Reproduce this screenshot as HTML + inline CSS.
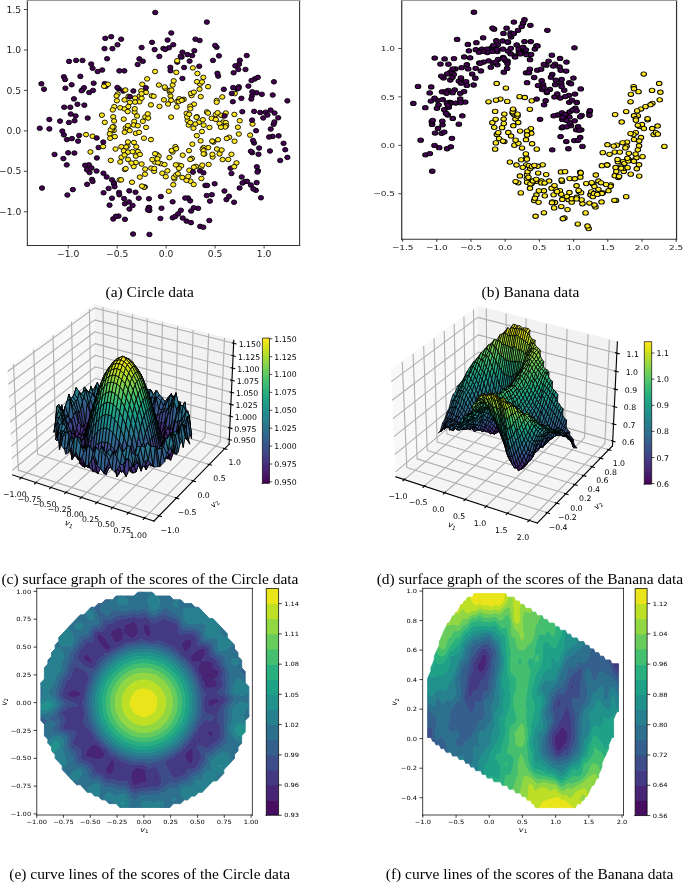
<!DOCTYPE html><html><head><meta charset="utf-8"><style>
html,body{margin:0;padding:0;background:#fff;width:685px;height:882px;overflow:hidden}
.cap{position:absolute;font-family:"Liberation Serif",serif;font-size:15.45px;color:#000;white-space:nowrap;line-height:15.45px}
</style></head><body><div style="position:relative;width:685px;height:882px;filter:blur(0.45px)">
<svg viewBox="0 0 223.85 194.4" preserveAspectRatio="none" style="position:absolute;left:0px;top:0px;width:342px;height:270px;overflow:visible">
<defs>
<style type="text/css">*{stroke-linejoin: round; stroke-linecap: butt}</style>
</defs>
<g id="a_figure_1">
<g id="a_patch_1">
<path d="M0 194.4l223.8 0 0-194.4-223.8 0 0 194.4z" style="fill: none; opacity: 0"/>
</g>
<g id="a_axes_1">
<g id="a_patch_2">
<path d="M17.9 176.7l178.2 0 0-176.3-178.2 0 0 176.3z" style="fill: none"/>
</g>
<g stroke="#000" stroke-width="0.6">
<ellipse cx="78.7" cy="77.6" rx="1.73" ry="1.65" fill="#fde725"/>
<ellipse cx="110.6" cy="34.4" rx="1.73" ry="1.65" fill="#440154"/>
<ellipse cx="82.2" cy="92.2" rx="1.73" ry="1.65" fill="#fde725"/>
<ellipse cx="73.3" cy="129.5" rx="1.73" ry="1.65" fill="#440154"/>
<ellipse cx="60.6" cy="49.1" rx="1.73" ry="1.65" fill="#440154"/>
<ellipse cx="82.5" cy="110.0" rx="1.73" ry="1.65" fill="#fde725"/>
<ellipse cx="81.0" cy="85.8" rx="1.73" ry="1.65" fill="#fde725"/>
<ellipse cx="49.5" cy="83.5" rx="1.73" ry="1.65" fill="#440154"/>
<ellipse cx="93.5" cy="44.1" rx="1.73" ry="1.65" fill="#440154"/>
<ellipse cx="113.4" cy="133.0" rx="1.73" ry="1.65" fill="#fde725"/>
<ellipse cx="172.3" cy="84.9" rx="1.73" ry="1.65" fill="#440154"/>
<ellipse cx="131.0" cy="163.0" rx="1.73" ry="1.65" fill="#440154"/>
<ellipse cx="100.9" cy="123.3" rx="1.73" ry="1.65" fill="#fde725"/>
<ellipse cx="63.9" cy="51.5" rx="1.73" ry="1.65" fill="#440154"/>
<ellipse cx="95.6" cy="91.7" rx="1.73" ry="1.65" fill="#fde725"/>
<ellipse cx="83.5" cy="105.2" rx="1.73" ry="1.65" fill="#fde725"/>
<ellipse cx="139.7" cy="102.3" rx="1.73" ry="1.65" fill="#fde725"/>
<ellipse cx="156.0" cy="50.0" rx="1.73" ry="1.65" fill="#440154"/>
<ellipse cx="122.1" cy="81.6" rx="1.73" ry="1.65" fill="#fde725"/>
<ellipse cx="102.6" cy="111.1" rx="1.73" ry="1.65" fill="#fde725"/>
<ellipse cx="136.3" cy="106.3" rx="1.73" ry="1.65" fill="#fde725"/>
<ellipse cx="150.0" cy="98.8" rx="1.73" ry="1.65" fill="#fde725"/>
<ellipse cx="117.4" cy="71.1" rx="1.73" ry="1.65" fill="#fde725"/>
<ellipse cx="91.3" cy="73.3" rx="1.73" ry="1.65" fill="#fde725"/>
<ellipse cx="81.4" cy="51.0" rx="1.73" ry="1.65" fill="#440154"/>
<ellipse cx="123.5" cy="90.0" rx="1.73" ry="1.65" fill="#fde725"/>
<ellipse cx="125.9" cy="103.8" rx="1.73" ry="1.65" fill="#fde725"/>
<ellipse cx="148.2" cy="143.7" rx="1.73" ry="1.65" fill="#440154"/>
<ellipse cx="54.0" cy="43.5" rx="1.73" ry="1.65" fill="#440154"/>
<ellipse cx="84.1" cy="69.4" rx="1.73" ry="1.65" fill="#fde725"/>
<ellipse cx="136.6" cy="118.4" rx="1.73" ry="1.65" fill="#fde725"/>
<ellipse cx="77.0" cy="67.7" rx="1.73" ry="1.65" fill="#fde725"/>
<ellipse cx="128.2" cy="119.8" rx="1.73" ry="1.65" fill="#fde725"/>
<ellipse cx="86.8" cy="147.9" rx="1.73" ry="1.65" fill="#440154"/>
<ellipse cx="170.3" cy="81.0" rx="1.73" ry="1.65" fill="#440154"/>
<ellipse cx="88.1" cy="80.7" rx="1.73" ry="1.65" fill="#fde725"/>
<ellipse cx="72.5" cy="115.5" rx="1.73" ry="1.65" fill="#fde725"/>
<ellipse cx="106.9" cy="34.9" rx="1.73" ry="1.65" fill="#440154"/>
<ellipse cx="138.7" cy="140.2" rx="1.73" ry="1.65" fill="#440154"/>
<ellipse cx="109.7" cy="28.8" rx="1.73" ry="1.65" fill="#440154"/>
<ellipse cx="90.3" cy="109.1" rx="1.73" ry="1.65" fill="#fde725"/>
<ellipse cx="41.8" cy="55.3" rx="1.73" ry="1.65" fill="#440154"/>
<ellipse cx="128.8" cy="97.7" rx="1.73" ry="1.65" fill="#fde725"/>
<ellipse cx="97.8" cy="168.8" rx="1.73" ry="1.65" fill="#440154"/>
<ellipse cx="146.5" cy="64.3" rx="1.73" ry="1.65" fill="#440154"/>
<ellipse cx="101.2" cy="35.7" rx="1.73" ry="1.65" fill="#440154"/>
<ellipse cx="179.1" cy="89.5" rx="1.73" ry="1.65" fill="#440154"/>
<ellipse cx="178.5" cy="68.4" rx="1.73" ry="1.65" fill="#440154"/>
<ellipse cx="86.4" cy="131.2" rx="1.73" ry="1.65" fill="#fde725"/>
<ellipse cx="155.2" cy="64.0" rx="1.73" ry="1.65" fill="#440154"/>
<ellipse cx="68.9" cy="27.6" rx="1.73" ry="1.65" fill="#440154"/>
<ellipse cx="81.7" cy="146.7" rx="1.73" ry="1.65" fill="#440154"/>
<ellipse cx="43.8" cy="100.5" rx="1.73" ry="1.65" fill="#440154"/>
<ellipse cx="83.8" cy="114.8" rx="1.73" ry="1.65" fill="#fde725"/>
<ellipse cx="113.0" cy="156.8" rx="1.73" ry="1.65" fill="#440154"/>
<ellipse cx="112.1" cy="23.7" rx="1.73" ry="1.65" fill="#440154"/>
<ellipse cx="58.6" cy="124.2" rx="1.73" ry="1.65" fill="#440154"/>
<ellipse cx="158.0" cy="70.8" rx="1.73" ry="1.65" fill="#440154"/>
<ellipse cx="125.1" cy="151.9" rx="1.73" ry="1.65" fill="#440154"/>
<ellipse cx="72.8" cy="26.4" rx="1.73" ry="1.65" fill="#440154"/>
<ellipse cx="133.2" cy="106.3" rx="1.73" ry="1.65" fill="#fde725"/>
<ellipse cx="126.6" cy="92.3" rx="1.73" ry="1.65" fill="#fde725"/>
<ellipse cx="95.6" cy="66.5" rx="1.73" ry="1.65" fill="#fde725"/>
<ellipse cx="131.7" cy="120.3" rx="1.73" ry="1.65" fill="#fde725"/>
<ellipse cx="68.4" cy="35.0" rx="1.73" ry="1.65" fill="#440154"/>
<ellipse cx="143.3" cy="40.2" rx="1.73" ry="1.65" fill="#440154"/>
<ellipse cx="126.9" cy="120.4" rx="1.73" ry="1.65" fill="#fde725"/>
<ellipse cx="122.7" cy="39.3" rx="1.73" ry="1.65" fill="#440154"/>
<ellipse cx="183.4" cy="115.5" rx="1.73" ry="1.65" fill="#440154"/>
<ellipse cx="82.5" cy="105.8" rx="1.73" ry="1.65" fill="#fde725"/>
<ellipse cx="95.1" cy="84.2" rx="1.73" ry="1.65" fill="#fde725"/>
<ellipse cx="98.8" cy="75.5" rx="1.73" ry="1.65" fill="#fde725"/>
<ellipse cx="127.0" cy="75.0" rx="1.73" ry="1.65" fill="#fde725"/>
<ellipse cx="129.2" cy="52.9" rx="1.73" ry="1.65" fill="#fde725"/>
<ellipse cx="108.2" cy="63.6" rx="1.73" ry="1.65" fill="#fde725"/>
<ellipse cx="130.9" cy="60.5" rx="1.73" ry="1.65" fill="#fde725"/>
<ellipse cx="131.4" cy="69.6" rx="1.73" ry="1.65" fill="#fde725"/>
<ellipse cx="91.2" cy="42.4" rx="1.73" ry="1.65" fill="#440154"/>
<ellipse cx="114.2" cy="128.8" rx="1.73" ry="1.65" fill="#fde725"/>
<ellipse cx="132.4" cy="118.9" rx="1.73" ry="1.65" fill="#fde725"/>
<ellipse cx="27.5" cy="135.4" rx="1.73" ry="1.65" fill="#440154"/>
<ellipse cx="73.6" cy="35.0" rx="1.73" ry="1.65" fill="#440154"/>
<ellipse cx="130.2" cy="88.0" rx="1.73" ry="1.65" fill="#fde725"/>
<ellipse cx="97.8" cy="151.5" rx="1.73" ry="1.65" fill="#440154"/>
<ellipse cx="113.0" cy="61.2" rx="1.73" ry="1.65" fill="#fde725"/>
<ellipse cx="70.1" cy="42.3" rx="1.73" ry="1.65" fill="#440154"/>
<ellipse cx="97.3" cy="149.4" rx="1.73" ry="1.65" fill="#440154"/>
<ellipse cx="98.8" cy="100.5" rx="1.73" ry="1.65" fill="#fde725"/>
<ellipse cx="111.6" cy="69.1" rx="1.73" ry="1.65" fill="#fde725"/>
<ellipse cx="113.7" cy="58.2" rx="1.73" ry="1.65" fill="#fde725"/>
<ellipse cx="74.5" cy="93.9" rx="1.73" ry="1.65" fill="#fde725"/>
<ellipse cx="151.5" cy="111.1" rx="1.73" ry="1.65" fill="#fde725"/>
<ellipse cx="76.5" cy="72.5" rx="1.73" ry="1.65" fill="#fde725"/>
<ellipse cx="104.0" cy="61.2" rx="1.73" ry="1.65" fill="#fde725"/>
<ellipse cx="88.9" cy="112.4" rx="1.73" ry="1.65" fill="#fde725"/>
<ellipse cx="87.9" cy="87.4" rx="1.73" ry="1.65" fill="#fde725"/>
<ellipse cx="77.7" cy="63.9" rx="1.73" ry="1.65" fill="#440154"/>
<ellipse cx="111.5" cy="48.5" rx="1.73" ry="1.65" fill="#440154"/>
<ellipse cx="124.7" cy="130.5" rx="1.73" ry="1.65" fill="#fde725"/>
<ellipse cx="173.8" cy="80.8" rx="1.73" ry="1.65" fill="#440154"/>
<ellipse cx="182.4" cy="97.8" rx="1.73" ry="1.65" fill="#440154"/>
<ellipse cx="109.6" cy="123.0" rx="1.73" ry="1.65" fill="#fde725"/>
<ellipse cx="152.6" cy="63.1" rx="1.73" ry="1.65" fill="#440154"/>
<ellipse cx="96.3" cy="56.8" rx="1.73" ry="1.65" fill="#fde725"/>
<ellipse cx="91.4" cy="69.2" rx="1.73" ry="1.65" fill="#fde725"/>
<ellipse cx="135.4" cy="15.9" rx="1.73" ry="1.65" fill="#440154"/>
<ellipse cx="125.4" cy="68.8" rx="1.73" ry="1.65" fill="#fde725"/>
<ellipse cx="160.5" cy="130.7" rx="1.73" ry="1.65" fill="#440154"/>
<ellipse cx="88.4" cy="70.6" rx="1.73" ry="1.65" fill="#fde725"/>
<ellipse cx="64.5" cy="106.2" rx="1.73" ry="1.65" fill="#440154"/>
<ellipse cx="35.7" cy="111.2" rx="1.73" ry="1.65" fill="#440154"/>
<ellipse cx="99.0" cy="121.1" rx="1.73" ry="1.65" fill="#fde725"/>
<ellipse cx="99.3" cy="69.0" rx="1.73" ry="1.65" fill="#fde725"/>
<ellipse cx="168.0" cy="66.8" rx="1.73" ry="1.65" fill="#440154"/>
<ellipse cx="145.7" cy="114.9" rx="1.73" ry="1.65" fill="#fde725"/>
<ellipse cx="135.4" cy="80.6" rx="1.73" ry="1.65" fill="#fde725"/>
<ellipse cx="177.2" cy="92.9" rx="1.73" ry="1.65" fill="#440154"/>
<ellipse cx="158.2" cy="127.4" rx="1.73" ry="1.65" fill="#440154"/>
<ellipse cx="48.8" cy="86.9" rx="1.73" ry="1.65" fill="#440154"/>
<ellipse cx="142.8" cy="54.8" rx="1.73" ry="1.65" fill="#440154"/>
<ellipse cx="140.5" cy="132.3" rx="1.73" ry="1.65" fill="#440154"/>
<ellipse cx="87.1" cy="168.5" rx="1.73" ry="1.65" fill="#440154"/>
<ellipse cx="115.7" cy="77.0" rx="1.73" ry="1.65" fill="#fde725"/>
<ellipse cx="84.6" cy="137.4" rx="1.73" ry="1.65" fill="#440154"/>
<ellipse cx="169.6" cy="106.6" rx="1.73" ry="1.65" fill="#440154"/>
<ellipse cx="176.7" cy="108.7" rx="1.73" ry="1.65" fill="#440154"/>
<ellipse cx="78.3" cy="129.5" rx="1.73" ry="1.65" fill="#fde725"/>
<ellipse cx="135.3" cy="140.8" rx="1.73" ry="1.65" fill="#440154"/>
<ellipse cx="44.6" cy="110.0" rx="1.73" ry="1.65" fill="#440154"/>
<ellipse cx="100.6" cy="69.3" rx="1.73" ry="1.65" fill="#fde725"/>
<ellipse cx="152.4" cy="73.2" rx="1.73" ry="1.65" fill="#440154"/>
<ellipse cx="55.2" cy="75.7" rx="1.73" ry="1.65" fill="#440154"/>
<ellipse cx="149.4" cy="114.8" rx="1.73" ry="1.65" fill="#fde725"/>
<ellipse cx="141.9" cy="72.3" rx="1.73" ry="1.65" fill="#fde725"/>
<ellipse cx="32.3" cy="92.8" rx="1.73" ry="1.65" fill="#440154"/>
<ellipse cx="113.4" cy="32.2" rx="1.73" ry="1.65" fill="#440154"/>
<ellipse cx="122.1" cy="159.2" rx="1.73" ry="1.65" fill="#440154"/>
<ellipse cx="179.3" cy="58.9" rx="1.73" ry="1.65" fill="#440154"/>
<ellipse cx="165.0" cy="68.9" rx="1.73" ry="1.65" fill="#440154"/>
<ellipse cx="145.9" cy="83.4" rx="1.73" ry="1.65" fill="#fde725"/>
<ellipse cx="111.6" cy="50.9" rx="1.73" ry="1.65" fill="#440154"/>
<ellipse cx="133.1" cy="163.6" rx="1.73" ry="1.65" fill="#440154"/>
<ellipse cx="155.7" cy="91.6" rx="1.73" ry="1.65" fill="#fde725"/>
<ellipse cx="69.2" cy="62.1" rx="1.73" ry="1.65" fill="#440154"/>
<ellipse cx="163.7" cy="97.3" rx="1.73" ry="1.65" fill="#fde725"/>
<ellipse cx="136.2" cy="81.4" rx="1.73" ry="1.65" fill="#fde725"/>
<ellipse cx="166.8" cy="56.8" rx="1.73" ry="1.65" fill="#440154"/>
<ellipse cx="164.2" cy="133.2" rx="1.73" ry="1.65" fill="#440154"/>
<ellipse cx="146.0" cy="87.9" rx="1.73" ry="1.65" fill="#fde725"/>
<ellipse cx="105.2" cy="117.8" rx="1.73" ry="1.65" fill="#fde725"/>
<ellipse cx="179.7" cy="81.4" rx="1.73" ry="1.65" fill="#440154"/>
<ellipse cx="42.0" cy="77.2" rx="1.73" ry="1.65" fill="#440154"/>
<ellipse cx="142.3" cy="52.8" rx="1.73" ry="1.65" fill="#440154"/>
<ellipse cx="165.1" cy="66.1" rx="1.73" ry="1.65" fill="#440154"/>
<ellipse cx="143.7" cy="110.8" rx="1.73" ry="1.65" fill="#fde725"/>
<ellipse cx="97.0" cy="85.0" rx="1.73" ry="1.65" fill="#fde725"/>
<ellipse cx="175.1" cy="82.8" rx="1.73" ry="1.65" fill="#440154"/>
<ellipse cx="130.9" cy="123.0" rx="1.73" ry="1.65" fill="#440154"/>
<ellipse cx="67.5" cy="105.5" rx="1.73" ry="1.65" fill="#fde725"/>
<ellipse cx="119.4" cy="56.5" rx="1.73" ry="1.65" fill="#440154"/>
<ellipse cx="27.1" cy="60.3" rx="1.73" ry="1.65" fill="#440154"/>
<ellipse cx="116.0" cy="73.1" rx="1.73" ry="1.65" fill="#fde725"/>
<ellipse cx="92.7" cy="118.1" rx="1.73" ry="1.65" fill="#fde725"/>
<ellipse cx="156.5" cy="46.2" rx="1.73" ry="1.65" fill="#440154"/>
<ellipse cx="113.0" cy="109.5" rx="1.73" ry="1.65" fill="#fde725"/>
<ellipse cx="142.0" cy="107.3" rx="1.73" ry="1.65" fill="#fde725"/>
<ellipse cx="156.3" cy="62.5" rx="1.73" ry="1.65" fill="#440154"/>
<ellipse cx="171.4" cy="67.9" rx="1.73" ry="1.65" fill="#440154"/>
<ellipse cx="117.0" cy="118.9" rx="1.73" ry="1.65" fill="#fde725"/>
<ellipse cx="28.8" cy="64.2" rx="1.73" ry="1.65" fill="#440154"/>
<ellipse cx="168.8" cy="55.7" rx="1.73" ry="1.65" fill="#440154"/>
<ellipse cx="94.8" cy="134.6" rx="1.73" ry="1.65" fill="#440154"/>
<ellipse cx="114.8" cy="105.6" rx="1.73" ry="1.65" fill="#fde725"/>
<ellipse cx="58.4" cy="66.6" rx="1.73" ry="1.65" fill="#440154"/>
<ellipse cx="54.0" cy="64.6" rx="1.73" ry="1.65" fill="#440154"/>
<ellipse cx="77.6" cy="155.6" rx="1.73" ry="1.65" fill="#440154"/>
<ellipse cx="60.6" cy="98.1" rx="1.73" ry="1.65" fill="#fde725"/>
<ellipse cx="105.7" cy="149.9" rx="1.73" ry="1.65" fill="#440154"/>
<ellipse cx="60.2" cy="129.2" rx="1.73" ry="1.65" fill="#440154"/>
<ellipse cx="68.6" cy="88.1" rx="1.73" ry="1.65" fill="#fde725"/>
<ellipse cx="73.2" cy="93.6" rx="1.73" ry="1.65" fill="#fde725"/>
<ellipse cx="114.7" cy="155.8" rx="1.73" ry="1.65" fill="#440154"/>
<ellipse cx="88.9" cy="117.0" rx="1.73" ry="1.65" fill="#fde725"/>
<ellipse cx="122.8" cy="86.7" rx="1.73" ry="1.65" fill="#fde725"/>
<ellipse cx="126.8" cy="132.8" rx="1.73" ry="1.65" fill="#fde725"/>
<ellipse cx="63.2" cy="123.1" rx="1.73" ry="1.65" fill="#440154"/>
<ellipse cx="83.6" cy="92.5" rx="1.73" ry="1.65" fill="#fde725"/>
<ellipse cx="92.7" cy="34.2" rx="1.73" ry="1.65" fill="#440154"/>
<ellipse cx="153.2" cy="145.6" rx="1.73" ry="1.65" fill="#440154"/>
<ellipse cx="77.9" cy="138.6" rx="1.73" ry="1.65" fill="#440154"/>
<ellipse cx="148.4" cy="99.7" rx="1.73" ry="1.65" fill="#fde725"/>
<ellipse cx="72.4" cy="93.5" rx="1.73" ry="1.65" fill="#fde725"/>
<ellipse cx="81.0" cy="108.6" rx="1.73" ry="1.65" fill="#fde725"/>
<ellipse cx="124.5" cy="76.5" rx="1.73" ry="1.65" fill="#fde725"/>
<ellipse cx="42.8" cy="63.5" rx="1.73" ry="1.65" fill="#440154"/>
<ellipse cx="166.3" cy="102.9" rx="1.73" ry="1.65" fill="#440154"/>
<ellipse cx="56.9" cy="122.2" rx="1.73" ry="1.65" fill="#440154"/>
<ellipse cx="87.3" cy="65.5" rx="1.73" ry="1.65" fill="#440154"/>
<ellipse cx="59.9" cy="120.9" rx="1.73" ry="1.65" fill="#440154"/>
<ellipse cx="71.8" cy="96.4" rx="1.73" ry="1.65" fill="#fde725"/>
<ellipse cx="122.0" cy="129.8" rx="1.73" ry="1.65" fill="#fde725"/>
<ellipse cx="90.1" cy="46.4" rx="1.73" ry="1.65" fill="#440154"/>
<ellipse cx="168.1" cy="120.1" rx="1.73" ry="1.65" fill="#440154"/>
<ellipse cx="60.6" cy="130.6" rx="1.73" ry="1.65" fill="#440154"/>
<ellipse cx="74.6" cy="131.6" rx="1.73" ry="1.65" fill="#440154"/>
<ellipse cx="137.0" cy="158.8" rx="1.73" ry="1.65" fill="#440154"/>
<ellipse cx="186.7" cy="107.8" rx="1.73" ry="1.65" fill="#440154"/>
<ellipse cx="85.1" cy="69.6" rx="1.73" ry="1.65" fill="#440154"/>
<ellipse cx="132.6" cy="107.5" rx="1.73" ry="1.65" fill="#fde725"/>
<ellipse cx="74.1" cy="84.1" rx="1.73" ry="1.65" fill="#fde725"/>
<ellipse cx="132.8" cy="86.2" rx="1.73" ry="1.65" fill="#fde725"/>
<ellipse cx="46.0" cy="77.2" rx="1.73" ry="1.65" fill="#440154"/>
<ellipse cx="122.5" cy="84.2" rx="1.73" ry="1.65" fill="#fde725"/>
<ellipse cx="112.0" cy="72.2" rx="1.73" ry="1.65" fill="#fde725"/>
<ellipse cx="165.3" cy="89.3" rx="1.73" ry="1.65" fill="#fde725"/>
<ellipse cx="88.9" cy="96.0" rx="1.73" ry="1.65" fill="#fde725"/>
<ellipse cx="83.7" cy="102.2" rx="1.73" ry="1.65" fill="#fde725"/>
<ellipse cx="168.9" cy="123.0" rx="1.73" ry="1.65" fill="#440154"/>
<ellipse cx="81.6" cy="78.4" rx="1.73" ry="1.65" fill="#fde725"/>
<ellipse cx="151.5" cy="124.9" rx="1.73" ry="1.65" fill="#440154"/>
<ellipse cx="79.4" cy="105.6" rx="1.73" ry="1.65" fill="#fde725"/>
<ellipse cx="141.8" cy="73.6" rx="1.73" ry="1.65" fill="#fde725"/>
<ellipse cx="161.5" cy="40.0" rx="1.73" ry="1.65" fill="#440154"/>
<ellipse cx="124.5" cy="144.6" rx="1.73" ry="1.65" fill="#440154"/>
<ellipse cx="58.2" cy="118.7" rx="1.73" ry="1.65" fill="#440154"/>
<ellipse cx="74.7" cy="87.1" rx="1.73" ry="1.65" fill="#fde725"/>
<ellipse cx="167.6" cy="94.1" rx="1.73" ry="1.65" fill="#440154"/>
<ellipse cx="103.9" cy="112.4" rx="1.73" ry="1.65" fill="#fde725"/>
<ellipse cx="125.0" cy="67.2" rx="1.73" ry="1.65" fill="#fde725"/>
<ellipse cx="116.0" cy="44.7" rx="1.73" ry="1.65" fill="#440154"/>
<ellipse cx="48.4" cy="71.2" rx="1.73" ry="1.65" fill="#440154"/>
<ellipse cx="68.5" cy="60.2" rx="1.73" ry="1.65" fill="#440154"/>
<ellipse cx="123.9" cy="122.6" rx="1.73" ry="1.65" fill="#fde725"/>
<ellipse cx="164.5" cy="71.3" rx="1.73" ry="1.65" fill="#440154"/>
<ellipse cx="84.9" cy="94.0" rx="1.73" ry="1.65" fill="#fde725"/>
<ellipse cx="74.8" cy="76.8" rx="1.73" ry="1.65" fill="#fde725"/>
<ellipse cx="92.4" cy="65.4" rx="1.73" ry="1.65" fill="#fde725"/>
<ellipse cx="74.6" cy="132.5" rx="1.73" ry="1.65" fill="#440154"/>
<ellipse cx="69.8" cy="127.4" rx="1.73" ry="1.65" fill="#440154"/>
<ellipse cx="84.7" cy="150.5" rx="1.73" ry="1.65" fill="#440154"/>
<ellipse cx="79.3" cy="129.5" rx="1.73" ry="1.65" fill="#fde725"/>
<ellipse cx="97.7" cy="149.5" rx="1.73" ry="1.65" fill="#440154"/>
<ellipse cx="113.8" cy="127.8" rx="1.73" ry="1.65" fill="#fde725"/>
<ellipse cx="179.6" cy="87.8" rx="1.73" ry="1.65" fill="#440154"/>
<ellipse cx="83.8" cy="109.5" rx="1.73" ry="1.65" fill="#fde725"/>
<ellipse cx="80.7" cy="65.5" rx="1.73" ry="1.65" fill="#440154"/>
<ellipse cx="76.9" cy="32.2" rx="1.73" ry="1.65" fill="#440154"/>
<ellipse cx="141.8" cy="34.0" rx="1.73" ry="1.65" fill="#440154"/>
<ellipse cx="111.1" cy="66.2" rx="1.73" ry="1.65" fill="#fde725"/>
<ellipse cx="75.0" cy="134.4" rx="1.73" ry="1.65" fill="#440154"/>
<ellipse cx="133.8" cy="110.9" rx="1.73" ry="1.65" fill="#fde725"/>
<ellipse cx="126.9" cy="66.4" rx="1.73" ry="1.65" fill="#fde725"/>
<ellipse cx="139.2" cy="113.0" rx="1.73" ry="1.65" fill="#fde725"/>
<ellipse cx="125.0" cy="160.3" rx="1.73" ry="1.65" fill="#440154"/>
<ellipse cx="123.8" cy="82.3" rx="1.73" ry="1.65" fill="#fde725"/>
<ellipse cx="95.0" cy="121.7" rx="1.73" ry="1.65" fill="#fde725"/>
<ellipse cx="57.0" cy="132.7" rx="1.73" ry="1.65" fill="#440154"/>
<ellipse cx="59.2" cy="109.4" rx="1.73" ry="1.65" fill="#fde725"/>
<ellipse cx="44.1" cy="140.4" rx="1.73" ry="1.65" fill="#440154"/>
<ellipse cx="123.7" cy="108.5" rx="1.73" ry="1.65" fill="#fde725"/>
<ellipse cx="120.3" cy="71.5" rx="1.73" ry="1.65" fill="#fde725"/>
<ellipse cx="41.8" cy="97.1" rx="1.73" ry="1.65" fill="#440154"/>
<ellipse cx="83.6" cy="80.3" rx="1.73" ry="1.65" fill="#fde725"/>
<ellipse cx="52.6" cy="55.0" rx="1.73" ry="1.65" fill="#440154"/>
<ellipse cx="63.4" cy="113.7" rx="1.73" ry="1.65" fill="#440154"/>
<ellipse cx="178.5" cy="98.2" rx="1.73" ry="1.65" fill="#440154"/>
<ellipse cx="125.4" cy="114.2" rx="1.73" ry="1.65" fill="#fde725"/>
<ellipse cx="61.3" cy="59.9" rx="1.73" ry="1.65" fill="#440154"/>
<ellipse cx="87.5" cy="119.9" rx="1.73" ry="1.65" fill="#fde725"/>
<ellipse cx="26.0" cy="92.3" rx="1.73" ry="1.65" fill="#440154"/>
<ellipse cx="105.0" cy="157.3" rx="1.73" ry="1.65" fill="#440154"/>
<ellipse cx="129.7" cy="150.0" rx="1.73" ry="1.65" fill="#440154"/>
<ellipse cx="185.6" cy="103.2" rx="1.73" ry="1.65" fill="#440154"/>
<ellipse cx="127.8" cy="89.3" rx="1.73" ry="1.65" fill="#fde725"/>
<ellipse cx="133.1" cy="55.7" rx="1.73" ry="1.65" fill="#fde725"/>
<ellipse cx="91.0" cy="95.3" rx="1.73" ry="1.65" fill="#fde725"/>
<ellipse cx="87.7" cy="102.6" rx="1.73" ry="1.65" fill="#fde725"/>
<ellipse cx="56.3" cy="96.9" rx="1.73" ry="1.65" fill="#fde725"/>
<ellipse cx="143.7" cy="88.9" rx="1.73" ry="1.65" fill="#fde725"/>
<ellipse cx="46.3" cy="82.1" rx="1.73" ry="1.65" fill="#440154"/>
<ellipse cx="128.9" cy="58.8" rx="1.73" ry="1.65" fill="#fde725"/>
<ellipse cx="133.2" cy="124.4" rx="1.73" ry="1.65" fill="#440154"/>
<ellipse cx="91.6" cy="111.2" rx="1.73" ry="1.65" fill="#fde725"/>
<ellipse cx="156.8" cy="135.3" rx="1.73" ry="1.65" fill="#440154"/>
<ellipse cx="51.1" cy="101.6" rx="1.73" ry="1.65" fill="#440154"/>
<ellipse cx="94.9" cy="125.4" rx="1.73" ry="1.65" fill="#fde725"/>
<ellipse cx="111.2" cy="65.1" rx="1.73" ry="1.65" fill="#fde725"/>
<ellipse cx="106.2" cy="124.7" rx="1.73" ry="1.65" fill="#fde725"/>
<ellipse cx="79.5" cy="113.2" rx="1.73" ry="1.65" fill="#fde725"/>
<ellipse cx="107.3" cy="71.9" rx="1.73" ry="1.65" fill="#fde725"/>
<ellipse cx="85.0" cy="73.7" rx="1.73" ry="1.65" fill="#fde725"/>
<ellipse cx="107.8" cy="62.6" rx="1.73" ry="1.65" fill="#fde725"/>
<ellipse cx="78.7" cy="116.6" rx="1.73" ry="1.65" fill="#fde725"/>
<ellipse cx="82.1" cy="64.8" rx="1.73" ry="1.65" fill="#fde725"/>
<ellipse cx="50.7" cy="75.1" rx="1.73" ry="1.65" fill="#440154"/>
<ellipse cx="97.5" cy="143.1" rx="1.73" ry="1.65" fill="#440154"/>
<ellipse cx="112.2" cy="64.9" rx="1.73" ry="1.65" fill="#fde725"/>
<ellipse cx="115.3" cy="126.0" rx="1.73" ry="1.65" fill="#fde725"/>
<ellipse cx="145.1" cy="108.0" rx="1.73" ry="1.65" fill="#fde725"/>
<ellipse cx="133.2" cy="108.5" rx="1.73" ry="1.65" fill="#fde725"/>
<ellipse cx="101.5" cy="110.7" rx="1.73" ry="1.65" fill="#fde725"/>
<ellipse cx="168.0" cy="131.5" rx="1.73" ry="1.65" fill="#440154"/>
<ellipse cx="116.0" cy="43.7" rx="1.73" ry="1.65" fill="#fde725"/>
<ellipse cx="74.1" cy="157.6" rx="1.73" ry="1.65" fill="#440154"/>
<ellipse cx="48.7" cy="110.2" rx="1.73" ry="1.65" fill="#440154"/>
<ellipse cx="123.1" cy="142.6" rx="1.73" ry="1.65" fill="#440154"/>
<ellipse cx="153.4" cy="82.4" rx="1.73" ry="1.65" fill="#fde725"/>
<ellipse cx="165.1" cy="109.9" rx="1.73" ry="1.65" fill="#440154"/>
<ellipse cx="32.3" cy="86.0" rx="1.73" ry="1.65" fill="#440154"/>
<ellipse cx="39.3" cy="87.2" rx="1.73" ry="1.65" fill="#440154"/>
<ellipse cx="88.2" cy="78.3" rx="1.73" ry="1.65" fill="#fde725"/>
<ellipse cx="150.9" cy="121.1" rx="1.73" ry="1.65" fill="#440154"/>
<ellipse cx="81.5" cy="111.6" rx="1.73" ry="1.65" fill="#fde725"/>
<ellipse cx="86.8" cy="109.2" rx="1.73" ry="1.65" fill="#fde725"/>
<ellipse cx="45.1" cy="88.2" rx="1.73" ry="1.65" fill="#440154"/>
<ellipse cx="130.6" cy="64.2" rx="1.73" ry="1.65" fill="#fde725"/>
<ellipse cx="94.2" cy="99.5" rx="1.73" ry="1.65" fill="#fde725"/>
<ellipse cx="55.0" cy="63.2" rx="1.73" ry="1.65" fill="#440154"/>
<ellipse cx="87.5" cy="90.0" rx="1.73" ry="1.65" fill="#fde725"/>
<ellipse cx="92.7" cy="70.7" rx="1.73" ry="1.65" fill="#fde725"/>
<ellipse cx="41.5" cy="114.2" rx="1.73" ry="1.65" fill="#440154"/>
<ellipse cx="123.2" cy="127.0" rx="1.73" ry="1.65" fill="#fde725"/>
<ellipse cx="139.4" cy="43.5" rx="1.73" ry="1.65" fill="#440154"/>
<ellipse cx="125.5" cy="114.0" rx="1.73" ry="1.65" fill="#fde725"/>
<ellipse cx="99.5" cy="30.5" rx="1.73" ry="1.65" fill="#440154"/>
<ellipse cx="145.5" cy="69.8" rx="1.73" ry="1.65" fill="#fde725"/>
<ellipse cx="66.9" cy="50.4" rx="1.73" ry="1.65" fill="#440154"/>
<ellipse cx="169.2" cy="111.1" rx="1.73" ry="1.65" fill="#440154"/>
<ellipse cx="96.8" cy="151.1" rx="1.73" ry="1.65" fill="#440154"/>
<ellipse cx="75.2" cy="98.4" rx="1.73" ry="1.65" fill="#fde725"/>
<ellipse cx="78.1" cy="140.2" rx="1.73" ry="1.65" fill="#440154"/>
<ellipse cx="158.6" cy="80.4" rx="1.73" ry="1.65" fill="#440154"/>
<ellipse cx="157.0" cy="43.4" rx="1.73" ry="1.65" fill="#440154"/>
<ellipse cx="162.6" cy="62.0" rx="1.73" ry="1.65" fill="#440154"/>
<ellipse cx="88.7" cy="138.4" rx="1.73" ry="1.65" fill="#440154"/>
<ellipse cx="43.7" cy="118.7" rx="1.73" ry="1.65" fill="#440154"/>
<ellipse cx="101.3" cy="116.6" rx="1.73" ry="1.65" fill="#fde725"/>
<ellipse cx="70.7" cy="60.7" rx="1.73" ry="1.65" fill="#fde725"/>
<ellipse cx="167.5" cy="137.0" rx="1.73" ry="1.65" fill="#440154"/>
<ellipse cx="60.9" cy="65.1" rx="1.73" ry="1.65" fill="#440154"/>
<ellipse cx="127.9" cy="28.2" rx="1.73" ry="1.65" fill="#440154"/>
<ellipse cx="165.6" cy="101.1" rx="1.73" ry="1.65" fill="#440154"/>
<ellipse cx="142.7" cy="100.6" rx="1.73" ry="1.65" fill="#fde725"/>
<ellipse cx="72.1" cy="99.5" rx="1.73" ry="1.65" fill="#fde725"/>
<ellipse cx="75.8" cy="155.8" rx="1.73" ry="1.65" fill="#440154"/>
<ellipse cx="152.9" cy="52.4" rx="1.73" ry="1.65" fill="#440154"/>
<ellipse cx="133.3" cy="90.1" rx="1.73" ry="1.65" fill="#fde725"/>
<ellipse cx="99.7" cy="114.9" rx="1.73" ry="1.65" fill="#fde725"/>
<ellipse cx="126.3" cy="123.9" rx="1.73" ry="1.65" fill="#440154"/>
<ellipse cx="119.3" cy="71.9" rx="1.73" ry="1.65" fill="#fde725"/>
<ellipse cx="139.1" cy="101.7" rx="1.73" ry="1.65" fill="#fde725"/>
<ellipse cx="86.0" cy="117.4" rx="1.73" ry="1.65" fill="#fde725"/>
<ellipse cx="166.3" cy="80.2" rx="1.73" ry="1.65" fill="#440154"/>
<ellipse cx="138.9" cy="101.6" rx="1.73" ry="1.65" fill="#fde725"/>
<ellipse cx="103.4" cy="117.1" rx="1.73" ry="1.65" fill="#fde725"/>
<ellipse cx="42.6" cy="57.2" rx="1.73" ry="1.65" fill="#440154"/>
<ellipse cx="165.8" cy="136.0" rx="1.73" ry="1.65" fill="#440154"/>
<ellipse cx="110.5" cy="137.7" rx="1.73" ry="1.65" fill="#fde725"/>
<ellipse cx="149.9" cy="141.3" rx="1.73" ry="1.65" fill="#440154"/>
<ellipse cx="81.8" cy="157.9" rx="1.73" ry="1.65" fill="#440154"/>
<ellipse cx="49.8" cy="43.5" rx="1.73" ry="1.65" fill="#440154"/>
<ellipse cx="136.2" cy="62.4" rx="1.73" ry="1.65" fill="#fde725"/>
<ellipse cx="158.7" cy="131.7" rx="1.73" ry="1.65" fill="#440154"/>
<ellipse cx="108.1" cy="35.6" rx="1.73" ry="1.65" fill="#440154"/>
<ellipse cx="118.9" cy="41.1" rx="1.73" ry="1.65" fill="#440154"/>
<ellipse cx="164.6" cy="58.0" rx="1.73" ry="1.65" fill="#440154"/>
<ellipse cx="147.8" cy="81.4" rx="1.73" ry="1.65" fill="#fde725"/>
<ellipse cx="84.0" cy="76.7" rx="1.73" ry="1.65" fill="#fde725"/>
<ellipse cx="137.4" cy="144.8" rx="1.73" ry="1.65" fill="#440154"/>
<ellipse cx="116.5" cy="125.1" rx="1.73" ry="1.65" fill="#fde725"/>
<ellipse cx="160.7" cy="50.0" rx="1.73" ry="1.65" fill="#440154"/>
<ellipse cx="112.3" cy="108.4" rx="1.73" ry="1.65" fill="#fde725"/>
<ellipse cx="168.5" cy="123.8" rx="1.73" ry="1.65" fill="#440154"/>
<ellipse cx="141.2" cy="82.4" rx="1.73" ry="1.65" fill="#fde725"/>
<ellipse cx="132.2" cy="59.0" rx="1.73" ry="1.65" fill="#fde725"/>
<ellipse cx="90.8" cy="142.7" rx="1.73" ry="1.65" fill="#440154"/>
<ellipse cx="119.6" cy="111.7" rx="1.73" ry="1.65" fill="#fde725"/>
<ellipse cx="47.1" cy="99.8" rx="1.73" ry="1.65" fill="#440154"/>
<ellipse cx="125.8" cy="40.0" rx="1.73" ry="1.65" fill="#440154"/>
<ellipse cx="63.3" cy="99.3" rx="1.73" ry="1.65" fill="#440154"/>
<ellipse cx="67.6" cy="102.3" rx="1.73" ry="1.65" fill="#440154"/>
<ellipse cx="131.8" cy="128.5" rx="1.73" ry="1.65" fill="#fde725"/>
<ellipse cx="177.1" cy="79.3" rx="1.73" ry="1.65" fill="#440154"/>
<ellipse cx="92.7" cy="67.5" rx="1.73" ry="1.65" fill="#fde725"/>
<ellipse cx="115.3" cy="107.1" rx="1.73" ry="1.65" fill="#fde725"/>
<ellipse cx="101.6" cy="9.0" rx="1.73" ry="1.65" fill="#440154"/>
<ellipse cx="117.0" cy="73.2" rx="1.73" ry="1.65" fill="#fde725"/>
<ellipse cx="165.0" cy="86.5" rx="1.73" ry="1.65" fill="#440154"/>
<ellipse cx="67.8" cy="138.8" rx="1.73" ry="1.65" fill="#440154"/>
<ellipse cx="154.0" cy="47.4" rx="1.73" ry="1.65" fill="#440154"/>
<ellipse cx="90.2" cy="90.5" rx="1.73" ry="1.65" fill="#fde725"/>
<ellipse cx="131.3" cy="101.4" rx="1.73" ry="1.65" fill="#fde725"/>
<ellipse cx="93.5" cy="87.3" rx="1.73" ry="1.65" fill="#fde725"/>
<ellipse cx="146.9" cy="137.5" rx="1.73" ry="1.65" fill="#440154"/>
<ellipse cx="147.8" cy="88.3" rx="1.73" ry="1.65" fill="#fde725"/>
<ellipse cx="118.6" cy="119.4" rx="1.73" ry="1.65" fill="#fde725"/>
<ellipse cx="94.2" cy="134.8" rx="1.73" ry="1.65" fill="#fde725"/>
<ellipse cx="83.8" cy="90.4" rx="1.73" ry="1.65" fill="#fde725"/>
<ellipse cx="164.2" cy="108.9" rx="1.73" ry="1.65" fill="#440154"/>
<ellipse cx="134.4" cy="133.5" rx="1.73" ry="1.65" fill="#440154"/>
<ellipse cx="161.7" cy="130.6" rx="1.73" ry="1.65" fill="#440154"/>
<ellipse cx="124.6" cy="88.2" rx="1.73" ry="1.65" fill="#fde725"/>
<ellipse cx="117.1" cy="121.2" rx="1.73" ry="1.65" fill="#fde725"/>
<ellipse cx="132.2" cy="94.7" rx="1.73" ry="1.65" fill="#fde725"/>
<ellipse cx="154.8" cy="117.3" rx="1.73" ry="1.65" fill="#fde725"/>
<ellipse cx="156.3" cy="96.5" rx="1.73" ry="1.65" fill="#fde725"/>
<ellipse cx="118.9" cy="72.2" rx="1.73" ry="1.65" fill="#fde725"/>
<ellipse cx="74.4" cy="91.3" rx="1.73" ry="1.65" fill="#fde725"/>
<ellipse cx="153.7" cy="67.4" rx="1.73" ry="1.65" fill="#fde725"/>
<ellipse cx="116.6" cy="154.0" rx="1.73" ry="1.65" fill="#440154"/>
<ellipse cx="73.3" cy="142.7" rx="1.73" ry="1.65" fill="#440154"/>
<ellipse cx="120.5" cy="48.6" rx="1.73" ry="1.65" fill="#440154"/>
<ellipse cx="170.8" cy="142.4" rx="1.73" ry="1.65" fill="#440154"/>
<ellipse cx="81.7" cy="122.0" rx="1.73" ry="1.65" fill="#fde725"/>
<ellipse cx="118.4" cy="151.4" rx="1.73" ry="1.65" fill="#440154"/>
<ellipse cx="104.4" cy="76.6" rx="1.73" ry="1.65" fill="#fde725"/>
<ellipse cx="153.5" cy="101.7" rx="1.73" ry="1.65" fill="#fde725"/>
<ellipse cx="57.4" cy="85.0" rx="1.73" ry="1.65" fill="#440154"/>
<ellipse cx="130.7" cy="29.1" rx="1.73" ry="1.65" fill="#440154"/>
<ellipse cx="89.2" cy="105.7" rx="1.73" ry="1.65" fill="#fde725"/>
<ellipse cx="188.1" cy="72.6" rx="1.73" ry="1.65" fill="#440154"/>
<ellipse cx="108.5" cy="127.2" rx="1.73" ry="1.65" fill="#fde725"/>
<ellipse cx="139.0" cy="111.1" rx="1.73" ry="1.65" fill="#fde725"/>
<ellipse cx="124.1" cy="44.0" rx="1.73" ry="1.65" fill="#440154"/>
<ellipse cx="110.9" cy="113.5" rx="1.73" ry="1.65" fill="#fde725"/>
<ellipse cx="76.8" cy="63.0" rx="1.73" ry="1.65" fill="#440154"/>
<ellipse cx="121.2" cy="142.6" rx="1.73" ry="1.65" fill="#440154"/>
<ellipse cx="130.4" cy="47.7" rx="1.73" ry="1.65" fill="#440154"/>
<ellipse cx="128.9" cy="84.1" rx="1.73" ry="1.65" fill="#fde725"/>
<ellipse cx="101.0" cy="121.3" rx="1.73" ry="1.65" fill="#fde725"/>
<ellipse cx="73.7" cy="91.4" rx="1.73" ry="1.65" fill="#fde725"/>
<ellipse cx="59.7" cy="46.1" rx="1.73" ry="1.65" fill="#440154"/>
<ellipse cx="96.7" cy="82.0" rx="1.73" ry="1.65" fill="#fde725"/>
<ellipse cx="133.2" cy="110.8" rx="1.73" ry="1.65" fill="#fde725"/>
<ellipse cx="127.2" cy="36.5" rx="1.73" ry="1.65" fill="#440154"/>
<ellipse cx="81.5" cy="71.9" rx="1.73" ry="1.65" fill="#fde725"/>
<ellipse cx="144.8" cy="83.0" rx="1.73" ry="1.65" fill="#fde725"/>
<ellipse cx="176.1" cy="98.6" rx="1.73" ry="1.65" fill="#440154"/>
<ellipse cx="151.7" cy="67.3" rx="1.73" ry="1.65" fill="#440154"/>
<ellipse cx="110.0" cy="74.9" rx="1.73" ry="1.65" fill="#fde725"/>
<ellipse cx="78.1" cy="51.0" rx="1.73" ry="1.65" fill="#440154"/>
<ellipse cx="75.6" cy="107.3" rx="1.73" ry="1.65" fill="#fde725"/>
<ellipse cx="138.5" cy="85.2" rx="1.73" ry="1.65" fill="#fde725"/>
<ellipse cx="84.4" cy="145.4" rx="1.73" ry="1.65" fill="#440154"/>
<ellipse cx="93.1" cy="60.7" rx="1.73" ry="1.65" fill="#fde725"/>
<ellipse cx="137.1" cy="91.8" rx="1.73" ry="1.65" fill="#fde725"/>
<ellipse cx="55.7" cy="119.0" rx="1.73" ry="1.65" fill="#440154"/>
<ellipse cx="124.6" cy="78.3" rx="1.73" ry="1.65" fill="#fde725"/>
<ellipse cx="148.1" cy="90.5" rx="1.73" ry="1.65" fill="#fde725"/>
<ellipse cx="112.0" cy="84.3" rx="1.73" ry="1.65" fill="#fde725"/>
<ellipse cx="182.1" cy="84.8" rx="1.73" ry="1.65" fill="#440154"/>
<ellipse cx="119.4" cy="37.6" rx="1.73" ry="1.65" fill="#440154"/>
<ellipse cx="66.7" cy="82.9" rx="1.73" ry="1.65" fill="#fde725"/>
<ellipse cx="140.8" cy="32.7" rx="1.73" ry="1.65" fill="#440154"/>
<ellipse cx="153.3" cy="120.0" rx="1.73" ry="1.65" fill="#fde725"/>
<ellipse cx="71.7" cy="147.7" rx="1.73" ry="1.65" fill="#440154"/>
<ellipse cx="91.5" cy="127.5" rx="1.73" ry="1.65" fill="#fde725"/>
<ellipse cx="126.8" cy="149.6" rx="1.73" ry="1.65" fill="#440154"/>
<ellipse cx="142.4" cy="81.2" rx="1.73" ry="1.65" fill="#fde725"/>
<ellipse cx="105.3" cy="141.5" rx="1.73" ry="1.65" fill="#440154"/>
<ellipse cx="81.2" cy="143.0" rx="1.73" ry="1.65" fill="#440154"/>
<ellipse cx="104.3" cy="40.6" rx="1.73" ry="1.65" fill="#440154"/>
<ellipse cx="118.2" cy="40.6" rx="1.73" ry="1.65" fill="#440154"/>
<ellipse cx="89.7" cy="83.5" rx="1.73" ry="1.65" fill="#fde725"/>
<ellipse cx="188.1" cy="113.3" rx="1.73" ry="1.65" fill="#440154"/>
<ellipse cx="141.3" cy="86.0" rx="1.73" ry="1.65" fill="#fde725"/>
<ellipse cx="156.2" cy="63.5" rx="1.73" ry="1.65" fill="#440154"/>
<ellipse cx="101.5" cy="51.5" rx="1.73" ry="1.65" fill="#fde725"/>
<ellipse cx="115.1" cy="118.7" rx="1.73" ry="1.65" fill="#fde725"/>
<ellipse cx="71.1" cy="135.7" rx="1.73" ry="1.65" fill="#440154"/>
<ellipse cx="128.6" cy="84.4" rx="1.73" ry="1.65" fill="#fde725"/>
<ellipse cx="107.7" cy="118.5" rx="1.73" ry="1.65" fill="#fde725"/>
<ellipse cx="113.0" cy="145.3" rx="1.73" ry="1.65" fill="#440154"/>
<ellipse cx="82.3" cy="121.4" rx="1.73" ry="1.65" fill="#fde725"/>
<ellipse cx="126.2" cy="48.9" rx="1.73" ry="1.65" fill="#fde725"/>
<ellipse cx="103.0" cy="114.3" rx="1.73" ry="1.65" fill="#fde725"/>
<ellipse cx="76.3" cy="69.1" rx="1.73" ry="1.65" fill="#fde725"/>
<ellipse cx="147.4" cy="91.4" rx="1.73" ry="1.65" fill="#fde725"/>
<ellipse cx="115.4" cy="52.1" rx="1.73" ry="1.65" fill="#fde725"/>
<ellipse cx="47.7" cy="136.5" rx="1.73" ry="1.65" fill="#440154"/>
<ellipse cx="51.8" cy="97.5" rx="1.73" ry="1.65" fill="#440154"/>
<ellipse cx="67.7" cy="124.7" rx="1.73" ry="1.65" fill="#440154"/>
<ellipse cx="73.8" cy="79.1" rx="1.73" ry="1.65" fill="#fde725"/>
<ellipse cx="46.9" cy="61.0" rx="1.73" ry="1.65" fill="#440154"/>
<ellipse cx="81.6" cy="95.2" rx="1.73" ry="1.65" fill="#fde725"/>
<ellipse cx="95.5" cy="63.2" rx="1.73" ry="1.65" fill="#440154"/>
<ellipse cx="119.3" cy="127.8" rx="1.73" ry="1.65" fill="#fde725"/>
<ellipse cx="88.4" cy="73.5" rx="1.73" ry="1.65" fill="#fde725"/>
<ellipse cx="135.6" cy="133.5" rx="1.73" ry="1.65" fill="#440154"/>
<ellipse cx="124.5" cy="114.8" rx="1.73" ry="1.65" fill="#fde725"/>
<ellipse cx="40.8" cy="94.4" rx="1.73" ry="1.65" fill="#440154"/>
<ellipse cx="156.9" cy="86.9" rx="1.73" ry="1.65" fill="#fde725"/>
<ellipse cx="147.0" cy="83.4" rx="1.73" ry="1.65" fill="#440154"/>
<ellipse cx="119.6" cy="157.0" rx="1.73" ry="1.65" fill="#440154"/>
<ellipse cx="79.3" cy="28.2" rx="1.73" ry="1.65" fill="#440154"/>
<ellipse cx="53.4" cy="65.3" rx="1.73" ry="1.65" fill="#440154"/>
<ellipse cx="144.6" cy="91.6" rx="1.73" ry="1.65" fill="#fde725"/>
<ellipse cx="68.1" cy="62.1" rx="1.73" ry="1.65" fill="#fde725"/>
<ellipse cx="92.9" cy="134.0" rx="1.73" ry="1.65" fill="#fde725"/>
<ellipse cx="45.2" cy="44.2" rx="1.73" ry="1.65" fill="#440154"/>
</g>
<g id="a_matplotlib.axis_1">
<g id="a_xtick_1">
<g id="a_line2d_1">
<defs>
<path id="a_mfd354b9443" d="M0 0l0 2.2" style="stroke: #333333; stroke-width: 0.6"/>
</defs>
<g>
<use href="#a_mfd354b9443" x="44.64" y="176.69" style="fill: #333333; stroke: #333333; stroke-width: 0.6"/>
</g>
</g>
<g id="a_text_1">
<text style="font-size: 6px; font-family: 'DejaVu Sans', sans-serif; text-anchor: middle; fill: #222222" x="44.64" y="185.25" transform="rotate(-0 44.64 185.25)">−1.0</text>
</g>
</g>
<g id="a_xtick_2">
<g id="a_line2d_2">
<g>
<use href="#a_mfd354b9443" x="76.7" y="176.69" style="fill: #333333; stroke: #333333; stroke-width: 0.6"/>
</g>
</g>
<g id="a_text_2">
<text style="font-size: 6px; font-family: 'DejaVu Sans', sans-serif; text-anchor: middle; fill: #222222" x="76.7" y="185.25" transform="rotate(-0 76.7 185.25)">−0.5</text>
</g>
</g>
<g id="a_xtick_3">
<g id="a_line2d_3">
<g>
<use href="#a_mfd354b9443" x="108.75" y="176.69" style="fill: #333333; stroke: #333333; stroke-width: 0.6"/>
</g>
</g>
<g id="a_text_3">
<text style="font-size: 6px; font-family: 'DejaVu Sans', sans-serif; text-anchor: middle; fill: #222222" x="108.75" y="185.25" transform="rotate(-0 108.75 185.25)">0.0</text>
</g>
</g>
<g id="a_xtick_4">
<g id="a_line2d_4">
<g>
<use href="#a_mfd354b9443" x="140.81" y="176.69" style="fill: #333333; stroke: #333333; stroke-width: 0.6"/>
</g>
</g>
<g id="a_text_4">
<text style="font-size: 6px; font-family: 'DejaVu Sans', sans-serif; text-anchor: middle; fill: #222222" x="140.81" y="185.25" transform="rotate(-0 140.81 185.25)">0.5</text>
</g>
</g>
<g id="a_xtick_5">
<g id="a_line2d_5">
<g>
<use href="#a_mfd354b9443" x="172.87" y="176.69" style="fill: #333333; stroke: #333333; stroke-width: 0.6"/>
</g>
</g>
<g id="a_text_5">
<text style="font-size: 6px; font-family: 'DejaVu Sans', sans-serif; text-anchor: middle; fill: #222222" x="172.87" y="185.25" transform="rotate(-0 172.87 185.25)">1.0</text>
</g>
</g>
</g>
<g id="a_matplotlib.axis_2">
<g id="a_ytick_1">
<g id="a_line2d_6">
<defs>
<path id="a_m7d58d86fbe" d="M0 0l-2.2 0" style="stroke: #333333; stroke-width: 0.6"/>
</defs>
<g>
<use href="#a_m7d58d86fbe" x="17.87" y="152.5" style="fill: #333333; stroke: #333333; stroke-width: 0.6"/>
</g>
</g>
<g id="a_text_6">
<text style="font-size: 6px; font-family: 'DejaVu Sans', sans-serif; text-anchor: end; fill: #222222" x="13.87" y="154.78" transform="rotate(-0 13.87 154.78)">−1.0</text>
</g>
</g>
<g id="a_ytick_2">
<g id="a_line2d_7">
<g>
<use href="#a_m7d58d86fbe" x="17.87" y="123.36" style="fill: #333333; stroke: #333333; stroke-width: 0.6"/>
</g>
</g>
<g id="a_text_7">
<text style="font-size: 6px; font-family: 'DejaVu Sans', sans-serif; text-anchor: end; fill: #222222" x="13.87" y="125.64" transform="rotate(-0 13.87 125.64)">−0.5</text>
</g>
</g>
<g id="a_ytick_3">
<g id="a_line2d_8">
<g>
<use href="#a_m7d58d86fbe" x="17.87" y="94.23" style="fill: #333333; stroke: #333333; stroke-width: 0.6"/>
</g>
</g>
<g id="a_text_8">
<text style="font-size: 6px; font-family: 'DejaVu Sans', sans-serif; text-anchor: end; fill: #222222" x="13.87" y="96.51" transform="rotate(-0 13.87 96.51)">0.0</text>
</g>
</g>
<g id="a_ytick_4">
<g id="a_line2d_9">
<g>
<use href="#a_m7d58d86fbe" x="17.87" y="65.1" style="fill: #333333; stroke: #333333; stroke-width: 0.6"/>
</g>
</g>
<g id="a_text_9">
<text style="font-size: 6px; font-family: 'DejaVu Sans', sans-serif; text-anchor: end; fill: #222222" x="13.87" y="67.38" transform="rotate(-0 13.87 67.38)">0.5</text>
</g>
</g>
<g id="a_ytick_5">
<g id="a_line2d_10">
<g>
<use href="#a_m7d58d86fbe" x="17.87" y="35.97" style="fill: #333333; stroke: #333333; stroke-width: 0.6"/>
</g>
</g>
<g id="a_text_10">
<text style="font-size: 6px; font-family: 'DejaVu Sans', sans-serif; text-anchor: end; fill: #222222" x="13.87" y="38.25" transform="rotate(-0 13.87 38.25)">1.0</text>
</g>
</g>
<g id="a_ytick_6">
<g id="a_line2d_11">
<g>
<use href="#a_m7d58d86fbe" x="17.87" y="6.84" style="fill: #333333; stroke: #333333; stroke-width: 0.6"/>
</g>
</g>
<g id="a_text_11">
<text style="font-size: 6px; font-family: 'DejaVu Sans', sans-serif; text-anchor: end; fill: #222222" x="13.87" y="9.12" transform="rotate(-0 13.87 9.12)">1.5</text>
</g>
</g>
</g>
<g id="a_patch_3">
<path d="M17.9 176.7l0-176.3" style="fill: none; stroke: #333333; stroke-width: 0.7; stroke-linejoin: miter; stroke-linecap: square"/>
</g>
<g id="a_patch_4">
<path d="M196.1 176.7l0-176.3" style="fill: none; stroke: #333333; stroke-width: 0.7; stroke-linejoin: miter; stroke-linecap: square"/>
</g>
<g id="a_patch_5">
<path d="M17.9 176.7l178.2 0" style="fill: none; stroke: #333333; stroke-width: 0.7; stroke-linejoin: miter; stroke-linecap: square"/>
</g>
<g id="a_patch_6">
<path d="M17.9.4l178.2 0" style="fill: none; stroke: #999999; stroke-width: 0.7; stroke-linejoin: miter; stroke-linecap: square"/>
</g>
</g>
</g>
</svg>
<svg viewBox="0 0 197.57 194.4" preserveAspectRatio="none" style="position:absolute;left:342px;top:0px;width:343px;height:270px;overflow:visible">
<defs>
<style type="text/css">*{stroke-linejoin: round; stroke-linecap: butt}</style>
</defs>
<g id="b_figure_1">
<g id="b_patch_1">
<path d="M0 194.4l197.6 0 0-194.4-197.6 0 0 194.4z" style="fill: none; opacity: 0"/>
</g>
<g id="b_axes_1">
<g id="b_patch_2">
<path d="M34.4 172.2l158.3 0 0-171.8-158.3 0 0 171.8z" style="fill: none"/>
</g>
<g stroke="#000" stroke-width="0.6">
<circle cx="126.7" cy="130.6" r="1.6" fill="#fde725"/>
<circle cx="129.3" cy="44.7" r="1.6" fill="#440154"/>
<circle cx="136.5" cy="137.9" r="1.6" fill="#fde725"/>
<circle cx="86.1" cy="34.4" r="1.6" fill="#440154"/>
<circle cx="108.5" cy="18.2" r="1.6" fill="#440154"/>
<circle cx="144.3" cy="140.2" r="1.6" fill="#fde725"/>
<circle cx="137.3" cy="127.6" r="1.6" fill="#fde725"/>
<circle cx="97.2" cy="23.7" r="1.6" fill="#440154"/>
<circle cx="115.8" cy="60.9" r="1.6" fill="#440154"/>
<circle cx="162.3" cy="123.4" r="1.6" fill="#fde725"/>
<circle cx="133.8" cy="101.2" r="1.6" fill="#440154"/>
<circle cx="71.0" cy="73.5" r="1.6" fill="#440154"/>
<circle cx="157.8" cy="144.3" r="1.6" fill="#fde725"/>
<circle cx="106.0" cy="52.4" r="1.6" fill="#440154"/>
<circle cx="143.2" cy="139.9" r="1.6" fill="#fde725"/>
<circle cx="143.2" cy="140.4" r="1.6" fill="#fde725"/>
<circle cx="172.2" cy="78.5" r="1.6" fill="#fde725"/>
<circle cx="130.9" cy="73.7" r="1.6" fill="#440154"/>
<circle cx="116.8" cy="141.0" r="1.6" fill="#fde725"/>
<circle cx="159.1" cy="127.8" r="1.6" fill="#fde725"/>
<circle cx="170.4" cy="83.4" r="1.6" fill="#fde725"/>
<circle cx="178.8" cy="74.4" r="1.6" fill="#fde725"/>
<circle cx="87.7" cy="91.7" r="1.6" fill="#fde725"/>
<circle cx="131.1" cy="128.6" r="1.6" fill="#fde725"/>
<circle cx="112.9" cy="61.6" r="1.6" fill="#440154"/>
<circle cx="166.4" cy="67.9" r="1.6" fill="#fde725"/>
<circle cx="163.7" cy="80.3" r="1.6" fill="#fde725"/>
<circle cx="61.4" cy="73.7" r="1.6" fill="#440154"/>
<circle cx="104.3" cy="16.7" r="1.6" fill="#440154"/>
<circle cx="109.1" cy="130.7" r="1.6" fill="#fde725"/>
<circle cx="172.2" cy="99.0" r="1.6" fill="#fde725"/>
<circle cx="106.5" cy="128.6" r="1.6" fill="#fde725"/>
<circle cx="173.1" cy="112.8" r="1.6" fill="#fde725"/>
<circle cx="71.9" cy="46.6" r="1.6" fill="#440154"/>
<circle cx="131.9" cy="90.5" r="1.6" fill="#440154"/>
<circle cx="110.7" cy="144.4" r="1.6" fill="#fde725"/>
<circle cx="140.7" cy="132.2" r="1.6" fill="#fde725"/>
<circle cx="125.3" cy="48.2" r="1.6" fill="#440154"/>
<circle cx="57.6" cy="66.1" r="1.6" fill="#440154"/>
<circle cx="122.7" cy="46.2" r="1.6" fill="#440154"/>
<circle cx="146.0" cy="149.0" r="1.6" fill="#fde725"/>
<circle cx="95.4" cy="44.0" r="1.6" fill="#440154"/>
<circle cx="166.2" cy="73.3" r="1.6" fill="#fde725"/>
<circle cx="62.5" cy="73.8" r="1.6" fill="#440154"/>
<circle cx="126.6" cy="92.0" r="1.6" fill="#440154"/>
<circle cx="125.6" cy="42.1" r="1.6" fill="#440154"/>
<circle cx="137.2" cy="99.0" r="1.6" fill="#440154"/>
<circle cx="138.0" cy="83.1" r="1.6" fill="#440154"/>
<circle cx="149.5" cy="145.4" r="1.6" fill="#fde725"/>
<circle cx="126.9" cy="86.0" r="1.6" fill="#440154"/>
<circle cx="103.1" cy="37.6" r="1.6" fill="#440154"/>
<circle cx="56.7" cy="46.1" r="1.6" fill="#440154"/>
<circle cx="89.8" cy="32.1" r="1.6" fill="#440154"/>
<circle cx="147.7" cy="130.3" r="1.6" fill="#fde725"/>
<circle cx="61.2" cy="65.1" r="1.6" fill="#440154"/>
<circle cx="119.0" cy="44.0" r="1.6" fill="#440154"/>
<circle cx="84.7" cy="35.7" r="1.6" fill="#440154"/>
<circle cx="127.2" cy="91.4" r="1.6" fill="#440154"/>
<circle cx="55.0" cy="72.2" r="1.6" fill="#440154"/>
<circle cx="108.7" cy="29.9" r="1.6" fill="#440154"/>
<circle cx="168.2" cy="83.3" r="1.6" fill="#fde725"/>
<circle cx="86.6" cy="88.3" r="1.6" fill="#fde725"/>
<circle cx="106.6" cy="125.8" r="1.6" fill="#fde725"/>
<circle cx="168.2" cy="100.5" r="1.6" fill="#fde725"/>
<circle cx="106.4" cy="38.9" r="1.6" fill="#440154"/>
<circle cx="128.0" cy="64.9" r="1.6" fill="#440154"/>
<circle cx="170.4" cy="107.9" r="1.6" fill="#fde725"/>
<circle cx="119.7" cy="64.4" r="1.6" fill="#440154"/>
<circle cx="63.3" cy="99.6" r="1.6" fill="#440154"/>
<circle cx="143.6" cy="138.1" r="1.6" fill="#fde725"/>
<circle cx="130.5" cy="143.8" r="1.6" fill="#fde725"/>
<circle cx="124.1" cy="137.3" r="1.6" fill="#fde725"/>
<circle cx="92.2" cy="91.9" r="1.6" fill="#fde725"/>
<circle cx="100.9" cy="83.5" r="1.6" fill="#fde725"/>
<circle cx="109.1" cy="119.9" r="1.6" fill="#fde725"/>
<circle cx="112.2" cy="107.4" r="1.6" fill="#fde725"/>
<circle cx="91.2" cy="71.3" r="1.6" fill="#fde725"/>
<circle cx="115.0" cy="58.1" r="1.6" fill="#440154"/>
<circle cx="161.9" cy="116.3" r="1.6" fill="#fde725"/>
<circle cx="171.2" cy="101.5" r="1.6" fill="#fde725"/>
<circle cx="59.1" cy="42.4" r="1.6" fill="#440154"/>
<circle cx="111.1" cy="35.3" r="1.6" fill="#440154"/>
<circle cx="168.0" cy="62.3" r="1.6" fill="#fde725"/>
<circle cx="80.0" cy="51.1" r="1.6" fill="#440154"/>
<circle cx="115.6" cy="118.7" r="1.6" fill="#fde725"/>
<circle cx="112.0" cy="33.0" r="1.6" fill="#440154"/>
<circle cx="68.9" cy="48.7" r="1.6" fill="#440154"/>
<circle cx="157.1" cy="109.5" r="1.6" fill="#fde725"/>
<circle cx="106.9" cy="123.7" r="1.6" fill="#fde725"/>
<circle cx="84.4" cy="73.3" r="1.6" fill="#fde725"/>
<circle cx="135.1" cy="133.7" r="1.6" fill="#fde725"/>
<circle cx="181.8" cy="90.7" r="1.6" fill="#fde725"/>
<circle cx="126.1" cy="123.8" r="1.6" fill="#fde725"/>
<circle cx="112.7" cy="119.7" r="1.6" fill="#fde725"/>
<circle cx="150.2" cy="109.9" r="1.6" fill="#fde725"/>
<circle cx="122.2" cy="149.7" r="1.6" fill="#fde725"/>
<circle cx="115.3" cy="64.5" r="1.6" fill="#440154"/>
<circle cx="130.9" cy="59.5" r="1.6" fill="#440154"/>
<circle cx="171.2" cy="126.8" r="1.6" fill="#fde725"/>
<circle cx="136.0" cy="101.0" r="1.6" fill="#440154"/>
<circle cx="60.5" cy="107.1" r="1.6" fill="#440154"/>
<circle cx="162.7" cy="121.2" r="1.6" fill="#fde725"/>
<circle cx="124.2" cy="82.8" r="1.6" fill="#440154"/>
<circle cx="106.2" cy="113.8" r="1.6" fill="#fde725"/>
<circle cx="111.9" cy="130.5" r="1.6" fill="#fde725"/>
<circle cx="133.9" cy="34.4" r="1.6" fill="#440154"/>
<circle cx="106.5" cy="114.6" r="1.6" fill="#fde725"/>
<circle cx="53.6" cy="95.8" r="1.6" fill="#440154"/>
<circle cx="109.2" cy="132.1" r="1.6" fill="#fde725"/>
<circle cx="101.9" cy="37.2" r="1.6" fill="#440154"/>
<circle cx="80.6" cy="35.3" r="1.6" fill="#440154"/>
<circle cx="157.1" cy="126.5" r="1.6" fill="#fde725"/>
<circle cx="119.3" cy="130.3" r="1.6" fill="#fde725"/>
<circle cx="136.0" cy="91.1" r="1.6" fill="#440154"/>
<circle cx="179.5" cy="96.9" r="1.6" fill="#fde725"/>
<circle cx="99.3" cy="104.5" r="1.6" fill="#fde725"/>
<circle cx="57.4" cy="96.0" r="1.6" fill="#440154"/>
<circle cx="48.1" cy="111.5" r="1.6" fill="#440154"/>
<circle cx="99.5" cy="40.3" r="1.6" fill="#440154"/>
<circle cx="129.5" cy="82.9" r="1.6" fill="#440154"/>
<circle cx="48.0" cy="77.5" r="1.6" fill="#440154"/>
<circle cx="68.1" cy="71.2" r="1.6" fill="#440154"/>
<circle cx="116.3" cy="137.3" r="1.6" fill="#fde725"/>
<circle cx="95.3" cy="45.8" r="1.6" fill="#440154"/>
<circle cx="58.0" cy="71.7" r="1.6" fill="#440154"/>
<circle cx="64.9" cy="64.7" r="1.6" fill="#440154"/>
<circle cx="144.5" cy="141.6" r="1.6" fill="#fde725"/>
<circle cx="62.4" cy="57.6" r="1.6" fill="#440154"/>
<circle cx="93.2" cy="52.0" r="1.6" fill="#440154"/>
<circle cx="114.9" cy="130.3" r="1.6" fill="#fde725"/>
<circle cx="129.2" cy="101.9" r="1.6" fill="#440154"/>
<circle cx="104.4" cy="34.1" r="1.6" fill="#440154"/>
<circle cx="180.8" cy="95.5" r="1.6" fill="#fde725"/>
<circle cx="98.7" cy="79.3" r="1.6" fill="#fde725"/>
<circle cx="76.0" cy="8.8" r="1.6" fill="#440154"/>
<circle cx="121.1" cy="53.5" r="1.6" fill="#440154"/>
<circle cx="68.1" cy="67.2" r="1.6" fill="#440154"/>
<circle cx="142.5" cy="81.0" r="1.6" fill="#440154"/>
<circle cx="131.2" cy="88.3" r="1.6" fill="#440154"/>
<circle cx="99.2" cy="82.7" r="1.6" fill="#fde725"/>
<circle cx="125.7" cy="70.6" r="1.6" fill="#440154"/>
<circle cx="55.3" cy="92.5" r="1.6" fill="#440154"/>
<circle cx="183.4" cy="66.4" r="1.6" fill="#fde725"/>
<circle cx="112.5" cy="50.5" r="1.6" fill="#440154"/>
<circle cx="108.2" cy="78.7" r="1.6" fill="#fde725"/>
<circle cx="93.5" cy="82.1" r="1.6" fill="#fde725"/>
<circle cx="134.4" cy="77.9" r="1.6" fill="#440154"/>
<circle cx="60.9" cy="82.8" r="1.6" fill="#440154"/>
<circle cx="98.3" cy="81.4" r="1.6" fill="#fde725"/>
<circle cx="160.7" cy="120.1" r="1.6" fill="#fde725"/>
<circle cx="137.8" cy="93.5" r="1.6" fill="#440154"/>
<circle cx="95.6" cy="30.4" r="1.6" fill="#440154"/>
<circle cx="131.1" cy="80.6" r="1.6" fill="#440154"/>
<circle cx="131.0" cy="84.3" r="1.6" fill="#440154"/>
<circle cx="178.7" cy="92.5" r="1.6" fill="#fde725"/>
<circle cx="135.2" cy="142.0" r="1.6" fill="#fde725"/>
<circle cx="134.9" cy="93.5" r="1.6" fill="#440154"/>
<circle cx="43.8" cy="62.2" r="1.6" fill="#440154"/>
<circle cx="137.2" cy="124.0" r="1.6" fill="#fde725"/>
<circle cx="126.7" cy="81.2" r="1.6" fill="#440154"/>
<circle cx="87.6" cy="21.0" r="1.6" fill="#440154"/>
<circle cx="114.8" cy="131.7" r="1.6" fill="#fde725"/>
<circle cx="152.8" cy="118.8" r="1.6" fill="#fde725"/>
<circle cx="130.7" cy="68.6" r="1.6" fill="#440154"/>
<circle cx="164.2" cy="102.3" r="1.6" fill="#fde725"/>
<circle cx="176.1" cy="86.3" r="1.6" fill="#fde725"/>
<circle cx="129.2" cy="86.6" r="1.6" fill="#440154"/>
<circle cx="132.9" cy="79.2" r="1.6" fill="#440154"/>
<circle cx="163.9" cy="105.3" r="1.6" fill="#fde725"/>
<circle cx="88.9" cy="29.3" r="1.6" fill="#440154"/>
<circle cx="142.5" cy="83.0" r="1.6" fill="#440154"/>
<circle cx="97.1" cy="38.7" r="1.6" fill="#440154"/>
<circle cx="157.3" cy="82.5" r="1.6" fill="#fde725"/>
<circle cx="105.1" cy="14.2" r="1.6" fill="#440154"/>
<circle cx="103.5" cy="19.1" r="1.6" fill="#440154"/>
<circle cx="63.6" cy="55.7" r="1.6" fill="#440154"/>
<circle cx="122.7" cy="145.8" r="1.6" fill="#fde725"/>
<circle cx="72.7" cy="49.6" r="1.6" fill="#440154"/>
<circle cx="89.5" cy="46.7" r="1.6" fill="#440154"/>
<circle cx="125.5" cy="137.2" r="1.6" fill="#fde725"/>
<circle cx="137.5" cy="124.5" r="1.6" fill="#fde725"/>
<circle cx="59.7" cy="65.9" r="1.6" fill="#440154"/>
<circle cx="150.2" cy="138.8" r="1.6" fill="#fde725"/>
<circle cx="88.6" cy="102.9" r="1.6" fill="#fde725"/>
<circle cx="169.8" cy="121.5" r="1.6" fill="#fde725"/>
<circle cx="94.1" cy="43.6" r="1.6" fill="#440154"/>
<circle cx="132.3" cy="145.6" r="1.6" fill="#fde725"/>
<circle cx="114.7" cy="49.8" r="1.6" fill="#440154"/>
<circle cx="65.5" cy="74.2" r="1.6" fill="#440154"/>
<circle cx="73.1" cy="36.6" r="1.6" fill="#440154"/>
<circle cx="177.7" cy="75.4" r="1.6" fill="#fde725"/>
<circle cx="131.0" cy="138.6" r="1.6" fill="#fde725"/>
<circle cx="144.7" cy="132.6" r="1.6" fill="#fde725"/>
<circle cx="88.5" cy="85.9" r="1.6" fill="#fde725"/>
<circle cx="97.4" cy="26.7" r="1.6" fill="#440154"/>
<circle cx="50.6" cy="110.6" r="1.6" fill="#440154"/>
<circle cx="86.6" cy="37.0" r="1.6" fill="#440154"/>
<circle cx="123.2" cy="57.7" r="1.6" fill="#440154"/>
<circle cx="81.3" cy="27.2" r="1.6" fill="#440154"/>
<circle cx="126.3" cy="148.7" r="1.6" fill="#fde725"/>
<circle cx="164.5" cy="114.0" r="1.6" fill="#fde725"/>
<circle cx="121.7" cy="47.6" r="1.6" fill="#440154"/>
<circle cx="52.0" cy="123.3" r="1.6" fill="#440154"/>
<circle cx="66.3" cy="28.4" r="1.6" fill="#440154"/>
<circle cx="77.4" cy="30.7" r="1.6" fill="#440154"/>
<circle cx="68.3" cy="73.9" r="1.6" fill="#440154"/>
<circle cx="70.3" cy="65.9" r="1.6" fill="#440154"/>
<circle cx="114.1" cy="85.9" r="1.6" fill="#440154"/>
<circle cx="169.3" cy="85.5" r="1.6" fill="#fde725"/>
<circle cx="121.9" cy="140.3" r="1.6" fill="#fde725"/>
<circle cx="89.1" cy="60.1" r="1.6" fill="#fde725"/>
<circle cx="97.1" cy="25.1" r="1.6" fill="#440154"/>
<circle cx="112.0" cy="140.4" r="1.6" fill="#fde725"/>
<circle cx="96.7" cy="116.7" r="1.6" fill="#fde725"/>
<circle cx="109.3" cy="72.6" r="1.6" fill="#fde725"/>
<circle cx="128.1" cy="156.9" r="1.6" fill="#fde725"/>
<circle cx="146.2" cy="126.0" r="1.6" fill="#fde725"/>
<circle cx="61.5" cy="77.3" r="1.6" fill="#440154"/>
<circle cx="122.9" cy="136.3" r="1.6" fill="#fde725"/>
<circle cx="45.3" cy="100.9" r="1.6" fill="#440154"/>
<circle cx="138.5" cy="146.7" r="1.6" fill="#fde725"/>
<circle cx="99.9" cy="85.7" r="1.6" fill="#fde725"/>
<circle cx="137.5" cy="64.0" r="1.6" fill="#440154"/>
<circle cx="64.4" cy="53.5" r="1.6" fill="#440154"/>
<circle cx="92.8" cy="41.3" r="1.6" fill="#440154"/>
<circle cx="126.3" cy="139.9" r="1.6" fill="#fde725"/>
<circle cx="51.9" cy="89.6" r="1.6" fill="#440154"/>
<circle cx="158.3" cy="104.5" r="1.6" fill="#fde725"/>
<circle cx="95.8" cy="95.4" r="1.6" fill="#fde725"/>
<circle cx="124.0" cy="67.6" r="1.6" fill="#440154"/>
<circle cx="100.6" cy="32.4" r="1.6" fill="#440154"/>
<circle cx="110.7" cy="55.8" r="1.6" fill="#440154"/>
<circle cx="171.1" cy="118.6" r="1.6" fill="#fde725"/>
<circle cx="128.6" cy="82.4" r="1.6" fill="#440154"/>
<circle cx="129.9" cy="150.9" r="1.6" fill="#fde725"/>
<circle cx="113.4" cy="137.4" r="1.6" fill="#fde725"/>
<circle cx="117.6" cy="125.7" r="1.6" fill="#fde725"/>
<circle cx="83.5" cy="35.3" r="1.6" fill="#440154"/>
<circle cx="89.5" cy="37.1" r="1.6" fill="#440154"/>
<circle cx="65.3" cy="49.6" r="1.6" fill="#440154"/>
<circle cx="142.1" cy="164.6" r="1.6" fill="#fde725"/>
<circle cx="63.8" cy="50.3" r="1.6" fill="#440154"/>
<circle cx="162.7" cy="117.6" r="1.6" fill="#fde725"/>
<circle cx="138.5" cy="105.4" r="1.6" fill="#440154"/>
<circle cx="140.3" cy="153.3" r="1.6" fill="#fde725"/>
<circle cx="120.9" cy="39.7" r="1.6" fill="#440154"/>
<circle cx="112.6" cy="33.1" r="1.6" fill="#440154"/>
<circle cx="126.5" cy="57.2" r="1.6" fill="#440154"/>
<circle cx="108.4" cy="121.4" r="1.6" fill="#fde725"/>
<circle cx="72.5" cy="32.0" r="1.6" fill="#440154"/>
<circle cx="171.4" cy="91.0" r="1.6" fill="#fde725"/>
<circle cx="103.7" cy="106.6" r="1.6" fill="#fde725"/>
<circle cx="173.9" cy="92.6" r="1.6" fill="#fde725"/>
<circle cx="62.2" cy="74.5" r="1.6" fill="#440154"/>
<circle cx="102.5" cy="126.7" r="1.6" fill="#fde725"/>
<circle cx="154.8" cy="133.1" r="1.6" fill="#fde725"/>
<circle cx="85.7" cy="48.4" r="1.6" fill="#440154"/>
<circle cx="129.5" cy="141.5" r="1.6" fill="#fde725"/>
<circle cx="76.8" cy="56.3" r="1.6" fill="#440154"/>
<circle cx="169.2" cy="95.5" r="1.6" fill="#fde725"/>
<circle cx="93.5" cy="101.9" r="1.6" fill="#fde725"/>
<circle cx="92.9" cy="41.8" r="1.6" fill="#440154"/>
<circle cx="134.1" cy="128.7" r="1.6" fill="#fde725"/>
<circle cx="102.7" cy="38.8" r="1.6" fill="#440154"/>
<circle cx="92.5" cy="29.5" r="1.6" fill="#440154"/>
<circle cx="59.9" cy="81.5" r="1.6" fill="#440154"/>
<circle cx="171.1" cy="104.9" r="1.6" fill="#fde725"/>
<circle cx="108.3" cy="43.0" r="1.6" fill="#440154"/>
<circle cx="149.7" cy="139.3" r="1.6" fill="#fde725"/>
<circle cx="83.7" cy="37.8" r="1.6" fill="#440154"/>
<circle cx="69.6" cy="59.2" r="1.6" fill="#440154"/>
<circle cx="60.2" cy="67.2" r="1.6" fill="#440154"/>
<circle cx="62.7" cy="105.7" r="1.6" fill="#440154"/>
<circle cx="111.1" cy="142.7" r="1.6" fill="#fde725"/>
<circle cx="109.0" cy="95.9" r="1.6" fill="#fde725"/>
<circle cx="127.2" cy="157.5" r="1.6" fill="#fde725"/>
<circle cx="145.1" cy="139.3" r="1.6" fill="#fde725"/>
<circle cx="128.5" cy="123.6" r="1.6" fill="#fde725"/>
<circle cx="106.1" cy="118.7" r="1.6" fill="#fde725"/>
<circle cx="94.8" cy="20.3" r="1.6" fill="#440154"/>
<circle cx="109.5" cy="103.5" r="1.6" fill="#fde725"/>
<circle cx="41.1" cy="74.5" r="1.6" fill="#440154"/>
<circle cx="152.7" cy="118.8" r="1.6" fill="#fde725"/>
<circle cx="58.9" cy="79.0" r="1.6" fill="#440154"/>
<circle cx="95.6" cy="36.8" r="1.6" fill="#440154"/>
<circle cx="154.7" cy="134.1" r="1.6" fill="#fde725"/>
<circle cx="89.2" cy="96.8" r="1.6" fill="#fde725"/>
<circle cx="158.9" cy="116.5" r="1.6" fill="#fde725"/>
<circle cx="135.8" cy="161.3" r="1.6" fill="#fde725"/>
<circle cx="88.2" cy="107.4" r="1.6" fill="#fde725"/>
<circle cx="126.5" cy="129.6" r="1.6" fill="#fde725"/>
<circle cx="90.5" cy="99.8" r="1.6" fill="#fde725"/>
<circle cx="142.5" cy="146.2" r="1.6" fill="#fde725"/>
<circle cx="113.0" cy="124.6" r="1.6" fill="#fde725"/>
<circle cx="101.8" cy="35.2" r="1.6" fill="#440154"/>
<circle cx="70.4" cy="41.0" r="1.6" fill="#440154"/>
<circle cx="103.2" cy="115.1" r="1.6" fill="#fde725"/>
<circle cx="166.3" cy="125.4" r="1.6" fill="#fde725"/>
<circle cx="176.0" cy="85.5" r="1.6" fill="#fde725"/>
<circle cx="169.3" cy="86.5" r="1.6" fill="#fde725"/>
<circle cx="158.7" cy="114.8" r="1.6" fill="#fde725"/>
<circle cx="56.0" cy="106.3" r="1.6" fill="#440154"/>
<circle cx="108.8" cy="92.6" r="1.6" fill="#fde725"/>
<circle cx="75.8" cy="61.2" r="1.6" fill="#440154"/>
<circle cx="89.3" cy="35.6" r="1.6" fill="#440154"/>
<circle cx="62.3" cy="52.2" r="1.6" fill="#440154"/>
<circle cx="102.3" cy="69.6" r="1.6" fill="#fde725"/>
<circle cx="54.7" cy="78.0" r="1.6" fill="#440154"/>
<circle cx="89.9" cy="42.8" r="1.6" fill="#440154"/>
<circle cx="92.7" cy="35.3" r="1.6" fill="#440154"/>
<circle cx="123.9" cy="138.0" r="1.6" fill="#fde725"/>
<circle cx="51.2" cy="72.8" r="1.6" fill="#440154"/>
<circle cx="145.4" cy="134.3" r="1.6" fill="#fde725"/>
<circle cx="147.7" cy="136.3" r="1.6" fill="#fde725"/>
<circle cx="93.0" cy="24.1" r="1.6" fill="#440154"/>
<circle cx="98.7" cy="90.5" r="1.6" fill="#fde725"/>
<circle cx="154.1" cy="111.1" r="1.6" fill="#fde725"/>
<circle cx="105.1" cy="29.9" r="1.6" fill="#440154"/>
<circle cx="137.7" cy="138.7" r="1.6" fill="#fde725"/>
<circle cx="106.6" cy="131.3" r="1.6" fill="#fde725"/>
<circle cx="87.0" cy="45.2" r="1.6" fill="#440154"/>
<circle cx="168.0" cy="115.3" r="1.6" fill="#fde725"/>
<circle cx="128.6" cy="69.5" r="1.6" fill="#440154"/>
<circle cx="167.9" cy="96.9" r="1.6" fill="#fde725"/>
<circle cx="117.7" cy="46.9" r="1.6" fill="#440154"/>
<circle cx="106.6" cy="94.4" r="1.6" fill="#fde725"/>
<circle cx="108.2" cy="49.8" r="1.6" fill="#440154"/>
<circle cx="53.3" cy="104.7" r="1.6" fill="#440154"/>
<circle cx="60.6" cy="53.2" r="1.6" fill="#440154"/>
<circle cx="136.3" cy="137.1" r="1.6" fill="#fde725"/>
<circle cx="84.4" cy="43.8" r="1.6" fill="#440154"/>
<circle cx="125.9" cy="98.3" r="1.6" fill="#440154"/>
<circle cx="134.2" cy="67.7" r="1.6" fill="#440154"/>
<circle cx="134.0" cy="87.0" r="1.6" fill="#440154"/>
<circle cx="77.1" cy="35.8" r="1.6" fill="#440154"/>
<circle cx="81.3" cy="37.0" r="1.6" fill="#440154"/>
<circle cx="156.9" cy="144.2" r="1.6" fill="#fde725"/>
<circle cx="107.6" cy="119.2" r="1.6" fill="#fde725"/>
<circle cx="63.8" cy="85.3" r="1.6" fill="#440154"/>
<circle cx="107.7" cy="52.4" r="1.6" fill="#440154"/>
<circle cx="126.0" cy="50.6" r="1.6" fill="#440154"/>
<circle cx="51.7" cy="87.5" r="1.6" fill="#440154"/>
<circle cx="174.8" cy="76.8" r="1.6" fill="#fde725"/>
<circle cx="132.3" cy="143.1" r="1.6" fill="#fde725"/>
<circle cx="58.5" cy="56.1" r="1.6" fill="#440154"/>
<circle cx="135.1" cy="79.8" r="1.6" fill="#440154"/>
<circle cx="168.2" cy="63.9" r="1.6" fill="#fde725"/>
<circle cx="157.6" cy="120.6" r="1.6" fill="#fde725"/>
<circle cx="53.4" cy="41.8" r="1.6" fill="#440154"/>
<circle cx="90.0" cy="95.5" r="1.6" fill="#fde725"/>
<circle cx="93.1" cy="85.7" r="1.6" fill="#fde725"/>
<circle cx="149.2" cy="131.6" r="1.6" fill="#fde725"/>
<circle cx="129.5" cy="91.3" r="1.6" fill="#440154"/>
<circle cx="93.2" cy="89.0" r="1.6" fill="#fde725"/>
<circle cx="156.5" cy="105.2" r="1.6" fill="#fde725"/>
<circle cx="97.2" cy="34.8" r="1.6" fill="#440154"/>
<circle cx="58.9" cy="95.1" r="1.6" fill="#440154"/>
<circle cx="163.7" cy="141.6" r="1.6" fill="#fde725"/>
<circle cx="60.4" cy="74.4" r="1.6" fill="#440154"/>
<circle cx="71.5" cy="58.8" r="1.6" fill="#440154"/>
<circle cx="101.4" cy="21.8" r="1.6" fill="#440154"/>
<circle cx="106.6" cy="97.2" r="1.6" fill="#fde725"/>
<circle cx="63.7" cy="66.7" r="1.6" fill="#440154"/>
<circle cx="120.4" cy="55.6" r="1.6" fill="#440154"/>
<circle cx="118.0" cy="66.6" r="1.6" fill="#440154"/>
<circle cx="137.2" cy="84.1" r="1.6" fill="#440154"/>
<circle cx="101.0" cy="83.6" r="1.6" fill="#fde725"/>
<circle cx="103.0" cy="138.9" r="1.6" fill="#fde725"/>
<circle cx="67.3" cy="58.4" r="1.6" fill="#440154"/>
<circle cx="164.9" cy="115.9" r="1.6" fill="#fde725"/>
<circle cx="132.4" cy="72.1" r="1.6" fill="#440154"/>
<circle cx="165.2" cy="110.4" r="1.6" fill="#fde725"/>
<circle cx="57.9" cy="89.9" r="1.6" fill="#440154"/>
<circle cx="95.2" cy="73.0" r="1.6" fill="#fde725"/>
<circle cx="101.5" cy="88.2" r="1.6" fill="#fde725"/>
<circle cx="88.6" cy="44.7" r="1.6" fill="#440154"/>
<circle cx="169.6" cy="113.5" r="1.6" fill="#fde725"/>
<circle cx="86.7" cy="20.2" r="1.6" fill="#440154"/>
<circle cx="131.9" cy="60.3" r="1.6" fill="#440154"/>
<circle cx="99.0" cy="24.2" r="1.6" fill="#440154"/>
<circle cx="106.3" cy="39.4" r="1.6" fill="#440154"/>
<circle cx="169.1" cy="110.9" r="1.6" fill="#fde725"/>
<circle cx="136.6" cy="93.7" r="1.6" fill="#440154"/>
<circle cx="107.4" cy="127.7" r="1.6" fill="#fde725"/>
<circle cx="161.1" cy="87.8" r="1.6" fill="#fde725"/>
<circle cx="118.3" cy="21.8" r="1.6" fill="#440154"/>
<circle cx="100.5" cy="118.8" r="1.6" fill="#fde725"/>
<circle cx="130.4" cy="107.1" r="1.6" fill="#440154"/>
<circle cx="81.6" cy="44.7" r="1.6" fill="#440154"/>
<circle cx="135.2" cy="73.8" r="1.6" fill="#440154"/>
<circle cx="143.8" cy="131.5" r="1.6" fill="#fde725"/>
<circle cx="170.0" cy="79.8" r="1.6" fill="#fde725"/>
<circle cx="152.9" cy="104.2" r="1.6" fill="#fde725"/>
<circle cx="55.6" cy="75.6" r="1.6" fill="#440154"/>
<circle cx="105.9" cy="110.8" r="1.6" fill="#fde725"/>
<circle cx="168.1" cy="116.1" r="1.6" fill="#fde725"/>
<circle cx="153.5" cy="137.3" r="1.6" fill="#fde725"/>
<circle cx="111.5" cy="155.7" r="1.6" fill="#fde725"/>
<circle cx="52.2" cy="86.7" r="1.6" fill="#440154"/>
<circle cx="57.2" cy="54.8" r="1.6" fill="#440154"/>
<circle cx="68.6" cy="59.9" r="1.6" fill="#440154"/>
<circle cx="101.5" cy="131.6" r="1.6" fill="#fde725"/>
<circle cx="163.2" cy="106.5" r="1.6" fill="#fde725"/>
<circle cx="88.7" cy="72.1" r="1.6" fill="#fde725"/>
<circle cx="181.9" cy="96.6" r="1.6" fill="#fde725"/>
<circle cx="183.0" cy="71.9" r="1.6" fill="#fde725"/>
<circle cx="104.1" cy="120.5" r="1.6" fill="#fde725"/>
<circle cx="116.3" cy="153.2" r="1.6" fill="#fde725"/>
<circle cx="105.3" cy="70.2" r="1.6" fill="#fde725"/>
<circle cx="53.3" cy="70.7" r="1.6" fill="#440154"/>
<circle cx="79.1" cy="45.3" r="1.6" fill="#440154"/>
<circle cx="116.4" cy="75.5" r="1.6" fill="#440154"/>
<circle cx="69.3" cy="83.4" r="1.6" fill="#440154"/>
<circle cx="145.4" cy="147.6" r="1.6" fill="#fde725"/>
<circle cx="68.5" cy="56.1" r="1.6" fill="#440154"/>
<circle cx="100.0" cy="130.7" r="1.6" fill="#fde725"/>
<circle cx="102.6" cy="94.4" r="1.6" fill="#fde725"/>
<circle cx="106.6" cy="59.5" r="1.6" fill="#440154"/>
<circle cx="129.1" cy="51.2" r="1.6" fill="#440154"/>
<circle cx="147.0" cy="140.0" r="1.6" fill="#fde725"/>
<circle cx="142.8" cy="79.6" r="1.6" fill="#440154"/>
<circle cx="160.8" cy="121.1" r="1.6" fill="#fde725"/>
<circle cx="172.8" cy="89.6" r="1.6" fill="#fde725"/>
<circle cx="122.4" cy="69.8" r="1.6" fill="#440154"/>
<circle cx="164.5" cy="120.7" r="1.6" fill="#fde725"/>
<circle cx="112.1" cy="71.3" r="1.6" fill="#440154"/>
<circle cx="51.4" cy="62.6" r="1.6" fill="#440154"/>
<circle cx="117.3" cy="72.5" r="1.6" fill="#440154"/>
<circle cx="88.2" cy="80.2" r="1.6" fill="#fde725"/>
<circle cx="158.0" cy="123.5" r="1.6" fill="#fde725"/>
<circle cx="126.9" cy="143.6" r="1.6" fill="#fde725"/>
<circle cx="105.9" cy="35.9" r="1.6" fill="#440154"/>
<circle cx="121.1" cy="145.4" r="1.6" fill="#fde725"/>
<circle cx="170.4" cy="90.2" r="1.6" fill="#fde725"/>
<circle cx="126.3" cy="60.3" r="1.6" fill="#440154"/>
<circle cx="116.7" cy="131.8" r="1.6" fill="#fde725"/>
<circle cx="98.3" cy="80.5" r="1.6" fill="#fde725"/>
<circle cx="57.8" cy="87.2" r="1.6" fill="#440154"/>
<circle cx="121.9" cy="83.4" r="1.6" fill="#440154"/>
<circle cx="108.5" cy="132.4" r="1.6" fill="#fde725"/>
<circle cx="116.3" cy="46.3" r="1.6" fill="#440154"/>
<circle cx="138.0" cy="143.9" r="1.6" fill="#fde725"/>
<circle cx="97.4" cy="97.9" r="1.6" fill="#fde725"/>
<circle cx="79.6" cy="45.6" r="1.6" fill="#440154"/>
<circle cx="109.4" cy="120.0" r="1.6" fill="#fde725"/>
<circle cx="170.8" cy="66.0" r="1.6" fill="#fde725"/>
<circle cx="95.1" cy="49.3" r="1.6" fill="#440154"/>
<circle cx="110.0" cy="130.3" r="1.6" fill="#fde725"/>
<circle cx="178.6" cy="65.1" r="1.6" fill="#fde725"/>
<circle cx="113.2" cy="145.7" r="1.6" fill="#fde725"/>
<circle cx="61.0" cy="75.8" r="1.6" fill="#440154"/>
<circle cx="122.8" cy="61.0" r="1.6" fill="#440154"/>
<circle cx="120.7" cy="135.5" r="1.6" fill="#fde725"/>
<circle cx="133.3" cy="56.2" r="1.6" fill="#440154"/>
<circle cx="185.7" cy="105.4" r="1.6" fill="#fde725"/>
<circle cx="61.3" cy="46.2" r="1.6" fill="#440154"/>
<circle cx="149.7" cy="119.3" r="1.6" fill="#fde725"/>
<circle cx="75.0" cy="53.3" r="1.6" fill="#440154"/>
<circle cx="173.8" cy="53.3" r="1.6" fill="#fde725"/>
<circle cx="64.5" cy="42.2" r="1.6" fill="#440154"/>
<circle cx="73.8" cy="41.6" r="1.6" fill="#440154"/>
<circle cx="116.1" cy="63.0" r="1.6" fill="#440154"/>
<circle cx="118.1" cy="65.9" r="1.6" fill="#440154"/>
<circle cx="120.9" cy="146.0" r="1.6" fill="#fde725"/>
<circle cx="67.3" cy="89.4" r="1.6" fill="#440154"/>
<circle cx="94.4" cy="63.4" r="1.6" fill="#fde725"/>
<circle cx="127.1" cy="84.6" r="1.6" fill="#440154"/>
<circle cx="101.6" cy="103.2" r="1.6" fill="#fde725"/>
<circle cx="161.6" cy="102.8" r="1.6" fill="#fde725"/>
<circle cx="78.9" cy="37.6" r="1.6" fill="#440154"/>
<circle cx="92.7" cy="101.6" r="1.6" fill="#fde725"/>
<circle cx="160.0" cy="109.5" r="1.6" fill="#fde725"/>
<circle cx="63.8" cy="49.7" r="1.6" fill="#440154"/>
<circle cx="141.4" cy="162.7" r="1.6" fill="#fde725"/>
<circle cx="101.1" cy="82.2" r="1.6" fill="#fde725"/>
<circle cx="159.6" cy="127.0" r="1.6" fill="#fde725"/>
<circle cx="111.9" cy="129.1" r="1.6" fill="#fde725"/>
<circle cx="98.5" cy="78.5" r="1.6" fill="#fde725"/>
<circle cx="106.0" cy="100.6" r="1.6" fill="#fde725"/>
<circle cx="77.0" cy="49.2" r="1.6" fill="#440154"/>
<circle cx="95.4" cy="30.2" r="1.6" fill="#440154"/>
<circle cx="87.2" cy="32.7" r="1.6" fill="#440154"/>
<circle cx="122.4" cy="133.6" r="1.6" fill="#fde725"/>
<circle cx="99.7" cy="41.0" r="1.6" fill="#440154"/>
<circle cx="135.1" cy="143.2" r="1.6" fill="#fde725"/>
<circle cx="126.5" cy="62.3" r="1.6" fill="#440154"/>
<circle cx="164.4" cy="114.0" r="1.6" fill="#fde725"/>
<circle cx="108.3" cy="135.5" r="1.6" fill="#fde725"/>
<circle cx="50.5" cy="66.9" r="1.6" fill="#440154"/>
<circle cx="166.2" cy="96.2" r="1.6" fill="#fde725"/>
<circle cx="93.2" cy="42.1" r="1.6" fill="#440154"/>
<circle cx="182.7" cy="60.1" r="1.6" fill="#fde725"/>
<circle cx="121.1" cy="107.9" r="1.6" fill="#440154"/>
<circle cx="71.9" cy="61.5" r="1.6" fill="#440154"/>
<circle cx="108.9" cy="39.2" r="1.6" fill="#440154"/>
<circle cx="104.1" cy="34.1" r="1.6" fill="#440154"/>
<circle cx="100.0" cy="100.9" r="1.6" fill="#fde725"/>
<circle cx="110.8" cy="119.1" r="1.6" fill="#fde725"/>
<circle cx="152.1" cy="132.9" r="1.6" fill="#fde725"/>
<circle cx="99.0" cy="15.9" r="1.6" fill="#440154"/>
</g>
<g id="b_matplotlib.axis_1">
<g id="b_xtick_1">
<g id="b_line2d_1">
<defs>
<path id="b_m7bc424e9ea" d="M0 0l0 2" style="stroke: #333333; stroke-width: 0.6"/>
</defs>
<g>
<use href="#b_m7bc424e9ea" x="34.91" y="172.15" style="fill: #333333; stroke: #333333; stroke-width: 0.6"/>
</g>
</g>
<g id="b_text_1">
<text style="font-size: 5.2px; font-family: 'DejaVu Sans', sans-serif; text-anchor: middle; fill: #222222" x="34.91" y="179.9" transform="rotate(-0 34.91 179.9)">−1.5</text>
</g>
</g>
<g id="b_xtick_2">
<g id="b_line2d_2">
<g>
<use href="#b_m7bc424e9ea" x="54.6" y="172.15" style="fill: #333333; stroke: #333333; stroke-width: 0.6"/>
</g>
</g>
<g id="b_text_2">
<text style="font-size: 5.2px; font-family: 'DejaVu Sans', sans-serif; text-anchor: middle; fill: #222222" x="54.6" y="179.9" transform="rotate(-0 54.6 179.9)">−1.0</text>
</g>
</g>
<g id="b_xtick_3">
<g id="b_line2d_3">
<g>
<use href="#b_m7bc424e9ea" x="74.3" y="172.15" style="fill: #333333; stroke: #333333; stroke-width: 0.6"/>
</g>
</g>
<g id="b_text_3">
<text style="font-size: 5.2px; font-family: 'DejaVu Sans', sans-serif; text-anchor: middle; fill: #222222" x="74.3" y="179.9" transform="rotate(-0 74.3 179.9)">−0.5</text>
</g>
</g>
<g id="b_xtick_4">
<g id="b_line2d_4">
<g>
<use href="#b_m7bc424e9ea" x="94" y="172.15" style="fill: #333333; stroke: #333333; stroke-width: 0.6"/>
</g>
</g>
<g id="b_text_4">
<text style="font-size: 5.2px; font-family: 'DejaVu Sans', sans-serif; text-anchor: middle; fill: #222222" x="94" y="179.9" transform="rotate(-0 94 179.9)">0.0</text>
</g>
</g>
<g id="b_xtick_5">
<g id="b_line2d_5">
<g>
<use href="#b_m7bc424e9ea" x="113.7" y="172.15" style="fill: #333333; stroke: #333333; stroke-width: 0.6"/>
</g>
</g>
<g id="b_text_5">
<text style="font-size: 5.2px; font-family: 'DejaVu Sans', sans-serif; text-anchor: middle; fill: #222222" x="113.7" y="179.9" transform="rotate(-0 113.7 179.9)">0.5</text>
</g>
</g>
<g id="b_xtick_6">
<g id="b_line2d_6">
<g>
<use href="#b_m7bc424e9ea" x="133.4" y="172.15" style="fill: #333333; stroke: #333333; stroke-width: 0.6"/>
</g>
</g>
<g id="b_text_6">
<text style="font-size: 5.2px; font-family: 'DejaVu Sans', sans-serif; text-anchor: middle; fill: #222222" x="133.4" y="179.9" transform="rotate(-0 133.4 179.9)">1.0</text>
</g>
</g>
<g id="b_xtick_7">
<g id="b_line2d_7">
<g>
<use href="#b_m7bc424e9ea" x="153.1" y="172.15" style="fill: #333333; stroke: #333333; stroke-width: 0.6"/>
</g>
</g>
<g id="b_text_7">
<text style="font-size: 5.2px; font-family: 'DejaVu Sans', sans-serif; text-anchor: middle; fill: #222222" x="153.1" y="179.9" transform="rotate(-0 153.1 179.9)">1.5</text>
</g>
</g>
<g id="b_xtick_8">
<g id="b_line2d_8">
<g>
<use href="#b_m7bc424e9ea" x="172.8" y="172.15" style="fill: #333333; stroke: #333333; stroke-width: 0.6"/>
</g>
</g>
<g id="b_text_8">
<text style="font-size: 5.2px; font-family: 'DejaVu Sans', sans-serif; text-anchor: middle; fill: #222222" x="172.8" y="179.9" transform="rotate(-0 172.8 179.9)">2.0</text>
</g>
</g>
<g id="b_xtick_9">
<g id="b_line2d_9">
<g>
<use href="#b_m7bc424e9ea" x="192.5" y="172.15" style="fill: #333333; stroke: #333333; stroke-width: 0.6"/>
</g>
</g>
<g id="b_text_9">
<text style="font-size: 5.2px; font-family: 'DejaVu Sans', sans-serif; text-anchor: middle; fill: #222222" x="192.5" y="179.9" transform="rotate(-0 192.5 179.9)">2.5</text>
</g>
</g>
</g>
<g id="b_matplotlib.axis_2">
<g id="b_ytick_1">
<g id="b_line2d_10">
<defs>
<path id="b_m095a73ec3e" d="M0 0l-2 0" style="stroke: #333333; stroke-width: 0.6"/>
</defs>
<g>
<use href="#b_m095a73ec3e" x="34.39" y="139.5" style="fill: #333333; stroke: #333333; stroke-width: 0.6"/>
</g>
</g>
<g id="b_text_10">
<text style="font-size: 5.2px; font-family: 'DejaVu Sans', sans-serif; text-anchor: end; fill: #222222" x="30.59" y="141.48" transform="rotate(-0 30.59 141.48)">−0.5</text>
</g>
</g>
<g id="b_ytick_2">
<g id="b_line2d_11">
<g>
<use href="#b_m095a73ec3e" x="34.39" y="104.62" style="fill: #333333; stroke: #333333; stroke-width: 0.6"/>
</g>
</g>
<g id="b_text_11">
<text style="font-size: 5.2px; font-family: 'DejaVu Sans', sans-serif; text-anchor: end; fill: #222222" x="30.59" y="106.59" transform="rotate(-0 30.59 106.59)">0.0</text>
</g>
</g>
<g id="b_ytick_3">
<g id="b_line2d_12">
<g>
<use href="#b_m095a73ec3e" x="34.39" y="69.73" style="fill: #333333; stroke: #333333; stroke-width: 0.6"/>
</g>
</g>
<g id="b_text_12">
<text style="font-size: 5.2px; font-family: 'DejaVu Sans', sans-serif; text-anchor: end; fill: #222222" x="30.59" y="71.71" transform="rotate(-0 30.59 71.71)">0.5</text>
</g>
</g>
<g id="b_ytick_4">
<g id="b_line2d_13">
<g>
<use href="#b_m095a73ec3e" x="34.39" y="34.85" style="fill: #333333; stroke: #333333; stroke-width: 0.6"/>
</g>
</g>
<g id="b_text_13">
<text style="font-size: 5.2px; font-family: 'DejaVu Sans', sans-serif; text-anchor: end; fill: #222222" x="30.59" y="36.82" transform="rotate(-0 30.59 36.82)">1.0</text>
</g>
</g>
</g>
<g id="b_patch_3">
<path d="M34.4 172.2l0-171.8" style="fill: none; stroke: #333333; stroke-width: 0.7; stroke-linejoin: miter; stroke-linecap: square"/>
</g>
<g id="b_patch_4">
<path d="M192.7 172.2l0-171.8" style="fill: none; stroke: #333333; stroke-width: 0.7; stroke-linejoin: miter; stroke-linecap: square"/>
</g>
<g id="b_patch_5">
<path d="M34.4 172.2l158.3 0" style="fill: none; stroke: #333333; stroke-width: 0.7; stroke-linejoin: miter; stroke-linecap: square"/>
</g>
<g id="b_patch_6">
<path d="M34.4.4l158.3 0" style="fill: none; stroke: #999999; stroke-width: 0.7; stroke-linejoin: miter; stroke-linecap: square"/>
</g>
</g>
</g>
</svg>
<svg viewBox="0 0 246.2 187.2" preserveAspectRatio="none" style="position:absolute;left:0px;top:300px;width:342px;height:260px;overflow:visible">
<defs>
<style type="text/css">*{stroke-linejoin: round; stroke-linecap: butt}</style>
</defs>
<g id="c_figure_1">
<g id="c_patch_1">
<path d="M0 187.2l246.2 0 0-187.2-246.2 0 0 187.2z" style="fill: none; opacity: 0"/>
</g>
<g id="c_patch_2">
<path d="M-1 170.6l177.5 0 0-171.6" style="fill: none"/>
</g>
<g id="c_pane3d_1">
<g id="c_patch_3">
<path d="M9.1 126l59.8-50.1-.8-72.3-62.7 45.7" style="fill: #f2f2f2; opacity: 0.5; stroke: #f2f2f2; stroke-linejoin: miter"/>
</g>
</g>
<g id="c_pane3d_2">
<g id="c_patch_4">
<path d="M68.9 75.9l96 27.9 3.4-74.8-100.2-25.4" style="fill: #e6e6e6; opacity: 0.5; stroke: #e6e6e6; stroke-linejoin: miter"/>
</g>
</g>
<g id="c_pane3d_3">
<g id="c_patch_5">
<path d="M9.1 126l101.7 33.2 54.1-55.4-96-27.9" style="fill: #ececec; opacity: 0.5; stroke: #ececec; stroke-linejoin: miter"/>
</g>
</g>
<g id="c_grid3d_1">
<g id="c_Line3DCollection_1">
<path d="M15.3 128l59.4-50.4-.5-72.5" style="fill: none; stroke: #b0b0b0; stroke-width: 0.8"/>
<path d="M25.9 131.5l58.9-51-.1-72.7" style="fill: none; stroke: #b0b0b0; stroke-width: 0.8"/>
<path d="M36.7 135l58.3-51.5 .3-73" style="fill: none; stroke: #b0b0b0; stroke-width: 0.8"/>
<path d="M47.6 138.6l57.7-52.1 .7-73.3" style="fill: none; stroke: #b0b0b0; stroke-width: 0.8"/>
<path d="M58.6 142.2l57.1-52.7 1.2-73.5" style="fill: none; stroke: #b0b0b0; stroke-width: 0.8"/>
<path d="M69.8 145.8l56.4-53.3 1.7-73.8" style="fill: none; stroke: #b0b0b0; stroke-width: 0.8"/>
<path d="M81.1 149.5l55.8-53.9 2.1-74" style="fill: none; stroke: #b0b0b0; stroke-width: 0.8"/>
<path d="M92.5 153.2l55.1-54.5 2.6-74.3" style="fill: none; stroke: #b0b0b0; stroke-width: 0.8"/>
<path d="M104 157l54.5-55.1 3.1-74.6" style="fill: none; stroke: #b0b0b0; stroke-width: 0.8"/>
</g>
</g>
<g id="c_grid3d_2">
<g id="c_Line3DCollection_2">
<path d="M9.7 46.1l3.5 76.4 101.4 32.9" style="fill: none; stroke: #b0b0b0; stroke-width: 0.8"/>
<path d="M24.2 35.6l2.8 75.4 100 31.6" style="fill: none; stroke: #b0b0b0; stroke-width: 0.8"/>
<path d="M38.1 25.4l2.2 74.5 98.7 30.3" style="fill: none; stroke: #b0b0b0; stroke-width: 0.8"/>
<path d="M51.5 15.7l1.6 73.4 97.5 29.3" style="fill: none; stroke: #b0b0b0; stroke-width: 0.8"/>
<path d="M64.4 6.3l1 72.5 96.3 28.2" style="fill: none; stroke: #b0b0b0; stroke-width: 0.8"/>
</g>
</g>
<g id="c_grid3d_3">
<g id="c_Line3DCollection_3">
<path d="M165 100.4l-96.1-27.7-60 49.9" style="fill: none; stroke: #b0b0b0; stroke-width: 0.8"/>
<path d="M165.4 92.1l-96.6-27.5-60.3 49.4" style="fill: none; stroke: #b0b0b0; stroke-width: 0.8"/>
<path d="M165.8 83.6l-97.1-27.2-60.6 49" style="fill: none; stroke: #b0b0b0; stroke-width: 0.8"/>
<path d="M166.2 75.1l-97.6-27-60.9 48.5" style="fill: none; stroke: #b0b0b0; stroke-width: 0.8"/>
<path d="M166.6 66.5l-98.1-26.7-61.2 48" style="fill: none; stroke: #b0b0b0; stroke-width: 0.8"/>
<path d="M167 57.8l-98.6-26.4-61.6 47.5" style="fill: none; stroke: #b0b0b0; stroke-width: 0.8"/>
<path d="M167.4 49l-99.1-26.1-61.9 47" style="fill: none; stroke: #b0b0b0; stroke-width: 0.8"/>
<path d="M167.8 40.1l-99.6-25.8-62.2 46.4" style="fill: none; stroke: #b0b0b0; stroke-width: 0.8"/>
<path d="M168.2 31.1l-100.1-25.4-62.6 45.8" style="fill: none; stroke: #b0b0b0; stroke-width: 0.8"/>
</g>
</g>
<g id="c_axis3d_1">
<g id="c_line2d_1">
<path d="M9.1 126l101.7 33.2" style="fill: none; stroke: #000000; stroke-width: 0.8; stroke-linecap: square"/>
</g>
<g id="c_xtick_1">
<g id="c_line2d_2">
<path d="M15.8 127.6l-1.6 1.3" style="fill: none; stroke: #000000; stroke-width: 0.8; stroke-linecap: square"/>
</g>
<g id="c_text_1">
<text style="font-size: 5.6px; font-family: 'DejaVu Sans', sans-serif; text-anchor: middle" x="10.7" y="141.8" transform="rotate(-0 10.7 141.8)">−1.00</text>
</g>
</g>
<g id="c_xtick_2">
<g id="c_line2d_3">
<path d="M26.4 131l-1.5 1.4" style="fill: none; stroke: #000000; stroke-width: 0.8; stroke-linecap: square"/>
</g>
<g id="c_text_2">
<text style="font-size: 5.6px; font-family: 'DejaVu Sans', sans-serif; text-anchor: middle" x="21.3" y="145.4" transform="rotate(-0 21.3 145.4)">−0.75</text>
</g>
</g>
<g id="c_xtick_3">
<g id="c_line2d_4">
<path d="M37.2 134.6l-1.5 1.3" style="fill: none; stroke: #000000; stroke-width: 0.8; stroke-linecap: square"/>
</g>
<g id="c_text_3">
<text style="font-size: 5.6px; font-family: 'DejaVu Sans', sans-serif; text-anchor: middle" x="32.1" y="149" transform="rotate(-0 32.1 149)">−0.50</text>
</g>
</g>
<g id="c_xtick_4">
<g id="c_line2d_5">
<path d="M48.1 138.1l-1.5 1.4" style="fill: none; stroke: #000000; stroke-width: 0.8; stroke-linecap: square"/>
</g>
<g id="c_text_4">
<text style="font-size: 5.6px; font-family: 'DejaVu Sans', sans-serif; text-anchor: middle" x="43" y="152.6" transform="rotate(-0 43 152.6)">−0.25</text>
</g>
</g>
<g id="c_xtick_5">
<g id="c_line2d_6">
<path d="M59.1 141.7l-1.5 1.4" style="fill: none; stroke: #000000; stroke-width: 0.8; stroke-linecap: square"/>
</g>
<g id="c_text_5">
<text style="font-size: 5.6px; font-family: 'DejaVu Sans', sans-serif; text-anchor: middle" x="54.1" y="156.2" transform="rotate(-0 54.1 156.2)">0.00</text>
</g>
</g>
<g id="c_xtick_6">
<g id="c_line2d_7">
<path d="M70.3 145.3l-1.5 1.4" style="fill: none; stroke: #000000; stroke-width: 0.8; stroke-linecap: square"/>
</g>
<g id="c_text_6">
<text style="font-size: 5.6px; font-family: 'DejaVu Sans', sans-serif; text-anchor: middle" x="65.2" y="160" transform="rotate(-0 65.2 160)">0.25</text>
</g>
</g>
<g id="c_xtick_7">
<g id="c_line2d_8">
<path d="M81.5 149l-1.4 1.4" style="fill: none; stroke: #000000; stroke-width: 0.8; stroke-linecap: square"/>
</g>
<g id="c_text_7">
<text style="font-size: 5.6px; font-family: 'DejaVu Sans', sans-serif; text-anchor: middle" x="76.5" y="163.7" transform="rotate(-0 76.5 163.7)">0.50</text>
</g>
</g>
<g id="c_xtick_8">
<g id="c_line2d_9">
<path d="M93 152.7l-1.5 1.5" style="fill: none; stroke: #000000; stroke-width: 0.8; stroke-linecap: square"/>
</g>
<g id="c_text_8">
<text style="font-size: 5.6px; font-family: 'DejaVu Sans', sans-serif; text-anchor: middle" x="88" y="167.5" transform="rotate(-0 88 167.5)">0.75</text>
</g>
</g>
<g id="c_xtick_9">
<g id="c_line2d_10">
<path d="M104.5 156.5l-1.4 1.5" style="fill: none; stroke: #000000; stroke-width: 0.8; stroke-linecap: square"/>
</g>
<g id="c_text_9">
<text style="font-size: 5.6px; font-family: 'DejaVu Sans', sans-serif; text-anchor: middle" x="99.5" y="171.4" transform="rotate(-0 99.5 171.4)">1.00</text>
</g>
</g>
<g id="c_text_10">
<!-- $v_1$ -->
<g transform="translate(46.1 162.4) rotate(-341.9)">
<text>
<tspan x="0" y="-0.7" style="font-style: oblique; font-size: 5.8px; font-family: 'DejaVu Sans', sans-serif">v</tspan>
<tspan x="3.4" y="0.3" style="font-size: 4.1px; font-family: 'DejaVu Sans', sans-serif">1</tspan>
</text>
</g>
</g>
</g>
<g id="c_axis3d_2">
<g id="c_line2d_11">
<path d="M164.9 103.8l-54.1 55.4" style="fill: none; stroke: #000000; stroke-width: 0.8; stroke-linecap: square"/>
</g>
<g id="c_xtick_10">
<g id="c_line2d_12">
<path d="M113.7 155.1l2.6.8" style="fill: none; stroke: #000000; stroke-width: 0.8; stroke-linecap: square"/>
</g>
<g id="c_text_11">
<text style="font-size: 5.6px; font-family: 'DejaVu Sans', sans-serif; text-anchor: middle" x="122.4" y="167.8" transform="rotate(-0 122.4 167.8)">−1.0</text>
</g>
</g>
<g id="c_xtick_11">
<g id="c_line2d_13">
<path d="M126.2 142.3l2.5.8" style="fill: none; stroke: #000000; stroke-width: 0.8; stroke-linecap: square"/>
</g>
<g id="c_text_12">
<text style="font-size: 5.6px; font-family: 'DejaVu Sans', sans-serif; text-anchor: middle" x="134.7" y="154.8" transform="rotate(-0 134.7 154.8)">−0.5</text>
</g>
</g>
<g id="c_xtick_12">
<g id="c_line2d_14">
<path d="M138.2 130l2.5.8" style="fill: none; stroke: #000000; stroke-width: 0.8; stroke-linecap: square"/>
</g>
<g id="c_text_13">
<text style="font-size: 5.6px; font-family: 'DejaVu Sans', sans-serif; text-anchor: middle" x="146.6" y="142.3" transform="rotate(-0 146.6 142.3)">0.0</text>
</g>
</g>
<g id="c_xtick_13">
<g id="c_line2d_15">
<path d="M149.8 118.2l2.4.7" style="fill: none; stroke: #000000; stroke-width: 0.8; stroke-linecap: square"/>
</g>
<g id="c_text_14">
<text style="font-size: 5.6px; font-family: 'DejaVu Sans', sans-serif; text-anchor: middle" x="158" y="130.3" transform="rotate(-0 158 130.3)">0.5</text>
</g>
</g>
<g id="c_xtick_14">
<g id="c_line2d_16">
<path d="M160.9 106.8l2.4.7" style="fill: none; stroke: #000000; stroke-width: 0.8; stroke-linecap: square"/>
</g>
<g id="c_text_15">
<text style="font-size: 5.6px; font-family: 'DejaVu Sans', sans-serif; text-anchor: middle" x="169" y="118.8" transform="rotate(-0 169 118.8)">1.0</text>
</g>
</g>
<g id="c_text_16">
<!-- $v_2$ -->
<g transform="translate(154.2 150.4) rotate(-45.7)">
<text>
<tspan x="0" y="-0.7" style="font-style: oblique; font-size: 5.8px; font-family: 'DejaVu Sans', sans-serif">v</tspan>
<tspan x="3.4" y="0.3" style="font-size: 4.1px; font-family: 'DejaVu Sans', sans-serif">2</tspan>
</text>
</g>
</g>
</g>
<g id="c_axis3d_3">
<g id="c_line2d_17">
<path d="M164.9 103.8l3.4-74.8" style="fill: none; stroke: #000000; stroke-width: 0.8; stroke-linecap: square"/>
</g>
<g id="c_xtick_15">
<g id="c_line2d_18">
<path d="M164.2 100.2l2.4.7" style="fill: none; stroke: #000000; stroke-width: 0.8; stroke-linecap: square"/>
</g>
<g id="c_text_17">
<text style="font-size: 5.6px; font-family: 'DejaVu Sans', sans-serif; text-anchor: middle" x="176.1" y="103.1" transform="rotate(-0 176.1 103.1)">0.950</text>
</g>
</g>
<g id="c_xtick_16">
<g id="c_line2d_19">
<path d="M164.6 91.8l2.4.7" style="fill: none; stroke: #000000; stroke-width: 0.8; stroke-linecap: square"/>
</g>
<g id="c_text_18">
<text style="font-size: 5.6px; font-family: 'DejaVu Sans', sans-serif; text-anchor: middle" x="176.6" y="94.8" transform="rotate(-0 176.6 94.8)">0.975</text>
</g>
</g>
<g id="c_xtick_17">
<g id="c_line2d_20">
<path d="M165 83.4l2.4.7" style="fill: none; stroke: #000000; stroke-width: 0.8; stroke-linecap: square"/>
</g>
<g id="c_text_19">
<text style="font-size: 5.6px; font-family: 'DejaVu Sans', sans-serif; text-anchor: middle" x="177" y="86.3" transform="rotate(-0 177 86.3)">1.000</text>
</g>
</g>
<g id="c_xtick_18">
<g id="c_line2d_21">
<path d="M165.3 74.9l2.5.7" style="fill: none; stroke: #000000; stroke-width: 0.8; stroke-linecap: square"/>
</g>
<g id="c_text_20">
<text style="font-size: 5.6px; font-family: 'DejaVu Sans', sans-serif; text-anchor: middle" x="177.5" y="77.8" transform="rotate(-0 177.5 77.8)">1.025</text>
</g>
</g>
<g id="c_xtick_19">
<g id="c_line2d_22">
<path d="M165.7 66.3l2.5.6" style="fill: none; stroke: #000000; stroke-width: 0.8; stroke-linecap: square"/>
</g>
<g id="c_text_21">
<text style="font-size: 5.6px; font-family: 'DejaVu Sans', sans-serif; text-anchor: middle" x="177.9" y="69.2" transform="rotate(-0 177.9 69.2)">1.050</text>
</g>
</g>
<g id="c_xtick_20">
<g id="c_line2d_23">
<path d="M166.1 57.6l2.5.6" style="fill: none; stroke: #000000; stroke-width: 0.8; stroke-linecap: square"/>
</g>
<g id="c_text_22">
<text style="font-size: 5.6px; font-family: 'DejaVu Sans', sans-serif; text-anchor: middle" x="178.4" y="60.5" transform="rotate(-0 178.4 60.5)">1.075</text>
</g>
</g>
<g id="c_xtick_21">
<g id="c_line2d_24">
<path d="M166.5 48.8l2.5.6" style="fill: none; stroke: #000000; stroke-width: 0.8; stroke-linecap: square"/>
</g>
<g id="c_text_23">
<text style="font-size: 5.6px; font-family: 'DejaVu Sans', sans-serif; text-anchor: middle" x="178.8" y="51.8" transform="rotate(-0 178.8 51.8)">1.100</text>
</g>
</g>
<g id="c_xtick_22">
<g id="c_line2d_25">
<path d="M166.9 39.9l2.5.7" style="fill: none; stroke: #000000; stroke-width: 0.8; stroke-linecap: square"/>
</g>
<g id="c_text_24">
<text style="font-size: 5.6px; font-family: 'DejaVu Sans', sans-serif; text-anchor: middle" x="179.3" y="42.9" transform="rotate(-0 179.3 42.9)">1.125</text>
</g>
</g>
<g id="c_xtick_23">
<g id="c_line2d_26">
<path d="M167.3 30.9l2.6.7" style="fill: none; stroke: #000000; stroke-width: 0.8; stroke-linecap: square"/>
</g>
<g id="c_text_25">
<text style="font-size: 5.6px; font-family: 'DejaVu Sans', sans-serif; text-anchor: middle" x="179.8" y="34" transform="rotate(-0 179.8 34)">1.150</text>
</g>
</g>
</g>
<g id="c_axes_1">
<g clip-path="url(#c_p4a8f5f124e)" stroke="#000000" stroke-width="0.6" stroke-linejoin="round"><path d="M90.1 74.1l2.1-7 1.2 9.3z" fill="#3e4a89"/>
<path d="M92.2 67.1l2.1-.5 1.2 3.7-2.1 6.1z" fill="#39568c"/>
<path d="M81.4 70.2l2.1-3.6 1.2 4.3z" fill="#375a8c"/>
<path d="M84.7 70.9l2.1-10.9 1.2 7.7z" fill="#32648e"/>
<path d="M97.6 72.9l2.2-10.2 1.1 9.9z" fill="#375b8d"/>
<path d="M86.8 60l2.1 4.5 1.2 9.6-2.1-6.4z" fill="#33638d"/>
<path d="M88.9 64.5l2.1 4.6 1.2-2-2.1 7z" fill="#355e8d"/>
<path d="M94.3 66.6l2.1-.2 1.2 6.5-2.1-2.6z" fill="#365d8d"/>
<path d="M78.1 68l2.1-1.6 1.2 3.8z" fill="#355f8d"/>
<path d="M74.8 73.2l2-9.3 1.3 4.1-2.1 1.2z" fill="#355e8d"/>
<path d="M85 90.6l2.1 3.6 1.2-4.7-2.1-.7z" fill="#481467"/>
<path d="M84.1 88.5l2.1.3 1.2-11.3-2.1 4.4z" fill="#472d7b"/>
<path d="M82.8 84.2l2.2 6.4 1.2-1.8-2.1-.3z" fill="#481f70"/>
<path d="M99.8 62.7l2.1-2.2 1.1 15.2-2.1-3.1z" fill="#33628d"/>
<path d="M86.2 88.8l2.1.7 1.2-3.2-2.1-8.8z" fill="#482979"/>
<path d="M81.9 75l2.2 13.5 1.2-6.6-2.1-5.6z" fill="#443b84"/>
<path d="M83.5 66.6l2.1-3.7 1.2-2.9-2.1 10.9z" fill="#306a8e"/>
<path d="M91.6 85.7l2.1 1.8 1.2.9-2.1-7.8z" fill="#472a7a"/>
<path d="M89.5 86.3l2.1-.6 1.2-5.1-2.1-1.9z" fill="#463480"/>
<path d="M88.3 89.5l2.1-3.7 1.2-.1-2.1.6z" fill="#482677"/>
<path d="M80.2 66.4l2.1-4.4 1.2 4.6-2.1 3.6z" fill="#31688e"/>
<path d="M101.9 60.5l2.1 5.1 1.1 6.2-2.1 3.9z" fill="#33628d"/>
<path d="M92.8 80.6l2.1 7.8 1.2-10.3-2.1-3.9z" fill="#433e85"/>
<path d="M87.1 94.2l2.1-2.6 1.2-5.8-2.1 3.7z" fill="#481b6d"/>
<path d="M71.4 65.1l2.1-.7 1.3 8.8z" fill="#32658e"/>
<path d="M96.4 66.4l2.2.7 1.2-4.4-2.2 10.2z" fill="#31668e"/>
<path d="M93.7 87.5l2.1 2.1 1.2-9.2-2.1 8z" fill="#482878"/>
<path d="M91 69.1l2.1-5.6 1.2 3.1-2.1.5z" fill="#31688e"/>
<path d="M94.9 88.4l2.1-8 1.2 1.1-2.1-3.4z" fill="#453882"/>
<path d="M92.5 90.8l2.1 3 1.2-4.2-2.1-2.1z" fill="#481b6d"/>
<path d="M99.1 87.9l2.1.2 1.2-1.4-2.1-1.9z" fill="#482878"/>
<path d="M83.7 87.1l2.1 6.8 1.3.3-2.1-3.6z" fill="#481769"/>
<path d="M90.7 78.7l2.1 1.9 1.2-6.4-2.1-.3z" fill="#3e4989"/>
<path d="M90.4 85.8l2.1 5 1.2-3.3-2.1-1.8z" fill="#482677"/>
<path d="M83.2 76.3l2.1 5.6 1.2-16.1-2.1 4.2z" fill="#3a548c"/>
<path d="M80.7 79.9l2.1 4.3 1.3 4.3-2.2-13.5z" fill="#443983"/>
<path d="M64.9 74.2l1.9-8.9 1.3 5.4z" fill="#355f8d"/>
<path d="M94.6 93.8l2.1-1.5 1.2.2-2.1-2.9z" fill="#481668"/>
<path d="M87.4 77.5l2.1 8.8 1.2-7.6-2.1-8.8z" fill="#404688"/>
<path d="M97 80.4l2.1 7.5 1.2-3.1-2.1-3.3z" fill="#463480"/>
<path d="M95.8 89.6l2.1 2.9 1.2-4.6-2.1-7.5z" fill="#482677"/>
<path d="M97.9 92.5l2.1-1.2 1.2-3.2-2.1-.2z" fill="#481d6f"/>
<path d="M94 74.2l2.1 3.9 1.2-4.6-2.1-2.7z" fill="#3a538b"/>
<path d="M96.1 78.1l2.1 3.4 1.3-8.4-2.2.4z" fill="#3e4c8a"/>
<path d="M76.8 63.9l2.1-.4 1.3 2.9-2.1 1.6z" fill="#2f6c8e"/>
<path d="M89.8 70.1l2.1 3.8 1.2-10.4-2.1 5.6z" fill="#33628d"/>
<path d="M85.8 93.9l2.1-3.5 1.3 1.2-2.1 2.6z" fill="#481467"/>
<path d="M88.6 69.9l2.1 8.8 1.2-4.8-2.1-3.8z" fill="#39568c"/>
<path d="M95.2 70.8l2.1 2.7 1.3-6.4-2.2-.7z" fill="#33628d"/>
<path d="M101.2 88.1l2.1 2.8 1.3-6.9-2.2 2.7z" fill="#482878"/>
<path d="M87.7 61.1l2.1 9 1.2-1-2.1-4.6z" fill="#2f6b8e"/>
<path d="M73.5 64.4l2.1.8 1.2-1.3-2 9.3z" fill="#30698e"/>
<path d="M89.2 91.6l2.1 1.4 1.2-2.2-2.1-5z" fill="#481d6f"/>
<path d="M93.1 63.5l2.1 7.3 1.2-4.4-2.1.2z" fill="#30698e"/>
<path d="M104 65.6l2.2-.9 1.1 5.5-2.2 1.6z" fill="#31668e"/>
<path d="M81.6 86.5l2.1.6 1.3 3.5-2.2-6.4z" fill="#482979"/>
<path d="M82.3 62l2.1 8 1.2-7.1-2.1 3.7z" fill="#2e6d8e"/>
<path d="M98.2 81.5l2.1 3.3 1.3-11.8-2.1.1z" fill="#3f4889"/>
<path d="M72.9 90l2.1 3.8 1.2-10-2.1.8z" fill="#482576"/>
<path d="M100.3 84.8l2.1 1.9 1.3-9.5-2.1-4.2z" fill="#424086"/>
<path d="M91.9 73.9l2.1.3 1.2-3.4-2.1-7.3z" fill="#355f8d"/>
<path d="M91.3 93l2.1-1.9 1.2 2.7-2.1-3z" fill="#481769"/>
<path d="M85.3 81.9l2.1-4.4 1.2-7.6-2.1-4.1z" fill="#39558c"/>
<path d="M70.8 86.2l2.1 3.8 1.2-5.4-2.1-5.1z" fill="#46307e"/>
<path d="M100 91.3l2.1 1 1.2-1.4-2.1-2.8z" fill="#481d6f"/>
<path d="M79.5 84.7l2.1 1.8 1.2-2.3-2.1-4.3z" fill="#453581"/>
<path d="M81 65.8l2.2 10.5 1.2-6.3-2.1-8z" fill="#32658e"/>
<path d="M103.3 90.9l2.2-.2 1.2-2.8-2.1-3.9z" fill="#482677"/>
<path d="M75 93.8l2.1-1.5 1.2-4.9-2.1-3.6z" fill="#482374"/>
<path d="M78.3 87.4l2.1 4.1 1.2-5-2.1-1.8z" fill="#482979"/>
<path d="M102.4 86.7l2.2-2.7 1.2-5-2.1-1.8z" fill="#433d84"/>
<path d="M77.4 81.6l2.1 3.1 1.2-4.8-2.1-2.7z" fill="#424086"/>
<path d="M85.6 62.9l2.1-1.8 1.2 3.4-2.1-4.5z" fill="#2a778e"/>
<path d="M79.8 71.6l2.1 3.4 1.3 1.3-2.2-10.5z" fill="#365c8d"/>
<path d="M97.3 73.5l2.2-.4 1.2-7.4-2.1 1.4z" fill="#33628d"/>
<path d="M68.1 70.7l2-11.3 1.3 5.7z" fill="#2d708e"/>
<path d="M96.7 92.3l2.1-3.3 1.2 2.3-2.1 1.2z" fill="#481c6e"/>
<path d="M76.2 83.8l2.1 3.6 1.2-2.7-2.1-3.1z" fill="#453581"/>
<path d="M78.6 77.2l2.1 2.7 1.2-4.9-2.1-3.4z" fill="#3b518b"/>
<path d="M77.1 92.3l2.1 0 1.2-.8-2.1-4.1z" fill="#481d6f"/>
<path d="M76.5 73.1l2.1 4.1 1.2-5.6-2.1-.5z" fill="#38598c"/>
<path d="M71.6 88.5l2.1-.9 1.3 6.2-2.1-3.8z" fill="#482173"/>
<path d="M102.1 92.3l2.2-.9 1.2-.7-2.2.2z" fill="#481d6f"/>
<path d="M74.1 84.6l2.1-.8 1.2-2.2-2.1-5.9z" fill="#423f85"/>
<path d="M78.9 63.5l2.1 2.3 1.3-3.8-2.1 4.4z" fill="#2c728e"/>
<path d="M84.4 70l2.1-4.2 1.2-4.7-2.1 1.8z" fill="#2d718e"/>
<path d="M75.3 75.7l2.1 5.9 1.2-4.4-2.1-4.1z" fill="#3c4f8a"/>
<path d="M80.4 91.5l2.1-3 1.2-1.4-2.1-.6z" fill="#482878"/>
<path d="M72 79.5l2.1 5.1 1.2-8.9-2.1-1.1z" fill="#3e4989"/>
<path d="M75.6 65.2l2.1 5.9 1.2-7.6-2.1.4z" fill="#2e6f8e"/>
<path d="M69.5 83l2.1 5.5 1.3 1.5-2.1-3.8z" fill="#472d7b"/>
<path d="M99.5 73.1l2.1-.1 1.2-1.7-2.1-5.6z" fill="#34618d"/>
<path d="M63.6 72.6l1.9-10.3 1.3 3-1.9 8.9z" fill="#31678e"/>
<path d="M98.6 67.1l2.1-1.4 1.2-5.2-2.1 2.2z" fill="#2c738e"/>
<path d="M104.6 84l2.1 3.9 1.2-10.1-2.1 1.2z" fill="#433e85"/>
<path d="M77.7 71.1l2.1.5 1.2-5.8-2.1-2.3z" fill="#30698e"/>
<path d="M86.5 65.8l2.1 4.1 1.2.2-2.1-9z" fill="#2e6d8e"/>
<path d="M105.5 90.7l2.1 2.3 1.3-11.2-2.2 6.1z" fill="#482979"/>
<path d="M73.7 87.6l2.1 2.5 1.3 2.2-2.1 1.5z" fill="#482071"/>
<path d="M100.7 65.7l2.1 5.6 1.2-5.7-2.1-5.1z" fill="#2d708e"/>
<path d="M60.2 73.7l2-7.9 1.4 6.8z" fill="#33628d"/>
<path d="M106.2 64.7l2.1-.3 1.1 1.6-2.1 4.2z" fill="#2e6e8e"/>
<path d="M93.4 91.1l2.1-4.4 1.2 5.6-2.1 1.5z" fill="#482071"/>
<path d="M82.5 88.5l2.1.6 1.2 4.8-2.1-6.8z" fill="#482576"/>
<path d="M87.9 90.4l2.2-4.6 1.2 7.2-2.1-1.4z" fill="#482374"/>
<path d="M101.6 73l2.1 4.2 1.3-10.6-2.2 4.7z" fill="#355f8d"/>
<path d="M104.3 91.4l2.1.7 1.2.9-2.1-2.3z" fill="#481d6f"/>
<path d="M70.1 59.4l2.2 6.3 1.2-1.3-2.1.7z" fill="#2b758e"/>
<path d="M74.3 64l2.2 9.1 1.2-2-2.1-5.9z" fill="#30698e"/>
<path d="M102.8 71.3l2.2-4.7 1.2-1.9-2.2.9z" fill="#2e6d8e"/>
<path d="M110.4 68.3l2.2-3.5 1 10.6-2.1-4.6z" fill="#31668e"/>
<path d="M108.3 64.4l2.1 3.9 1.1 2.5-2.1-4.8z" fill="#2e6d8e"/>
<path d="M73.2 74.6l2.1 1.1 1.2-2.6-2.2-9.1z" fill="#34608d"/>
<path d="M103.7 77.2l2.1 1.8 1.3-8.8-2.1-3.6z" fill="#365c8d"/>
<path d="M98.8 89l2.2-1.4 1.1 4.7-2.1-1z" fill="#482576"/>
<path d="M79.2 92.3l2-5.4 1.3 1.6-2.1 3z" fill="#482677"/>
<path d="M66.8 65.3l2.1-3.7 1.2-2.2-2 11.3z" fill="#2b758e"/>
<path d="M72.3 65.7l2-1.7 1.3 1.2-2.1-.8z" fill="#2c738e"/>
<path d="M69.8 71.6l2.2 7.9 1.2-4.9-2.2-8.3z" fill="#355e8d"/>
<path d="M75.8 90.1l2.1-.4 1.3 2.6-2.1 0z" fill="#482374"/>
<path d="M68.5 70.8l2.3 15.4 1.2-6.7-2.2-7.9z" fill="#3b518b"/>
<path d="M84.6 89.1l2.1-3.4 1.2 4.7-2.1 3.5z" fill="#482878"/>
<path d="M105.8 79l2.1-1.2 1.3-7.7-2.1.1z" fill="#375b8d"/>
<path d="M106.4 92.1l2.1.3 1.3-3.2-2.2 3.8z" fill="#482173"/>
<path d="M106.7 87.9l2.2-6.1 1.2-6.4-2.2 2.4z" fill="#3f4788"/>
<path d="M71 66.3l2.2 8.3 1.1-10.6-2 1.7z" fill="#2e6e8e"/>
<path d="M112.6 64.8l2.1 3.5 1.1 4.3-2.2 2.8z" fill="#31668e"/>
<path d="M95.5 86.7l2.1 5.4 1.2-3.1-2.1 3.3z" fill="#482878"/>
<path d="M90.1 85.8l2.1-.4 1.2 5.7-2.1 1.9z" fill="#472d7b"/>
<path d="M67.3 78.2l2.2 4.8 1.3 3.2-2.3-15.4z" fill="#3e4c8a"/>
<path d="M105 66.6l2.1 3.6 1.2-5.8-2.1.3z" fill="#2c718e"/>
<path d="M68.2 87.3l2.1-1.5 1.3 2.7-2.1-5.5z" fill="#453581"/>
<path d="M114.7 68.3l2.1 2.2 1.1 5.9-2.1-3.8z" fill="#33628d"/>
<path d="M116.8 70.5l2.1 2.6 1.1 4.2-2.1-.9z" fill="#365c8d"/>
<path d="M101 87.6l2.1.7 1.2 3.1-2.2.9z" fill="#482979"/>
<path d="M107.6 93l2.2-3.8 1.2-8-2.1.6z" fill="#453581"/>
<path d="M59 75.4l1.8-12.8 1.4 3.2-2 7.9z" fill="#306a8e"/>
<path d="M66.1 84.1l2.1 3.2 1.3-4.3-2.2-4.8z" fill="#424086"/>
<path d="M107.1 70.2l2.1-.1 1.2-1.8-2.1-3.9z" fill="#2e6d8e"/>
<path d="M103.1 88.3l2.1 7.2 1.2-3.4-2.1-.7z" fill="#482374"/>
<path d="M68.9 61.6l2.1 4.7 1.3-.6-2.2-6.3z" fill="#297b8e"/>
<path d="M62.2 65.8l2.1.6 1.2-4.1-1.9 10.3z" fill="#2c718e"/>
<path d="M118.9 73.1l2.3-3.1 .9 12.1-2.1-4.8z" fill="#38598c"/>
<path d="M67.7 69.4l2.1 2.2 1.2-5.3-2.1-4.7z" fill="#2d718e"/>
<path d="M70.3 85.8l2.1.8 1.3 1-2.1.9z" fill="#463480"/>
<path d="M65.5 62.3l2.2 7.1 1.2-7.8-2.1 3.7z" fill="#2a778e"/>
<path d="M72.4 86.6l2.2 6.3 1.2-2.8-2.1-2.5z" fill="#472d7b"/>
<path d="M67 89.3l2.1 2.6 1.2-6.1-2.1 1.5z" fill="#472f7d"/>
<path d="M105.2 95.5l2.2-3 1.1-.1-2.1-.3z" fill="#482071"/>
<path d="M107.9 77.8l2.2-2.4 1.2-4.7-2.1-.6z" fill="#34608d"/>
<path d="M108.5 92.4l2.2-.4 1.2-1.9-2.1-.9z" fill="#482878"/>
<path d="M64.8 81l2.2 8.3 1.2-2-2.1-3.2z" fill="#443b84"/>
<path d="M97.6 92.1l2.2-3.9 1.2-.6-2.2 1.4z" fill="#472e7c"/>
<path d="M109.2 70.1l2.1.6 1.3-5.9-2.2 3.5z" fill="#2e6f8e"/>
<path d="M66.4 67.5l2.1 3.3 1.3.8-2.1-2.2z" fill="#2f6b8e"/>
<path d="M109.8 89.2l2.1.9 1.3-6.8-2.2-2.1z" fill="#443a83"/>
<path d="M81.2 86.9l2.1-4.4 1.3 6.6-2.1-.6z" fill="#453882"/>
<path d="M65.8 92.2l2-2.4 1.3 2.1-2.1-2.6z" fill="#472a7a"/>
<path d="M60.3 91.1l2.1 1 1.2-2.7-2.1-1.5z" fill="#472d7b"/>
<path d="M64.3 66.4l2.1 1.1 1.3 1.9-2.2-7.1z" fill="#2b758e"/>
<path d="M77.9 89.7l2.1-7.7 1.2 4.9-2 5.4z" fill="#453581"/>
<path d="M63.9 75.4l2.2 8.7 1.2-5.9-2.2-7z" fill="#39568c"/>
<path d="M74.6 92.9l2-8.1 1.3 4.9-2.1.4z" fill="#472f7d"/>
<path d="M63.6 89.4l2.2 2.8 1.2-2.9-2.2-8.3z" fill="#463480"/>
<path d="M110.7 92l2.1 1.4 1.2-3.4-2.1.1z" fill="#482979"/>
<path d="M92.2 85.4l2.1-3.1 1.2 4.4-2.1 4.4z" fill="#443a83"/>
<path d="M86.7 85.7l2.1-5.2 1.3 5.3-2.2 4.6z" fill="#433e85"/>
<path d="M65.1 71.2l2.2 7 1.2-7.4-2.1-3.3z" fill="#31678e"/>
<path d="M111.9 90.1l2.1-.1 1.3-8.2-2.1 1.5z" fill="#443b84"/>
<path d="M57.6 70.3l2-3.6 1.2-4.1-1.8 12.8z" fill="#2d708e"/>
<path d="M59 90.9l2.2 7.1 1.2-5.9-2.1-1z" fill="#482475"/>
<path d="M108.9 81.8l2.1-.6 1.3-11.5-2.2 5.7z" fill="#38598c"/>
<path d="M111.3 70.7l2.2-.3 1.2-2.1-2.1-3.5z" fill="#2d718e"/>
<path d="M69.1 91.9l2-5.9 1.3.6-2.1-.8z" fill="#453781"/>
<path d="M101.9 89.4l2.1 2.8 1.2 3.3-2.1-7.2z" fill="#472a7a"/>
<path d="M54.3 76.9l1.9-10.1 1.4 3.5z" fill="#30698e"/>
<path d="M115.6 72.4l2.1 3.9 1.2-3.2-2.1-2.6z" fill="#32648e"/>
<path d="M62.4 92.1l2-3 1.4 3.1-2.2-2.8z" fill="#472d7b"/>
<path d="M113.5 70.4l2.1 2 1.2-1.9-2.1-2.2z" fill="#2f6c8e"/>
<path d="M112.8 93.4l2.1 4.2 1.3-10-2.2 2.4z" fill="#482878"/>
<path d="M99.8 88.2l2.1 1.2 1.2-1.1-2.1-.7z" fill="#453581"/>
<path d="M107.4 92.5l2.2-4.5 1.1 4-2.2.4z" fill="#472c7a"/>
<path d="M114.4 78.4l2.1.8 1.2-2.9-2.1-3.9z" fill="#375b8d"/>
<path d="M110.1 75.4l2.2-5.7 1.2.7-2.2.3z" fill="#30698e"/>
<path d="M113.2 83.3l2.1-1.5 1.2-2.6-2.1-.8z" fill="#3c4f8a"/>
<path d="M121.2 70l2.2-2.7-1.3 14.8z" fill="#32658e"/>
<path d="M111 81.2l2.2 2.1 1.2-4.9-2.1-8.7z" fill="#39568c"/>
<path d="M61.5 87.9l2.1 1.5 1.2-8.4-2.2-6.7z" fill="#3f4788"/>
<path d="M62.6 74.3l2.2 6.7 1.3 3.1-2.2-8.7z" fill="#39558c"/>
<path d="M59.9 98.4l2.1 2.9 1.2-6.4-2 3.1z" fill="#471365"/>
<path d="M111.6 95.2l2.2.6 1.1 1.8-2.1-4.2z" fill="#481d6f"/>
<path d="M63 65.4l2.1 5.8 1.3-3.7-2.1-1.1z" fill="#2b748e"/>
<path d="M60.8 62.6l2.2 2.8 1.3 1-2.1-.6z" fill="#297b8e"/>
<path d="M57.7 94.3l2.2 4.1 1.3-.4-2.2-7.1z" fill="#481d6f"/>
<path d="M71.1 86l2.2 1.1 1.3 5.8-2.2-6.3z" fill="#453882"/>
<path d="M61.2 98l2-3.1 1.2-5.8-2 3z" fill="#482576"/>
<path d="M104 92.2l2.2-4.2 1.2 4.5-2.2 3z" fill="#472a7a"/>
<path d="M64.4 89.1l2.2 6 1.2-5.3-2 2.4z" fill="#472c7a"/>
<path d="M67.8 89.8l2.1.1 1.2-3.9-2 5.9z" fill="#463480"/>
<path d="M112.3 69.7l2.1 8.7 1.2-6-2.1-2z" fill="#31678e"/>
<path d="M109.6 88l2 7.2 1.2-1.8-2.1-1.4z" fill="#472a7a"/>
<path d="M117.7 76.3l2.3-2.5 1.2-3.8-2.3 3.1z" fill="#31668e"/>
<path d="M94.3 82.3l2.2-1.5 1.1 11.3-2.1-5.4z" fill="#424186"/>
<path d="M83.3 82.5l2.2-4.1 1.2 7.3-2.1 3.4z" fill="#3f4788"/>
<path d="M114.9 97.6l2.3-3.6 1.2-4.8-2.2-1.6z" fill="#472c7a"/>
<path d="M116.5 79.2l2.2-1.1 1.3-4.3-2.3 2.5z" fill="#365c8d"/>
<path d="M58 79.1l2.3 12 1.2-3.2-2.3-15z" fill="#3e4a89"/>
<path d="M113.8 95.8l2.2.8 1.2-2.6-2.3 3.6z" fill="#481d6f"/>
<path d="M114 90l2.2-2.4 1.3-7.3-2.2 1.5z" fill="#414487"/>
<path d="M66.6 95.1l2.1-1.7 1.2-3.5-2.1-.1z" fill="#472d7b"/>
<path d="M61.7 64.5l2.2 10.9 1.2-4.2-2.1-5.8z" fill="#2c728e"/>
<path d="M115.3 81.8l2.2-1.5 1.2-2.2-2.2 1.1z" fill="#3a548c"/>
<path d="M56.7 81.1l2.3 9.8 1.3.2-2.3-12z" fill="#414487"/>
<path d="M63.2 94.9l2.1-2.6 1.3 2.8-2.2-6z" fill="#472c7a"/>
<path d="M56.2 66.8l2.1.6 1.3-.7-2 3.6z" fill="#2a778e"/>
<path d="M52.9 70.4l1.9-7.3 1.4 3.7-1.9 10.1z" fill="#2c728e"/>
<path d="M88.8 80.5l2.2-3.5 1.2 8.4-2.1.4z" fill="#3c4f8a"/>
<path d="M59.2 72.9l2.3 15 1.1-13.6-2.2-4.6z" fill="#34618d"/>
<path d="M73.3 87.1l2-6.1 1.3 3.8-2 8.1z" fill="#424186"/>
<path d="M96.5 80.8l2.1-2.8 1.2 10.2-2.2 3.9z" fill="#3f4788"/>
<path d="M62 101.3l2-6.1 1.3-2.9-2.1 2.6z" fill="#482173"/>
<path d="M59.6 66.7l2.1-2.2 1.3.9-2.2-2.8z" fill="#27808e"/>
<path d="M69.9 89.9l2.1-1.6 1.3-1.2-2.2-1.1z" fill="#433e85"/>
<path d="M76.6 84.8l2.1-4.4 1.3 1.6-2.1 7.7z" fill="#3e4989"/>
<path d="M106.2 88l2.2 2.9 1.2-2.9-2.2 4.5z" fill="#453781"/>
<path d="M60.4 69.7l2.2 4.6 1.3 1.1-2.2-10.9z" fill="#2d708e"/>
<path d="M80 82l2.1-4.9 1.2 5.4-2.1 4.4z" fill="#3c508b"/>
<path d="M116.2 87.6l2.2 1.6 1.3-9.4-2.2.5z" fill="#3e4989"/>
<path d="M126.6 71.4l1.9 11.7-1-1.9z" fill="#365c8d"/>
<path d="M118.7 78.1l2.2.9 1.3-9.4-2.2 4.2z" fill="#32658e"/>
<path d="M65.3 92.3l2.1-1.4 1.3 2.5-2.1 1.7z" fill="#472e7c"/>
<path d="M117.5 80.3l2.2-.5 1.2-.8-2.2-.9z" fill="#375a8c"/>
<path d="M116 96.6l2.1.1 1.3-6.5-2.2 3.8z" fill="#482979"/>
<path d="M108.4 90.9l2.1-1.1 1.1 5.4-2-7.2z" fill="#463480"/>
<path d="M110.5 89.8l2.2 2.7 1.1 3.3-2.2-.6z" fill="#472d7b"/>
<path d="M55.4 80.5l2.3 13.8 1.3-3.4-2.3-9.8z" fill="#414287"/>
<path d="M120 73.8l2.2-4.2 1.2-2.3-2.2 2.7z" fill="#2c738e"/>
<path d="M58.3 67.4l2.1 2.3 1.3-5.2-2.1 2.2z" fill="#297b8e"/>
<path d="M58.4 89.9l2.2 3.3 1.4 8.1-2.1-2.9z" fill="#482576"/>
<path d="M114.8 96.7l2.1 5.2 1.2-5.2-2.1-.1z" fill="#481c6e"/>
<path d="M124.4 68.9l2.2 2.5 .9 9.8-2.1-3.3z" fill="#31678e"/>
<path d="M112.7 92.5l2.1 4.2 1.2-.1-2.2-.8z" fill="#482677"/>
<path d="M117.2 94l2.2-3.8 1.3-7.1-2.3 6.1z" fill="#443b84"/>
<path d="M56.3 87.9l2.1 2 1.5 8.5-2.2-4.1z" fill="#46307e"/>
<path d="M68.7 93.4l2-9.3 1.3 4.2-2.1 1.6z" fill="#433e85"/>
<path d="M98.6 78l2.2 1.1 1.1 10.3-2.1-1.2z" fill="#3d4e8a"/>
<path d="M60.6 93.2l2.2 3.9 1.2-1.9-2 6.1z" fill="#482374"/>
<path d="M122.2 69.6l2.2-.7 1 9-2-10.6z" fill="#2c728e"/>
<path d="M85.5 78.4l2.1-4.2 1.2 6.3-2.1 5.2z" fill="#375b8d"/>
<path d="M51.7 74.5l1.9-7 1.2-4.4-1.9 7.3z" fill="#2a788e"/>
<path d="M100.8 79.1l2.1 2.1 1.1 11-2.1-2.8z" fill="#3e4989"/>
<path d="M50.4 79.1l1.9-9.4 1.3-2.2-1.9 7z" fill="#2e6f8e"/>
<path d="M91 77l2.1-2.4 1.2 7.7-2.1 3.1z" fill="#375b8d"/>
<path d="M57 66.1l2.2 6.8 1.2-3.2-2.1-2.3z" fill="#2a788e"/>
<path d="M54.8 63.1l2.2 3 1.3 1.3-2.1-.6z" fill="#26828e"/>
<path d="M118.4 89.2l2.3-6.1 1.3-6-2.3 2.7z" fill="#3a548c"/>
<path d="M118.1 96.7l2.3-4.1 1.1.2-2.1-2.6z" fill="#46327e"/>
<path d="M55.8 71.2l2.2 7.9 1.2-6.2-2.2-6.8z" fill="#2d718e"/>
<path d="M49.2 82.8l1.8-11.6 1.3-1.5-1.9 9.4z" fill="#31678e"/>
<path d="M119.7 79.8l2.3-2.7 1.2-3.1-2.3 5z" fill="#33638d"/>
<path d="M54.5 73.1l2.2 8 1.3-2-2.2-7.9z" fill="#31678e"/>
<path d="M64 95.2l2.1-2.9 1.3-1.4-2.1 1.4z" fill="#463480"/>
<path d="M120.9 79l2.3-5 1.2-5.1-2.2.7z" fill="#2d708e"/>
<path d="M102.9 81.2l2.2 1.6 1.1 5.2-2.2 4.2z" fill="#3e4989"/>
<path d="M116.9 101.9l2.3-7.6 1.2-1.7-2.3 4.1z" fill="#482878"/>
<path d="M53.9 97.1l2.2 6.1 1.2-4.9-2.2-6.3z" fill="#482374"/>
<path d="M113.7 93.6l2.1 5.5 1.1 2.8-2.1-5.2z" fill="#482374"/>
<path d="M72 88.3l2-9 1.3 1.7-2 6.1z" fill="#3b518b"/>
<path d="M54.1 80.3l2.2 7.6 1.4 6.4-2.3-13.8z" fill="#3e4c8a"/>
<path d="M56.1 103.2l2-3.6 1.2-4-2 2.7z" fill="#481f70"/>
<path d="M111.5 95.7l2.2-2.1 1.1 3.1-2.1-4.2z" fill="#472f7d"/>
<path d="M82.1 77.1l2.1-4.2 1.3 5.5-2.2 4.1z" fill="#32648e"/>
<path d="M115.8 99.1l2.1 3 1.3-7.8-2.3 7.6z" fill="#481f70"/>
<path d="M55.1 92l2.2 6.3 1.1-8.4-2.1-2z" fill="#453882"/>
<path d="M119.4 90.2l2.1 2.6 1.5-13.5-2.3 3.8z" fill="#3e4a89"/>
<path d="M57.3 98.3l2-2.7 1.3-2.4-2.2-3.3z" fill="#46307e"/>
<path d="M127.6 73.1l2.2.4 .9 9.9-2.2-.3z" fill="#33638d"/>
<path d="M129.8 73.5l1.9 12.6-1-2.7z" fill="#375b8d"/>
<path d="M105.1 82.8l2.1 1.8 1.2 6.3-2.2-2.9z" fill="#3e4a89"/>
<path d="M62.8 97.1l2-2.7 1.3-2.1-2.1 2.9z" fill="#472f7d"/>
<path d="M53.6 67.5l2.2 3.7 1.2-5.1-2.2-3z" fill="#26818e"/>
<path d="M109.4 87.4l2.1 8.3 1.2-3.2-2.2-2.7z" fill="#443b84"/>
<path d="M59.3 95.6l2.2 3.8 1.3-2.3-2.2-3.9z" fill="#472a7a"/>
<path d="M75.3 81l2.1-5.3 1.3 4.7-2.1 4.4z" fill="#365d8d"/>
<path d="M67.4 90.9l2-6.7 1.3-.1-2 9.3z" fill="#404688"/>
<path d="M78.7 80.4l2.1-7.1 1.3 3.8-2.1 4.9z" fill="#32648e"/>
<path d="M93.1 74.6l2.2-1.5 1.2 7.7-2.2 1.5z" fill="#32658e"/>
<path d="M53.2 74.5l2.2 6 1.3.6-2.2-8z" fill="#31668e"/>
<path d="M107.2 84.6l2.2 2.8 1.1 2.4-2.1 1.1z" fill="#404688"/>
<path d="M52.3 69.7l2.2 3.4 1.3-1.9-2.2-3.7z" fill="#29798e"/>
<path d="M120.4 92.6l2.1 1.2 1.3-5.6-2.3 4.6z" fill="#443a83"/>
<path d="M125.4 69.8l2.2 3.3 .9 10-1.9-11.7z" fill="#2e6f8e"/>
<path d="M47.9 82.4l1.7-14.6 1.4 3.4-1.8 11.6z" fill="#306a8e"/>
<path d="M119.2 94.3l2.1 5.8 1.2-6.3-2.1-1.2z" fill="#46307e"/>
<path d="M52.4 90.8l2.3 10.6 1.4 1.8-2.2-6.1z" fill="#482677"/>
<path d="M123.2 74l2.2-4.2 1.2 1.6-2.2-2.5z" fill="#2a788e"/>
<path d="M117.9 102.1l2.2-1.8 1.2-.2-2.1-5.8z" fill="#482374"/>
<path d="M87.6 74.2l2.1-3.7 1.3 6.5-2.2 3.5z" fill="#2f6c8e"/>
<path d="M54.7 101.4l2-4.9 1.4 3.1-2 3.6z" fill="#481f70"/>
<path d="M114.6 97.3l2.1 6.9 1.2-2.1-2.1-3z" fill="#481d6f"/>
<path d="M61.5 99.4l2-4.4 1.3-.6-2 2.7z" fill="#472d7b"/>
<path d="M58.1 99.6l2.1-1.9 1.3 1.7-2.2-3.8z" fill="#482677"/>
<path d="M52.8 83.4l2.3 8.6 1.2-4.1-2.2-7.6z" fill="#3c508b"/>
<path d="M116.7 104.2l2.2-1.9 1.2-2-2.2 1.8z" fill="#481a6c"/>
<path d="M51 71.2l2.2 3.3 1.3-1.4-2.2-3.4z" fill="#2a768e"/>
<path d="M120.7 83.1l2.3-3.8 1.2-5.9-2.2 3.7z" fill="#31668e"/>
<path d="M51.5 86.1l2.4 11 1.2-5.1-2.3-8.6z" fill="#404588"/>
<path d="M122 77.1l2.2-3.7 1.2-3.6-2.2 4.2z" fill="#2c728e"/>
<path d="M121.3 100.1l2.2-2.5 1.3-6.6-2.3 2.8z" fill="#46307e"/>
<path d="M51.9 76.7l2.2 3.6 1.3.2-2.2-6z" fill="#31688e"/>
<path d="M70.7 84.1l2-6.8 1.3 2-2 9z" fill="#365c8d"/>
<path d="M95.3 73.1l2.2-.9 1.1 5.8-2.1 2.8z" fill="#2e6d8e"/>
<path d="M112.5 93.1l2.1 4.2 1.2 1.8-2.1-5.5z" fill="#46327e"/>
<path d="M66.1 92.3l2-8.1 1.3 0-2 6.7z" fill="#3e4c8a"/>
<path d="M121.5 92.8l2.3-4.6 1.5-14.8-2.3 5.9z" fill="#38598c"/>
<path d="M120.1 100.3l2.3-4.2 1.1 1.5-2.2 2.5z" fill="#482979"/>
<path d="M130.8 76.3l2 8.2-1.1 1.6z" fill="#365d8d"/>
<path d="M122.5 93.8l2.3-2.8 1.3-5-2.3 2.2z" fill="#404688"/>
<path d="M84.2 72.9l2.1-4.9 1.3 6.2-2.1 4.2z" fill="#2b758e"/>
<path d="M46.4 78.7l2-6 1.2-4.9-1.7 14.6z" fill="#2d708e"/>
<path d="M110.4 85.2l2.1 7.9 1.2.5-2.2 2.1z" fill="#424086"/>
<path d="M60.2 97.7l2-4.5 1.3 1.8-2 4.4z" fill="#46327e"/>
<path d="M128.6 75.1l2.2 1.2 .9 9.8-1.9-12.6z" fill="#2f6b8e"/>
<path d="M49.6 67.8l2.3 8.9 1.3-2.2-2.2-3.3z" fill="#2a788e"/>
<path d="M56.7 96.5l2.1 1 1.4.2-2.1 1.9z" fill="#472e7c"/>
<path d="M118.9 102.3l2.2 2.1 1.3-8.3-2.3 4.2z" fill="#482374"/>
<path d="M115.7 94.8l1.9 13.2 1.3-5.7-2.2 1.9z" fill="#481d6f"/>
<path d="M50.2 85.9l2.2 4.9 1.5 6.3-2.4-11z" fill="#3f4889"/>
<path d="M89.7 70.5l2.2-2.8 1.2 6.9-2.1 2.4z" fill="#29798e"/>
<path d="M51.2 97.8l2.1-1.4 1.4 5-2.3-10.6z" fill="#46327e"/>
<path d="M74 79.3l2.1-7 1.3 3.4-2.1 5.3z" fill="#2e6d8e"/>
<path d="M97.5 72.2l2.1.2 1.2 6.7-2.2-1.1z" fill="#2c718e"/>
<path d="M44 87.8l1.9-5.3 1.2-6.4-1.9 5.7z" fill="#34608d"/>
<path d="M64.8 94.4l2-9.5 1.3-.7-2 8.1z" fill="#3e4c8a"/>
<path d="M53.3 96.4l2.2 3.8 1.2-3.7-2 4.9z" fill="#472c7a"/>
<path d="M108.3 81.2l2.1 4 1.1 10.5-2.1-8.3z" fill="#3c508b"/>
<path d="M77.4 75.7l2.1-6.8 1.3 4.4-2.1 7.1z" fill="#2b748e"/>
<path d="M117.6 108l2.4-7.2 1.1 3.6-2.2-2.1z" fill="#481a6c"/>
<path d="M45.2 81.8l1.9-5.7 1.3-3.4-2 6z" fill="#2e6d8e"/>
<path d="M80.8 73.3l2.1-5.8 1.3 5.4-2.1 4.2z" fill="#29798e"/>
<path d="M50.4 71.4l2.4 12 1.3-3.1-2.2-3.6z" fill="#2f6c8e"/>
<path d="M124.2 73.4l2.4-6.6 1 6.3-2.2-3.3z" fill="#277f8e"/>
<path d="M123.8 88.2l2.3-2.2 1.3-6.8-2.1-5.8z" fill="#33628d"/>
<path d="M99.6 72.4l2.2 1.1 1.1 7.7-2.1-2.1z" fill="#2d708e"/>
<path d="M49.4 84.7l2.1 1.4 1.3-2.7-2.4-12z" fill="#33638d"/>
<path d="M113.5 94.5l2.2.3 1 9.4-2.1-6.9z" fill="#46307e"/>
<path d="M101.8 73.5l2.2 2 1.1 7.3-2.2-1.6z" fill="#2f6c8e"/>
<path d="M126.6 66.8l2 8.3 1.2-1.6-2.2-.4z" fill="#287c8e"/>
<path d="M48 83.2l2.2 2.7 1.3.2-2.1-1.4z" fill="#375a8c"/>
<path d="M106.1 78.3l2.2 2.9 1.1 6.2-2.2-2.8z" fill="#34608d"/>
<path d="M42.7 90.7l1.7-15.2 1.5 7-1.9 5.3z" fill="#365c8d"/>
<path d="M131.8 80.7l2 5.9-1-2.1z" fill="#365d8d"/>
<path d="M104 75.5l2.1 2.8 1.1 6.3-2.1-1.8z" fill="#31678e"/>
<path d="M69.4 84.2l2-8.2 1.3 1.3-2 6.8z" fill="#31678e"/>
<path d="M48.9 90.4l2.3 7.4 1.2-7-2.2-4.9z" fill="#3f4788"/>
<path d="M55.5 100.2l2.1.2 1.2-2.9-2.1-1z" fill="#472f7d"/>
<path d="M121.1 104.4l2.2-.8 1.3-8.6-2.2 1.1z" fill="#472c7a"/>
<path d="M123 79.3l2.3-5.9 1.3-6.6-2.4 6.6z" fill="#297a8e"/>
<path d="M58.8 97.5l2.2.3 1.2-4.6-2 4.5z" fill="#453781"/>
<path d="M45.9 82.5l2.1.7 1.4 1.5-2.3-8.6z" fill="#32648e"/>
<path d="M63.5 95l2-9.5 1.3-.6-2 9.5z" fill="#3e4c8a"/>
<path d="M48.4 72.7l2-1.3 1.5 5.3-2.3-8.9z" fill="#277e8e"/>
<path d="M123.5 97.6l2.4-9.4 1.3-4.9-2.4 7.7z" fill="#3e4c8a"/>
<path d="M124.8 91l2.4-7.7 1.2-.7-2.3 3.4z" fill="#38598c"/>
<path d="M120 100.8l2.1 2 1.2.8-2.2.8z" fill="#482173"/>
<path d="M122.4 96.1l2.2-1.1 1.3-6.8-2.4 9.4z" fill="#423f85"/>
<path d="M47.1 76.1l2.3 8.6 1-13.3-2 1.3z" fill="#2c738e"/>
<path d="M91.9 67.7l2.2-1.9 1.2 7.3-2.2 1.5z" fill="#26828e"/>
<path d="M129.7 75.3l2.1 5.4 1 3.8-2-8.2z" fill="#2f6c8e"/>
<path d="M57.6 100.4l2.1 1.5 1.3-4.1-2.2-.3z" fill="#472e7c"/>
<path d="M111.4 85.1l2.1 9.4 1.1 2.8-2.1-4.2z" fill="#404588"/>
<path d="M127.4 79.2l2.3-3.9 1.1 1-2.2-1.2z" fill="#2c728e"/>
<path d="M126.1 86l2.3-3.4 1.3-7.3-2.3 3.9z" fill="#31688e"/>
<path d="M46.8 87.9l2.1 2.5 1.3-4.5-2.2-2.7z" fill="#39568c"/>
<path d="M49.8 94.2l2.1 1.8 1.4.4-2.1 1.4z" fill="#443983"/>
<path d="M86.3 68l2.2-3.9 1.2 6.4-2.1 3.7z" fill="#25858e"/>
<path d="M125.3 73.4l2.1 5.8 1.2-4.1-2-8.3z" fill="#297b8e"/>
<path d="M54.1 97.9l2.2 5.6 1.3-3.1-2.1-.2z" fill="#472c7a"/>
<path d="M51.9 96l2.2 1.9 1.4 2.3-2.2-3.8z" fill="#453581"/>
<path d="M47.5 88l2.3 6.2 1.4 3.6-2.3-7.4z" fill="#404688"/>
<path d="M41.4 91.7l1.8-9.1 1.2-7.1-1.7 15.2z" fill="#365d8d"/>
<path d="M72.7 77.3l2.1-7.4 1.3 2.4-2.1 7z" fill="#29798e"/>
<path d="M56.3 103.5l2.1-3 1.3 1.4-2.1-1.5z" fill="#482979"/>
<path d="M116.6 98.9l2.2 1.7 1.2.2-2.4 7.2z" fill="#482878"/>
<path d="M44.4 75.5l2.4 12.4 1.2-4.7-2.1-.7z" fill="#31668e"/>
<path d="M123.3 103.6l2.3-5.9 1.2-1.2-2.2-1.5z" fill="#453581"/>
<path d="M62.2 93.2l2.1-4.4 1.2-3.3-2 9.5z" fill="#3d4e8a"/>
<path d="M68.1 84.2l2-8.3 1.3.1-2 8.2z" fill="#2f6c8e"/>
<path d="M42 87.9l1.2-5.3-1.8 9.1z" fill="#38588c"/>
<path d="M114.5 93.5l2.1 5.4 1 9.1-1.9-13.2z" fill="#463480"/>
<path d="M128.4 82.6l2.2-.9 1.2-1-2.1-5.4z" fill="#2e6d8e"/>
<path d="M122.1 102.8l2.3-.6 1.2-4.5-2.3 5.9z" fill="#472a7a"/>
<path d="M82.9 67.5l2.2-5 1.2 5.5-2.1 4.9z" fill="#228d8d"/>
<path d="M94.1 65.8l2.2-.9 1.2 7.3-2.2.9z" fill="#23898e"/>
<path d="M45.3 83.5l2.2 4.5 1.4 2.4-2.1-2.5z" fill="#38598c"/>
<path d="M118.8 100.6l2.1 6.4 1.2-4.2-2.1-2z" fill="#482878"/>
<path d="M109.3 80.6l2.1 4.5 1.1 8-2.1-7.9z" fill="#365d8d"/>
<path d="M120.9 107l2.2 1.7 1.3-6.5-2.3.6z" fill="#481f70"/>
<path d="M76.1 72.3l2.1-6.8 1.3 3.4-2.1 6.8z" fill="#25858e"/>
<path d="M124.6 95l2.2 1.5 1.4-9.2-2.3.9z" fill="#3d4d8a"/>
<path d="M79.5 68.9l2.1-5.9 1.3 4.5-2.1 5.8z" fill="#228d8d"/>
<path d="M133 73.4l1.9 12.4 1.1 1.6-2.2-.8z" fill="#32658e"/>
<path d="M130.6 81.7l2.4-8.3 .8 13.2-2-5.9z" fill="#2e6d8e"/>
<path d="M61 97.8l1.9-8.4 1.4-.6-2.1 4.4z" fill="#3e4c8a"/>
<path d="M117.6 105.8l2.1 4 1.2-2.8-2.1-6.4z" fill="#481f70"/>
<path d="M52.8 100.3l2.1-1.5 1.4 4.7-2.2-5.6z" fill="#46327e"/>
<path d="M88.5 64.1l2.2-2.9 1.2 6.5-2.2 2.8z" fill="#20938c"/>
<path d="M50.5 94.1l2.3 6.2 1.3-2.4-2.2-1.9z" fill="#433d84"/>
<path d="M59.7 101.9l2-7.4 1.2-5.1-1.9 8.4z" fill="#424186"/>
<path d="M119.7 109.8l2.3-5.4 1.1 4.3-2.2-1.7z" fill="#481a6c"/>
<path d="M96.3 64.9l2.2.1 1.1 7.4-2.1-.2z" fill="#228d8d"/>
<path d="M43.2 82.6l2.1.9 1.5 4.4-2.4-12.4z" fill="#30698e"/>
<path d="M127.2 83.3l2.4-7 1 5.4-2.2.9z" fill="#2e6d8e"/>
<path d="M54.9 98.8l2.2 3.9 1.3-2.2-2.1 3z" fill="#472f7d"/>
<path d="M66.8 84.9l2-8.4 1.3-.6-2 8.3z" fill="#2e6f8e"/>
<path d="M112.4 87.4l2.1 6.1 1.2 1.3-2.2-.3z" fill="#3e4c8a"/>
<path d="M107.1 75.5l2.2 5.1 1.1 4.6-2.1-4z" fill="#2e6e8e"/>
<path d="M58.4 100.5l2.1-.8 1.2-5.2-2 7.4z" fill="#453882"/>
<path d="M48.3 88.6l2.2 5.5 1.4 1.9-2.1-1.8z" fill="#3e4a89"/>
<path d="M71.4 76l2.1-7.5 1.3 1.4-2.1 7.4z" fill="#26828e"/>
<path d="M51.5 103.2l2.2 1.9 1.2-6.3-2.1 1.5z" fill="#472f7d"/>
<path d="M125.9 88.2l2.3-.9 1.4-11-2.4 7z" fill="#31678e"/>
<path d="M98.5 65l2.1 1.1 1.2 7.4-2.2-1.1z" fill="#228d8d"/>
<path d="M116.4 105.4l2.1 2.6 1.2 1.8-2.1-4z" fill="#481d6f"/>
<path d="M105 71.4l2.1 4.1 1.2 5.7-2.2-2.9z" fill="#297a8e"/>
<path d="M123.1 108.7l2.3-6.3 1.3-2.7-2.3 2.5z" fill="#472c7a"/>
<path d="M115.5 94.7l2.1 11.1 1.2-5.2-2.2-1.7z" fill="#453781"/>
<path d="M102.8 68.3l2.2 3.1 1.1 6.9-2.1-2.8z" fill="#26828e"/>
<path d="M100.6 66.1l2.2 2.2 1.2 7.2-2.2-2z" fill="#23898e"/>
<path d="M125.6 97.7l2.3-4 1.3-5.5-2.4 8.3z" fill="#3e4a89"/>
<path d="M124.4 102.2l2.3-2.5 1.2-6-2.3 4z" fill="#433d84"/>
<path d="M118.5 108l2.2 4.7 1.3-8.3-2.3 5.4z" fill="#48186a"/>
<path d="M49.2 95.1l2.3 8.1 1.3-2.9-2.3-6.2z" fill="#433d84"/>
<path d="M126.8 96.5l2.4-8.3 1.2-1.9-2.2 1z" fill="#38588c"/>
<path d="M134 80.3l1.9 11.5-1-6z" fill="#33628d"/>
<path d="M57.1 102.7l2.1-1.6 1.3-1.4-2.1.8z" fill="#463480"/>
<path d="M42 87.9l1.8-8.9 1.5 4.5-2.1-.9z" fill="#306a8e"/>
<path d="M46 82l2.3 6.6 1.5 5.6-2.3-6.2z" fill="#365c8d"/>
<path d="M110.3 80.1l2.1 7.3 1.1 7.1-2.1-9.4z" fill="#34608d"/>
<path d="M65.5 85.5l2.1-7.4 1.2-1.6-2 8.4z" fill="#2d708e"/>
<path d="M85.1 62.5l2.1-3.8 1.3 5.4-2.2 3.9z" fill="#1f9e89"/>
<path d="M53.7 105.1l2-3 1.4.6-2.2-3.9z" fill="#46307e"/>
<path d="M90.7 61.2l2.2-1.8 1.2 6.4-2.2 1.9z" fill="#1f9e89"/>
<path d="M122 104.4l2.2-.4 1.2-1.6-2.3 6.3z" fill="#482979"/>
<path d="M55.7 102.1l2.3 6.6 1.2-7.6-2.1 1.6z" fill="#472d7b"/>
<path d="M74.8 69.9l2.1-6.9 1.3 2.5-2.1 6.8z" fill="#20938c"/>
<path d="M120.7 112.7l2.1 2.6 1.4-11.3-2.2.4z" fill="#481a6c"/>
<path d="M113.4 88.1l2.1 6.6 1.1 4.2-2.1-5.4z" fill="#3d4e8a"/>
<path d="M54.5 109.8l2.1-2.6 1.4 1.5-2.3-6.6z" fill="#482374"/>
<path d="M50.1 99.8l2.1-.3 1.5 5.6-2.2-1.9z" fill="#463480"/>
<path d="M43.8 79l2.2 3 1.5 6-2.2-4.5z" fill="#2e6d8e"/>
<path d="M64.3 88.8l2-8 1.3-2.7-2.1 7.4z" fill="#2f6c8e"/>
<path d="M119.6 107.1l2.1 7.2 1.1 1-2.1-2.6z" fill="#471063"/>
<path d="M81.6 63l2.2-4.8 1.3 4.3-2.2 5z" fill="#1fa188"/>
<path d="M52.2 99.5l2.3 10.3 1.2-7.7-2 3z" fill="#472d7b"/>
<path d="M56.6 107.2l2.2 4.7 1.3-3.3-2.1.1z" fill="#481c6e"/>
<path d="M47.9 97.3l2.2 2.5 1.4 3.4-2.3-8.1z" fill="#423f85"/>
<path d="M78.2 65.5l2.2-5.9 1.2 3.4-2.1 5.9z" fill="#1f9e89"/>
<path d="M128.2 87.3l2.2-1 1.4-10.4-2.2.4z" fill="#2c718e"/>
<path d="M70.1 75.9l2.1-7.8 1.3.4-2.1 7.5z" fill="#23898e"/>
<path d="M58 108.7l2.1-.1 1.2-9.9-2.1 2.4z" fill="#472d7b"/>
<path d="M114.4 93l2 12.4 1.2.4-2.1-11.1z" fill="#433d84"/>
<path d="M129.6 76.3l2.2-.4 1.2-2.5-2.4 8.3z" fill="#277e8e"/>
<path d="M40.8 94.1l1.6-18.8 1.4 3.7-1.8 8.9z" fill="#2f6b8e"/>
<path d="M117.4 107.6l2.2-.5 1.1 5.6-2.2-4.7z" fill="#481d6f"/>
<path d="M46.9 86.9l2.3 8.2 1.3-1-2.2-5.5z" fill="#38588c"/>
<path d="M131.8 75.9l2.2 4.4 .9 5.5-1.9-12.4z" fill="#29798e"/>
<path d="M108.2 74.2l2.1 5.9 1.1 5-2.1-4.5z" fill="#2a768e"/>
<path d="M115.3 101.1l2.1 6.5 1.1.4-2.1-2.6z" fill="#472a7a"/>
<path d="M53.2 108l2.2 4.3 1.2-5.1-2.1 2.6z" fill="#481d6f"/>
<path d="M62.9 89.4l2.1-5.6 1.3-3-2 8z" fill="#31678e"/>
<path d="M92.9 59.4l2.2-.9 1.2 6.4-2.2.9z" fill="#20a486"/>
<path d="M55.4 112.3l2.1 2.2 1.3-2.6-2.2-4.7z" fill="#481668"/>
<path d="M60.5 99.7l2-5.6 1.2-6.1-2 6.5z" fill="#3c508b"/>
<path d="M59.2 101.1l2.1-2.4 1.2-4.6-2 5.6z" fill="#414287"/>
<path d="M135.1 79.8l1.9 11-1.1 1z" fill="#33638d"/>
<path d="M122.8 115.3l2.4-6.3 1.3-6.7-2.3 1.7z" fill="#482475"/>
<path d="M130.4 86.3l2.3-3 1.3-3-2.2-4.4z" fill="#2c738e"/>
<path d="M61.7 94.5l2-6.5 1.3-4.2-2.1 5.6z" fill="#34608d"/>
<path d="M132.7 83.3l2.4-3.5 .8 12-1.9-11.5z" fill="#2e6e8e"/>
<path d="M129.2 88.2l2.4-3.5 1.1-1.4-2.3 3z" fill="#30698e"/>
<path d="M111.3 81.7l2.1 6.4 1.1 5.4-2.1-6.1z" fill="#33638d"/>
<path d="M87.2 58.7l2.2-2.7 1.3 5.2-2.2 2.9z" fill="#25ab82"/>
<path d="M125.4 102.4l2.3-2.2 1.4-9.2-2.4 8.7z" fill="#404588"/>
<path d="M126.7 99.7l2.4-8.7 1.1.3-2.3 2.4z" fill="#3b528b"/>
<path d="M57.5 114.5l2.2.4 1.2-5.9-2.1 2.9z" fill="#481467"/>
<path d="M127.9 93.7l2.3-2.4 1.4-6.6-2.4 3.5z" fill="#355f8d"/>
<path d="M51.9 114.8l2.1-3.1 1.4.6-2.2-4.3z" fill="#481769"/>
<path d="M50.9 101.9l2.3 6.1 1.3 1.8-2.3-10.3z" fill="#472f7d"/>
<path d="M124.2 104l2.3-1.7 1.2-2.1-2.3 2.2z" fill="#453882"/>
<path d="M121.7 114.3l2.4-9.8 1.1 4.5-2.4 6.3z" fill="#481b6d"/>
<path d="M106 69.1l2.2 5.1 1.1 6.4-2.2-5.1z" fill="#25858e"/>
<path d="M58.8 111.9l2.1-2.9 1.2-9.2-2 8.8z" fill="#482878"/>
<path d="M39.4 93l1.6-16.6 1.4-1.1-1.6 18.8z" fill="#2f6c8e"/>
<path d="M54 111.7l2.2 3.1 1.3-.3-2.1-2.2z" fill="#471365"/>
<path d="M68.8 76.5l2.1-7.9 1.3-.5-2.1 7.8z" fill="#228d8d"/>
<path d="M95.1 58.5l2.2.1 1.2 6.4-2.2-.1z" fill="#22a884"/>
<path d="M118.4 111.4l2.1 2.9 1.2 0-2.1-7.2z" fill="#48186a"/>
<path d="M73.5 68.5l2.1-6.9 1.3 1.4-2.1 6.9z" fill="#1f9e89"/>
<path d="M45.5 86.3l2.4 11 1.3-2.2-2.3-8.2z" fill="#375b8d"/>
<path d="M46.5 97.7l2.2.1 1.4 2-2.2-2.5z" fill="#3f4788"/>
<path d="M136.1 82.7l1.8 17-.9-8.9z" fill="#365c8d"/>
<path d="M44.6 79.3l2.3 7.6 1.4 1.7-2.3-6.6z" fill="#2e6f8e"/>
<path d="M116.2 107.2l2.2 4.2 1.2-4.3-2.2.5z" fill="#482677"/>
<path d="M48.7 97.8l2.2 4.1 1.3-2.4-2.1.3z" fill="#414287"/>
<path d="M103.8 64.9l2.2 4.2 1.1 6.4-2.1-4.1z" fill="#20938c"/>
<path d="M49.5 101.4l2.4 13.4 1.3-6.8-2.3-6.1z" fill="#472d7b"/>
<path d="M56.2 114.8l2.1-3.5 1.4 3.6-2.2-.4z" fill="#471365"/>
<path d="M97.3 58.6l2.1 1.1 1.2 6.4-2.1-1.1z" fill="#22a884"/>
<path d="M83.8 58.2l2.2-3.8 1.2 4.3-2.1 3.8z" fill="#2cb17e"/>
<path d="M40 90l1-13.6-1.6 16.6z" fill="#306a8e"/>
<path d="M113.2 91.6l2.1 9.5 1.1 4.3-2-12.4z" fill="#3e4989"/>
<path d="M101.6 61.8l2.2 3.1 1.2 6.5-2.2-3.1z" fill="#1f9e89"/>
<path d="M109.1 74.9l2.2 6.8 1.1 5.7-2.1-7.3z" fill="#2a788e"/>
<path d="M60.1 108.6l2-8.8 1.2-7.1-2 6z" fill="#414487"/>
<path d="M76.9 63l2.2-5.7 1.3 2.3-2.2 5.9z" fill="#25ab82"/>
<path d="M99.4 59.7l2.2 2.1 1.2 6.5-2.2-2.2z" fill="#20a486"/>
<path d="M112.3 85.2l2.1 7.8 1.1 1.7-2.1-6.6z" fill="#34618d"/>
<path d="M114.1 99.6l2.1 7.6 1.2.4-2.1-6.5z" fill="#453781"/>
<path d="M67.6 78.1l2-7.9 1.3-1.6-2.1 7.9z" fill="#228d8d"/>
<path d="M80.4 59.6l2.1-4.7 1.3 3.3-2.2 4.8z" fill="#2cb17e"/>
<path d="M89.4 56l2.2-1.9 1.3 5.3-2.2 1.8z" fill="#31b57b"/>
<path d="M42.4 75.3l2.2 4 1.4 2.7-2.2-3z" fill="#277f8e"/>
<path d="M120.5 114.3l2.3-4 1.3-5.8-2.4 9.8z" fill="#482071"/>
<path d="M125.2 109l2.4-7 1.1 2.8-2.2-2.5z" fill="#453581"/>
<path d="M134.8 88.5l2 8 1.1 3.2-1.8-17z" fill="#365d8d"/>
<path d="M126.5 102.3l2.2 2.5 1.5-13.6-2.5 9z" fill="#404688"/>
<path d="M131.6 84.7l2.3-4.6 1.2-.3-2.4 3.5z" fill="#2a778e"/>
<path d="M130.2 91.3l2.4-4.7 1.3-6.5-2.3 4.6z" fill="#2e6f8e"/>
<path d="M66.3 80.8l2-8 1.3-2.6-2 7.9z" fill="#23898e"/>
<path d="M61.3 98.7l2-6 1.2-6.6-2 8z" fill="#365c8d"/>
<path d="M72.2 68.1l2.1-6.9 1.3.4-2.1 6.9z" fill="#20a486"/>
<path d="M59.7 114.9l2-6.5 1.2-6.7-2 7.3z" fill="#472a7a"/>
<path d="M44 81.6l2.5 16.1 1.4-.4-2.4-11z" fill="#33628d"/>
<path d="M133.9 80.1l2.2 2.6 .9 8.1-1.9-11z" fill="#2b758e"/>
<path d="M129.1 91l2.3-2.2 1.2-2.2-2.4 4.7z" fill="#32658e"/>
<path d="M115 107.1l2.3-2.8 1.1 7.1-2.2-4.2z" fill="#472f7d"/>
<path d="M47.3 95.9l2.2 5.5 1.4.5-2.2-4.1z" fill="#3e4989"/>
<path d="M50.3 102.3l2.2 3.4 1.5 6-2.1 3.1z" fill="#472c7a"/>
<path d="M58.3 111.3l2.1 1.1 1.3-4-2 6.5z" fill="#482173"/>
<path d="M62.5 94.1l2-8 1.3-5.1-2.1 7z" fill="#2f6c8e"/>
<path d="M107 68.7l2.1 6.2 1.2 5.2-2.1-5.9z" fill="#228d8d"/>
<path d="M65 83.8l2.1-7.4 1.2-3.6-2 8z" fill="#26828e"/>
<path d="M127.7 100.2l2.5-9 1.2-2.4-2.3 2.2z" fill="#365d8d"/>
<path d="M43.2 77.6l2.3 8.7 1.4.6-2.3-7.6z" fill="#2a788e"/>
<path d="M91.6 54.1l2.2-1 1.3 5.4-2.2.9z" fill="#3bbb75"/>
<path d="M63.7 88l2.1-7 1.3-4.6-2.1 7.4z" fill="#29798e"/>
<path d="M117.3 104.3l2.2 1.6 1 8.4-2.1-2.9z" fill="#472c7a"/>
<path d="M110.1 77.7l2.2 7.5 1.1 2.9-2.1-6.4z" fill="#2a778e"/>
<path d="M52.5 105.7l2.2 2.1 1.5 7-2.2-3.1z" fill="#482878"/>
<path d="M86 54.4l2.2-3.1 1.2 4.7-2.2 2.7z" fill="#40bd72"/>
<path d="M38.8 95.3l1.8-10.3 1.3-4.3-1.9 9.3z" fill="#2f6c8e"/>
<path d="M45 90.1l2.3 5.8 1.4 1.9-2.2-.1z" fill="#39568c"/>
<path d="M131.4 88.8l2.1 5.3 1.3-5.6-2.2-1.9z" fill="#31688e"/>
<path d="M124.1 104.5l2.4-3.1 1.1.6-2.4 7z" fill="#433d84"/>
<path d="M54.7 107.8l2.3 5 1.3-1.5-2.1 3.5z" fill="#482475"/>
<path d="M112.9 96.8l2.1 10.3 1.2.1-2.1-7.6z" fill="#424186"/>
<path d="M119.5 105.9l2.2 4.7 1.1-.3-2.3 4z" fill="#482979"/>
<path d="M60.9 109l2-7.3 1.2-8.4-2 6.5z" fill="#3f4788"/>
<path d="M132.6 86.6l2.2 1.9 1.3-5.8-2.2-2.6z" fill="#2b758e"/>
<path d="M39.4 92.1l1.2-7.1-1.8 10.3z" fill="#32648e"/>
<path d="M75.6 61.6l2.2-5.7 1.3 1.4-2.2 5.7z" fill="#31b57b"/>
<path d="M48 96.2l2.3 6.1 1.6 12.5-2.4-13.4z" fill="#423f85"/>
<path d="M112 88.8l2.1 10.8 1.2 1.5-2.1-9.5z" fill="#38598c"/>
<path d="M133.5 94.1l2.5-9.4 .8 11.8-2-8z" fill="#32658e"/>
<path d="M111.1 82.4l2.1 9.2 1.2 1.4-2.1-7.8z" fill="#2e6d8e"/>
<path d="M70.9 68.6l2.1-6.8 1.3-.6-2.1 6.9z" fill="#22a884"/>
<path d="M41 76.4l2.2 1.2 1.4 1.7-2.2-4z" fill="#23888e"/>
<path d="M104.8 63.6l2.2 5.1 1.2 5.5-2.2-5.1z" fill="#1f9e89"/>
<path d="M40 90l1.9-9.3 1.3-3.1-2.2-1.2z" fill="#277f8e"/>
<path d="M82.5 54.9l2.2-4.3 1.3 3.8-2.2 3.8z" fill="#48c16e"/>
<path d="M93.8 53.1l2.2.1 1.3 5.4-2.2-.1z" fill="#42be71"/>
<path d="M136 84.7l2 12.1-1.2-.3z" fill="#34618d"/>
<path d="M57 112.8l2.1 0 1.3-.4-2.1-1.1z" fill="#482475"/>
<path d="M79.1 57.3l2.1-5.1 1.3 2.7-2.1 4.7z" fill="#40bd72"/>
<path d="M130.2 91.2l2.2.4 1.1 2.5-2.1-5.3z" fill="#32658e"/>
<path d="M59.1 112.8l2.3 6 1.2-4.8-2.2-1.6z" fill="#481c6e"/>
<path d="M113.8 107.6l2.2 1.8 1.3-5.1-2.3 2.8z" fill="#453781"/>
<path d="M128.7 104.8l2.5-11.7 1.2-1.5-2.2-.4z" fill="#375b8d"/>
<path d="M60.4 112.4l2.2 1.6 1.2-11.6-2.1 6z" fill="#472f7d"/>
<path d="M102.6 59.6l2.2 4 1.2 5.5-2.2-4.2z" fill="#25ab82"/>
<path d="M61.4 118.8l2.1 1.9 1.2-10.1-2.1 3.4z" fill="#48186a"/>
<path d="M108 70.4l2.1 7.3 1.2 4-2.2-6.8z" fill="#228d8d"/>
<path d="M96 53.2l2.2 1.1 1.2 5.4-2.1-1.1z" fill="#42be71"/>
<path d="M122.8 110.3l2.4-6.7 1.3-2.2-2.4 3.1z" fill="#433e85"/>
<path d="M41.9 80.7l2.1.9 1.5 4.7-2.3-8.7z" fill="#27808e"/>
<path d="M57.8 118l2.2 2.2 1.4-1.4-2.3-6z" fill="#481467"/>
<path d="M42.7 84.3l2.3 5.8 1.5 7.6-2.5-16.1z" fill="#2e6e8e"/>
<path d="M62.1 99.8l2-6.5 1.3-7.3-2.1 6.7z" fill="#33628d"/>
<path d="M45.9 97.6l2.1-1.4 1.5 5.2-2.2-5.5z" fill="#3a548c"/>
<path d="M127.6 102l2.5-8.2 1.1-.7-2.5 11.7z" fill="#3b528b"/>
<path d="M88.2 51.3l2.2-2.2 1.2 5-2.2 1.9z" fill="#56c667"/>
<path d="M118.2 112.2l2.2 1.9 1.3-3.5-2.2-4.7z" fill="#472c7a"/>
<path d="M100.4 56.5l2.2 3.1 1.2 5.3-2.2-3.1z" fill="#31b57b"/>
<path d="M116 109.4l2.2 2.8 1.3-6.3-2.2-1.6z" fill="#453581"/>
<path d="M98.2 54.3l2.2 2.2 1.2 5.3-2.2-2.1z" fill="#3bbb75"/>
<path d="M69.6 70.2l2.1-6.9 1.3-1.5-2.1 6.8z" fill="#22a884"/>
<path d="M114.8 110.7l2.1 5.8 1.3-4.3-2.2-2.8z" fill="#482878"/>
<path d="M60 120.2l2.1-3.5 1.4 4-2.1-1.9z" fill="#470e61"/>
<path d="M40.4 100.3l1-13-2 4.8z" fill="#33628d"/>
<path d="M121.7 110.6l2.3-3 1.2-4-2.4 6.7z" fill="#453581"/>
<path d="M116.9 116.5l2.3-2.3 1.2-.1-2.2-1.9z" fill="#482071"/>
<path d="M43.7 92.7l2.2 4.9 1.4-1.7-2.3-5.8z" fill="#34608d"/>
<path d="M111.7 97.1l2.1 10.5 1.2-.5-2.1-10.3z" fill="#3f4889"/>
<path d="M112.6 107.3l2.2 3.4 1.2-1.3-2.2-1.8z" fill="#463480"/>
<path d="M74.3 61.2l2.2-5.8 1.3.5-2.2 5.7z" fill="#3bbb75"/>
<path d="M61.7 108.4l2.1-6 1.2-5.5-2.1 4.8z" fill="#3f4889"/>
<path d="M55.5 108.3l2.3 9.7 1.3-5.2-2.1 0z" fill="#482677"/>
<path d="M63.3 92.7l2.1-6.7 1.2-6.2-2.1 6.3z" fill="#2a768e"/>
<path d="M53.4 110.2l2.1-1.9 1.5 4.5-2.3-5z" fill="#46327e"/>
<path d="M109 74.2l2.1 8.2 1.2 2.8-2.2-7.5z" fill="#24868e"/>
<path d="M68.3 72.8l2.1-6.9 1.3-2.6-2.1 6.9z" fill="#20a486"/>
<path d="M40.6 85l2.1-.7 1.3-2.7-2.1-.9z" fill="#277f8e"/>
<path d="M51.1 103.7l2.3 6.5 1.3-2.4-2.2-2.1z" fill="#443b84"/>
<path d="M113.5 114.8l2.3.4 1.1 1.3-2.1-5.8z" fill="#482374"/>
<path d="M39.4 92.1l2-4.8 1.3-3-2.1.7z" fill="#2c738e"/>
<path d="M110.8 87.6l2.1 9.2 1.2 2.8-2.1-10.8z" fill="#32648e"/>
<path d="M105.8 64.3l2.2 6.1 1.1 4.5-2.1-6.2z" fill="#1fa188"/>
<path d="M84.7 50.6l2.2-2.7 1.3 3.4-2.2 3.1z" fill="#65cb5e"/>
<path d="M120.4 114.1l2.4-6.6 1.2.1-2.3 3z" fill="#46327e"/>
<path d="M132.4 91.6l2.5-7.7 1.1.8-2.5 9.4z" fill="#2d718e"/>
<path d="M41.1 101.3l1.1-10.4-1.8 9.4z" fill="#38598c"/>
<path d="M126.5 101.4l2.3-2 1.3-5.6-2.5 8.2z" fill="#3a548c"/>
<path d="M64.5 86.1l2.1-6.3 1.3-5.7-2.1 6.9z" fill="#24868e"/>
<path d="M109.9 80l2.1 8.8 1.2 2.8-2.1-9.2z" fill="#2a788e"/>
<path d="M63.5 120.7l2.1-3.5 1.3-8.8-2.2 2.2z" fill="#482475"/>
<path d="M133.3 99.5l2.2 1.9 1.3-5-1.9-12.5z" fill="#355f8d"/>
<path d="M62.1 116.7l2.2 2.7 1.3-2.2-2.1 3.5z" fill="#481668"/>
<path d="M48.9 100.9l2.2 2.8 1.4 2-2.2-3.4z" fill="#3f4889"/>
<path d="M41.4 87.3l2.3 5.4 1.3-2.6-2.3-5.8z" fill="#2c718e"/>
<path d="M67.1 76.4l2-6.9 1.3-3.6-2.1 6.9z" fill="#1f9e89"/>
<path d="M90.4 49.1l2.2-.6 1.2 4.6-2.2 1z" fill="#67cc5c"/>
<path d="M111.4 109.5l2.1 5.3 1.3-4.1-2.2-3.4z" fill="#46307e"/>
<path d="M62.6 114l2.1-3.4 1.2-10.1-2.1 1.9z" fill="#433d84"/>
<path d="M40.4 100.3l1.8-9.4 1.5 1.8-2.3-5.4z" fill="#31668e"/>
<path d="M134.9 83.9l1.9 12.5 1.2.4-2-12.1z" fill="#2e6d8e"/>
<path d="M65.8 81l2.1-6.9 1.2-4.6-2 6.9z" fill="#20938c"/>
<path d="M77.8 55.9l2.1-5.5 1.3 1.8-2.1 5.1z" fill="#56c667"/>
<path d="M131.2 93.1l2.1 6.4 1.6-15.6-2.5 7.7z" fill="#30698e"/>
<path d="M56.4 113.9l2.2 2.3 1.4 4-2.2-2.2z" fill="#481b6d"/>
<path d="M62.9 101.7l2.1-4.8 1.2-8.9-2.1 5.3z" fill="#34618d"/>
<path d="M81.2 52.2l2.2-3.8 1.3 2.2-2.2 4.3z" fill="#65cb5e"/>
<path d="M115.8 115.2l2.3-2.9 1.1 1.9-2.3 2.3z" fill="#482576"/>
<path d="M42.2 90.9l2.3 5.1 1.4 1.6-2.2-4.9z" fill="#33638d"/>
<path d="M110.5 97.7l2.1 9.6 1.2.3-2.1-10.5z" fill="#3e4c8a"/>
<path d="M134.5 96.8l2.1 7-1.1-2.4z" fill="#3b528b"/>
<path d="M58.6 116.2l2.3 4.3 1.2-3.8-2.1 3.5z" fill="#48186a"/>
<path d="M73 61.8l2.2-5.9 1.3-.5-2.2 5.8z" fill="#42be71"/>
<path d="M119.2 114.2l2.3-2.5 1.3-4.2-2.4 6.6z" fill="#472f7d"/>
<path d="M132.4 91.3l2.1 5.5 1 4.6-2.2-1.9z" fill="#365c8d"/>
<path d="M54.2 111.3l2.2 2.6 1.4 4.1-2.3-9.7z" fill="#472c7a"/>
<path d="M103.6 59.3l2.2 5 1.2 4.4-2.2-5.1z" fill="#2cb17e"/>
<path d="M130.1 93.8l2.3-2.5 .9 8.2-2.1-6.4z" fill="#32648e"/>
<path d="M92.6 48.5l2.2.2 1.2 4.5-2.2-.1z" fill="#6ece58"/>
<path d="M125.2 103.6l2.5-7.3 1.1 3.1-2.3 2z" fill="#3a548c"/>
<path d="M44.5 96l2-5.6 1.5 5.8-2.1 1.4z" fill="#33638d"/>
<path d="M110.1 111.3l2.3.8 1.1 2.7-2.1-5.3z" fill="#46307e"/>
<path d="M46.5 90.4l2.4 10.5 1.4 1.4-2.3-6.1z" fill="#365d8d"/>
<path d="M112.4 112.1l2.2 2.3 1.2.8-2.3-.4z" fill="#482979"/>
<path d="M106.8 67l2.2 7.2 1.1 3.5-2.1-7.3z" fill="#1f9e89"/>
<path d="M86.9 47.9l2.2-1.6 1.3 2.8-2.2 2.2z" fill="#7fd34e"/>
<path d="M64.1 93.3l2.1-5.3 1.3-7.5-2.1 5.5z" fill="#29798e"/>
<path d="M101.4 55l2.2 4.3 1.2 4.3-2.2-4z" fill="#40bd72"/>
<path d="M51.9 103.1l2.3 8.2 1.3-3-2.1 1.9z" fill="#433e85"/>
<path d="M109.6 87.4l2.1 9.7 1.2-.3-2.1-9.2z" fill="#2f6c8e"/>
<path d="M60.9 120.5l2.1-3.8 1.3 2.7-2.2-2.7z" fill="#481c6e"/>
<path d="M64.3 119.4l2.2-2.9 1.3-3.9-2.2 4.6z" fill="#482374"/>
<path d="M94.8 48.7l2.2 1 1.2 4.6-2.2-1.1z" fill="#6ece58"/>
<path d="M109.3 98.7l2.1 10.8 1.2-2.2-2.1-9.6z" fill="#3d4d8a"/>
<path d="M63.8 102.4l2.1-1.9 1.2-9-2.1 5.4z" fill="#365d8d"/>
<path d="M71.7 63.3l2.2-5.8 1.3-1.6-2.2 5.9z" fill="#42be71"/>
<path d="M64.7 110.6l2.2-2.2 1.2-10.8-2.2 2.9z" fill="#3e4a89"/>
<path d="M41.1 101.3l1.8-11.7 1.6 6.4-2.3-5.1z" fill="#31678e"/>
<path d="M76.5 55.4l2.1-5.1 1.3.1-2.1 5.5z" fill="#67cc5c"/>
<path d="M99.2 51.5l2.2 3.5 1.2 4.6-2.2-3.1z" fill="#56c667"/>
<path d="M49.7 101.1l2.2 2 1.5 7.1-2.3-6.5z" fill="#3e4a89"/>
<path d="M124 107.6l2.4-7.3 1.3-4-2.5 7.3z" fill="#3b528b"/>
<path d="M97 49.7l2.2 1.8 1.2 5-2.2-2.2z" fill="#67cc5c"/>
<path d="M107.8 71.8l2.1 8.2 1.2 2.4-2.1-8.2z" fill="#20938c"/>
<path d="M65.6 117.2l2.2-4.6 1.2-8.5-2.1 4.3z" fill="#453882"/>
<path d="M108.7 78.6l2.1 9 1.2 1.2-2.1-8.8z" fill="#26828e"/>
<path d="M128.8 99.4l2.3-3.2 1.3-4.9-2.3 2.5z" fill="#31668e"/>
<path d="M122.8 107.5l2.3.2 1.3-7.4-2.4 7.3z" fill="#3f4788"/>
<path d="M114.6 114.4l2.2-.8 1.3-1.3-2.3 2.9z" fill="#472d7b"/>
<path d="M83.4 48.4l2.2-2.6 1.3 2.1-2.2 2.7z" fill="#86d549"/>
<path d="M118.1 112.3l2.3-3.7 1.1 3.1-2.3 2.5z" fill="#463480"/>
<path d="M65.4 86l2.1-5.5 1.2-6.7-2.1 6z" fill="#228d8d"/>
<path d="M108.9 111.5l2.2 4.2 1.3-3.6-2.3-.8z" fill="#46327e"/>
<path d="M79.9 50.4l2.2-3.2 1.3 1.2-2.2 3.8z" fill="#7fd34e"/>
<path d="M39.7 100.2l2.1-2.6 1.1-8-1.8 11.7z" fill="#34618d"/>
<path d="M108 101.8l2.1 9.5 1.3-1.8-2.1-10.8z" fill="#3e4989"/>
<path d="M121.5 111.7l2.3-1.9 1.3-2.1-2.3-.2z" fill="#433e85"/>
<path d="M111.1 115.7l2.2 1.3 1.3-2.6-2.2-2.3z" fill="#472c7a"/>
<path d="M70.4 65.9l2.2-5.8 1.3-2.6-2.2 5.8z" fill="#3bbb75"/>
<path d="M104.6 61l2.2 6 1.2 3.4-2.2-6.1z" fill="#2cb17e"/>
<path d="M89.1 46.3l2.2-.8 1.3 3-2.2.6z" fill="#90d743"/>
<path d="M133.5 90.4l2 11.5 1.1 1.9-2.1-7z" fill="#355f8d"/>
<path d="M65 96.9l2.1-5.4 1.3-8.2-2.2 4.7z" fill="#2b758e"/>
<path d="M47.3 90.9l2.4 10.2 1.4 2.6-2.2-2.8z" fill="#365d8d"/>
<path d="M66.6 79.8l2.1-6 1.3-5.6-2.1 5.9z" fill="#1f9e89"/>
<path d="M108.4 88l2.1 9.7 1.2-.6-2.1-9.7z" fill="#2e6f8e"/>
<path d="M113.3 117l2.3 1.8 1.2-5.2-2.2.8z" fill="#482979"/>
<path d="M69.1 69.5l2.2-5.8 1.3-3.6-2.2 5.8z" fill="#31b57b"/>
<path d="M63 116.7l2.1-2.4 1.4 2.2-2.2 2.9z" fill="#482677"/>
<path d="M66.5 116.5l2.2.7 1.2-4.3-2.1-.3z" fill="#472d7b"/>
<path d="M67.9 74.1l2.1-5.9 1.3-4.5-2.2 5.8z" fill="#25ab82"/>
<path d="M75.2 55.9l2.1-5 1.3-.6-2.1 5.1z" fill="#6ece58"/>
<path d="M59.4 112.5l2.3 7.5 1.3-3.3-2.1 3.8z" fill="#482576"/>
<path d="M52.7 104.2l2.3 5.3 1.4 4.4-2.2-2.6z" fill="#423f85"/>
<path d="M55 109.5l2.1-.1 1.5 6.8-2.2-2.3z" fill="#453781"/>
<path d="M127.7 96.3l2.4-5.6 1 5.5-2.3 3.2z" fill="#31688e"/>
<path d="M106.8 102.8l2.1 8.7 1.2-.2-2.1-9.5z" fill="#3f4889"/>
<path d="M57.1 109.4l2.3 3.1 1.5 8-2.3-4.3z" fill="#472f7d"/>
<path d="M109.9 113.7l2.2 5.4 1.2-2.1-2.2-1.3z" fill="#482979"/>
<path d="M131.1 96.2l2.4-5.8 1 6.4-2.1-5.5z" fill="#2e6d8e"/>
<path d="M107.7 113.4l2.2.3 1.2 2-2.2-4.2z" fill="#46337f"/>
<path d="M102.4 55.5l2.2 5.5 1.2 3.3-2.2-5z" fill="#48c16e"/>
<path d="M67.4 121.3l2.2 1.5 1.3-4.3-2.2-1.3z" fill="#481d6f"/>
<path d="M65.1 114.3l2.3 7 1.3-4.1-2.2-.7z" fill="#482677"/>
<path d="M105.6 64.7l2.2 7.1 1.2 2.4-2.2-7.2z" fill="#25ab82"/>
<path d="M91.3 45.5l2.2.2 1.3 3-2.2-.2z" fill="#98d83e"/>
<path d="M65.9 100.5l2.2-2.9 1.2-9.5-2.2 3.4z" fill="#2f6c8e"/>
<path d="M68.7 117.2l2.2 1.3 1.2-6.1-2.2.5z" fill="#472e7c"/>
<path d="M112.1 119.1l2.3-1.7 1.2 1.4-2.3-1.8z" fill="#482576"/>
<path d="M67.8 112.6l2.1.3 1.3-9.8-2.2 1z" fill="#404588"/>
<path d="M42.8 108l1-13.7-2 3.3z" fill="#365d8d"/>
<path d="M66.9 108.4l2.1-4.3 1.2-9.6-2.1 3.1z" fill="#375a8c"/>
<path d="M85.6 45.8l2.2-1.7 1.3 2.2-2.2 1.6z" fill="#a0da39"/>
<path d="M42.9 89.6l2.2-.6 1.4 1.4-2 5.6z" fill="#2b748e"/>
<path d="M107.5 78.2l2.1 9.2 1.2.2-2.1-9z" fill="#23898e"/>
<path d="M116.8 113.6l2.4-4.1 1.2-.9-2.3 3.7z" fill="#433d84"/>
<path d="M50.5 102.5l2.2 1.7 1.5 7.1-2.3-8.2z" fill="#3c4f8a"/>
<path d="M66.2 88l2.2-4.7 1.2-7.8-2.1 5z" fill="#228d8d"/>
<path d="M106.5 70.4l2.2 8.2 1.2 1.4-2.1-8.2z" fill="#1f9e89"/>
<path d="M107.1 89.6l2.2 9.1 1.2-1-2.1-9.7z" fill="#2d708e"/>
<path d="M120.4 108.6l2.3-3.9 1.1 5.1-2.3 1.9z" fill="#404588"/>
<path d="M78.6 50.3l2.2-3.5 1.3.4-2.2 3.2z" fill="#90d743"/>
<path d="M105.5 109.1l2.2 4.3 1.2-1.9-2.1-8.7z" fill="#414487"/>
<path d="M45.1 89l2.2 1.9 1.6 10-2.4-10.5z" fill="#2c718e"/>
<path d="M106.4 117.5l2.2 2 1.3-5.8-2.2-.3z" fill="#472e7c"/>
<path d="M82.1 47.2l2.2-2.7 1.3 1.3-2.2 2.6z" fill="#a0da39"/>
<path d="M104.2 112.8l2.2 4.7 1.3-4.1-2.2-4.3z" fill="#453781"/>
<path d="M93.5 45.7l2.3 1 1.2 3-2.2-1z" fill="#98d83e"/>
<path d="M100.2 51.6l2.2 3.9 1.2 3.8-2.2-4.3z" fill="#65cb5e"/>
<path d="M102.9 117.1l2.2 5.3 1.3-4.9-2.2-4.7z" fill="#482979"/>
<path d="M48.3 100l2.2 2.5 1.4.6-2.2-2z" fill="#375b8d"/>
<path d="M73.9 57.5l2.1-5.1 1.3-1.5-2.1 5z" fill="#6ece58"/>
<path d="M61.7 120l2.1-4 1.3-1.7-2.1 2.4z" fill="#472c7a"/>
<path d="M108.6 119.5l2.3-.9 1.2.5-2.2-5.4z" fill="#482979"/>
<path d="M66 118.9l2.3 4.4 1.3-.5-2.2-1.5z" fill="#481c6e"/>
<path d="M105.1 122.4l2.3-4.6 1.2 1.7-2.2-2z" fill="#482475"/>
<path d="M70.9 118.5l2.1-2.2 1.3-2.9-2.2-1z" fill="#46327e"/>
<path d="M125.1 107.7l2.3-5.3 1.4-9-2.4 6.9z" fill="#365d8d"/>
<path d="M95.8 46.7l2.2 2.1 1.2 2.7-2.2-1.8z" fill="#90d743"/>
<path d="M98 48.8l2.2 2.8 1.2 3.4-2.2-3.5z" fill="#7fd34e"/>
<path d="M69.6 122.8l2.1-3.7 1.3-2.8-2.1 2.2z" fill="#482576"/>
<path d="M69.9 112.9l2.2-.5 1.2-10.2-2.1.9z" fill="#3e4a89"/>
<path d="M99.4 116.9l2.2 6.3 1.3-6.1-2.2-2.2z" fill="#482979"/>
<path d="M41.8 97.6l2-3.3 1.3-5.3-2.2.6z" fill="#2c738e"/>
<path d="M105.9 92.1l2.1 9.7 1.3-3.1-2.2-9.1z" fill="#2f6c8e"/>
<path d="M115.6 118.8l2.4-9.8 1.2.5-2.4 4.1z" fill="#443a83"/>
<path d="M123.8 109.8l2.6-11.8 1 4.4-2.3 5.3z" fill="#3a548c"/>
<path d="M67.5 80.5l2.1-5 1.3-6.6-2.2 4.9z" fill="#1fa188"/>
<path d="M103.4 58.4l2.2 6.3 1.2 2.3-2.2-6z" fill="#40bd72"/>
<path d="M132.4 91.4l2 9.1 1.1 1.4-2-11.5z" fill="#2f6b8e"/>
<path d="M87.8 44.1l2.2-1 1.3 2.4-2.2.8z" fill="#b2dd2d"/>
<path d="M63.8 116l2.2 2.9 1.4 2.4-2.3-7z" fill="#472c7a"/>
<path d="M126.4 100.3l2.4-6.9 1.3-2.7-2.4 5.6z" fill="#2e6e8e"/>
<path d="M68.3 123.3l2.2 1.7 1.2-5.9-2.1 3.7z" fill="#481b6d"/>
<path d="M100.7 114.9l2.2 2.2 1.3-4.3-2.2-7.3z" fill="#443b84"/>
<path d="M67.1 91.5l2.2-3.4 1.2-8.7-2.1 3.9z" fill="#24868e"/>
<path d="M110.9 118.6l2.2-.3 1.3-.9-2.3 1.7z" fill="#482979"/>
<path d="M101.6 123.2l2.3-8 1.2 7.2-2.2-5.3z" fill="#482576"/>
<path d="M72.6 60.1l2.1-5.5 1.3-2.2-2.1 5.1z" fill="#67cc5c"/>
<path d="M106.2 78.8l2.2 9.2 1.2-.6-2.1-9.2z" fill="#228d8d"/>
<path d="M46 94.2l2.3 5.8 1.4 1.1-2.4-10.2z" fill="#2f6b8e"/>
<path d="M42.8 108l1.8-12.3 1.4-1.5-2.2.1z" fill="#31678e"/>
<path d="M102 105.5l2.2 7.3 1.3-3.7-2.2-7.2z" fill="#3d4d8a"/>
<path d="M43.4 102.3l1.2-6.6-1.8 12.3z" fill="#365d8d"/>
<path d="M69 104.1l2.2-1 1.2-10.2-2.2 1.6z" fill="#31668e"/>
<path d="M130.1 90.7l2.3.7 1.1-1-2.4 5.8z" fill="#2a768e"/>
<path d="M68.7 73.8l2.2-4.9 1.2-5.5-2.1 4.8z" fill="#2cb17e"/>
<path d="M104.6 95.7l2.2 7.1 1.2-1-2.1-9.7z" fill="#31678e"/>
<path d="M77.3 50.9l2.2-3.5 1.3-.6-2.2 3.5z" fill="#98d83e"/>
<path d="M68.1 97.6l2.1-3.1 1.2-9.3-2.1 2.9z" fill="#2a788e"/>
<path d="M103.3 101.9l2.2 7.2 1.3-6.3-2.2-7.1z" fill="#365c8d"/>
<path d="M73 116.3l2.2 1.8 1.3-6.8-2.2 2.1z" fill="#453781"/>
<path d="M72.1 112.4l2.2 1 1.3-10.7-2.3-.5z" fill="#3d4d8a"/>
<path d="M71.3 63.7l2.1-5.1 1.3-4-2.1 5.5z" fill="#56c667"/>
<path d="M71.7 119.1l2.3 2.9 1.2-3.9-2.2-1.8z" fill="#482979"/>
<path d="M70 68.2l2.1-4.8 1.3-4.8-2.1 5.1z" fill="#40bd72"/>
<path d="M104.4 63.3l2.1 7.1 1.3 1.4-2.2-7.1z" fill="#31b57b"/>
<path d="M107.4 117.8l2.3-.3 1.2 1.1-2.3.9z" fill="#472c7a"/>
<path d="M84.3 44.5l2.2-2.1 1.3 1.7-2.2 1.7z" fill="#bade28"/>
<path d="M105.3 69.9l2.2 8.3 1.2.4-2.2-8.2z" fill="#20a486"/>
<path d="M43.8 94.3l2.2-.1 1.3-3.3-2.2-1.9z" fill="#2a778e"/>
<path d="M114.4 117.4l2.3-5.6 1.3-2.8-2.4 9.8z" fill="#443983"/>
<path d="M98.2 116.7l2.2 2.9 1.2 3.6-2.2-6.3z" fill="#482979"/>
<path d="M80.8 46.8l2.2-2.8 1.3.5-2.2 2.7z" fill="#b2dd2d"/>
<path d="M95.9 120.5l2.3-3.8 1.2.2-2.2-5.4z" fill="#46337f"/>
<path d="M97.2 111.5l2.2 5.4 1.3-2-2.2-10.5z" fill="#424186"/>
<path d="M90 43.1l2.3 0 1.2 2.6-2.2-.2z" fill="#bade28"/>
<path d="M92.4 117.3l2.2 6.8 1.3-3.6-2.2-9.6z" fill="#472d7b"/>
<path d="M101.2 53.2l2.2 5.2 1.2 2.6-2.2-5.5z" fill="#65cb5e"/>
<path d="M64.7 121l2.2 2.3 1.4 0-2.3-4.4z" fill="#482173"/>
<path d="M119.2 109.5l2.3-3.2 1.2-1.6-2.3 3.9z" fill="#3c4f8a"/>
<path d="M94.6 124.1l2.3-4 1.3-3.4-2.3 3.8z" fill="#482677"/>
<path d="M70.5 125l2.1-4.1 1.4 1.1-2.3-2.9z" fill="#482173"/>
<path d="M103.9 115.2l2.2 4.9 1.3-2.3-2.3 4.6z" fill="#472c7a"/>
<path d="M74 122l2.2 3.9 1.2-12.7-2.2 4.9z" fill="#482878"/>
<path d="M105 80.4l2.1 9.2 1.3-1.6-2.2-9.2z" fill="#228d8d"/>
<path d="M68.4 83.3l2.1-3.9 1.3-7.7-2.2 3.8z" fill="#1f9e89"/>
<path d="M83.2 118.1l2.2 7.4 1.3-7.4-2.2-6.4z" fill="#472e7c"/>
<path d="M66.9 123.3l2.2-2.4 1.4 4.1-2.2-1.7z" fill="#481d6f"/>
<path d="M62.4 115.1l2.3 5.9 1.3-2.1-2.2-2.9z" fill="#46307e"/>
<path d="M91.1 120.5l2.3 1.9 1.2 1.7-2.2-6.8z" fill="#482576"/>
<path d="M72.6 120.9l2.3 3.9 1.3 1.1-2.2-3.9z" fill="#481d6f"/>
<path d="M51.2 99.6l2.3 5.9 1.5 4-2.3-5.3z" fill="#38598c"/>
<path d="M74.3 113.4l2.2-2.1 1.3-8.9-2.2.3z" fill="#3c508b"/>
<path d="M53.5 105.5l2.2-1.2 1.4 5.1-2.1.1z" fill="#3b518b"/>
<path d="M76 52.4l2.2-3.5 1.3-1.5-2.2 3.5z" fill="#98d83e"/>
<path d="M92.3 43.1l2.2 1.2 1.3 2.4-2.3-1z" fill="#bade28"/>
<path d="M44.6 95.7l2.2 1.7 1.5 2.6-2.3-5.8z" fill="#2e6e8e"/>
<path d="M109.7 117.5l2.2 1.6 1.2-.8-2.2.3z" fill="#472e7c"/>
<path d="M100.4 119.6l2.2.6 1.3-5-2.3 8z" fill="#472a7a"/>
<path d="M71.2 103.1l2.1-.9 1.3-10.1-2.2.8z" fill="#2f6c8e"/>
<path d="M81.9 117l2.2 10.1 1.3-1.6-2.2-7.4z" fill="#482374"/>
<path d="M85.4 125.5l2.2-6.9 1.3-.7-2.2.2z" fill="#482979"/>
<path d="M57.9 109l2.2-2 1.6 13-2.3-7.5z" fill="#414287"/>
<path d="M98.5 104.4l2.2 10.5 1.3-9.4-2.2-8.4z" fill="#39568c"/>
<path d="M99 49.5l2.2 3.7 1.2 2.3-2.2-3.9z" fill="#86d549"/>
<path d="M46.8 97.4l2.2-.5 1.5 5.6-2.2-2.5z" fill="#31688e"/>
<path d="M60.1 107l2.3 8.1 1.4.9-2.1 4z" fill="#443b84"/>
<path d="M75.2 118.1l2.2-4.9 1.3 0-2.2-1.9z" fill="#433d84"/>
<path d="M93.4 122.4l2.2 2.2 1.3-4.5-2.3 4z" fill="#482071"/>
<path d="M88.9 117.9l2.2 2.6 1.3-3.2-2.2-2.6z" fill="#46327e"/>
<path d="M93.7 110.9l2.2 9.6 1.3-9-2.2-9.8z" fill="#404688"/>
<path d="M131.2 89.1l2.1 9.5 1.1 1.9-2-9.1z" fill="#2c738e"/>
<path d="M55.7 104.3l2.2 4.7 1.5 3.5-2.3-3.1z" fill="#3d4e8a"/>
<path d="M94.5 44.3l2.2 2.2 1.3 2.3-2.2-2.1z" fill="#b2dd2d"/>
<path d="M96.7 46.5l2.3 3 1.2 2.1-2.2-2.8z" fill="#a0da39"/>
<path d="M84.1 127.1l2.2-4.2 1.3-4.3-2.2 6.9z" fill="#481f70"/>
<path d="M49 96.9l2.2 2.7 1.5 4.6-2.2-1.7z" fill="#32648e"/>
<path d="M69.3 88.1l2.1-2.9 1.3-8.8-2.2 3z" fill="#20938c"/>
<path d="M86.5 42.4l2.3-.9 1.2 1.6-2.2 1z" fill="#cde11d"/>
<path d="M103.7 83.1l2.2 9 1.2-2.5-2.1-9.2z" fill="#23898e"/>
<path d="M102.2 56.5l2.2 6.8 1.2 1.4-2.2-6.3z" fill="#56c667"/>
<path d="M86.7 118.1l2.2-.2 1.3-3.2-2.2-9z" fill="#433e85"/>
<path d="M113.1 118.3l2.4-6.1 1.2-.4-2.3 5.6z" fill="#443b84"/>
<path d="M70.2 94.5l2.2-1.6 1.2-9.6-2.2 1.9z" fill="#26828e"/>
<path d="M81 116.4l2.2 1.7 1.3-6.4-2.3-4.6z" fill="#424086"/>
<path d="M69.6 75.5l2.2-3.8 1.2-6.6-2.1 3.8z" fill="#2cb17e"/>
<path d="M76.5 111.3l2.2 1.9 1.3-8.1-2.2-2.7z" fill="#3b518b"/>
<path d="M90.2 114.7l2.2 2.6 1.3-6.4-2.2-6.2z" fill="#404588"/>
<path d="M104.1 70.5l2.1 8.3 1.3-.6-2.2-8.3z" fill="#22a884"/>
<path d="M122.7 104.7l2.5-9.4 1.2 2.7-2.6 11.8z" fill="#33628d"/>
<path d="M128.8 93.4l2.4-4.3 1.2 2.3-2.3-.7z" fill="#277e8e"/>
<path d="M78.7 113.2l2.3 3.2 1.2-9.3-2.2-2z" fill="#3e4989"/>
<path d="M106.1 120.1l2.3-2.8 1.3.2-2.3.3z" fill="#46327e"/>
<path d="M99.8 97.1l2.2 8.4 1.3-3.6-2.2-10.5z" fill="#306a8e"/>
<path d="M79.5 47.4l2.2-2.9 1.3-.5-2.2 2.8z" fill="#bade28"/>
<path d="M74.7 54.6l2.2-3.1 1.3-2.6-2.2 3.5z" fill="#90d743"/>
<path d="M118 109l2.3-3.1 1.2.4-2.3 3.2z" fill="#3b528b"/>
<path d="M96.9 120.1l2.2-.9 1.3.4-2.2-2.9z" fill="#472f7d"/>
<path d="M103.1 62.8l2.2 7.1 1.2.5-2.1-7.1z" fill="#3bbb75"/>
<path d="M101.1 91.4l2.2 10.5 1.3-6.2-2.2-9z" fill="#2a778e"/>
<path d="M102.4 86.7l2.2 9 1.3-3.6-2.2-9z" fill="#26828e"/>
<path d="M83 44l2.2-2.1 1.3.5-2.2 2.1z" fill="#cde11d"/>
<path d="M73.3 102.2l2.3.5 1.2-10.4-2.2-.2z" fill="#2e6f8e"/>
<path d="M87.6 118.6l2.3 3.6 1.2-1.7-2.2-2.6z" fill="#472d7b"/>
<path d="M74.9 124.8l2.1-4.9 1.4 1.1-2.2 4.9z" fill="#482374"/>
<path d="M43.4 102.3l2-4.6 1.4-.3-2.2-1.7z" fill="#2e6d8e"/>
<path d="M77.4 113.2l2.2-1.4 1.4 4.6-2.3-3.2z" fill="#424186"/>
<path d="M76.2 125.9l2.2-4.9 1.2-9.2-2.2 1.4z" fill="#46337f"/>
<path d="M127.4 102.4l2.6-11 1.2-2.3-2.4 4.3z" fill="#2a778e"/>
<path d="M70.9 68.9l2.1-3.8 1.3-5.9-2.2 4.2z" fill="#48c16e"/>
<path d="M89.9 122.2l2.2-.4 1.3.6-2.3-1.9z" fill="#482878"/>
<path d="M102.6 120.2l2.3-1.4 1.2 1.3-2.2-4.9z" fill="#46327e"/>
<path d="M79.6 111.8l2.3 5.2 1.3 1.1-2.2-1.7z" fill="#443b84"/>
<path d="M44.2 104.9l1.2-7.2-2 4.6z" fill="#32648e"/>
<path d="M130 91.4l1.9 14.8 1.4-7.6-2.1-9.5z" fill="#2c728e"/>
<path d="M84.5 111.7l2.2 6.4 1.3-12.4-2.3-4z" fill="#3c4f8a"/>
<path d="M69.1 120.9l2.2-2.5 1.3 2.5-2.1 4.1z" fill="#482979"/>
<path d="M73.4 58.6l2.2-3.9 1.3-3.2-2.2 3.1z" fill="#7fd34e"/>
<path d="M95.6 124.6l2.3-.8 1.2-4.6-2.2.9z" fill="#482878"/>
<path d="M95 101.7l2.2 9.8 1.3-7.1-2.2-8.8z" fill="#34608d"/>
<path d="M72.1 63.4l2.2-4.2 1.3-4.5-2.2 3.9z" fill="#65cb5e"/>
<path d="M88.8 41.5l2.2.2 1.3 1.4-2.3 0z" fill="#d8e219"/>
<path d="M99.9 52.1l2.3 4.4 1.2 1.9-2.2-5.2z" fill="#7fd34e"/>
<path d="M126.4 98l2.3-.3 1.3-6.3-2.6 11z" fill="#2d718e"/>
<path d="M99.1 119.2l2.3-1 1.2 2-2.2-.6z" fill="#46307e"/>
<path d="M70.5 79.4l2.2-3 1.2-7.5-2.1 2.8z" fill="#25ab82"/>
<path d="M75.6 102.7l2.2-.3 1.2-8.9-2.2-1.2z" fill="#2d708e"/>
<path d="M128.7 97.7l2.2 4.4 1 4.1-1.9-14.8z" fill="#2f6c8e"/>
<path d="M102.8 72.1l2.2 8.3 1.2-1.6-2.1-8.3z" fill="#22a884"/>
<path d="M88 105.7l2.2 9 1.3-10-2.2-6z" fill="#375a8c"/>
<path d="M86.3 122.9l2.3.5 1.3-1.2-2.3-3.6z" fill="#482979"/>
<path d="M72.4 92.9l2.2-.8 1.2-9.7-2.2.9z" fill="#23898e"/>
<path d="M92.1 121.8l2.2-1.1 1.3 3.9-2.2-2.2z" fill="#482878"/>
<path d="M78.2 48.9l2.2-2.8 1.3-1.6-2.2 2.9z" fill="#bade28"/>
<path d="M82.2 107.1l2.3 4.6 1.2-10-2.2-2.8z" fill="#355e8d"/>
<path d="M108.4 117.3l2.3-2.4 1.2 4.2-2.2-1.6z" fill="#443983"/>
<path d="M71.3 118.4l2.2 4.7 1.4 1.7-2.3-3.9z" fill="#472a7a"/>
<path d="M80.6 120.5l2.2-3 1.3 9.6-2.2-10.1z" fill="#472e7c"/>
<path d="M91.5 104.7l2.2 6.2 1.3-9.2-2.2-5.9z" fill="#33628d"/>
<path d="M97.7 48.2l2.2 3.9 1.3 1.1-2.2-3.7z" fill="#a0da39"/>
<path d="M88.6 123.4l2.2 3.6 1.3-5.2-2.2.4z" fill="#482475"/>
<path d="M91 41.7l2.2 1 1.3 1.6-2.2-1.2z" fill="#d8e219"/>
<path d="M71.4 85.2l2.2-1.9 1.3-8.7-2.2 1.8z" fill="#1f9e89"/>
<path d="M77.8 102.4l2.2 2.7 1.3-9.6-2.3-2z" fill="#2e6e8e"/>
<path d="M80 105.1l2.2 2 1.3-8.2-2.2-3.4z" fill="#31678e"/>
<path d="M78.4 121l2.2-.5 1.3-3.5-2.3-5.2z" fill="#443983"/>
<path d="M96.3 95.6l2.2 8.8 1.3-7.3-2.2-8.2z" fill="#2b748e"/>
<path d="M111.9 119.1l2.4-11 1.2 4.1-2.4 6.1z" fill="#414287"/>
<path d="M82.8 117.5l2.2 4.7 1.3.7-2.2 4.2z" fill="#482979"/>
<path d="M85.2 41.9l2.3-.7 1.3.3-2.3.9z" fill="#e2e418"/>
<path d="M100.9 56.4l2.2 6.4 1.3.5-2.2-6.8z" fill="#67cc5c"/>
<path d="M63.2 114.1l2.2-2.2 1.5 11.4-2.2-2.3z" fill="#443983"/>
<path d="M47.3 111l1.3-5.5-2.2 2.2z" fill="#39558c"/>
<path d="M101.9 63.3l2.2 7.2 1.2-.6-2.2-7.1z" fill="#42be71"/>
<path d="M44.2 104.9l2.2 2.8 1.1-12.8-2.1 2.8z" fill="#31688e"/>
<path d="M95.5 44.8l2.2 3.4 1.3 1.3-2.3-3z" fill="#bade28"/>
<path d="M45.4 97.7l2.1-2.8 1.5 2-2.2.5z" fill="#2b748e"/>
<path d="M81.7 44.5l2.2-1.9 1.3-.7-2.2 2.1z" fill="#d8e219"/>
<path d="M93.2 42.7l2.3 2.1 1.2 1.7-2.2-2.2z" fill="#cde11d"/>
<path d="M104.9 118.8l2.3-5.2 1.2 3.7-2.3 2.8z" fill="#443a83"/>
<path d="M60.9 107.8l2.3 6.3 1.5 6.9-2.3-5.9z" fill="#414487"/>
<path d="M101.5 74.8l2.2 8.3 1.3-2.7-2.2-8.3z" fill="#20a486"/>
<path d="M71.8 71.7l2.1-2.8 1.3-6.9-2.2 3.1z" fill="#40bd72"/>
<path d="M116.7 111.8l2.5-10.7 1.1 4.8-2.3 3.1z" fill="#375a8c"/>
<path d="M121.5 106.3l2.5-10.3 1.2-.7-2.5 9.4z" fill="#2f6b8e"/>
<path d="M76.9 51.5l2.2-2.7 1.3-2.7-2.2 2.8z" fill="#b2dd2d"/>
<path d="M52 99.2l2.3 4.9 1.4.2-2.2 1.2z" fill="#32648e"/>
<path d="M73.5 123.1l2.2-2.8 1.3-.4-2.1 4.9z" fill="#472d7b"/>
<path d="M74.6 92.1l2.2.2 1.3-9.7-2.3-.2z" fill="#228d8d"/>
<path d="M97.6 88.9l2.2 8.2 1.3-5.7-2.2-8.3z" fill="#25858e"/>
<path d="M94.3 120.7l2.3-2 1.3 5.1-2.3.8z" fill="#472d7b"/>
<path d="M49.8 97.3l2.2 1.9 1.5 6.3-2.3-5.9z" fill="#2f6c8e"/>
<path d="M77 119.9l2.3-1.7 1.3 2.3-2.2.5z" fill="#463480"/>
<path d="M85 122.2l2.3 1.7 1.3-.5-2.3-.5z" fill="#482979"/>
<path d="M85.7 101.7l2.3 4 1.3-7-2.3-5.4z" fill="#2e6e8e"/>
<path d="M100.2 78.4l2.2 8.3 1.3-3.6-2.2-8.3z" fill="#1f9e89"/>
<path d="M97.9 123.8l2.3-6.6 1.2 1-2.3 1z" fill="#453581"/>
<path d="M98.9 83.1l2.2 8.3 1.3-4.7-2.2-8.3z" fill="#20938c"/>
<path d="M101.4 118.2l2.3-5 1.2 5.6-2.3 1.4z" fill="#443b84"/>
<path d="M47.5 94.9l2.3 2.4 1.4 2.3-2.2-2.7z" fill="#2b748e"/>
<path d="M54.3 104.1l2.1-1.9 1.5 6.8-2.2-4.7z" fill="#34618d"/>
<path d="M75.6 54.7l2.2-2.5 1.3-3.4-2.2 2.7z" fill="#a0da39"/>
<path d="M73 65.1l2.2-3.1 1.3-5.6-2.2 2.8z" fill="#65cb5e"/>
<path d="M65.4 111.9l2.3 2.4 1.4 6.6-2.2 2.4z" fill="#443b84"/>
<path d="M89.3 98.7l2.2 6 1.3-8.9-2.2-6z" fill="#2b748e"/>
<path d="M46.4 107.7l2.2-2.2 1.2-8.2-2.3-2.4z" fill="#2f6b8e"/>
<path d="M92.8 95.8l2.2 5.9 1.3-6.1-2.2-7.3z" fill="#297a8e"/>
<path d="M127.6 94.5l2 9.1 1.3-1.5-2.2-4.4z" fill="#2d708e"/>
<path d="M87.5 41.2l2.2-.1 1.3.6-2.2-.2z" fill="#eae51a"/>
<path d="M98.7 51.7l2.2 4.7 1.3.1-2.3-4.4z" fill="#90d743"/>
<path d="M90.8 127l2.3-5.9 1.2-.4-2.2 1.1z" fill="#472c7a"/>
<path d="M72.7 76.4l2.2-1.8 1.3-7.6-2.3 1.9z" fill="#31b57b"/>
<path d="M74.3 59.2l2.2-2.8 1.3-4.2-2.2 2.5z" fill="#86d549"/>
<path d="M125.2 95.3l2.4-.8 1.1 3.2-2.3.3z" fill="#2a778e"/>
<path d="M73.6 83.3l2.2-.9 1.3-8.7-2.2.9z" fill="#20a486"/>
<path d="M87.3 123.9l2.2-1.8 1.3 4.9-2.2-3.6z" fill="#482878"/>
<path d="M100.6 65l2.2 7.1 1.3-1.6-2.2-7.2z" fill="#42be71"/>
<path d="M83.5 98.9l2.2 2.8 1.3-8.4-2.2-4.2z" fill="#29798e"/>
<path d="M76.8 92.3l2.2 1.2 1.3-9.8-2.2-1.1z" fill="#228d8d"/>
<path d="M80.4 46.1l2.2-2.1 1.3-1.4-2.2 1.9z" fill="#d8e219"/>
<path d="M58.7 105.6l2.2 2.2 1.5 7.3-2.3-8.1z" fill="#39568c"/>
<path d="M56.4 102.2l2.3 3.4 1.4 1.4-2.2 2z" fill="#34608d"/>
<path d="M99.6 57.1l2.3 6.2 1.2-.5-2.2-6.4z" fill="#6ece58"/>
<path d="M83.9 42.6l2.3-1.1 1.3-.3-2.3.7z" fill="#eae51a"/>
<path d="M81.3 95.5l2.2 3.4 1.3-9.8-2.3-3.2z" fill="#26828e"/>
<path d="M79 93.5l2.3 2 1.2-9.6-2.2-2.2z" fill="#23898e"/>
<path d="M96.4 47.7l2.3 4 1.2.4-2.2-3.9z" fill="#b2dd2d"/>
<path d="M67.7 114.3l2.2 4.7 1.4-.6-2.2 2.5z" fill="#433d84"/>
<path d="M89.7 41.1l2.3 1.3 1.2.3-2.2-1z" fill="#eae51a"/>
<path d="M120.3 105.9l2.5-9.3 1.2-.6-2.5 10.3z" fill="#2e6d8e"/>
<path d="M47.3 111l2.1-1 1.2-11.2-2 6.7z" fill="#355f8d"/>
<path d="M94.1 88.3l2.2 7.3 1.3-6.7-2.2-7.4z" fill="#228d8d"/>
<path d="M126.3 97.5l2 12 1.3-5.9-2-9.1z" fill="#2e6d8e"/>
<path d="M94.2 44.4l2.2 3.3 1.3.5-2.2-3.4z" fill="#cde11d"/>
<path d="M92 42.4l2.2 2 1.3.4-2.3-2.1z" fill="#e2e418"/>
<path d="M99.3 67.7l2.2 7.1 1.3-2.7-2.2-7.1z" fill="#3bbb75"/>
<path d="M87 93.3l2.3 5.4 1.3-8.9-2.3-5.2z" fill="#25858e"/>
<path d="M69.9 119l2.2-.6 1.4 4.7-2.2-4.7z" fill="#443983"/>
<path d="M73.9 68.9l2.3-1.9 1.2-7.3-2.2 2.3z" fill="#56c667"/>
<path d="M79.1 48.8l2.2-2.2 1.3-2.6-2.2 2.1z" fill="#cde11d"/>
<path d="M115.5 112.2l2.5-11.6 1.2.5-2.5 10.7z" fill="#34608d"/>
<path d="M110.7 114.9l2.4-5.9 1.2-.9-2.4 11z" fill="#3d4e8a"/>
<path d="M75.8 82.4l2.3.2 1.2-8.8-2.2-.1z" fill="#22a884"/>
<path d="M90.6 89.8l2.2 6 1.3-7.5-2.2-6.3z" fill="#228d8d"/>
<path d="M48.6 105.5l2-6.7 1.4.4-2.2-1.9z" fill="#2d718e"/>
<path d="M79.3 118.2l2.2-3.5 1.3 2.8-2.2 3z" fill="#424086"/>
<path d="M95.4 81.5l2.2 7.4 1.3-5.8-2.2-7.2z" fill="#1f9e89"/>
<path d="M107.2 113.6l2.4-4.7 1.1 6-2.3 2.4z" fill="#3d4d8a"/>
<path d="M74.9 74.6l2.2-.9 1.3-7.7-2.2 1z" fill="#3bbb75"/>
<path d="M98 71.3l2.2 7.1 1.3-3.6-2.2-7.1z" fill="#31b57b"/>
<path d="M97.4 52.3l2.2 4.8 1.3-.7-2.2-4.7z" fill="#98d83e"/>
<path d="M96.6 118.7l2.3-1.3 1.3-.2-2.3 6.6z" fill="#443b84"/>
<path d="M77.8 52.2l2.2-1.8 1.3-3.8-2.2 2.2z" fill="#bade28"/>
<path d="M96.7 75.9l2.2 7.2 1.3-4.7-2.2-7.1z" fill="#25ab82"/>
<path d="M86.2 41.5l2.2-1.1 1.3.7-2.2.1z" fill="#f6e620"/>
<path d="M125.1 96.6l2 14.6 1.2-1.7-2-12z" fill="#30698e"/>
<path d="M75.2 62l2.2-2.3 1.3-4.9-2.2 1.6z" fill="#7fd34e"/>
<path d="M98.4 58.6l2.2 6.4 1.3-1.7-2.3-6.2z" fill="#6ece58"/>
<path d="M82.6 44l2.3-.7 1.3-1.8-2.3 1.1z" fill="#eae51a"/>
<path d="M52.9 104l2.2 2.4 1.3-4.2-2.1 1.9z" fill="#31688e"/>
<path d="M103.7 113.2l2.3.7 1.2-.3-2.3 5.2z" fill="#3e4989"/>
<path d="M50.6 98.8l2.3 5.2 1.4.1-2.3-4.9z" fill="#2e6f8e"/>
<path d="M76.5 56.4l2.2-1.6 1.3-4.4-2.2 1.8z" fill="#a0da39"/>
<path d="M84.8 89.1l2.2 4.2 1.3-8.7-2.2-4.3z" fill="#20938c"/>
<path d="M75.7 120.3l2.2-5.7 1.4 3.6-2.3 1.7z" fill="#424086"/>
<path d="M78.1 82.6l2.2 1.1 1.3-8.7-2.3-1.2z" fill="#22a884"/>
<path d="M93.1 121.1l2.2-1.6 1.3-.8-2.3 2z" fill="#443a83"/>
<path d="M124 96l2.3 1.5 1.3-3-2.4.8z" fill="#287d8e"/>
<path d="M83.7 119.1l2.3-.2 1.3 5-2.3-1.7z" fill="#453882"/>
<path d="M81.5 114.7l2.2 4.4 1.3 3.1-2.2-4.7z" fill="#424086"/>
<path d="M95.2 48.1l2.2 4.2 1.3-.6-2.3-4z" fill="#bade28"/>
<path d="M82.5 85.9l2.3 3.2 1.3-8.8-2.3-3.1z" fill="#1f9e89"/>
<path d="M80.3 83.7l2.2 2.2 1.3-8.7-2.2-2.2z" fill="#20a486"/>
<path d="M91.9 82l2.2 6.3 1.3-6.8-2.2-6.2z" fill="#1fa188"/>
<path d="M49.4 110l2.1-4.5 1.4-1.5-2.3-5.2z" fill="#31688e"/>
<path d="M119.2 101.1l2.3.2 1.3-4.7-2.5 9.3z" fill="#2d718e"/>
<path d="M88.4 40.4l2.3 2.3 1.3-.3-2.3-1.3z" fill="#f6e620"/>
<path d="M88.3 84.6l2.3 5.2 1.3-7.8-2.3-5.2z" fill="#1f9e89"/>
<path d="M72.1 118.4l2.2-5.8 1.4 7.7-2.2 2.8z" fill="#424086"/>
<path d="M76.2 67l2.2-1 1.3-6.8-2.3.5z" fill="#67cc5c"/>
<path d="M92.9 45l2.3 3.1 1.2-.4-2.2-3.3z" fill="#d8e219"/>
<path d="M81.3 46.6l2.3-.9 1.3-2.4-2.3.7z" fill="#e2e418"/>
<path d="M97.1 60.9l2.2 6.8 1.3-2.7-2.2-6.4z" fill="#67cc5c"/>
<path d="M77.1 73.7l2.2.1 1.3-7.7-2.2-.1z" fill="#42be71"/>
<path d="M90.7 42.7l2.2 2.3 1.3-.6-2.2-2z" fill="#eae51a"/>
<path d="M114.3 108.1l2.4-2.7 1.3-4.8-2.5 11.6z" fill="#32648e"/>
<path d="M96.1 53.9l2.3 4.7 1.2-1.5-2.2-4.8z" fill="#98d83e"/>
<path d="M89.5 122.1l2.3-13.7 1.3 12.7-2.3 5.9z" fill="#433e85"/>
<path d="M59.5 106.2l2.3 1.8 1.4 6.1-2.3-6.3z" fill="#355e8d"/>
<path d="M100.2 117.2l2.3-10.2 1.2 6.2-2.3 5z" fill="#3c508b"/>
<path d="M84.9 43.3l2.2-.1 1.3-2.8-2.2 1.1z" fill="#f6e620"/>
<path d="M93.2 75.3l2.2 6.2 1.3-5.6-2.2-6.1z" fill="#2cb17e"/>
<path d="M55.1 106.4l2.1-7.3 1.5 6.5-2.3-3.4z" fill="#2e6d8e"/>
<path d="M80 50.4l2.3-.9 1.3-3.8-2.3.9z" fill="#cde11d"/>
<path d="M61.8 108l2.2 2.2 1.4 1.7-2.2 2.2z" fill="#38598c"/>
<path d="M95.8 64.9l2.2 6.4 1.3-3.6-2.2-6.8z" fill="#56c667"/>
<path d="M77.4 59.7l2.3-.5 1.3-5.2-2.3.8z" fill="#90d743"/>
<path d="M94.5 69.8l2.2 6.1 1.3-4.6-2.2-6.4z" fill="#40bd72"/>
<path d="M78.7 54.8l2.3-.8 1.3-4.5-2.3.9z" fill="#b2dd2d"/>
<path d="M86.1 80.3l2.2 4.3 1.3-7.8-2.2-4.1z" fill="#25ab82"/>
<path d="M123.9 97.2l2 13.7 1.2.3-2-14.6z" fill="#2f6c8e"/>
<path d="M79.3 73.8l2.3 1.2 1.3-7.7-2.3-1.2z" fill="#42be71"/>
<path d="M122.8 96.6l2.3 0 1.2.9-2.3-1.5z" fill="#277f8e"/>
<path d="M93.9 49.8l2.2 4.1 1.3-1.6-2.2-4.2z" fill="#bade28"/>
<path d="M89.6 76.8l2.3 5.2 1.3-6.7-2.3-5.1z" fill="#2cb17e"/>
<path d="M57.2 99.1l2.3 7.1 1.4 1.6-2.2-2.2z" fill="#2f6b8e"/>
<path d="M86 118.9l2.2-4.7 1.3 7.9-2.2 1.8z" fill="#424086"/>
<path d="M78.4 66l2.2.1 1.3-6.7-2.2-.2z" fill="#6ece58"/>
<path d="M51.5 105.5l2.1-6.6 1.5 7.5-2.2-2.4z" fill="#2e6e8e"/>
<path d="M83.8 77.2l2.3 3.1 1.3-7.6-2.3-3.2z" fill="#31b57b"/>
<path d="M87.1 43.2l2.3 1.3 1.3-1.8-2.3-2.3z" fill="#f6e620"/>
<path d="M109.6 108.9l2.3.7 1.2-.6-2.4 5.9z" fill="#375b8d"/>
<path d="M81.6 75l2.2 2.2 1.3-7.7-2.2-2.2z" fill="#3bbb75"/>
<path d="M83.6 45.7l2.2.2 1.3-2.7-2.2.1z" fill="#eae51a"/>
<path d="M94.8 56.4l2.3 4.5 1.3-2.3-2.3-4.7z" fill="#90d743"/>
<path d="M64 110.2l2.2.2 1.5 3.9-2.3-2.4z" fill="#38598c"/>
<path d="M91.6 46.5l2.3 3.3 1.3-1.7-2.3-3.1z" fill="#d8e219"/>
<path d="M77.9 114.6l2.2.4 1.4-.3-2.2 3.5z" fill="#3d4e8a"/>
<path d="M89.4 44.5l2.2 2 1.3-1.5-2.2-2.3z" fill="#eae51a"/>
<path d="M95.3 119.5l2.3-4.9 1.3 2.8-2.3 1.3z" fill="#3f4889"/>
<path d="M66.2 110.4l2.3.9 1.4 7.7-2.2-4.7z" fill="#3a538b"/>
<path d="M106 113.9l2.3-4.5 1.3-.5-2.4 4.7z" fill="#375a8c"/>
<path d="M90.9 70.2l2.3 5.1 1.3-5.5-2.3-5.6z" fill="#48c16e"/>
<path d="M79.7 59.2l2.2.2 1.3-5.2-2.2-.2z" fill="#98d83e"/>
<path d="M82.3 49.5l2.2 0 1.3-3.6-2.2-.2z" fill="#d8e219"/>
<path d="M118 100.6l2.3-.6 1.2 1.3-2.3-.2z" fill="#2a768e"/>
<path d="M93.5 59.7l2.3 5.2 1.3-4-2.3-4.5z" fill="#7fd34e"/>
<path d="M87.4 72.7l2.2 4.1 1.3-6.6-2.2-4.4z" fill="#40bd72"/>
<path d="M113.1 109l2.3-3.3 1.3-.3-2.4 2.7z" fill="#31668e"/>
<path d="M81 54l2.2.2 1.3-4.7-2.2 0z" fill="#bade28"/>
<path d="M92.6 52.5l2.2 3.9 1.3-2.5-2.2-4.1z" fill="#b2dd2d"/>
<path d="M80.6 66.1l2.3 1.2 1.3-6.9-2.3-1z" fill="#6ece58"/>
<path d="M92.2 64.2l2.3 5.6 1.3-4.9-2.3-5.2z" fill="#65cb5e"/>
<path d="M85.8 45.9l2.3 1 1.3-2.4-2.3-1.3z" fill="#eae51a"/>
<path d="M52.5 113l1.1-14.1-2.1 6.6z" fill="#306a8e"/>
<path d="M121.5 101.3l2.4-4.1 1.2-.6-2.3 0z" fill="#277e8e"/>
<path d="M80.1 115l2.3.8 1.3 3.3-2.2-4.4z" fill="#3d4e8a"/>
<path d="M68.5 111.3l2.2-1 1.4 8.1-2.2.6z" fill="#3b528b"/>
<path d="M85.1 69.5l2.3 3.2 1.3-6.9-2.3-3.5z" fill="#56c667"/>
<path d="M90.3 49l2.3 3.5 1.3-2.7-2.3-3.3z" fill="#cde11d"/>
<path d="M82.9 67.3l2.2 2.2 1.3-7.2-2.2-1.9z" fill="#67cc5c"/>
<path d="M88.1 46.9l2.2 2.1 1.3-2.5-2.2-2z" fill="#e2e418"/>
<path d="M74.3 112.6l2.3.2 1.3 1.8-2.2 5.7z" fill="#3b528b"/>
<path d="M91.3 55.9l2.2 3.8 1.3-3.3-2.2-3.9z" fill="#a0da39"/>
<path d="M81.9 59.4l2.3 1 1.3-5.1-2.3-1.1z" fill="#98d83e"/>
<path d="M88.7 65.8l2.2 4.4 1.3-6-2.2-4z" fill="#65cb5e"/>
<path d="M84.5 49.5l2.3 1.2 1.3-3.8-2.3-1z" fill="#d8e219"/>
<path d="M102.5 107l2.3 2.8 1.2 4.1-2.3-.7z" fill="#355e8d"/>
<path d="M98.9 117.4l2.3-7.8 1.3-2.6-2.3 10.2z" fill="#38598c"/>
<path d="M83.2 54.2l2.3 1.1 1.3-4.6-2.3-1.2z" fill="#bade28"/>
<path d="M90 60.2l2.2 4 1.3-4.5-2.2-3.8z" fill="#86d549"/>
<path d="M91.8 108.4l2.3 6.8 1.2 4.3-2.2 1.6z" fill="#3c508b"/>
<path d="M89 52.9l2.3 3 1.3-3.4-2.3-3.5z" fill="#bade28"/>
<path d="M86.8 50.7l2.2 2.2 1.3-3.9-2.2-2.1z" fill="#cde11d"/>
<path d="M84.2 60.4l2.2 1.9 1.3-5-2.2-2z" fill="#90d743"/>
<path d="M58.1 104.4l2.3 5.3 1.4-1.7-2.3-1.8z" fill="#30698e"/>
<path d="M86.4 62.3l2.3 3.5 1.3-5.6-2.3-2.9z" fill="#7fd34e"/>
<path d="M85.5 55.3l2.2 2 1.3-4.4-2.2-2.2z" fill="#b2dd2d"/>
<path d="M87.7 57.3l2.3 2.9 1.3-4.3-2.3-3z" fill="#a0da39"/>
<path d="M53.6 98.9l2.2.3 1.4-.1-2.1 7.3z" fill="#29798e"/>
<path d="M111.9 109.6l2.3-2.4 1.2-1.5-2.3 3.3z" fill="#31688e"/>
<path d="M60.4 109.7l2.2-3 1.4 3.5-2.2-2.2z" fill="#31668e"/>
<path d="M116.7 105.4l2.4-5.9 1.2.5-2.3.6z" fill="#2a788e"/>
<path d="M122.7 96.3l2.2 7.4 1 7.2-2-13.7z" fill="#2a768e"/>
<path d="M56.9 114.3l2.2-1 1.3-3.6-2.3-5.3z" fill="#34618d"/>
<path d="M52.5 113l2.1-3.8 1.2-10-2.2-.3z" fill="#2e6f8e"/>
<path d="M82.4 115.8l2.2-7 1.4 10.1-2.3.2z" fill="#3a538b"/>
<path d="M120.3 100l2.4-3.7 1.2.9-2.4 4.1z" fill="#27808e"/>
<path d="M108.3 109.4l2.3-1.7 1.3 1.9-2.3-.7z" fill="#31668e"/>
<path d="M59.1 113.3l2.3 6 1.2-12.6-2.2 3z" fill="#365d8d"/>
<path d="M54.6 109.2l2.3 5.1 1.2-9.9-2.3-5.2z" fill="#2f6c8e"/>
<path d="M55.8 99.2l2.3 5.2 1.4 1.8-2.3-7.1z" fill="#2a778e"/>
<path d="M70.7 110.3l2.2-.4 1.4 2.7-2.2 5.8z" fill="#365d8d"/>
<path d="M115.4 105.7l2.4 0 1.3-6.2-2.4 5.9z" fill="#2c728e"/>
<path d="M115.1 119.9l3.5-3.5-2.1-9.5z" fill="#38588c"/>
<path d="M94.1 115.2l2.3-4 1.2 3.4-2.3 4.9z" fill="#39568c"/>
<path d="M104.8 109.8l2.3-5.7 1.2 5.3-2.3 4.5z" fill="#31668e"/>
<path d="M117.8 105.7l2.2 5.1 1.2-2.4-2.1-8.9z" fill="#2e6f8e"/>
<path d="M121.2 108.4l3.7-4.7-2.2-7.4z" fill="#2a778e"/>
<path d="M76.6 112.8l2.2-5.3 1.3 7.5-2.2-.4z" fill="#355e8d"/>
<path d="M119.1 99.5l2.1 8.9 1.5-12.1-2.4 3.7z" fill="#297b8e"/>
<path d="M116.5 106.9l2.1 9.5 1.4-5.6-2.2-5.1z" fill="#32658e"/>
<path d="M88.2 114.2l2.3-4.8 1.3-1-2.3 13.7z" fill="#365c8d"/>
<path d="M62.6 106.7l2.2-2 1.4 5.7-2.2-.2z" fill="#2f6b8e"/>
<path d="M97.6 114.6l2.4-7.4 1.2 2.4-2.3 7.8z" fill="#34608d"/>
<path d="M61.4 119.3l2.2-.2 1.2-14.4-2.2 2z" fill="#355f8d"/>
<path d="M114.2 107.2l2.3-.3 1.3-1.2-2.4 0z" fill="#2d708e"/>
<path d="M110.6 107.7l2.3-.1 1.3-.4-2.3 2.4z" fill="#2f6c8e"/>
<path d="M112.9 107.6l2.2 12.3 1.4-13-2.3.3z" fill="#32658e"/>
<path d="M64.8 104.7l2.3 5.3 1.4 1.3-2.3-.9z" fill="#30698e"/>
<path d="M101.2 109.6l2.3-1.4 1.3 1.6-2.3-2.8z" fill="#306a8e"/>
<path d="M72.9 109.9l2.3 1.8 1.4 1.1-2.3-.2z" fill="#33638d"/>
<path d="M84.6 108.8l2.3-.1 1.3 5.5-2.2 4.7z" fill="#34618d"/>
<path d="M78.8 107.5l2.2 1.8 1.4 6.5-2.3-.8z" fill="#33638d"/>
<path d="M63.6 119.1l2.2-3.8 1.3-5.3-2.3-5.3z" fill="#33628d"/>
<path d="M111.7 105.4l2.1 14.6 1.3-.1-2.2-12.3z" fill="#34608d"/>
<path d="M67.1 110l2.2-3.9 1.4 4.2-2.2 1z" fill="#306a8e"/>
<path d="M107.1 104.1l2.3 1.5 1.2 2.1-2.3 1.7z" fill="#2c718e"/>
<path d="M110.3 120.2l3.5-.2-2.1-14.6z" fill="#365c8d"/>
<path d="M90.5 109.4l2.3.5 1.3 5.3-2.3-6.8z" fill="#31688e"/>
<path d="M75.2 111.7l2.2-1.7 1.4-2.5-2.2 5.3z" fill="#306a8e"/>
<path d="M81 109.3l2.3 1.5 1.3-2-2.2 7z" fill="#31688e"/>
<path d="M103.5 108.2l2.4-5.2 1.2 1.1-2.3 5.7z" fill="#2b748e"/>
<path d="M65.8 115.3l2.2-3.7 1.3-5.5-2.2 3.9z" fill="#306a8e"/>
<path d="M109.4 105.6l2.3-.2 1.2 2.2-2.3.1z" fill="#2b748e"/>
<path d="M69.3 106.1l2.3 2.7 1.3 1.1-2.2.4z" fill="#2e6f8e"/>
<path d="M92.8 109.9l2.3.1 1.3 1.2-2.3 4z" fill="#31688e"/>
<path d="M96.4 111.2l2.3-5.9 1.3 1.9-2.4 7.4z" fill="#2e6d8e"/>
<path d="M100 107.2l2.3-2 1.2 3-2.3 1.4z" fill="#2c728e"/>
<path d="M86.9 108.7l2.3.3 1.3.4-2.3 4.8z" fill="#2f6c8e"/>
<path d="M106.8 115.3l3.5 4.9-2.1-14.8z" fill="#33638d"/>
<path d="M68 111.6l2.3 7.6 1.3-10.4-2.3-2.7z" fill="#306a8e"/>
<path d="M108.2 105.4l2.1 14.8 1.4-14.8-2.3.2z" fill="#2d708e"/>
<path d="M77.4 110l2.3 3.2 1.3-3.9-2.2-1.8z" fill="#2e6e8e"/>
<path d="M70.3 119.2l2.3 2.6 1.2-16.4-2.2 3.4z" fill="#32648e"/>
<path d="M71.6 108.8l2.2-3.4 1.4 6.3-2.3-1.8z" fill="#2d718e"/>
<path d="M72.6 121.8l2.3 2.9 1.2-14.6-2.3-4.7z" fill="#34608d"/>
<path d="M74.9 124.7l3.5-9.1-2.3-5.5z" fill="#365d8d"/>
<path d="M103.2 116.3l3.6-1-2.2-9z" fill="#30698e"/>
<path d="M105.9 103l2.3 2.4 1.2.2-2.3-1.5z" fill="#287d8e"/>
<path d="M79.7 113.2l2.3-3.8 1.3 1.4-2.3-1.5z" fill="#2e6e8e"/>
<path d="M78.4 115.6l2.3 6.6 1.3-12.8-2.3 3.8z" fill="#33638d"/>
<path d="M76.1 110.1l2.3 5.5 1.3-2.4-2.3-3.2z" fill="#306a8e"/>
<path d="M95.1 110l2.3 2 1.3-6.7-2.3 5.9z" fill="#2d718e"/>
<path d="M80.7 122.2l2.3 1.9 1.3-10.8-2.3-3.9z" fill="#365d8d"/>
<path d="M83.3 110.8l2.3-6.7 1.3 4.6-2.3.1z" fill="#2b748e"/>
<path d="M102.3 105.2l2.3 1.1 1.3-3.3-2.4 5.2z" fill="#297b8e"/>
<path d="M73.8 105.4l2.3 4.7 1.3-.1-2.2 1.7z" fill="#2c718e"/>
<path d="M83 124.1l3.6-5.9-2.3-4.9z" fill="#375a8c"/>
<path d="M89.2 109l2.3-4 1.3 4.9-2.3-.5z" fill="#2b748e"/>
<path d="M104.6 106.3l2.2 9 1.4-9.9-2.3-2.4z" fill="#2a778e"/>
<path d="M99.7 111.1l2.2 10.5 1.3-5.3-2.2-10.6z" fill="#31688e"/>
<path d="M96 119.9l3.7-8.8-2.3.9z" fill="#31668e"/>
<path d="M98.7 105.3l2.3.4 1.3-.5-2.3 2z" fill="#287c8e"/>
<path d="M101 105.7l2.2 10.6 1.4-10-2.3-1.1z" fill="#2b758e"/>
<path d="M93.8 105.5l2.2 14.4 1.4-7.9-2.3-2z" fill="#2e6e8e"/>
<path d="M86.6 118.2l2.2.4 1.4-3.4-2.3-5.6z" fill="#32658e"/>
<path d="M85.6 104.1l2.3 5.5 1.3-.6-2.3-.3z" fill="#2a788e"/>
<path d="M82 109.4l2.3 3.9 1.3-9.2-2.3 6.7z" fill="#2b748e"/>
<path d="M88.8 118.6l3.6-4.8-2.2 1.4z" fill="#32648e"/>
<path d="M97.4 112l2.3-.9 1.3-5.4-2.3-.4z" fill="#2a778e"/>
<path d="M87.9 109.6l2.3 5.6 1.3-10.2-2.3 4z" fill="#2b748e"/>
<path d="M91.5 105l2.3.5 1.3 4.5-2.3-.1z" fill="#29798e"/>
<path d="M84.3 113.3l2.3 4.9 1.3-8.6-2.3-5.5z" fill="#2d718e"/>
<path d="M92.4 113.8l3.6 6.1-2.2-14.4z" fill="#2f6c8e"/>
<path d="M90.2 115.2l2.2-1.4 1.4-8.3-2.3-.5z" fill="#2b758e"/></g>
</g>
<g id="c_axes_2">
<g id="c_patch_6">
<path d="M188.9 132l5.1 0 0-104.6-5.1 0 0 104.6z" style="fill: none"/>
</g>
<g id="c_QuadMesh_1"><defs><linearGradient id="c_cbgrad" x1="0" y1="1" x2="0" y2="0"><stop offset="0.002" stop-color="#440154"/><stop offset="0.018" stop-color="#46075a"/><stop offset="0.033" stop-color="#470d60"/><stop offset="0.049" stop-color="#471365"/><stop offset="0.064" stop-color="#48186a"/><stop offset="0.080" stop-color="#481d6f"/><stop offset="0.096" stop-color="#482374"/><stop offset="0.111" stop-color="#482878"/><stop offset="0.127" stop-color="#472d7b"/><stop offset="0.143" stop-color="#46327e"/><stop offset="0.158" stop-color="#453781"/><stop offset="0.174" stop-color="#443b84"/><stop offset="0.189" stop-color="#424086"/><stop offset="0.205" stop-color="#404588"/><stop offset="0.221" stop-color="#3e4989"/><stop offset="0.236" stop-color="#3d4e8a"/><stop offset="0.252" stop-color="#3b528b"/><stop offset="0.268" stop-color="#39568c"/><stop offset="0.283" stop-color="#375b8d"/><stop offset="0.299" stop-color="#355f8d"/><stop offset="0.314" stop-color="#33638d"/><stop offset="0.330" stop-color="#31678e"/><stop offset="0.346" stop-color="#2f6b8e"/><stop offset="0.361" stop-color="#2e6f8e"/><stop offset="0.377" stop-color="#2c728e"/><stop offset="0.393" stop-color="#2a768e"/><stop offset="0.408" stop-color="#297a8e"/><stop offset="0.424" stop-color="#277e8e"/><stop offset="0.439" stop-color="#26828e"/><stop offset="0.455" stop-color="#25858e"/><stop offset="0.471" stop-color="#23898e"/><stop offset="0.486" stop-color="#228d8d"/><stop offset="0.502" stop-color="#21918c"/><stop offset="0.518" stop-color="#1f948c"/><stop offset="0.533" stop-color="#1f988b"/><stop offset="0.549" stop-color="#1e9c89"/><stop offset="0.564" stop-color="#1fa088"/><stop offset="0.580" stop-color="#20a386"/><stop offset="0.596" stop-color="#22a785"/><stop offset="0.611" stop-color="#25ab82"/><stop offset="0.627" stop-color="#28ae80"/><stop offset="0.643" stop-color="#2db27d"/><stop offset="0.658" stop-color="#32b67a"/><stop offset="0.674" stop-color="#38b977"/><stop offset="0.689" stop-color="#3fbc73"/><stop offset="0.705" stop-color="#46c06f"/><stop offset="0.721" stop-color="#4ec36b"/><stop offset="0.736" stop-color="#56c667"/><stop offset="0.752" stop-color="#5ec962"/><stop offset="0.768" stop-color="#67cc5c"/><stop offset="0.783" stop-color="#70cf57"/><stop offset="0.799" stop-color="#7ad151"/><stop offset="0.814" stop-color="#84d44b"/><stop offset="0.830" stop-color="#8ed645"/><stop offset="0.846" stop-color="#98d83e"/><stop offset="0.861" stop-color="#a2da37"/><stop offset="0.877" stop-color="#addc30"/><stop offset="0.893" stop-color="#b8de29"/><stop offset="0.908" stop-color="#c2df23"/><stop offset="0.924" stop-color="#cde11d"/><stop offset="0.939" stop-color="#d8e219"/><stop offset="0.955" stop-color="#e2e418"/><stop offset="0.971" stop-color="#ece51b"/><stop offset="0.986" stop-color="#f6e620"/><stop offset="0.998" stop-color="#fde725"/></linearGradient></defs><rect x="188.90" y="27.40" width="5.10" height="104.60" fill="url(#c_cbgrad)"/></g>
<g id="c_matplotlib.axis_1"/>
<g id="c_matplotlib.axis_2">
<g id="c_ytick_1">
<g id="c_line2d_27">
<defs>
<path id="c_mb0d4df9f9d" d="M0 0l2 0" style="stroke: #000000; stroke-width: 0.5"/>
</defs>
<g>
<use href="#c_mb0d4df9f9d" x="194" y="130.9" style="stroke: #000000; stroke-width: 0.5"/>
</g>
</g>
<g id="c_text_26">
<text style="font-size: 5.6px; font-family: 'DejaVu Sans', sans-serif; text-anchor: start" x="197.5" y="133.1" transform="rotate(-0 197.5 133.1)">0.950</text>
</g>
</g>
<g id="c_ytick_2">
<g id="c_line2d_28">
<g>
<use href="#c_mb0d4df9f9d" x="194" y="118.1" style="stroke: #000000; stroke-width: 0.5"/>
</g>
</g>
<g id="c_text_27">
<text style="font-size: 5.6px; font-family: 'DejaVu Sans', sans-serif; text-anchor: start" x="197.5" y="120.2" transform="rotate(-0 197.5 120.2)">0.975</text>
</g>
</g>
<g id="c_ytick_3">
<g id="c_line2d_29">
<g>
<use href="#c_mb0d4df9f9d" x="194" y="105.2" style="stroke: #000000; stroke-width: 0.5"/>
</g>
</g>
<g id="c_text_28">
<text style="font-size: 5.6px; font-family: 'DejaVu Sans', sans-serif; text-anchor: start" x="197.5" y="107.3" transform="rotate(-0 197.5 107.3)">1.000</text>
</g>
</g>
<g id="c_ytick_4">
<g id="c_line2d_30">
<g>
<use href="#c_mb0d4df9f9d" x="194" y="92.3" style="stroke: #000000; stroke-width: 0.5"/>
</g>
</g>
<g id="c_text_29">
<text style="font-size: 5.6px; font-family: 'DejaVu Sans', sans-serif; text-anchor: start" x="197.5" y="94.4" transform="rotate(-0 197.5 94.4)">1.025</text>
</g>
</g>
<g id="c_ytick_5">
<g id="c_line2d_31">
<g>
<use href="#c_mb0d4df9f9d" x="194" y="79.4" style="stroke: #000000; stroke-width: 0.5"/>
</g>
</g>
<g id="c_text_30">
<text style="font-size: 5.6px; font-family: 'DejaVu Sans', sans-serif; text-anchor: start" x="197.5" y="81.5" transform="rotate(-0 197.5 81.5)">1.050</text>
</g>
</g>
<g id="c_ytick_6">
<g id="c_line2d_32">
<g>
<use href="#c_mb0d4df9f9d" x="194" y="66.5" style="stroke: #000000; stroke-width: 0.5"/>
</g>
</g>
<g id="c_text_31">
<text style="font-size: 5.6px; font-family: 'DejaVu Sans', sans-serif; text-anchor: start" x="197.5" y="68.7" transform="rotate(-0 197.5 68.7)">1.075</text>
</g>
</g>
<g id="c_ytick_7">
<g id="c_line2d_33">
<g>
<use href="#c_mb0d4df9f9d" x="194" y="53.6" style="stroke: #000000; stroke-width: 0.5"/>
</g>
</g>
<g id="c_text_32">
<text style="font-size: 5.6px; font-family: 'DejaVu Sans', sans-serif; text-anchor: start" x="197.5" y="55.8" transform="rotate(-0 197.5 55.8)">1.100</text>
</g>
</g>
<g id="c_ytick_8">
<g id="c_line2d_34">
<g>
<use href="#c_mb0d4df9f9d" x="194" y="40.8" style="stroke: #000000; stroke-width: 0.5"/>
</g>
</g>
<g id="c_text_33">
<text style="font-size: 5.6px; font-family: 'DejaVu Sans', sans-serif; text-anchor: start" x="197.5" y="42.9" transform="rotate(-0 197.5 42.9)">1.125</text>
</g>
</g>
<g id="c_ytick_9">
<g id="c_line2d_35">
<g>
<use href="#c_mb0d4df9f9d" x="194" y="27.9" style="stroke: #000000; stroke-width: 0.5"/>
</g>
</g>
<g id="c_text_34">
<text style="font-size: 5.6px; font-family: 'DejaVu Sans', sans-serif; text-anchor: start" x="197.5" y="30" transform="rotate(-0 197.5 30)">1.150</text>
</g>
</g>
</g>
<g id="c_LineCollection_1"/>
<g id="c_patch_7">
<path d="M188.9 132l2.5 0 2.6 0 0-104.6-2.6 0-2.5 0 0 104.6z" style="fill: none; stroke: #000000; stroke-width: 0.5; stroke-linejoin: miter; stroke-linecap: square"/>
</g>
</g>
</g>
<defs>
<clipPath id="c_p4a8f5f124e">
<rect x="-4.6" y="-10.4" width="181.1" height="181.1"/>
</clipPath>
<clipPath id="c_p637bb292f4">
<rect x="188.9" y="27.4" width="5" height="104.6"/>
</clipPath>
</defs>
</svg>
<svg viewBox="0 0 247 187.2" preserveAspectRatio="none" style="position:absolute;left:342px;top:300px;width:343px;height:260px;overflow:visible">
<defs>
<style type="text/css">*{stroke-linejoin: round; stroke-linecap: butt}</style>
</defs>
<g id="d_figure_1">
<g id="d_patch_1">
<path d="M0 187.2l247 0 0-187.2-247 0 0 187.2z" style="fill: none; opacity: 0"/>
</g>
<g id="d_patch_2">
<path d="M25.1 172l181.4 0 0-173M25.1-1l0 173" style="fill: none"/>
</g>
<g id="d_pane3d_1">
<g id="d_patch_3">
<path d="M38.8 127.3l59.9-50.3-.9-72.4-62.7 45.8" style="fill: #f2f2f2; opacity: 0.5; stroke: #f2f2f2; stroke-linejoin: miter"/>
</g>
</g>
<g id="d_pane3d_2">
<g id="d_patch_4">
<path d="M98.7 77l96.1 28 3.5-74.9-100.5-25.5" style="fill: #e6e6e6; opacity: 0.5; stroke: #e6e6e6; stroke-linejoin: miter"/>
</g>
</g>
<g id="d_pane3d_3">
<g id="d_patch_5">
<path d="M38.8 127.3l101.9 33.3 54.1-55.6-96.1-28" style="fill: #ececec; opacity: 0.5; stroke: #ececec; stroke-linejoin: miter"/>
</g>
</g>
<g id="d_grid3d_1">
<g id="d_Line3DCollection_1">
<path d="M44.9 129.3l59.6-50.6-.6-72.5" style="fill: none; stroke: #b0b0b0; stroke-width: 0.8"/>
<path d="M59.3 134l58.9-51.3 0-72.9" style="fill: none; stroke: #b0b0b0; stroke-width: 0.8"/>
<path d="M74 138.8l58-52.1 .6-73.3" style="fill: none; stroke: #b0b0b0; stroke-width: 0.8"/>
<path d="M88.8 143.6l57.2-52.8 1.2-73.7" style="fill: none; stroke: #b0b0b0; stroke-width: 0.8"/>
<path d="M103.9 148.5l56.3-53.6 1.9-74" style="fill: none; stroke: #b0b0b0; stroke-width: 0.8"/>
<path d="M119.2 153.6l55.5-54.5 2.5-74.4" style="fill: none; stroke: #b0b0b0; stroke-width: 0.8"/>
<path d="M134.8 158.6l54.5-55.2 3.2-74.8" style="fill: none; stroke: #b0b0b0; stroke-width: 0.8"/>
</g>
</g>
<g id="d_grid3d_2">
<g id="d_Line3DCollection_2">
<path d="M43.4 44.4l3.3 76.2 101.1 32.6" style="fill: none; stroke: #b0b0b0; stroke-width: 0.8"/>
<path d="M51.2 38.7l2.9 75.7 100.5 31.9" style="fill: none; stroke: #b0b0b0; stroke-width: 0.8"/>
<path d="M58.8 33.1l2.6 75.2 99.8 31.2" style="fill: none; stroke: #b0b0b0; stroke-width: 0.8"/>
<path d="M66.3 27.6l2.2 74.7 99.1 30.6" style="fill: none; stroke: #b0b0b0; stroke-width: 0.8"/>
<path d="M73.6 22.3l1.9 74.2 98.4 29.9" style="fill: none; stroke: #b0b0b0; stroke-width: 0.8"/>
<path d="M80.8 17.1l1.5 73.6 97.8 29.4" style="fill: none; stroke: #b0b0b0; stroke-width: 0.8"/>
<path d="M87.8 11.9l1.3 73.2 97.1 28.8" style="fill: none; stroke: #b0b0b0; stroke-width: 0.8"/>
<path d="M94.7 6.9l.9 72.7 96.5 28.2" style="fill: none; stroke: #b0b0b0; stroke-width: 0.8"/>
</g>
</g>
<g id="d_grid3d_3">
<g id="d_Line3DCollection_3">
<path d="M195 101.6l-96.4-27.9-60 50.1" style="fill: none; stroke: #b0b0b0; stroke-width: 0.8"/>
<path d="M195.5 89.3l-97-27.5-60.5 49.4" style="fill: none; stroke: #b0b0b0; stroke-width: 0.8"/>
<path d="M196.1 76.8l-97.7-27-61 48.6" style="fill: none; stroke: #b0b0b0; stroke-width: 0.8"/>
<path d="M196.7 64.2l-98.5-26.7-61.5 47.9" style="fill: none; stroke: #b0b0b0; stroke-width: 0.8"/>
<path d="M197.3 51.3l-99.2-26.2-62 47.1" style="fill: none; stroke: #b0b0b0; stroke-width: 0.8"/>
<path d="M197.9 38.3l-100-25.8-62.4 46.3" style="fill: none; stroke: #b0b0b0; stroke-width: 0.8"/>
</g>
</g>
<g id="d_axis3d_1">
<g id="d_line2d_1">
<path d="M38.8 127.3l101.9 33.3" style="fill: none; stroke: #000000; stroke-width: 0.8; stroke-linecap: square"/>
</g>
<g id="d_xtick_1">
<g id="d_line2d_2">
<path d="M45.4 128.8l-1.5 1.4" style="fill: none; stroke: #000000; stroke-width: 0.8; stroke-linecap: square"/>
</g>
<g id="d_text_1">
<text style="font-size: 5.6px; font-family: 'DejaVu Sans', sans-serif; text-anchor: middle" x="40.3" y="143.1" transform="rotate(-0 40.3 143.1)">−1.0</text>
</g>
</g>
<g id="d_xtick_2">
<g id="d_line2d_3">
<path d="M59.8 133.5l-1.5 1.4" style="fill: none; stroke: #000000; stroke-width: 0.8; stroke-linecap: square"/>
</g>
<g id="d_text_2">
<text style="font-size: 5.6px; font-family: 'DejaVu Sans', sans-serif; text-anchor: middle" x="54.8" y="147.9" transform="rotate(-0 54.8 147.9)">−0.5</text>
</g>
</g>
<g id="d_xtick_3">
<g id="d_line2d_4">
<path d="M74.5 138.3l-1.5 1.4" style="fill: none; stroke: #000000; stroke-width: 0.8; stroke-linecap: square"/>
</g>
<g id="d_text_3">
<text style="font-size: 5.6px; font-family: 'DejaVu Sans', sans-serif; text-anchor: middle" x="69.4" y="152.8" transform="rotate(-0 69.4 152.8)">0.0</text>
</g>
</g>
<g id="d_xtick_4">
<g id="d_line2d_5">
<path d="M89.3 143.2l-1.5 1.3" style="fill: none; stroke: #000000; stroke-width: 0.8; stroke-linecap: square"/>
</g>
<g id="d_text_4">
<text style="font-size: 5.6px; font-family: 'DejaVu Sans', sans-serif; text-anchor: middle" x="84.3" y="157.7" transform="rotate(-0 84.3 157.7)">0.5</text>
</g>
</g>
<g id="d_xtick_5">
<g id="d_line2d_6">
<path d="M104.4 148.1l-1.5 1.4" style="fill: none; stroke: #000000; stroke-width: 0.8; stroke-linecap: square"/>
</g>
<g id="d_text_5">
<text style="font-size: 5.6px; font-family: 'DejaVu Sans', sans-serif; text-anchor: middle" x="99.4" y="162.7" transform="rotate(-0 99.4 162.7)">1.0</text>
</g>
</g>
<g id="d_xtick_6">
<g id="d_line2d_7">
<path d="M119.7 153.1l-1.4 1.4" style="fill: none; stroke: #000000; stroke-width: 0.8; stroke-linecap: square"/>
</g>
<g id="d_text_6">
<text style="font-size: 5.6px; font-family: 'DejaVu Sans', sans-serif; text-anchor: middle" x="114.7" y="167.8" transform="rotate(-0 114.7 167.8)">1.5</text>
</g>
</g>
<g id="d_xtick_7">
<g id="d_line2d_8">
<path d="M135.3 158.2l-1.5 1.4" style="fill: none; stroke: #000000; stroke-width: 0.8; stroke-linecap: square"/>
</g>
<g id="d_text_7">
<text style="font-size: 5.6px; font-family: 'DejaVu Sans', sans-serif; text-anchor: middle" x="130.3" y="173" transform="rotate(-0 130.3 173)">2.0</text>
</g>
</g>
<g id="d_text_8">
<!-- $v_1$ -->
<g transform="translate(75.8 163.8) rotate(-341.9)">
<text>
<tspan x="0" y="-0.7" style="font-style: oblique; font-size: 5.8px; font-family: 'DejaVu Sans', sans-serif">v</tspan>
<tspan x="3.4" y="0.3" style="font-size: 4.1px; font-family: 'DejaVu Sans', sans-serif">1</tspan>
</text>
</g>
</g>
</g>
<g id="d_axis3d_2">
<g id="d_line2d_9">
<path d="M194.8 105l-54.1 55.6" style="fill: none; stroke: #000000; stroke-width: 0.8; stroke-linecap: square"/>
</g>
<g id="d_xtick_8">
<g id="d_line2d_10">
<path d="M147 152.9l2.5.9" style="fill: none; stroke: #000000; stroke-width: 0.8; stroke-linecap: square"/>
</g>
<g id="d_text_9">
<text style="font-size: 5.6px; font-family: 'DejaVu Sans', sans-serif; text-anchor: middle" x="155.6" y="165.6" transform="rotate(-0 155.6 165.6)">−0.4</text>
</g>
</g>
<g id="d_xtick_9">
<g id="d_line2d_11">
<path d="M153.7 146l2.6.8" style="fill: none; stroke: #000000; stroke-width: 0.8; stroke-linecap: square"/>
</g>
<g id="d_text_10">
<text style="font-size: 5.6px; font-family: 'DejaVu Sans', sans-serif; text-anchor: middle" x="162.3" y="158.6" transform="rotate(-0 162.3 158.6)">−0.2</text>
</g>
</g>
<g id="d_xtick_10">
<g id="d_line2d_12">
<path d="M160.3 139.3l2.5.8" style="fill: none; stroke: #000000; stroke-width: 0.8; stroke-linecap: square"/>
</g>
<g id="d_text_11">
<text style="font-size: 5.6px; font-family: 'DejaVu Sans', sans-serif; text-anchor: middle" x="168.8" y="151.7" transform="rotate(-0 168.8 151.7)">0.0</text>
</g>
</g>
<g id="d_xtick_11">
<g id="d_line2d_13">
<path d="M166.8 132.7l2.5.7" style="fill: none; stroke: #000000; stroke-width: 0.8; stroke-linecap: square"/>
</g>
<g id="d_text_12">
<text style="font-size: 5.6px; font-family: 'DejaVu Sans', sans-serif; text-anchor: middle" x="175.2" y="145" transform="rotate(-0 175.2 145)">0.2</text>
</g>
</g>
<g id="d_xtick_12">
<g id="d_line2d_14">
<path d="M173.1 126.2l2.5.7" style="fill: none; stroke: #000000; stroke-width: 0.8; stroke-linecap: square"/>
</g>
<g id="d_text_13">
<text style="font-size: 5.6px; font-family: 'DejaVu Sans', sans-serif; text-anchor: middle" x="181.4" y="138.5" transform="rotate(-0 181.4 138.5)">0.4</text>
</g>
</g>
<g id="d_xtick_13">
<g id="d_line2d_15">
<path d="M179.3 119.8l2.4.8" style="fill: none; stroke: #000000; stroke-width: 0.8; stroke-linecap: square"/>
</g>
<g id="d_text_14">
<text style="font-size: 5.6px; font-family: 'DejaVu Sans', sans-serif; text-anchor: middle" x="187.5" y="132" transform="rotate(-0 187.5 132)">0.6</text>
</g>
</g>
<g id="d_xtick_14">
<g id="d_line2d_16">
<path d="M185.3 113.6l2.5.8" style="fill: none; stroke: #000000; stroke-width: 0.8; stroke-linecap: square"/>
</g>
<g id="d_text_15">
<text style="font-size: 5.6px; font-family: 'DejaVu Sans', sans-serif; text-anchor: middle" x="193.5" y="125.7" transform="rotate(-0 193.5 125.7)">0.8</text>
</g>
</g>
<g id="d_xtick_15">
<g id="d_line2d_17">
<path d="M191.3 107.6l2.4.7" style="fill: none; stroke: #000000; stroke-width: 0.8; stroke-linecap: square"/>
</g>
<g id="d_text_16">
<text style="font-size: 5.6px; font-family: 'DejaVu Sans', sans-serif; text-anchor: middle" x="199.4" y="119.6" transform="rotate(-0 199.4 119.6)">1.0</text>
</g>
</g>
<g id="d_text_17">
<!-- $v_2$ -->
<g transform="translate(184.1 151.7) rotate(-45.7)">
<text>
<tspan x="0" y="-0.7" style="font-style: oblique; font-size: 5.8px; font-family: 'DejaVu Sans', sans-serif">v</tspan>
<tspan x="3.4" y="0.3" style="font-size: 4.1px; font-family: 'DejaVu Sans', sans-serif">2</tspan>
</text>
</g>
</g>
</g>
<g id="d_axis3d_3">
<g id="d_line2d_18">
<path d="M194.8 105l3.5-74.9" style="fill: none; stroke: #000000; stroke-width: 0.8; stroke-linecap: square"/>
</g>
<g id="d_xtick_16">
<g id="d_line2d_19">
<path d="M194.2 101.3l2.4.8" style="fill: none; stroke: #000000; stroke-width: 0.8; stroke-linecap: square"/>
</g>
<g id="d_text_18">
<text style="font-size: 5.6px; font-family: 'DejaVu Sans', sans-serif; text-anchor: middle" x="206.1" y="104.3" transform="rotate(-0 206.1 104.3)">0.6</text>
</g>
</g>
<g id="d_xtick_17">
<g id="d_line2d_20">
<path d="M194.7 89.1l2.5.6" style="fill: none; stroke: #000000; stroke-width: 0.8; stroke-linecap: square"/>
</g>
<g id="d_text_19">
<text style="font-size: 5.6px; font-family: 'DejaVu Sans', sans-serif; text-anchor: middle" x="206.8" y="92" transform="rotate(-0 206.8 92)">0.7</text>
</g>
</g>
<g id="d_xtick_18">
<g id="d_line2d_21">
<path d="M195.3 76.6l2.5.7" style="fill: none; stroke: #000000; stroke-width: 0.8; stroke-linecap: square"/>
</g>
<g id="d_text_20">
<text style="font-size: 5.6px; font-family: 'DejaVu Sans', sans-serif; text-anchor: middle" x="207.4" y="79.5" transform="rotate(-0 207.4 79.5)">0.8</text>
</g>
</g>
<g id="d_xtick_19">
<g id="d_line2d_22">
<path d="M195.9 63.9l2.4.7" style="fill: none; stroke: #000000; stroke-width: 0.8; stroke-linecap: square"/>
</g>
<g id="d_text_21">
<text style="font-size: 5.6px; font-family: 'DejaVu Sans', sans-serif; text-anchor: middle" x="208.1" y="66.9" transform="rotate(-0 208.1 66.9)">0.9</text>
</g>
</g>
<g id="d_xtick_20">
<g id="d_line2d_23">
<path d="M196.4 51.1l2.5.6" style="fill: none; stroke: #000000; stroke-width: 0.8; stroke-linecap: square"/>
</g>
<g id="d_text_22">
<text style="font-size: 5.6px; font-family: 'DejaVu Sans', sans-serif; text-anchor: middle" x="208.7" y="54.1" transform="rotate(-0 208.7 54.1)">1.0</text>
</g>
</g>
<g id="d_xtick_21">
<g id="d_line2d_24">
<path d="M197 38l2.6.7" style="fill: none; stroke: #000000; stroke-width: 0.8; stroke-linecap: square"/>
</g>
<g id="d_text_23">
<text style="font-size: 5.6px; font-family: 'DejaVu Sans', sans-serif; text-anchor: middle" x="209.4" y="41" transform="rotate(-0 209.4 41)">1.1</text>
</g>
</g>
</g>
<g id="d_axes_1">
<g clip-path="url(#d_pf5ceca7170)" stroke="#000000" stroke-width="0.6" stroke-linejoin="round"><path d="M109.9 95l1.3.7 1.5-4.8-1.3-1.7z" fill="#481d6f"/>
<path d="M108.6 90.4l1.3 4.6 1.5-5.8-1.3-2.7z" fill="#482878"/>
<path d="M111.2 95.7l1.3-.6 1.4-3.9-1.2-.3z" fill="#481c6e"/>
<path d="M111.4 89.2l1.3 1.7 1.4-8.3-1.2-.3z" fill="#453581"/>
<path d="M112.7 90.9l1.2.3 1.5-6.8-1.3-1.8z" fill="#46337f"/>
<path d="M110.1 86.5l1.3 2.7 1.5-6.9-1.3-3.5z" fill="#433e85"/>
<path d="M108.4 95.8l1.3.8 1.5-.9-1.3-.7z" fill="#481467"/>
<path d="M107.1 93.4l1.3 2.4 1.5-.8-1.3-4.6z" fill="#481d6f"/>
<path d="M107.3 88.2l1.3 2.2 1.5-3.9-1.3-4.2z" fill="#453581"/>
<path d="M113.9 91.2l1.3-1.5 1.5-6.4-1.3 1.1z" fill="#453581"/>
<path d="M112.5 95.1l1.2-2.9 1.5-2.5-1.3 1.5z" fill="#482475"/>
<path d="M108.8 82.3l1.3 4.2 1.5-7.7-1.3-2.8z" fill="#3e4a89"/>
<path d="M109.7 96.6l1.2-2.3 1.6.8-1.3.6z" fill="#48186a"/>
<path d="M105.8 90.3l1.3 3.1 1.5-3-1.3-2.2z" fill="#472a7a"/>
<path d="M112.9 82.3l1.2.3 1.5-9.1-1.3-.9z" fill="#39558c"/>
<path d="M114.1 82.6l1.3 1.8 1.5-8.3-1.3-2.6z" fill="#3b518b"/>
<path d="M111.6 78.8l1.3 3.5 1.4-9.7-1.3-2.7z" fill="#375b8d"/>
<path d="M106 83.4l1.3 4.8 1.5-5.9-1.3-3.4z" fill="#404588"/>
<path d="M115.4 84.4l1.3-1.1 1.5-8-1.3.8z" fill="#3c508b"/>
<path d="M104.5 88.1l1.3 2.2 1.5-2.1-1.3-4.8z" fill="#453781"/>
<path d="M107.5 78.9l1.3 3.4 1.5-6.3-1.3-4.9z" fill="#38598c"/>
<path d="M110.3 76l1.3 2.8 1.4-8.9-1.3-2.2z" fill="#32658e"/>
<path d="M105.6 93.5l1.3 2.8 1.5-.5-1.3-2.4z" fill="#481f70"/>
<path d="M106.9 96.3l1.3-.5 1.5.8-1.3-.8z" fill="#481a6c"/>
<path d="M115.2 89.7l1.3-4 1.5-4-1.3 1.6z" fill="#424086"/>
<path d="M110.9 94.3l1.3-1.2 1.5-.9-1.2 2.9z" fill="#482374"/>
<path d="M104.3 92.8l1.3.7 1.5-.1-1.3-3.1z" fill="#482878"/>
<path d="M104.7 78.8l1.3 4.6 1.5-4.5-1.3-4.7z" fill="#39558c"/>
<path d="M109 71.1l1.3 4.9 1.4-8.3-1.2-2.8z" fill="#2e6f8e"/>
<path d="M103.2 84l1.3 4.1 1.5-4.7-1.3-4.6z" fill="#3f4788"/>
<path d="M113.7 92.2l1.3-4.8 1.5-1.7-1.3 4z" fill="#453581"/>
<path d="M116.7 83.3l1.3-1.6 1.5-8.3-1.3 1.9z" fill="#39568c"/>
<path d="M113 69.9l1.3 2.7 1.5-8.7-1.3-1.1z" fill="#2a768e"/>
<path d="M106.2 74.2l1.3 4.7 1.5-7.8-1.3-3.4z" fill="#31678e"/>
<path d="M103 88.6l1.3 4.2 1.5-2.5-1.3-2.2z" fill="#46327e"/>
<path d="M114.3 72.6l1.3.9 1.5-9.1-1.3-.5z" fill="#2c738e"/>
<path d="M115.6 73.5l1.3 2.6 1.5-10.6-1.3-1.1z" fill="#2d708e"/>
<path d="M111.7 67.7l1.3 2.2 1.5-7.1-1.3-2.2z" fill="#287c8e"/>
<path d="M108.2 95.8l1.2-1 1.5-.5-1.2 2.3z" fill="#481f70"/>
<path d="M116.9 76.1l1.3-.8 1.5-8.9-1.3-.9z" fill="#2e6e8e"/>
<path d="M107.7 67.7l1.3 3.4 1.5-6.2-1.3-3.2z" fill="#297a8e"/>
<path d="M101.7 85.8l1.3 2.8 1.5-.5-1.3-4.1z" fill="#423f85"/>
<path d="M110.5 64.9l1.2 2.8 1.5-7.1-1.3-4.7z" fill="#25858e"/>
<path d="M103.4 74l1.3 4.8 1.5-4.6-1.3-6.3z" fill="#31688e"/>
<path d="M118.2 75.3l1.3-1.9 1.5-8.2-1.3 1.2z" fill="#2c718e"/>
<path d="M116.5 85.7l1.3-3.7 1.5-4.1-1.3 3.8z" fill="#3c508b"/>
<path d="M102.8 93.4l1.3.9 1.5-.8-1.3-.7z" fill="#482979"/>
<path d="M104.9 67.9l1.3 6.3 1.5-6.5-1.3-4.5z" fill="#2a778e"/>
<path d="M104.1 94.3l1.2.8 1.6 1.2-1.3-2.8z" fill="#482576"/>
<path d="M101.9 76.9l1.3 7.1 1.5-5.2-1.3-4.8z" fill="#375b8d"/>
<path d="M109.2 61.7l1.3 3.2 1.4-9-1.3-2z" fill="#21908d"/>
<path d="M112.2 93.1l1.3-5.4 1.5-.3-1.3 4.8z" fill="#453581"/>
<path d="M114.5 62.8l1.3 1.1 1.5-10.6-1.3-.4z" fill="#20928c"/>
<path d="M113.2 60.6l1.3 2.2 1.5-9.9-1.3-2.6z" fill="#1f968b"/>
<path d="M109.4 94.8l1.3-2.5 1.5.8-1.3 1.2z" fill="#482979"/>
<path d="M101.5 90.1l1.3 3.3 1.5-.6-1.3-4.2z" fill="#46327e"/>
<path d="M106.4 63.2l1.3 4.5 1.5-6-1.4-5.2z" fill="#24878e"/>
<path d="M118 81.7l1.3-3.8 1.5-8.1-1.3 3.6z" fill="#33638d"/>
<path d="M105.3 95.1l1.3-.8 1.6 1.5-1.3.5z" fill="#482475"/>
<path d="M115.8 63.9l1.3.5 1.5-9.8-1.3-1.3z" fill="#21918c"/>
<path d="M100.4 81.8l1.3 4 1.5-1.8-1.3-7.1z" fill="#3b518b"/>
<path d="M111.9 55.9l1.3 4.7 1.5-10.3-1.3-2.1z" fill="#1f9f88"/>
<path d="M117.1 64.4l1.3 1.1 1.5-11.1-1.3.2z" fill="#218f8d"/>
<path d="M100.2 88.9l1.3 1.2 1.5-1.5-1.3-2.8z" fill="#433e85"/>
<path d="M107.8 56.5l1.4 5.2 1.4-7.8-1.3-3.1z" fill="#1f9a8a"/>
<path d="M115 87.4l1.3-4.9 1.5-.5-1.3 3.7z" fill="#3e4a89"/>
<path d="M118.4 65.5l1.3.9 1.5-11.2-1.3-.8z" fill="#218e8d"/>
<path d="M110.6 53.9l1.3 2 1.5-7.7-1.3-.8z" fill="#21a685"/>
<path d="M102.1 69.3l1.3 4.7 1.5-6.1-1.4-3.6z" fill="#2a788e"/>
<path d="M100.6 75.4l1.3 1.5 1.5-2.9-1.3-4.7z" fill="#306a8e"/>
<path d="M103.5 64.3l1.4 3.6 1.5-4.7-1.4-4.5z" fill="#24868e"/>
<path d="M106.6 94.3l1.3-1.9 1.5 2.4-1.2 1z" fill="#472a7a"/>
<path d="M119.5 73.4l1.3-3.6 1.5-7.4-1.3 2.8z" fill="#297b8e"/>
<path d="M105 58.7l1.4 4.5 1.4-6.7-1.3-3.8z" fill="#1f968b"/>
<path d="M98.8 83.9l1.4 5 1.5-3.1-1.3-4z" fill="#3e4989"/>
<path d="M109.3 50.8l1.3 3.1 1.5-6.5-1.3-4.5z" fill="#27ad81"/>
<path d="M99.1 78.7l1.3 3.1 1.5-4.9-1.3-1.5z" fill="#355f8d"/>
<path d="M119.7 66.4l1.3-1.2 1.5-10.2-1.3.2z" fill="#218f8d"/>
<path d="M106.5 52.7l1.3 3.8 1.5-5.7-1.3-2.3z" fill="#21a585"/>
<path d="M101.2 93.8l1.3.4 1.6.1-1.3-.9z" fill="#472d7b"/>
<path d="M99.9 91.9l1.3 1.9 1.6-.4-1.3-3.3z" fill="#46337f"/>
<path d="M99.2 70.7l1.4 4.7 1.5-6.1-1.4-2.7z" fill="#2b758e"/>
<path d="M112.1 47.4l1.3.8 1.5-8-1.3-.5z" fill="#3bbb75"/>
<path d="M114.7 50.3l1.3 2.6 1.5-9.9-1.3-2z" fill="#2fb47c"/>
<path d="M108 48.5l1.3 2.3 1.5-7.9-1.3-1.1z" fill="#32b67a"/>
<path d="M110.7 92.3l1.3-3.3 1.5-1.3-1.3 5.4z" fill="#443983"/>
<path d="M116 52.9l1.3.4 1.5-10-1.3-.3z" fill="#2ab07f"/>
<path d="M98.6 89.8l1.3 2.1 1.6-1.8-1.3-1.2z" fill="#443b84"/>
<path d="M100.7 66.6l1.4 2.7 1.4-5-1.3-4.8z" fill="#25848e"/>
<path d="M113.4 48.2l1.3 2.1 1.5-9.3-1.3-.8z" fill="#37b878"/>
<path d="M102.5 94.2l1.3.5 1.5.4-1.2-.8z" fill="#472c7a"/>
<path d="M102.2 59.5l1.3 4.8 1.5-5.6-1.3-2.7z" fill="#20928c"/>
<path d="M110.8 42.9l1.3 4.5 1.5-7.7-1.3-2.3z" fill="#46c06f"/>
<path d="M103.7 56l1.3 2.7 1.5-6-1.3-2.9z" fill="#1fa188"/>
<path d="M103 35.1l1.3-.6 1.5-2.5z" fill="#77d153"/>
<path d="M106.7 44.6l1.3 3.9 1.5-6.7-1.3-1.7z" fill="#3dbc74"/>
<path d="M105.2 49.8l1.3 2.9 1.5-4.2-1.3-3.9z" fill="#29af7f"/>
<path d="M97.7 74.4l1.4 4.3 1.5-3.3-1.4-4.7z" fill="#2f6b8e"/>
<path d="M100.2 37.9l1.3 1.1 1.5-3.9z" fill="#60ca60"/>
<path d="M97.5 81.4l1.3 2.5 1.6-2.1-1.3-3.1z" fill="#38588c"/>
<path d="M117.8 82l1.3-5.2 1.5-4.9-1.3 6z" fill="#32648e"/>
<path d="M119.3 77.9l1.3-6 1.5-3.8-1.3 1.7z" fill="#2c728e"/>
<path d="M117.3 53.3l1.3 1.3 1.5-10.4-1.3-.9z" fill="#29af7f"/>
<path d="M104.3 34.5l1.3 2.5 1.5-5.3-1.3.3z" fill="#7ad151"/>
<path d="M101.5 39l1.3 1.8 1.5-6.3-1.3.6z" fill="#63cb5f"/>
<path d="M97.5 41.7l1.2-.3 1.5-3.5z" fill="#50c46a"/>
<path d="M97.3 87l1.3 2.8 1.6-.9-1.4-5z" fill="#404688"/>
<path d="M113.5 87.7l1.3-4.7 1.5-.5-1.3 4.9z" fill="#3d4d8a"/>
<path d="M107.1 31.7l1.3-.1 1.5-3.5z" fill="#90d743"/>
<path d="M107.9 92.4l1.3-1.9 1.5 1.8-1.3 2.5z" fill="#453581"/>
<path d="M94.7 44.7l1.2 0 1.6-3z" fill="#3fbc73"/>
<path d="M98.7 41.4l1.3 1.9 1.5-4.3-1.3-1.1z" fill="#52c569"/>
<path d="M121 65.2l1.3-2.8 1.5-8.5-1.3 1.1z" fill="#1f958b"/>
<path d="M109.5 41.8l1.3 1.1 1.5-5.5-1.3-3.6z" fill="#5ac864"/>
<path d="M108.2 40.1l1.3 1.7 1.5-8-1.3.3z" fill="#63cb5f"/>
<path d="M108.4 31.6l1.3 2.5 1.5-5.1-1.3-.9z" fill="#90d743"/>
<path d="M102.4 51.6l1.3 4.4 1.5-6.2-1.3-1.4z" fill="#23a983"/>
<path d="M118.6 54.6l1.3-.2 1.5-10.3-1.3.1z" fill="#28ae80"/>
<path d="M97.9 67.6l1.3 3.1 1.5-4.1-1.3-3.7z" fill="#26818e"/>
<path d="M105.6 37l1.3 0 1.5-5.4-1.3.1z" fill="#77d153"/>
<path d="M102.8 40.8l1.3-1 1.5-2.8-1.3-2.5z" fill="#5ec962"/>
<path d="M91.9 48.6l1.2-.5 1.6-3.4z" fill="#31b57b"/>
<path d="M103.9 48.4l1.3 1.4 1.5-5.2-1.3-3z" fill="#35b779"/>
<path d="M106.9 37l1.3 3.1 1.5-6-1.3-2.5z" fill="#6ece58"/>
<path d="M103.8 94.7l1.3-1.4 1.5 1-1.3.8z" fill="#472f7d"/>
<path d="M99.4 62.9l1.3 3.7 1.5-7.1-1.3-2.2z" fill="#218f8d"/>
<path d="M105.4 41.6l1.3 3 1.5-4.5-1.3-3.1z" fill="#50c46a"/>
<path d="M100 43.3l1.3-.7 1.5-1.8-1.3-1.8z" fill="#4cc26c"/>
<path d="M111.2 29l1.3.4 1.5-4.7z" fill="#a8db34"/>
<path d="M100.9 57.3l1.3 2.2 1.5-3.5-1.3-4.4z" fill="#1f9e89"/>
<path d="M109.7 34.1l1.3-.3 1.5-4.4-1.3-.4z" fill="#8bd646"/>
<path d="M112.3 37.4l1.3 2.3 1.5-7.8-1.3-2.8z" fill="#77d153"/>
<path d="M95.9 44.7l1.3.6 1.5-3.9-1.2.3z" fill="#42be71"/>
<path d="M120.8 69.8l1.3-1.7 1.5-8.2-1.3 2.5z" fill="#24868e"/>
<path d="M104.1 39.8l1.3 1.8 1.5-4.6-1.3 0z" fill="#5cc863"/>
<path d="M113.6 39.7l1.3.5 1.5-8.3-1.3 0z" fill="#6ece58"/>
<path d="M101.1 51.3l1.3.3 1.5-3.2-1.3-3.1z" fill="#2ab07f"/>
<path d="M96.2 77.6l1.3 3.8 1.6-2.7-1.4-4.3z" fill="#33638d"/>
<path d="M102.6 45.3l1.3 3.1 1.5-6.8-1.3-1.8z" fill="#40bd72"/>
<path d="M96.4 72l1.3 2.4 1.5-3.7-1.3-3.1z" fill="#2a768e"/>
<path d="M101.3 42.6l1.3 2.7 1.5-5.5-1.3 1z" fill="#4ac16d"/>
<path d="M90.3 51.2l1.3 1.6 1.5-4.7-1.2.5z" fill="#27ad81"/>
<path d="M111 33.8l1.3 3.6 1.5-8.3-1.3.3z" fill="#86d549"/>
<path d="M98.1 60.9l1.3 2 1.5-5.6-1.3-2.3z" fill="#1f968b"/>
<path d="M93.1 48.1l1.3-.3 1.5-3.1-1.2 0z" fill="#35b779"/>
<path d="M99.8 49.2l1.3 2.1 1.5-6-1.3-2.7z" fill="#32b67a"/>
<path d="M99.6 55l1.3 2.3 1.5-5.7-1.3-.3z" fill="#20a486"/>
<path d="M96.6 65l1.3 2.6 1.5-4.7-1.3-2z" fill="#23898e"/>
<path d="M119.9 54.4l1.3.8 1.5-11.2-1.3.1z" fill="#29af7f"/>
<path d="M116.3 82.5l1.3-4.6 1.5-1.1-1.3 5.2z" fill="#355f8d"/>
<path d="M97.2 45.3l1.3.5 1.5-2.5-1.3-1.9z" fill="#40bd72"/>
<path d="M112.5 29.4l1.3-.3 1.5-4.5-1.3.1z" fill="#b0dd2f"/>
<path d="M96 83.4l1.3 3.6 1.5-3.1-1.3-2.5z" fill="#3b528b"/>
<path d="M98.3 52.3l1.3 2.7 1.5-3.7-1.3-2.1z" fill="#24aa83"/>
<path d="M98.5 45.8l1.3 3.4 1.5-6.6-1.3.7z" fill="#3bbb75"/>
<path d="M114.9 40.2l1.3.8 1.5-8.6-1.3-.5z" fill="#6ece58"/>
<path d="M87.6 56.6l1.2-1.9 1.5-3.5z" fill="#20a486"/>
<path d="M96.8 57.9l1.3 3 1.5-5.9-1.3-2.7z" fill="#1f9e89"/>
<path d="M97.1 91.7l1.3.8 1.5-.6-1.3-2.1z" fill="#443b84"/>
<path d="M116.2 41l1.3 2 1.5-10.2-1.3-.4z" fill="#67cc5c"/>
<path d="M98.4 92.5l1.3.9 1.5.4-1.3-1.9z" fill="#453781"/>
<path d="M115.3 24.6l1.3-.5 1.5-2.5z" fill="#cde11d"/>
<path d="M94.4 47.8l1.3 1.1 1.5-3.6-1.3-.6z" fill="#35b779"/>
<path d="M95.1 68.3l1.3 3.7 1.5-4.4-1.3-2.6z" fill="#277f8e"/>
<path d="M97 51.1l1.3 1.2 1.5-3.1-1.3-3.4z" fill="#2ab07f"/>
<path d="M113.8 29.1l1.3 2.8 1.5-7.8-1.3.5z" fill="#addc30"/>
<path d="M94.9 75.3l1.3 2.3 1.5-3.2-1.3-2.4z" fill="#2e6e8e"/>
<path d="M121.2 55.2l1.3-.2 1.5-10.3-1.3-.7z" fill="#2ab07f"/>
<path d="M99.7 93.4l1.3 1.5 1.5-.7-1.3-.4z" fill="#46337f"/>
<path d="M91.6 52.8l1.3-1.2 1.5-3.8-1.3.3z" fill="#29af7f"/>
<path d="M95.8 89.7l1.3 2 1.5-1.9-1.3-2.8z" fill="#414287"/>
<path d="M95.3 60.8l1.3 4.2 1.5-4.1-1.3-3z" fill="#20928c"/>
<path d="M95.7 48.9l1.3 2.2 1.5-5.3-1.3-.5z" fill="#31b57b"/>
<path d="M117.5 43l1.3.3 1.5-9.8-1.3-.7z" fill="#65cb5e"/>
<path d="M122.3 62.4l1.3-2.5 1.5-6.5-1.3.5z" fill="#1e9c89"/>
<path d="M88.8 54.7l1.3.1 1.5-2-1.3-1.6z" fill="#22a785"/>
<path d="M86 59l1.3-1.2 1.5-3.1-1.2 1.9z" fill="#1f9e89"/>
<path d="M105.1 93.3l1.3-2.1 1.5 1.2-1.3 1.9z" fill="#453882"/>
<path d="M95.5 54.6l1.3 3.3 1.5-5.6-1.3-1.2z" fill="#21a585"/>
<path d="M94.7 80.6l1.3 2.8 1.5-2-1.3-3.8z" fill="#355e8d"/>
<path d="M115.1 31.9l1.3 0 1.5-8-1.3.2z" fill="#addc30"/>
<path d="M118.8 43.3l1.3.9 1.5-9.6-1.3-1.1z" fill="#60ca60"/>
<path d="M109.2 90.5l1.3-2.2 1.5.7-1.3 3.3z" fill="#424186"/>
<path d="M116.6 24.1l1.3-.2 1.5-4.1-1.3 1.8z" fill="#d8e219"/>
<path d="M94.2 52.9l1.3 1.7 1.5-3.5-1.3-2.2z" fill="#25ac82"/>
<path d="M93.6 72.1l1.3 3.2 1.5-3.3-1.3-3.7z" fill="#2a768e"/>
<path d="M92.9 51.6l1.3 1.3 1.5-4-1.3-1.1z" fill="#29af7f"/>
<path d="M101 94.9l1.2-1.5 1.6 1.3-1.3-.5z" fill="#463480"/>
<path d="M83.2 62l1.3-.2 1.5-2.8z" fill="#20938c"/>
<path d="M112 89l1.3-4.8 1.5-1.2-1.3 4.7z" fill="#3c4f8a"/>
<path d="M120.6 71.9l1.3-3.6 1.5-3.9-1.3 3.7z" fill="#26818e"/>
<path d="M93.8 65.6l1.3 2.7 1.5-3.3-1.3-4.2z" fill="#23898e"/>
<path d="M94 59.3l1.3 1.5 1.5-2.9-1.3-3.3z" fill="#1e9b8a"/>
<path d="M122.5 55l1.3-1.1 1.5-9.9-1.3.7z" fill="#2db27d"/>
<path d="M116.4 31.9l1.3.5 1.5-7.3-1.3-1.2z" fill="#addc30"/>
<path d="M122.1 68.1l1.3-3.7 1.5-6.3-1.3 1.8z" fill="#21908d"/>
<path d="M90.1 54.8l1.2-.5 1.6-2.7-1.3 1.2z" fill="#22a884"/>
<path d="M81.7 66.2l1.3 1.2 1.5-5.6-1.3.2z" fill="#228b8d"/>
<path d="M94.4 84l1.4 5.7 1.5-2.7-1.3-3.6z" fill="#3c4f8a"/>
<path d="M120.1 44.2l1.3-.1 1.5-9.9-1.3.4z" fill="#60ca60"/>
<path d="M93.3 76.7l1.4 3.9 1.5-3-1.3-2.3z" fill="#30698e"/>
<path d="M84.5 61.8l1.3.7 1.5-4.7-1.3 1.2z" fill="#1f968b"/>
<path d="M92.7 56.6l1.3 2.7 1.5-4.7-1.3-1.7z" fill="#1fa287"/>
<path d="M117.9 23.9l1.3 1.2 1.5-4-1.3-1.3z" fill="#dae319"/>
<path d="M117.7 32.4l1.3.4 1.5-7-1.3-.7z" fill="#a8db34"/>
<path d="M92.5 63.2l1.3 2.4 1.5-4.8-1.3-1.5z" fill="#20928c"/>
<path d="M119.1 76.8l1.3-5.3 1.5-3.2-1.3 3.6z" fill="#2a778e"/>
<path d="M87.3 57.8l1.2-.8 1.6-2.2-1.3-.1z" fill="#1fa187"/>
<path d="M91.3 54.3l1.4 2.3 1.5-3.7-1.3-1.3z" fill="#22a884"/>
<path d="M92.2 69l1.4 3.1 1.5-3.8-1.3-2.7z" fill="#26818e"/>
<path d="M120.7 21.1l1.3-1.5 1.5-2.2z" fill="#f1e51d"/>
<path d="M114.8 83l1.3-4.5 1.5-.6-1.3 4.6z" fill="#34618d"/>
<path d="M91.1 61l1.4 2.2 1.5-3.9-1.3-2.7z" fill="#1f988b"/>
<path d="M119.2 25.1l1.3.7 1.5-6.2-1.3 1.5z" fill="#d8e219"/>
<path d="M123.6 59.9l1.3-1.8 1.5-6.6-1.3 1.9z" fill="#20a386"/>
<path d="M123.8 53.9l1.3-.5 1.5-8.7-1.3-.7z" fill="#31b57b"/>
<path d="M83 67.4l1.2-2.3 1.6-2.6-1.3-.7z" fill="#228d8d"/>
<path d="M80.1 67.8l1.3 2.2 1.6-2.6-1.3-1.2z" fill="#25838e"/>
<path d="M119 32.8l1.3.7 1.5-8.5-1.3.8z" fill="#aadc32"/>
<path d="M93.1 82.7l1.3 1.3 1.6-.6-1.3-2.8z" fill="#365c8d"/>
<path d="M122 19.6l1.3.8 1.5-2.6-1.3-.4z" fill="#f6e620"/>
<path d="M102.2 93.4l1.3-2.1 1.6 2-1.3 1.4z" fill="#443a83"/>
<path d="M92 73.5l1.3 3.2 1.6-1.4-1.3-3.2z" fill="#2c728e"/>
<path d="M95.5 91.5l1.3 2.1 1.6-1.1-1.3-.8z" fill="#433e85"/>
<path d="M121.4 44.1l1.3-.1 1.5-11-1.3 1.2z" fill="#67cc5c"/>
<path d="M106.4 91.2l1.2-2.4 1.6 1.7-1.3 1.9z" fill="#414287"/>
<path d="M90.9 66l1.3 3 1.6-3.4-1.3-2.4z" fill="#23898e"/>
<path d="M88.5 57l1.3 1.6 1.5-4.3-1.2.5z" fill="#1fa287"/>
<path d="M85.8 62.5l1.2-.5 1.5-5-1.2.8z" fill="#1f998a"/>
<path d="M89.8 58.6l1.3 2.4 1.6-4.4-1.4-2.3z" fill="#1f9f88"/>
<path d="M94.2 88.8l1.3 2.7 1.6.2-1.3-2z" fill="#414487"/>
<path d="M96.8 93.6l1.3-.1 1.6-.1-1.3-.9z" fill="#443a83"/>
<path d="M123.3 20.4l1.3.4 1.5-2.3-1.3-.7z" fill="#f4e61e"/>
<path d="M89.6 65l1.3 1 1.6-2.8-1.4-2.2z" fill="#21908d"/>
<path d="M120.3 33.5l1.3 1.1 1.5-8.9-1.3-.7z" fill="#a8db34"/>
<path d="M81.4 70l1.3-.9 1.5-4-1.2 2.3z" fill="#25848e"/>
<path d="M120.5 25.8l1.3-.8 1.5-4.6-1.3-.8z" fill="#dde318"/>
<path d="M122.7 44l1.3.7 1.5-10-1.3-1.7z" fill="#67cc5c"/>
<path d="M88.3 63.1l1.3 1.9 1.5-4-1.3-2.4z" fill="#1f948c"/>
<path d="M117.6 77.9l1.3-4.6 1.5-1.8-1.3 5.3z" fill="#2c728e"/>
<path d="M90.7 71.2l1.3 2.3 1.6-1.4-1.4-3.1z" fill="#287c8e"/>
<path d="M91.8 78.7l1.3 4 1.6-2.1-1.4-3.9z" fill="#32658e"/>
<path d="M87 62l1.3 1.1 1.5-4.5-1.3-1.6z" fill="#1f998a"/>
<path d="M125.1 53.4l1.3-1.9 1.5-7.3-1.3.5z" fill="#35b779"/>
<path d="M84.2 65.1l1.3.2 1.5-3.3-1.2.5z" fill="#21908d"/>
<path d="M98.1 93.5l1.3-.6 1.6 2-1.3-1.5z" fill="#443a83"/>
<path d="M92.9 87.4l1.3 1.4 1.6.9-1.4-5.7z" fill="#3c4f8a"/>
<path d="M124 44.7l1.3-.7 1.5-7.7-1.3-1.6z" fill="#63cb5f"/>
<path d="M121.6 34.6l1.3-.4 1.5-8.3-1.3-.2z" fill="#a8db34"/>
<path d="M124.6 20.8l1.3-.5 1.5-1.9-1.3.1z" fill="#f6e620"/>
<path d="M78.6 72l1.2.5 1.6-2.5-1.3-2.2z" fill="#277f8e"/>
<path d="M110.5 88.3l1.2-4.5 1.6.4-1.3 4.8z" fill="#3a538b"/>
<path d="M121.8 25l1.3.7 1.5-4.9-1.3-.4z" fill="#dfe318"/>
<path d="M123.4 64.4l1.3-4.4 1.5-4.9-1.3 3z" fill="#1e9c89"/>
<path d="M89.4 68.1l1.3 3.1 1.5-2.2-1.3-3z" fill="#25848e"/>
<path d="M124.9 58.1l1.3-3 1.5-4.1-1.3.5z" fill="#25ab82"/>
<path d="M85.5 65.3l1.3.4 1.5-2.6-1.3-1.1z" fill="#21918c"/>
<path d="M91.6 85.4l1.3 2 1.5-3.4-1.3-1.3z" fill="#38588c"/>
<path d="M77.1 78l1.2-.4 1.5-5.1-1.2-.5z" fill="#2c738e"/>
<path d="M121.9 68.3l1.3-4.3 1.5-4-1.3 4.4z" fill="#21908d"/>
<path d="M125.3 44l1.3.7 1.5-8.7-1.3.3z" fill="#65cb5e"/>
<path d="M90.5 77.1l1.3 1.6 1.5-2-1.3-3.2z" fill="#2d708e"/>
<path d="M103.5 91.3l1.3-1.1 1.6 1-1.3 2.1z" fill="#414487"/>
<path d="M82.7 69.1l1.3.6 1.5-4.4-1.3-.2z" fill="#23888e"/>
<path d="M86.8 65.7l1.2.7 1.6-1.4-1.3-1.9z" fill="#218e8d"/>
<path d="M99.4 92.9l1.3-.1 1.5.6-1.2 1.5z" fill="#433e85"/>
<path d="M79.8 72.5l1.3-.7 1.6-2.7-1.3.9z" fill="#277f8e"/>
<path d="M125.9 20.3l1.3.7 1.5-2-1.3-.6z" fill="#f8e621"/>
<path d="M88 66.4l1.4 1.7 1.5-2.1-1.3-1z" fill="#228b8d"/>
<path d="M126.4 51.5l1.3-.5 1.5-6.4-1.3-.4z" fill="#3bbb75"/>
<path d="M123.1 25.7l1.3.2 1.5-5.6-1.3.5z" fill="#dfe318"/>
<path d="M90.3 82.8l1.3 2.6 1.5-2.7-1.3-4z" fill="#34608d"/>
<path d="M113.3 84.2l1.3-5.4 1.5-.3-1.3 4.5z" fill="#32648e"/>
<path d="M75.5 81l1.3-.8 1.5-2.6-1.2.4z" fill="#30698e"/>
<path d="M122.9 34.2l1.3-1.2 1.5-8.1-1.3 1z" fill="#b2dd2d"/>
<path d="M89.1 74.1l1.4 3 1.5-3.6-1.3-2.3z" fill="#2a778e"/>
<path d="M107.6 88.8l1.3-3.3 1.6 2.8-1.3 2.2z" fill="#3c4f8a"/>
<path d="M127.2 21l1.3 0 1.5-.7-1.3-1.3z" fill="#f6e620"/>
<path d="M126.6 44.7l1.3-.5 1.6-8.1-1.4-.1z" fill="#67cc5c"/>
<path d="M84 69.7l1.2-.2 1.6-3.8-1.3-.4z" fill="#23888e"/>
<path d="M78.3 77.6l1.3-.3 1.5-5.5-1.3.7z" fill="#2b758e"/>
<path d="M120.4 71.5l1.3-4.5 1.5-3-1.3 4.3z" fill="#23888e"/>
<path d="M93.9 91.5l1.4 3.2 1.5-1.1-1.3-2.1z" fill="#424186"/>
<path d="M81.1 71.8l1.3 1.6 1.6-3.7-1.3-.6z" fill="#27808e"/>
<path d="M88.9 81.1l1.4 1.7 1.5-4.1-1.3-1.6z" fill="#31688e"/>
<path d="M87.8 72.9l1.3 1.2 1.6-2.9-1.3-3.1z" fill="#277e8e"/>
<path d="M95.3 94.7l1.2-.7 1.6-.5-1.3.1z" fill="#433e85"/>
<path d="M124.4 25.9l1.3-1 1.5-3.9-1.3-.7z" fill="#e5e419"/>
<path d="M127.7 51l1.3-1.8 1.5-3.6-1.3-1z" fill="#3fbc73"/>
<path d="M116.1 78.5l1.3-4.5 1.5-.7-1.3 4.6z" fill="#2c738e"/>
<path d="M128.5 21l1.4.4 1.4-1.4-1.3.3z" fill="#f6e620"/>
<path d="M124.2 33l1.3 1.7 1.5-9-1.3-.8z" fill="#b5de2b"/>
<path d="M76.8 80.2l1.3 1.8 1.5-4.7-1.3.3z" fill="#306a8e"/>
<path d="M74 85.8l1.2-1 1.6-4.6-1.3.8z" fill="#34608d"/>
<path d="M87.6 78.9l1.3 2.2 1.6-4-1.4-3z" fill="#2e6e8e"/>
<path d="M127.9 44.2l1.3.4 1.6-6.5-1.3-2z" fill="#65cb5e"/>
<path d="M125.5 34.7l1.3 1.6 1.5-9-1.3-1.6z" fill="#aadc32"/>
<path d="M85.2 69.5l1.3 1 1.5-4.1-1.2-.7z" fill="#23888e"/>
<path d="M92.6 90.3l1.3 1.2 1.6 0-1.3-2.7z" fill="#3e4989"/>
<path d="M86.5 70.5l1.3 2.4 1.6-4.8-1.4-1.7z" fill="#25848e"/>
<path d="M82.4 73.4l1.3.6 1.5-4.5-1.2.2z" fill="#277f8e"/>
<path d="M91.3 89.1l1.3 1.2 1.6-1.5-1.3-1.4z" fill="#3c4f8a"/>
<path d="M126.2 55.1l1.3-1.2 1.5-4.7-1.3 1.8z" fill="#2cb17e"/>
<path d="M86.3 77.7l1.3 1.2 1.5-4.8-1.3-1.2z" fill="#2c738e"/>
<path d="M90 86.6l1.3 2.5 1.6-1.7-1.3-2z" fill="#3a548c"/>
<path d="M79.6 77.3l1.3.2 1.5-4.1-1.3-1.6z" fill="#2a768e"/>
<path d="M129.2 44.6l1.3 1 1.6-7-1.3-.5z" fill="#60ca60"/>
<path d="M126.8 36.3l1.3-.3 1.6-7.9-1.4-.8z" fill="#a2da37"/>
<path d="M100.7 92.8l1.3-1.4 1.5-.1-1.3 2.1z" fill="#404588"/>
<path d="M85 75.3l1.3 2.4 1.5-4.8-1.3-2.4z" fill="#29798e"/>
<path d="M72.4 88.7l1.3.9 1.5-4.8-1.2 1z" fill="#3a548c"/>
<path d="M83.7 74l1.3 1.3 1.5-4.8-1.3-1z" fill="#277e8e"/>
<path d="M78.1 82l1.2-.2 1.6-4.3-1.3-.2z" fill="#306a8e"/>
<path d="M125.7 24.9l1.3.8 1.5-4.7-1.3 0z" fill="#e7e419"/>
<path d="M88.7 85l1.3 1.6 1.6-1.2-1.3-2.6z" fill="#365c8d"/>
<path d="M129.9 21.4l1.3.5 1.5-1.6-1.4-.3z" fill="#f6e620"/>
<path d="M87.4 84.3l1.3.7 1.6-2.2-1.4-1.7z" fill="#34608d"/>
<path d="M104.8 90.2l1.3-3 1.5 1.6-1.2 2.4z" fill="#3d4e8a"/>
<path d="M86.1 82.1l1.3 2.2 1.5-3.2-1.3-2.2z" fill="#32658e"/>
<path d="M75.2 84.8l1.3.1 1.6-2.9-1.3-1.8z" fill="#34618d"/>
<path d="M80.9 77.5l1.2-.5 1.6-3-1.3-.6z" fill="#2b758e"/>
<path d="M124.7 60l1.3-3.6 1.5-2.5-1.3 1.2z" fill="#22a884"/>
<path d="M128.1 36l1.4.1 1.5-7-1.3-1z" fill="#a2da37"/>
<path d="M118.9 73.3l1.3-3.5 1.5-2.8-1.3 4.5z" fill="#25838e"/>
<path d="M96.5 94l1.3-.8 1.6-.3-1.3.6z" fill="#414287"/>
<path d="M84.8 80.3l1.3 1.8 1.5-3.2-1.3-1.2z" fill="#2f6b8e"/>
<path d="M127 25.7l1.3 1.6 1.6-5.9-1.4-.4z" fill="#e2e418"/>
<path d="M83.5 79.1l1.3 1.2 1.5-2.6-1.3-2.4z" fill="#2e6f8e"/>
<path d="M70.9 94l1.3-.7 1.5-3.7-1.3-.9z" fill="#3f4889"/>
<path d="M82.1 77l1.4 2.1 1.5-3.8-1.3-1.3z" fill="#2b748e"/>
<path d="M129.5 36.1l1.3 2 1.5-8.1-1.3-.9z" fill="#9dd93b"/>
<path d="M131.2 21.9l1.3.8 1.5-2.2-1.3-.2z" fill="#f6e620"/>
<path d="M129 49.2l1.4-1.5 1.5-3.5-1.4 1.4z" fill="#48c16e"/>
<path d="M130.5 45.6l1.4-1.4 1.5-6.8-1.3 1.2z" fill="#65cb5e"/>
<path d="M76.5 84.9l1.3.6 1.5-3.7-1.2.2z" fill="#34618d"/>
<path d="M130.8 38.1l1.3.5 1.5-7.4-1.3-1.2z" fill="#95d840"/>
<path d="M128.3 27.3l1.4.8 1.5-6.2-1.3-.5z" fill="#dfe318"/>
<path d="M79.3 81.8l1.3.3 1.5-5.1-1.2.5z" fill="#2f6c8e"/>
<path d="M132.5 22.7l1.3 1.7 1.5-2.7-1.3-1.2z" fill="#efe51c"/>
<path d="M73.7 89.6l1.3-1.3 1.5-3.4-1.3-.1z" fill="#38588c"/>
<path d="M108.9 85.5l1.3-.8 1.5-.9-1.2 4.5z" fill="#375b8d"/>
<path d="M111.7 83.8l1.3-3.9 1.6-1.1-1.3 5.4z" fill="#31678e"/>
<path d="M80.6 82.1l1.4 2.2 1.5-5.2-1.4-2.1z" fill="#306a8e"/>
<path d="M129.7 28.1l1.3 1 1.5-6.4-1.3-.8z" fill="#dae319"/>
<path d="M133.8 24.4l1.3.9 .2-3.6z" fill="#e7e419"/>
<path d="M123.2 64l1.3-5.2 1.5-2.4-1.3 3.6z" fill="#1fa188"/>
<path d="M82 84.3l1.2-.3 1.6-3.7-1.3-1.2z" fill="#31668e"/>
<path d="M132.1 38.6l1.3-1.2 1.5-4.6-1.3-1.6z" fill="#93d741"/>
<path d="M97.8 93.2l1.3.4 1.6-.8-1.3.1z" fill="#404588"/>
<path d="M127.5 53.9l1.4-2.6 1.5-3.6-1.4 1.5z" fill="#37b878"/>
<path d="M131 29.1l1.3.9 1.5-5.6-1.3-1.7z" fill="#d2e21b"/>
<path d="M102 91.4l1.2-1.4 1.6.2-1.3 1.1z" fill="#3d4d8a"/>
<path d="M77.8 85.5l1.3.2 1.5-3.6-1.3-.3z" fill="#34618d"/>
<path d="M88.5 89.6l1.2.4 1.6-.9-1.3-2.5z" fill="#3b528b"/>
<path d="M84.5 84l1.3 2.7 1.6-2.4-1.3-2.2z" fill="#34608d"/>
<path d="M85.8 86.7l1.3.4 1.6-2.1-1.3-.7z" fill="#365c8d"/>
<path d="M132.3 30l1.3 1.2 1.5-5.9-1.3-.9z" fill="#cae11f"/>
<path d="M133.6 31.2l1.3 1.6 1.5-5.2-1.3-2.3z" fill="#c0df25"/>
<path d="M83.2 84l1.3 0 1.6-1.9-1.3-1.8z" fill="#32658e"/>
<path d="M69.3 95.9l1.3-1.3 1.6-1.3-1.3.7z" fill="#424186"/>
<path d="M87.1 87.1l1.4 2.5 1.5-3-1.3-1.6z" fill="#38598c"/>
<path d="M89.7 90l1.3.9 1.6-.6-1.3-1.2z" fill="#3c4f8a"/>
<path d="M72.2 93.3l1.2-2.5 1.6-2.5-1.3 1.3z" fill="#3d4e8a"/>
<path d="M79.1 85.7l1.3.4 1.6-1.8-1.4-2.2z" fill="#34608d"/>
<path d="M114.6 78.8l1.3-4 1.5-.8-1.3 4.5z" fill="#2b758e"/>
<path d="M91 90.9l1.4 1.1 1.5-.5-1.3-1.2z" fill="#3e4c8a"/>
<path d="M92.4 92l1.2.5 1.7 2.2-1.4-3.2z" fill="#3f4788"/>
<path d="M134.9 32.8l1.3-1.6 1.5-2.7-1.3-.9z" fill="#bade28"/>
<path d="M75 88.3l1.2-1.3 1.6-1.5-1.3-.6z" fill="#375b8d"/>
<path d="M106.1 87.2l1.3-.9 1.5-.8-1.3 3.3z" fill="#375a8c"/>
<path d="M80.4 86.1l1.3.4 1.5-2.5-1.2.3z" fill="#355f8d"/>
<path d="M93.6 92.5l1.3.4 1.6 1.1-1.2.7z" fill="#404688"/>
<path d="M121.7 67l1.3-4.8 1.5-3.4-1.3 5.2z" fill="#1f9a8a"/>
<path d="M131.9 44.2l1.3-3.4 1.5-4.3-1.3.9z" fill="#77d153"/>
<path d="M133.4 37.4l1.3-.9 1.5-5.3-1.3 1.6z" fill="#9dd93b"/>
<path d="M126 56.4l1.4-2.9 1.5-2.2-1.4 2.6z" fill="#2db27d"/>
<path d="M117.4 74l1.3-5.5 1.5 1.3-1.3 3.5z" fill="#25848e"/>
<path d="M99.1 93.6l1.3-3.3 1.6 1.1-1.3 1.4z" fill="#3e4a89"/>
<path d="M136.2 31.2l1.4-.2 1.5-2-1.4-.5z" fill="#c0df25"/>
<path d="M130.4 47.7l1.3-3.9 1.5-3-1.3 3.4z" fill="#5cc863"/>
<path d="M81.7 86.5l1.3.9 1.5-3.4-1.3 0z" fill="#355f8d"/>
<path d="M76.2 87l1.3-1 1.6-.3-1.3-.2z" fill="#355e8d"/>
<path d="M83 87.4l1.3 1.7 1.5-2.4-1.3-2.7z" fill="#365c8d"/>
<path d="M70.6 94.6l1.2-.7 1.6-3.1-1.2 2.5z" fill="#3f4889"/>
<path d="M84.3 89.1l1.2-.1 1.6-1.9-1.3-.4z" fill="#38598c"/>
<path d="M85.5 89l1.4 2.5 1.6-1.9-1.4-2.5z" fill="#3a548c"/>
<path d="M94.9 92.9l1.3-.9 1.6 1.2-1.3.8z" fill="#3e4989"/>
<path d="M103.2 90l1.3-3.4 1.6.6-1.3 3z" fill="#38588c"/>
<path d="M86.9 91.5l1.3-.4 1.5-1.1-1.2-.4z" fill="#3b518b"/>
<path d="M73.4 90.8l1.2-1.5 1.6-2.3-1.2 1.3z" fill="#39568c"/>
<path d="M137.6 31l1.3.9 .2-2.9z" fill="#bddf26"/>
<path d="M110.2 84.7l1.3-4.3 1.5-.5-1.3 3.9z" fill="#30698e"/>
<path d="M128.9 51.3l1.3-3.2 1.5-4.3-1.3 3.9z" fill="#4cc26c"/>
<path d="M134.7 36.5l1.4-1.3 1.5-4.2-1.4.2z" fill="#a8db34"/>
<path d="M120.2 69.8l1.3-6.9 1.5-.7-1.3 4.8z" fill="#1f958b"/>
<path d="M77.5 86l1.2.7 1.7-.6-1.3-.4z" fill="#355f8d"/>
<path d="M124.5 58.8l1.4-2.9 1.5-2.4-1.4 2.9z" fill="#28ae80"/>
<path d="M88.2 91.1l1.3 1 1.5-1.2-1.3-.9z" fill="#3b518b"/>
<path d="M133.2 40.8l1.4-1.2 1.5-4.4-1.4 1.3z" fill="#89d548"/>
<path d="M113 79.9l1.3-3.7 1.6-1.4-1.3 4z" fill="#2a778e"/>
<path d="M96.2 92l1.3.9 1.6.7-1.3-.4z" fill="#3e4c8a"/>
<path d="M107.4 86.3l1.3-4.3 1.5 2.7-1.3.8z" fill="#32648e"/>
<path d="M78.7 86.7l1.3.5 1.7-.7-1.3-.4z" fill="#355e8d"/>
<path d="M89.5 92.1l1.3.6 1.6-.7-1.4-1.1z" fill="#3c4f8a"/>
<path d="M136.1 35.2l1.3-.3 1.5-3-1.3-.9z" fill="#addc30"/>
<path d="M100.4 90.3l1.3-2.8 1.5 2.5-1.2 1.4z" fill="#39558c"/>
<path d="M127.4 53.5l1.3-2.9 1.5-2.5-1.3 3.2z" fill="#3fbc73"/>
<path d="M90.8 92.7l1.3.4 1.5-.6-1.2-.5z" fill="#3d4e8a"/>
<path d="M80 87.2l1.3.6 1.7-.4-1.3-.9z" fill="#355e8d"/>
<path d="M71.8 93.9l1.2-1.6 1.6-3-1.2 1.5z" fill="#3b518b"/>
<path d="M137.4 34.9l1.3 0 1.5-1-1.3-2z" fill="#aadc32"/>
<path d="M74.6 89.3l1.2-1.5 1.7-1.8-1.3 1z" fill="#365d8d"/>
<path d="M81.3 87.8l1.3.2 1.7 1.1-1.3-1.7z" fill="#365c8d"/>
<path d="M131.7 43.8l1.4-3.8 1.5-.4-1.4 1.2z" fill="#7ad151"/>
<path d="M115.9 74.8l1.3-5.2 1.5-1.1-1.3 5.5z" fill="#23888e"/>
<path d="M138.7 34.9l1.4 1.4 1.4-1.6-1.3-.8z" fill="#a5db36"/>
<path d="M140.1 36.3l1.3 1 1.4-1-1.3-1.6z" fill="#9dd93b"/>
<path d="M123 62.2l1.4-4.8 1.5-1.5-1.4 2.9z" fill="#25ab82"/>
<path d="M82.6 88l1.3 1.9 1.6-.9-1.2.1z" fill="#375a8c"/>
<path d="M134.6 39.6l1.3-2.6 1.5-2.1-1.3.3z" fill="#98d83e"/>
<path d="M104.5 86.6l1.3-2.2 1.6 1.9-1.3.9z" fill="#33628d"/>
<path d="M92.1 93.1l1.2-.7 1.6.5-1.3-.4z" fill="#3c4f8a"/>
<path d="M83.9 89.9l1.3.6 1.7 1-1.4-2.5z" fill="#39568c"/>
<path d="M141.4 37.3l1.3 2.7 .1-3.7z" fill="#90d743"/>
<path d="M97.5 92.9l1.3-2.6 1.6 0-1.3 3.3z" fill="#3b518b"/>
<path d="M85.2 90.5l1.4 1.5 1.6-.9-1.3.4z" fill="#3a538b"/>
<path d="M118.7 68.5l1.3-3.3 1.5-2.3-1.3 6.9z" fill="#1f968b"/>
<path d="M75.8 87.8l1.3.3 1.6-1.4-1.2-.7z" fill="#34608d"/>
<path d="M142.5 44.7l1.3 2 1.5-2.6-1.3-1.1z" fill="#65cb5e"/>
<path d="M71.4 94.7l1.6-2.4-1.2 1.6z" fill="#3d4d8a"/>
<path d="M86.6 92l1.3 1.2 1.6-1.1-1.3-1z" fill="#3b528b"/>
<path d="M141.2 42.9l1.3 1.8 1.5-1.7-1.3-3z" fill="#73d056"/>
<path d="M125.9 55.9l1.3-3.7 1.5-1.6-1.3 2.9z" fill="#38b977"/>
<path d="M143.8 46.7l1.3 1.3 .2-3.9z" fill="#5cc863"/>
<path d="M130.2 48.1l1.4-4.1 1.5-4-1.4 3.8z" fill="#6ccd5a"/>
<path d="M73 92.3l1.3-1.6 1.5-2.9-1.2 1.5z" fill="#38598c"/>
<path d="M135.9 37l1.3.5 1.5-2.6-1.3 0z" fill="#a2da37"/>
<path d="M93.3 92.4l1.3-.7 1.6.3-1.3.9z" fill="#3b528b"/>
<path d="M111.5 80.4l1.3-5 1.5.8-1.3 3.7z" fill="#297a8e"/>
<path d="M101.7 87.5l1.2-1 1.6.1-1.3 3.4z" fill="#34608d"/>
<path d="M87.9 93.2l1.3-.1 1.6-.4-1.3-.6z" fill="#3b518b"/>
<path d="M77.1 88.1l1.3-.7 1.6-.2-1.3-.5z" fill="#34618d"/>
<path d="M108.7 82l1.2-3.4 1.6 1.8-1.3 4.3z" fill="#2d718e"/>
<path d="M139.9 39.7l1.3 3.2 1.5-2.9-1.3-2.7z" fill="#89d548"/>
<path d="M133.1 40l1.3-.4 1.5-2.6-1.3 2.6z" fill="#8ed645"/>
<path d="M137.2 37.5l1.4.4 1.5-1.6-1.4-1.4z" fill="#a0da39"/>
<path d="M121.5 62.9l1.4-3.2 1.5-2.3-1.4 4.8z" fill="#22a884"/>
<path d="M78.4 87.4l1.3 2.2 1.6-1.8-1.3-.6z" fill="#34608d"/>
<path d="M128.7 50.6l1.4-2.7 1.5-3.9-1.4 4.1z" fill="#58c765"/>
<path d="M138.6 37.9l1.3 1.8 1.5-2.4-1.3-1z" fill="#98d83e"/>
<path d="M114.3 76.2l1.3-5.2 1.6-1.4-1.3 5.2z" fill="#23888e"/>
<path d="M105.8 84.4l1.3-.9 1.6-1.5-1.3 4.3z" fill="#2f6b8e"/>
<path d="M89.2 93.1l1.2-1.1 1.7 1.1-1.3-.4z" fill="#3b528b"/>
<path d="M79.7 89.6l1.3-.1 1.6-1.5-1.3-.2z" fill="#355e8d"/>
<path d="M94.6 91.7l1.3-1 1.6 2.2-1.3-.9z" fill="#39558c"/>
<path d="M141 46.8l1.3 1.7 1.5-1.8-1.3-2z" fill="#5ec962"/>
<path d="M74.3 90.7l1.2-.8 1.6-1.8-1.3-.3z" fill="#355e8d"/>
<path d="M142.3 48.5l1.4.9 1.4-1.4-1.3-1.3z" fill="#56c667"/>
<path d="M143.7 49.4l1.3 1.8 1.4-1.4-1.3-1.8z" fill="#4ec36b"/>
<path d="M71.4 94.7l1.3-1.6 1.6-2.4-1.3 1.6z" fill="#3a538b"/>
<path d="M81 89.5l1.3 1.9 1.6-1.5-1.3-1.9z" fill="#365c8d"/>
<path d="M145 51.2l1.3 1.4 1.5-2.3-1.4-.5z" fill="#48c16e"/>
<path d="M98.8 90.3l1.3-2.5 1.6-.3-1.3 2.8z" fill="#355e8d"/>
<path d="M139.7 43.9l1.3 2.9 1.5-2.1-1.3-1.8z" fill="#6ece58"/>
<path d="M134.4 39.6l1.4.1 1.4-2.2-1.3-.5z" fill="#98d83e"/>
<path d="M124.4 57.4l1.3-3 1.5-2.2-1.3 3.7z" fill="#35b779"/>
<path d="M82.3 91.4l1.3.1 1.6-1-1.3-.6z" fill="#38598c"/>
<path d="M131.6 44l1.3.1 1.5-4.5-1.3.4z" fill="#7fd34e"/>
<path d="M146.3 52.6l1.4-.4 1.4.1-1.3-2z" fill="#44bf70"/>
<path d="M117.2 69.6l1.3-4.1 1.5-.3-1.3 3.3z" fill="#1f988b"/>
<path d="M90.4 92l1.3.6 1.6-.2-1.2.7z" fill="#3a548c"/>
<path d="M138.4 42.7l1.3 1.2 1.5-1-1.3-3.2z" fill="#7fd34e"/>
<path d="M127.2 52.2l1.4-1 1.5-3.3-1.4 2.7z" fill="#4cc26c"/>
<path d="M75.5 89.9l1.3 1.6 1.6-4.1-1.3.7z" fill="#355f8d"/>
<path d="M102.9 86.5l1.3-1.6 1.6-.5-1.3 2.2z" fill="#30698e"/>
<path d="M135.8 39.7l1.3 1.3 1.5-3.1-1.4-.4z" fill="#95d840"/>
<path d="M147.7 52.2l1.2 3.4 .2-3.3z" fill="#3dbc74"/>
<path d="M83.6 91.5l1.3-.2 1.7.7-1.4-1.5z" fill="#38598c"/>
<path d="M137.1 41l1.3 1.7 1.5-3-1.3-1.8z" fill="#8ed645"/>
<path d="M95.9 90.7l1.3-.9 1.6.5-1.3 2.6z" fill="#375b8d"/>
<path d="M84.9 91.3l1.3 1.4 1.7.5-1.3-1.2z" fill="#39568c"/>
<path d="M120 65.2l1.3-4.3 1.6-1.2-1.4 3.2z" fill="#22a785"/>
<path d="M130.1 47.9l1.3-1.7 1.5-2.1-1.3-.1z" fill="#6ccd5a"/>
<path d="M76.8 91.5l1.3-1.4 1.6-.5-1.3-2.2z" fill="#355f8d"/>
<path d="M132.9 44.1l1.4-1.2 1.5-3.2-1.4-.1z" fill="#86d549"/>
<path d="M86.2 92.7l1.3.1 1.7.3-1.3.1z" fill="#39558c"/>
<path d="M72.7 93.1l1.2-1.7 1.6-1.5-1.2.8z" fill="#375b8d"/>
<path d="M148.8 60.2l1.3 1.1 1.5-2.7-1.3-.9z" fill="#28ae80"/>
<path d="M147.5 58.1l1.3 2.1 1.5-2.5-1.4-2.1z" fill="#2db27d"/>
<path d="M143.5 54.2l1.3.8 1.5-2.4-1.3-1.4z" fill="#40bd72"/>
<path d="M91.7 92.6l1.3-1.4 1.6.5-1.3.7z" fill="#38598c"/>
<path d="M140.9 50.8l1.3.6 1.5-2-1.4-.9z" fill="#52c569"/>
<path d="M142.2 51.4l1.3 2.8 1.5-3-1.3-1.8z" fill="#4ac16d"/>
<path d="M139.6 47.8l1.3 3 1.4-2.3-1.3-1.7z" fill="#5ac864"/>
<path d="M109.9 78.6l1.4-2.6 1.5-.6-1.3 5z" fill="#27808e"/>
<path d="M150.1 61.3l1.3 2.2 .2-4.9z" fill="#25ab82"/>
<path d="M112.8 75.4l1.3-3.2 1.5-1.2-1.3 5.2z" fill="#238a8d"/>
<path d="M122.9 59.7l1.3-2.8 1.5-2.5-1.3 3z" fill="#31b57b"/>
<path d="M78.1 90.1l1.3 0 1.6-.6-1.3.1z" fill="#355f8d"/>
<path d="M144.8 55l1.4 1.2 1.5-4-1.4.4z" fill="#3fbc73"/>
<path d="M146.2 56.2l1.3 1.9 1.4-2.5-1.2-3.4z" fill="#37b878"/>
<path d="M100.1 87.8l1.3-2.1 1.5.8-1.2 1z" fill="#31688e"/>
<path d="M138.2 46.5l1.4 1.3 1.4-1-1.3-2.9z" fill="#69cd5b"/>
<path d="M107.1 83.5l1.3-4.9 1.5 0-1.2 3.4z" fill="#2a788e"/>
<path d="M134.3 42.9l1.3-.2 1.5-1.7-1.3-1.3z" fill="#89d548"/>
<path d="M125.7 54.4l1.3-1.2 1.6-2-1.4 1z" fill="#44bf70"/>
<path d="M131.4 46.2l1.3 1.1 1.6-4.4-1.4 1.2z" fill="#73d056"/>
<path d="M136.9 44.3l1.3 2.2 1.5-2.6-1.3-1.2z" fill="#77d153"/>
<path d="M128.6 51.2l1.3-1.6 1.5-3.4-1.3 1.7z" fill="#5cc863"/>
<path d="M135.6 42.7l1.3 1.6 1.5-1.6-1.3-1.7z" fill="#84d44b"/>
<path d="M79.4 90.1l1.3.3 1.6 1-1.3-1.9z" fill="#355f8d"/>
<path d="M153.9 71.8l1.3 2.1 .2-5.9z" fill="#20928c"/>
<path d="M104.2 84.9l1.3-3.1 1.6 1.7-1.3.9z" fill="#2d718e"/>
<path d="M73.9 91.4l1.3-.5 1.6.6-1.3-1.6z" fill="#365d8d"/>
<path d="M149.9 66.6l1.4 1.4 1.4-3.1-1.3-1.4z" fill="#1fa088"/>
<path d="M87.5 92.8l1.3-1.2 1.6.4-1.2 1.1z" fill="#375a8c"/>
<path d="M142 57.6l1.3 1.5 1.5-4.1-1.3-.8z" fill="#35b779"/>
<path d="M80.7 90.4l1.3 2.2 1.6-1.1-1.3-.1z" fill="#365c8d"/>
<path d="M115.6 71l1.4-4 1.5-1.5-1.3 4.1z" fill="#1f998a"/>
<path d="M140.7 56.2l1.3 1.4 1.5-3.4-1.3-2.8z" fill="#3bbb75"/>
<path d="M143.3 59.1l1.3 2.2 1.6-5.1-1.4-1.2z" fill="#2fb47c"/>
<path d="M152.6 68l1.3 3.8 1.5-3.8-1.3-1.8z" fill="#1f998a"/>
<path d="M148.6 64l1.3 2.6 1.5-3.1-1.3-2.2z" fill="#21a585"/>
<path d="M144.6 61.3l1.4.2 1.5-3.4-1.3-1.9z" fill="#2ab07f"/>
<path d="M146 61.5l1.3 1.8 1.5-3.1-1.3-2.1z" fill="#26ad81"/>
<path d="M151.3 68l1.3 0 1.5-1.8-1.4-1.3z" fill="#1f9e89"/>
<path d="M147.3 63.3l1.3.7 1.5-2.7-1.3-1.1z" fill="#23a983"/>
<path d="M97.2 89.8l1.3-1.7 1.6-.3-1.3 2.5z" fill="#33638d"/>
<path d="M93 91.2l1.3-.2 1.6-.3-1.3 1z" fill="#365d8d"/>
<path d="M139.4 52.5l1.3 3.7 1.5-4.8-1.3-.6z" fill="#48c16e"/>
<path d="M156.4 79.9l1.3 2.3 1.5-4-1.4-1.1z" fill="#287d8e"/>
<path d="M132.7 47.3l1.4-.4 1.5-4.2-1.3.2z" fill="#77d153"/>
<path d="M82 92.6l1.3.9 1.6-2.2-1.3.2z" fill="#375b8d"/>
<path d="M118.5 65.5l1.3-2.5 1.5-2.1-1.3 4.3z" fill="#21a685"/>
<path d="M152.4 75.2l1.3 1.8 1.5-3.1-1.3-2.1z" fill="#238a8d"/>
<path d="M157.7 82.2l1.3 1 .2-5z" fill="#29798e"/>
<path d="M141.8 63.1l1.3 2.3 1.5-4.1-1.3-2.2z" fill="#24aa83"/>
<path d="M155 78.3l1.4 1.6 1.4-2.8-1.3-2.4z" fill="#26828e"/>
<path d="M153.7 77l1.3 1.3 1.5-3.6-1.3-.8z" fill="#24868e"/>
<path d="M138 51.8l1.4.7 1.5-1.7-1.3-3z" fill="#54c568"/>
<path d="M75.2 90.9l1.3.3 1.6-1.1-1.3 1.4z" fill="#355f8d"/>
<path d="M143.1 65.4l1.4-.1 1.5-3.8-1.4-.2z" fill="#22a785"/>
<path d="M129.9 49.6l1.3-.6 1.5-1.7-1.3-1.1z" fill="#65cb5e"/>
<path d="M158.8 90.3l1.3 1.5 1.6-5.5-1.4-1z" fill="#31668e"/>
<path d="M140.5 60.8l1.3 2.3 1.5-4-1.3-1.5z" fill="#29af7f"/>
<path d="M136.7 48.8l1.3 3 1.6-4-1.4-1.3z" fill="#60ca60"/>
<path d="M127 53.2l1.4-.7 1.5-2.9-1.3 1.6z" fill="#50c46a"/>
<path d="M157.5 88.1l1.3 2.2 1.5-5-1.3-2.1z" fill="#2f6b8e"/>
<path d="M121.3 60.9l1.4-2 1.5-2-1.3 2.8z" fill="#2db27d"/>
<path d="M83.3 93.5l1.3.2 1.6-1-1.3-1.4z" fill="#375a8c"/>
<path d="M88.8 91.6l1.3.2 1.6.8-1.3-.6z" fill="#365c8d"/>
<path d="M148.5 69.1l1.3 3.1 1.5-4.2-1.4-1.4z" fill="#1f998a"/>
<path d="M151.1 72.9l1.3 2.3 1.5-3.4-1.3-3.8z" fill="#20928c"/>
<path d="M156.2 86.2l1.3 1.9 1.5-4.9-1.3-1z" fill="#2d708e"/>
<path d="M124.2 56.9l1.3-1.7 1.5-2-1.3 1.2z" fill="#3fbc73"/>
<path d="M154.8 84.9l1.4 1.3 1.5-4-1.3-2.3z" fill="#2b748e"/>
<path d="M149.8 72.2l1.3.7 1.5-4.9-1.3 0z" fill="#1f968b"/>
<path d="M160.1 91.8l1.4 0 .2-5.5z" fill="#33628d"/>
<path d="M134.1 46.9l1.3-.5 1.5-2.1-1.3-1.6z" fill="#77d153"/>
<path d="M101.4 85.7l1.2-3 1.6 2.2-1.3 1.6z" fill="#2d708e"/>
<path d="M139.2 57.1l1.3 3.7 1.5-3.2-1.3-1.4z" fill="#32b67a"/>
<path d="M135.4 46.4l1.3 2.4 1.5-2.3-1.3-2.2z" fill="#6ece58"/>
<path d="M144.5 65.3l1.3.7 1.5-2.7-1.3-1.8z" fill="#21a685"/>
<path d="M153.5 83l1.3 1.9 1.6-5-1.4-1.6z" fill="#29798e"/>
<path d="M147.1 68l1.4 1.1 1.4-2.5-1.3-2.6z" fill="#1f9f88"/>
<path d="M153.3 90.2l1.3 1.2 1.6-5.2-1.4-1.3z" fill="#31688e"/>
<path d="M145.8 66l1.3 2 1.5-4-1.3-.7z" fill="#20a386"/>
<path d="M152.2 80.6l1.3 2.4 1.5-4.7-1.3-1.3z" fill="#277e8e"/>
<path d="M141.6 68.4l1.3 2.4 1.6-5.5-1.4.1z" fill="#1f9e89"/>
<path d="M148.2 77l1.4 1.2 1.5-5.3-1.3-.7z" fill="#238a8d"/>
<path d="M152 87.9l1.3 2.3 1.5-5.3-1.3-1.9z" fill="#2f6c8e"/>
<path d="M156 92.2l1.3 1.2 1.5-3.1-1.3-2.2z" fill="#34608d"/>
<path d="M140.3 66.5l1.3 1.9 1.5-3-1.3-2.3z" fill="#1fa187"/>
<path d="M131.2 49l1.4 1 1.5-3.1-1.4.4z" fill="#65cb5e"/>
<path d="M154.6 91.4l1.4.8 1.5-4.1-1.3-1.9z" fill="#32648e"/>
<path d="M150.9 79.1l1.3 1.5 1.5-3.6-1.3-1.8z" fill="#26828e"/>
<path d="M149.6 78.2l1.3.9 1.5-3.9-1.3-2.3z" fill="#24878e"/>
<path d="M137.9 57.2l1.3-.1 1.5-.9-1.3-3.7z" fill="#3bbb75"/>
<path d="M150.5 93.2l1.3 1.5 1.5-4.5-1.3-2.3z" fill="#355f8d"/>
<path d="M94.3 91l1.3-1.7 1.6.5-1.3.9z" fill="#33628d"/>
<path d="M84.6 93.7l1.3-.6 1.6-.3-1.3-.1z" fill="#375a8c"/>
<path d="M76.5 91.2l1.3.4 1.6-1.5-1.3 0z" fill="#34618d"/>
<path d="M150.7 86.7l1.3 1.2 1.5-4.9-1.3-2.4z" fill="#2c718e"/>
<path d="M157.3 93.4l1.4-.1 1.4-1.5-1.3-1.5z" fill="#365d8d"/>
<path d="M146.9 74.2l1.3 2.8 1.6-4.8-1.3-3.1z" fill="#21908d"/>
<path d="M111.3 76l1.3-2.4 1.5-1.4-1.3 3.2z" fill="#228c8d"/>
<path d="M151.8 94.7l1.4.3 1.4-3.6-1.3-1.2z" fill="#375b8d"/>
<path d="M149.2 90.8l1.3 2.4 1.5-5.3-1.3-1.2z" fill="#32648e"/>
<path d="M139 64.6l1.3 1.9 1.5-3.4-1.3-2.3z" fill="#22a884"/>
<path d="M136.6 53.4l1.3 3.8 1.5-4.7-1.4-.7z" fill="#48c16e"/>
<path d="M149.4 84.1l1.3 2.6 1.5-6.1-1.3-1.5z" fill="#2a778e"/>
<path d="M73.6 93.4l1.6-2.5-1.3.5z" fill="#355e8d"/>
<path d="M147.6 96.7l1.4 1.2 1.5-4.7-1.3-2.4z" fill="#39568c"/>
<path d="M147.8 89.2l1.4 1.6 1.5-4.1-1.3-2.6z" fill="#306a8e"/>
<path d="M146.7 80.5l1.4 1 1.5-3.3-1.4-1.2z" fill="#27808e"/>
<path d="M153.2 95l1.3 1.3 1.5-4.1-1.4-.8z" fill="#38598c"/>
<path d="M148.1 81.5l1.3 2.6 1.5-5-1.3-.9z" fill="#287c8e"/>
<path d="M90.1 91.8l1.3-1.2 1.6.6-1.3 1.4z" fill="#34608d"/>
<path d="M98.5 88.1l1.3-1.4 1.6-1-1.3 2.1z" fill="#2f6c8e"/>
<path d="M132.6 50l1.3 1.3 1.5-4.9-1.3.5z" fill="#65cb5e"/>
<path d="M114.1 72.2l1.3-3.5 1.6-1.7-1.4 4z" fill="#1f998a"/>
<path d="M146.3 94.2l1.3 2.5 1.6-5.9-1.4-1.6z" fill="#365c8d"/>
<path d="M149 97.9l1.3-.4 1.5-2.8-1.3-1.5z" fill="#3a538b"/>
<path d="M142.9 70.8l1.4-2.2 1.5-2.6-1.3-.7z" fill="#1f9f88"/>
<path d="M158.7 93.3l1.3 1.2 1.5-2.7-1.4 0z" fill="#365c8d"/>
<path d="M108.4 78.6l1.3-3.3 1.6.7-1.4 2.6z" fill="#25858e"/>
<path d="M145.6 71.1l1.3 3.1 1.6-5.1-1.4-1.1z" fill="#1f978b"/>
<path d="M145.4 77.5l1.3 3 1.5-3.5-1.3-2.8z" fill="#25858e"/>
<path d="M140.1 71.7l1.3 2 1.5-2.9-1.3-2.4z" fill="#1f958b"/>
<path d="M128.4 52.5l1.3-1.5 1.5-2-1.3.6z" fill="#5ac864"/>
<path d="M135.2 51.3l1.4 2.1 1.4-1.6-1.3-3z" fill="#56c667"/>
<path d="M160 94.5l1.3 1.7 1.5-2.5-1.3-1.9z" fill="#38598c"/>
<path d="M144.8 99.2l1.3 1 1.5-3.5-1.3-2.5z" fill="#3d4e8a"/>
<path d="M105.5 81.8l1.3-3.8 1.6.6-1.3 4.9z" fill="#277e8e"/>
<path d="M154.5 96.3l1.3 0 1.5-2.9-1.3-1.2z" fill="#38588c"/>
<path d="M146.1 100.2l1.4 1.1 1.5-3.4-1.4-1.2z" fill="#3e4a89"/>
<path d="M133.9 51.3l1.3 0 1.5-2.5-1.3-2.4z" fill="#60ca60"/>
<path d="M146.5 86.1l1.3 3.1 1.6-5.1-1.3-2.6z" fill="#2c718e"/>
<path d="M77.8 91.6l1.2-.9 1.7-.3-1.3-.3z" fill="#33638d"/>
<path d="M144.3 68.6l1.3 2.5 1.5-3.1-1.3-2z" fill="#1e9d89"/>
<path d="M161.3 96.2l1.4-.6 1.4-.6-1.3-1.3z" fill="#39558c"/>
<path d="M119.8 63l1.3-.7 1.6-3.4-1.4 2z" fill="#29af7f"/>
<path d="M125.5 55.2l1.4-1.1 1.5-1.6-1.4.7z" fill="#4ac16d"/>
<path d="M137.7 60l1.3 4.6 1.5-3.8-1.3-3.7z" fill="#2cb17e"/>
<path d="M141.4 73.7l1.4 1.3 1.5-6.4-1.4 2.2z" fill="#20938c"/>
<path d="M138.8 69l1.3 2.7 1.5-3.3-1.3-1.9z" fill="#1e9c89"/>
<path d="M117 67l1.3-3.3 1.5-.7-1.3 2.5z" fill="#21a685"/>
<path d="M144.1 76.9l1.3.6 1.5-3.3-1.3-3.1z" fill="#228c8d"/>
<path d="M122.7 58.9l1.3-.9 1.5-2.8-1.3 1.7z" fill="#38b977"/>
<path d="M150.3 97.5l1.4.1 1.5-2.6-1.4-.3z" fill="#3a538b"/>
<path d="M145.2 84.7l1.3 1.4 1.6-4.6-1.4-1z" fill="#2a778e"/>
<path d="M85.9 93.1l1.3-.5 1.6-1-1.3 1.2z" fill="#355e8d"/>
<path d="M145 90.4l1.3 3.8 1.5-5-1.3-3.1z" fill="#32658e"/>
<path d="M79 90.7l1.4 1.5 1.6.4-1.3-2.2z" fill="#34618d"/>
<path d="M137.5 67.4l1.3 1.6 1.5-2.5-1.3-1.9z" fill="#1fa187"/>
<path d="M129.7 51l1.3 2.2 1.6-3.2-1.4-1z" fill="#5ac864"/>
<path d="M155.8 96.3l1.4.9 1.5-3.9-1.4.1z" fill="#39568c"/>
<path d="M147.5 101.3l1.3.2 1.5-4-1.3.4z" fill="#3e4989"/>
<path d="M142.8 75l1.3 1.9 1.5-5.8-1.3-2.5z" fill="#20928c"/>
<path d="M143.5 95.7l1.3 3.5 1.5-5-1.3-3.8z" fill="#38588c"/>
<path d="M141.2 79.5l1.4 1.6 1.5-4.2-1.3-1.9z" fill="#25848e"/>
<path d="M80.4 92.2l1.3.2 1.6 1.1-1.3-.9z" fill="#355e8d"/>
<path d="M73.6 93.4l1.2-1.6 1.7-.6-1.3-.3z" fill="#34608d"/>
<path d="M131 53.2l1.4.3 1.5-2.2-1.3-1.3z" fill="#54c568"/>
<path d="M136.4 58l1.3 2 1.5-2.9-1.3.1z" fill="#37b878"/>
<path d="M143.3 102.5l1.3 1.4 1.5-3.7-1.3-1z" fill="#414487"/>
<path d="M135 57.4l1.4.6 1.5-.8-1.3-3.8z" fill="#3dbc74"/>
<path d="M162.7 95.6l1.3 2 .1-2.6z" fill="#3a548c"/>
<path d="M102.6 82.7l1.4-1.1 1.5.2-1.3 3.1z" fill="#29798e"/>
<path d="M143.9 80.4l1.3 4.3 1.5-4.2-1.3-3z" fill="#277e8e"/>
<path d="M139.9 76.5l1.3 3 1.6-4.5-1.4-1.3z" fill="#238a8d"/>
<path d="M143.7 89l1.3 1.4 1.5-4.3-1.3-1.4z" fill="#2e6d8e"/>
<path d="M151.7 97.6l1.3 0 1.5-1.3-1.3-1.3z" fill="#3a538b"/>
<path d="M138.6 75.7l1.3.8 1.5-2.8-1.3-2z" fill="#218f8d"/>
<path d="M95.6 89.3l1.3-2.7 1.6 1.5-1.3 1.7z" fill="#306a8e"/>
<path d="M142.6 81.1l1.3-.7 1.5-2.9-1.3-.6z" fill="#25838e"/>
<path d="M91.4 90.6l1.3-1.1 1.6 1.5-1.3.2z" fill="#32658e"/>
<path d="M144.6 103.9l1.4.4 1.5-3-1.4-1.1z" fill="#424186"/>
<path d="M136.2 65l1.3 2.4 1.5-2.8-1.3-4.6z" fill="#23a983"/>
<path d="M142 99.5l1.3 3 1.5-3.3-1.3-3.5z" fill="#3e4c8a"/>
<path d="M132.4 53.5l1.3 1 1.5-3.2-1.3 0z" fill="#52c569"/>
<path d="M133.7 54.5l1.3 2.9 1.6-4-1.4-2.1z" fill="#4ac16d"/>
<path d="M137.3 73.3l1.3 2.4 1.5-4-1.3-2.7z" fill="#1f948c"/>
<path d="M142.2 93.8l1.3 1.9 1.5-5.3-1.3-1.4z" fill="#34608d"/>
<path d="M157.2 97.2l1.4-.8 1.4-1.9-1.3-1.2z" fill="#38588c"/>
<path d="M81.7 92.4l1.3.4 1.6.9-1.3-.2z" fill="#355e8d"/>
<path d="M126.9 54.1l1.3.5 1.5-3.6-1.3 1.5z" fill="#52c569"/>
<path d="M139.7 82.4l1.4 2.9 1.5-4.2-1.4-1.6z" fill="#287c8e"/>
<path d="M142.4 85.8l1.3 3.2 1.5-4.3-1.3-4.3z" fill="#2b748e"/>
<path d="M87.2 92.6l1.3-.5 1.6-.3-1.3-.2z" fill="#34618d"/>
<path d="M158.6 96.4l1.3 1.9 1.4-2.1-1.3-1.7z" fill="#3a548c"/>
<path d="M148.8 101.5l1.4-1.1 1.5-2.8-1.4-.1z" fill="#3d4d8a"/>
<path d="M141.1 85.3l1.3.5 1.5-5.4-1.3.7z" fill="#29798e"/>
<path d="M140.9 91.3l1.3 2.5 1.5-4.8-1.3-3.2z" fill="#31678e"/>
<path d="M153 97.6l1.4-.2 1.4-1.1-1.3 0z" fill="#3a538b"/>
<path d="M74.8 91.8l1.3.1 1.7-.3-1.3-.4z" fill="#33638d"/>
<path d="M140.7 97.7l1.3 1.8 1.5-3.8-1.3-1.9z" fill="#3a548c"/>
<path d="M136 70.2l1.3 3.1 1.5-4.3-1.3-1.6z" fill="#1e9b8a"/>
<path d="M121.1 62.3l1.4-1.9 1.5-2.4-1.3.9z" fill="#31b57b"/>
<path d="M112.6 73.6l1.3-3.2 1.5-1.7-1.3 3.5z" fill="#1f988b"/>
<path d="M124 58l1.3-1.1 1.6-2.8-1.4 1.1z" fill="#42be71"/>
<path d="M134.8 62.5l1.4 2.5 1.5-5-1.3-2z" fill="#2cb17e"/>
<path d="M99.8 86.7l1.3-3.3 1.5-.7-1.2 3z" fill="#2b758e"/>
<path d="M146 104.3l1.4-1.4 1.4-1.4-1.3-.2z" fill="#414287"/>
<path d="M133.5 60.9l1.3 1.6 1.6-4.5-1.4-.6z" fill="#32b67a"/>
<path d="M138.4 79.5l1.3 2.9 1.5-2.9-1.3-3z" fill="#25838e"/>
<path d="M139.3 95.9l1.4 1.8 1.5-3.9-1.3-2.5z" fill="#375b8d"/>
<path d="M139.5 88.8l1.4 2.5 1.5-5.5-1.3-.5z" fill="#2e6e8e"/>
<path d="M159.9 98.3l1.4-.1 1.4-2.6-1.4.6z" fill="#3a538b"/>
<path d="M109.7 75.3l1.3-2.1 1.6.4-1.3 2.4z" fill="#21908d"/>
<path d="M128.2 54.6l1.3 0 1.5-1.4-1.3-2.2z" fill="#52c569"/>
<path d="M141.8 105.3l1.3.6 1.5-2-1.3-1.4z" fill="#433d84"/>
<path d="M140.5 103.9l1.3 1.4 1.5-2.8-1.3-3z" fill="#414287"/>
<path d="M134.7 68.2l1.3 2 1.5-2.8-1.3-2.4z" fill="#1fa187"/>
<path d="M129.5 54.6l1.4 2.7 1.5-3.8-1.4-.3z" fill="#4ac16d"/>
<path d="M132.2 57.9l1.3 3 1.5-3.5-1.3-2.9z" fill="#3bbb75"/>
<path d="M137.1 78.3l1.3 1.2 1.5-3-1.3-.8z" fill="#23898e"/>
<path d="M135.8 76.2l1.3 2.1 1.5-2.6-1.3-2.4z" fill="#228d8d"/>
<path d="M118.3 63.7l1.3-1.8 1.5.4-1.3.7z" fill="#28ae80"/>
<path d="M92.7 89.5l1.3.2 1.6-.4-1.3 1.7z" fill="#30698e"/>
<path d="M83 92.8l1.2-1.2 1.7 1.5-1.3.6z" fill="#34618d"/>
<path d="M130.9 57.3l1.3.6 1.5-3.4-1.3-1z" fill="#46c06f"/>
<path d="M115.4 68.7l1.3-2.9 1.6-2.1-1.3 3.3z" fill="#21a685"/>
<path d="M154.4 97.4l1.4-.1 1.4-.1-1.4-.9z" fill="#3a548c"/>
<path d="M138 93.2l1.3 2.7 1.6-4.6-1.4-2.5z" fill="#33628d"/>
<path d="M139.1 101.4l1.4 2.5 1.5-4.4-1.3-1.8z" fill="#3e4989"/>
<path d="M76.1 91.9l1.3.4 1.6-1.6-1.2.9z" fill="#32648e"/>
<path d="M138.2 84.7l1.3 4.1 1.6-3.5-1.4-2.9z" fill="#2b758e"/>
<path d="M143.1 105.9l1.4.4 1.5-2-1.4-.4z" fill="#443b84"/>
<path d="M161.3 98.2l1.3.9 1.4-1.5-1.3-2z" fill="#3a538b"/>
<path d="M106.8 78l1.3-1.1 1.6-1.6-1.3 3.3z" fill="#238a8d"/>
<path d="M133.3 65.1l1.4 3.1 1.5-3.2-1.4-2.5z" fill="#23a983"/>
<path d="M150.2 100.4l1.4-.8 1.4-2-1.3 0z" fill="#3c508b"/>
<path d="M137.8 99.5l1.3 1.9 1.6-3.7-1.4-1.8z" fill="#3c508b"/>
<path d="M96.9 86.6l1.3-.7 1.6.8-1.3 1.4z" fill="#2c718e"/>
<path d="M88.5 92.1l1.3-1.6 1.6.1-1.3 1.2z" fill="#31668e"/>
<path d="M162.6 99.1l1.4.5 1.4-.9-1.4-1.1z" fill="#3c508b"/>
<path d="M134.5 73.5l1.3 2.7 1.5-2.9-1.3-3.1z" fill="#1f948c"/>
<path d="M125.3 56.9l1.4.2 1.5-2.5-1.3-.5z" fill="#48c16e"/>
<path d="M132 63.7l1.3 1.4 1.5-2.6-1.3-1.6z" fill="#29af7f"/>
<path d="M164 99.6l1.3.7 1.4.3-1.3-1.9z" fill="#3d4e8a"/>
<path d="M77.4 92.3l1.3 1.1 1.7-1.2-1.4-1.5z" fill="#32648e"/>
<path d="M130.7 62.4l1.3 1.3 1.5-2.8-1.3-3z" fill="#2fb47c"/>
<path d="M147.4 102.9l1.3-1.6 1.5-.9-1.4 1.1z" fill="#3f4889"/>
<path d="M104 81.6l1.2-3.9 1.6.3-1.3 3.8z" fill="#25848e"/>
<path d="M136.9 82.6l1.3 2.1 1.5-2.3-1.3-2.9z" fill="#277e8e"/>
<path d="M133.1 71.4l1.4 2.1 1.5-3.3-1.3-2z" fill="#1e9c89"/>
<path d="M155.8 97.3l1.4-.5 1.4-.4-1.4.8z" fill="#39568c"/>
<path d="M137.6 105.2l1.4 1.6 1.5-2.9-1.4-2.5z" fill="#424086"/>
<path d="M136.5 95l1.3 4.5 1.5-3.6-1.3-2.7z" fill="#375a8c"/>
<path d="M122.5 60.4l1.3-2.2 1.5-1.3-1.3 1.1z" fill="#3bbb75"/>
<path d="M78.7 93.4l1.3.8 1.7-1.8-1.3-.2z" fill="#33628d"/>
<path d="M139 106.8l1.3-.2 1.5-1.3-1.3-1.4z" fill="#443b84"/>
<path d="M84.2 91.6l1.3-.1 1.7 1.1-1.3.5z" fill="#32648e"/>
<path d="M165.3 100.3l1.3 2 .1-1.7z" fill="#3e4a89"/>
<path d="M136.7 88.4l1.3 4.8 1.5-4.4-1.3-4.1z" fill="#2e6e8e"/>
<path d="M129.4 58.3l1.3 4.1 1.5-4.5-1.3-.6z" fill="#3aba76"/>
<path d="M119.6 61.9l1.3.3 1.6-1.8-1.4 1.9z" fill="#2eb37c"/>
<path d="M126.7 57.1l1.3-.8 1.5-1.7-1.3 0z" fill="#4ac16d"/>
<path d="M135.6 79.9l1.3 2.7 1.5-3.1-1.3-1.2z" fill="#25848e"/>
<path d="M136.3 102.4l1.3 2.8 1.5-3.8-1.3-1.9z" fill="#3f4788"/>
<path d="M144.5 106.3l1.4-2.4 1.5-1-1.4 1.4z" fill="#424086"/>
<path d="M151.6 99.6l1.4-1.4 1.4-.8-1.4.2z" fill="#3a538b"/>
<path d="M134.3 78.2l1.3 1.7 1.5-1.6-1.3-2.1z" fill="#238a8d"/>
<path d="M131.8 68.1l1.3 3.3 1.6-3.2-1.4-3.1z" fill="#20a386"/>
<path d="M157.2 96.8l1.3 1 1.4.5-1.3-1.9z" fill="#39568c"/>
<path d="M128 56.3l1.4 2 1.5-1-1.4-2.7z" fill="#46c06f"/>
<path d="M140.3 106.6l1.4.4 1.4-1.1-1.3-.6z" fill="#443b84"/>
<path d="M101.1 83.4l1.3-2.8 1.6 1-1.4 1.1z" fill="#27808e"/>
<path d="M113.9 70.4l1.3-1.8 1.5-2.8-1.3 2.9z" fill="#20a386"/>
<path d="M94 89.7l1.3-3.2 1.6.1-1.3 2.7z" fill="#2d718e"/>
<path d="M135.4 88.1l1.3.3 1.5-3.7-1.3-2.1z" fill="#2a768e"/>
<path d="M132.9 76.1l1.4 2.1 1.5-2-1.3-2.7z" fill="#21908d"/>
<path d="M111 73.2l1.3-3.2 1.6.4-1.3 3.2z" fill="#1e9b8a"/>
<path d="M116.7 65.8l1.4-.4 1.5-3.5-1.3 1.8z" fill="#28ae80"/>
<path d="M89.8 90.5l1.3-1.4 1.6.4-1.3 1.1z" fill="#2f6c8e"/>
<path d="M80 94.2l1.3-2.5 1.7 1.1-1.3-.4z" fill="#32648e"/>
<path d="M135.2 93.1l1.3 1.9 1.5-1.8-1.3-4.8z" fill="#32658e"/>
<path d="M98.2 85.9l1.3-1.2 1.6-1.3-1.3 3.3z" fill="#2a788e"/>
<path d="M158.5 97.8l1.4-.5 1.4.9-1.4.1z" fill="#39558c"/>
<path d="M130.5 65.3l1.3 2.8 1.5-3-1.3-1.4z" fill="#25ab82"/>
<path d="M135 99.6l1.3 2.8 1.5-2.9-1.3-4.5z" fill="#3b528b"/>
<path d="M85.5 91.5l1.3-.6 1.7 1.2-1.3.5z" fill="#31678e"/>
<path d="M129.2 64.1l1.3 1.2 1.5-1.6-1.3-1.3z" fill="#29af7f"/>
<path d="M123.8 58.2l1.4.2 1.5-1.3-1.4-.2z" fill="#42be71"/>
<path d="M134.1 84.1l1.3 4 1.5-5.5-1.3-2.7z" fill="#287d8e"/>
<path d="M108.1 76.9l1.3-2.3 1.6-1.4-1.3 2.1z" fill="#20928c"/>
<path d="M131.6 73.2l1.3 2.9 1.6-2.6-1.4-2.1z" fill="#1f978b"/>
<path d="M136.1 107.7l1.4.8 1.5-1.7-1.4-1.6z" fill="#443a83"/>
<path d="M148.7 101.3l1.4-2.1 1.5.4-1.4.8z" fill="#3c508b"/>
<path d="M141.7 107l1.3-1.8 1.5 1.1-1.4-.4z" fill="#433e85"/>
<path d="M134.8 105.8l1.3 1.9 1.5-2.5-1.3-2.8z" fill="#424086"/>
<path d="M133.9 89.8l1.3 3.3 1.5-4.7-1.3-.3z" fill="#2e6d8e"/>
<path d="M153 98.2l1.3-.6 1.5-.3-1.4.1z" fill="#38588c"/>
<path d="M120.9 62.2l1.4-.7 1.5-3.3-1.3 2.2z" fill="#37b878"/>
<path d="M127.8 60.9l1.4 3.2 1.5-1.7-1.3-4.1z" fill="#32b67a"/>
<path d="M166.5 105.9l1.4.6 1.4.1-1.4-1.5z" fill="#433e85"/>
<path d="M77.1 93.5l1.6-.1-1.3-1.1z" fill="#32658e"/>
<path d="M159.9 97.3l1.3.6 1.4 1.2-1.3-.9z" fill="#39568c"/>
<path d="M133.7 96.9l1.3 2.7 1.5-4.6-1.3-1.9z" fill="#365d8d"/>
<path d="M137.5 108.5l1.3.1 1.5-2-1.3.2z" fill="#443983"/>
<path d="M125.2 58.4l1.3 1.1 1.5-3.2-1.3.8z" fill="#44bf70"/>
<path d="M132.8 80.8l1.3 3.3 1.5-4.2-1.3-1.7z" fill="#25858e"/>
<path d="M130.3 70.3l1.3 2.9 1.5-1.8-1.3-3.3z" fill="#1f9f88"/>
<path d="M165.3 101.9l1.2 4 1.4-.8-1.3-2.8z" fill="#404688"/>
<path d="M91.1 89.1l1.3 0 1.6.6-1.3-.2z" fill="#2d708e"/>
<path d="M132.6 87.6l1.3 2.2 1.5-1.7-1.3-4z" fill="#2b748e"/>
<path d="M105.2 77.7l1.4-1.6 1.5.8-1.3 1.1z" fill="#218f8d"/>
<path d="M133.5 102.7l1.3 3.1 1.5-3.4-1.3-2.8z" fill="#3e4989"/>
<path d="M81.3 91.7l1.3 1.2 1.6-1.3-1.2 1.2z" fill="#31688e"/>
<path d="M118.1 65.4l1.3-1.4 1.5-1.8-1.3-.3z" fill="#2db27d"/>
<path d="M126.5 59.5l1.3 1.4 1.6-2.6-1.4-2z" fill="#40bd72"/>
<path d="M145.9 103.9l1.4-2.5 1.4-.1-1.3 1.6z" fill="#3e4a89"/>
<path d="M161.2 97.9l1.4.1 1.4 1.6-1.4-.5z" fill="#39558c"/>
<path d="M115.2 68.6l1.3-1.8 1.6-1.4-1.4.4z" fill="#24aa83"/>
<path d="M133.3 109.8l1.3 2.1 1.5-4.2-1.3-1.9z" fill="#453781"/>
<path d="M131.4 77.7l1.4 3.1 1.5-2.6-1.4-2.1z" fill="#228d8d"/>
<path d="M86.8 90.9l1.3-1.6 1.7 1.2-1.3 1.6z" fill="#2e6d8e"/>
<path d="M129 68.5l1.3 1.8 1.5-2.2-1.3-2.8z" fill="#22a785"/>
<path d="M154.3 97.6l1.4 0 1.5-.8-1.4.5z" fill="#375b8d"/>
<path d="M134.6 111.9l1.3.3 1.6-3.7-1.4-.8z" fill="#46337f"/>
<path d="M77.1 93.5l1.3-.5 1.6 1.2-1.3-.8z" fill="#32658e"/>
<path d="M132.4 93l1.3 3.9 1.5-3.8-1.3-3.3z" fill="#31668e"/>
<path d="M95.3 86.5l1.3-1.5 1.6.9-1.3.7z" fill="#29798e"/>
<path d="M138.8 108.6l1.4-.2 1.5-1.4-1.4-.4z" fill="#443b84"/>
<path d="M122.3 61.5l1.3.4 1.6-3.5-1.4-.2z" fill="#3bbb75"/>
<path d="M132.2 100.1l1.3 2.6 1.5-3.1-1.3-2.7z" fill="#3a538b"/>
<path d="M164 98.9l1.3 3 1.3.4-1.3-2z" fill="#3c508b"/>
<path d="M102.4 80.6l1.3-2.1 1.5-.8-1.2 3.9z" fill="#238a8d"/>
<path d="M162.6 98l1.4.9 1.3 1.4-1.3-.7z" fill="#39558c"/>
<path d="M143 105.2l1.4-.3 1.5-1-1.4 2.4z" fill="#414487"/>
<path d="M112.3 70l1.3-.8 1.6-.6-1.3 1.8z" fill="#20a386"/>
<path d="M150.1 99.2l1.4-.4 1.5-.6-1.4 1.4z" fill="#39568c"/>
<path d="M131.9 106.9l1.4 2.9 1.5-4-1.3-3.1z" fill="#424086"/>
<path d="M131.2 83.7l1.4 3.9 1.5-3.5-1.3-3.3z" fill="#277f8e"/>
<path d="M127.6 64.7l1.4 3.8 1.5-3.2-1.3-1.2z" fill="#27ad81"/>
<path d="M82.6 92.9l1.3-1.5 1.6.1-1.3.1z" fill="#2f6b8e"/>
<path d="M130.1 74.7l1.3 3 1.5-1.6-1.3-2.9z" fill="#1f958b"/>
<path d="M131.7 113.1l1.4 2.6 1.5-3.8-1.3-2.1z" fill="#472c7a"/>
<path d="M126.3 64.5l1.3.2 1.6-.6-1.4-3.2z" fill="#2fb47c"/>
<path d="M123.6 61.9l1.4.1 1.5-2.5-1.3-1.1z" fill="#3bbb75"/>
<path d="M99.5 84.7l1.3-3.8 1.6-.3-1.3 2.8z" fill="#25838e"/>
<path d="M109.4 74.6l1.4-2.5 1.5-2.1-1.3 3.2z" fill="#1e9d89"/>
<path d="M92.4 89.1l1.3-.9 1.6-1.7-1.3 3.2z" fill="#2b748e"/>
<path d="M119.4 64l1.4-1.4 1.5-1.1-1.4.7z" fill="#32b67a"/>
<path d="M133.1 115.7l1.3 0 1.5-3.5-1.3-.3z" fill="#482878"/>
<path d="M135.9 112.2l1.4-1.3 1.5-2.3-1.3-.1z" fill="#463480"/>
<path d="M125 62l1.3 2.5 1.5-3.6-1.3-1.4z" fill="#37b878"/>
<path d="M131 89.3l1.4 3.7 1.5-3.2-1.3-2.2z" fill="#2d718e"/>
<path d="M155.7 97.6l1.4-1.9 1.4 2.1-1.3-1z" fill="#365d8d"/>
<path d="M130.8 96.2l1.4 3.9 1.5-3.2-1.3-3.9z" fill="#355f8d"/>
<path d="M128.8 73l1.3 1.7 1.5-1.5-1.3-2.9z" fill="#1e9d89"/>
<path d="M78.4 93l1.3.1 1.6-1.4-1.3 2.5z" fill="#30698e"/>
<path d="M106.6 76.1l1.3-1.6 1.5.1-1.3 2.3z" fill="#1f958b"/>
<path d="M116.5 66.8l1.4-.7 1.5-2.1-1.3 1.4z" fill="#29af7f"/>
<path d="M140.2 108.4l1.3-.6 1.5-2.6-1.3 1.8z" fill="#423f85"/>
<path d="M130.6 103.1l1.3 3.8 1.6-4.2-1.3-2.6z" fill="#3e4c8a"/>
<path d="M130.4 110.3l1.3 2.8 1.6-3.3-1.4-2.9z" fill="#453581"/>
<path d="M129.9 80.7l1.3 3 1.6-2.9-1.4-3.1z" fill="#23898e"/>
<path d="M88.1 89.3l1.3-.1 1.7-.1-1.3 1.4z" fill="#2c718e"/>
<path d="M96.6 85l1.3-1.2 1.6.9-1.3 1.2z" fill="#277f8e"/>
<path d="M127.4 70l1.4 3 1.5-2.7-1.3-1.8z" fill="#20a386"/>
<path d="M130.2 116.7l1.3 3.1 1.6-4.1-1.4-2.6z" fill="#482071"/>
<path d="M147.3 101.4l1.4-2.4 1.4.2-1.4 2.1z" fill="#39558c"/>
<path d="M83.9 91.4l1.3-.8 1.6.3-1.3.6z" fill="#2e6f8e"/>
<path d="M157.1 95.7l1.4 1.8 1.4-.2-1.4.5z" fill="#355e8d"/>
<path d="M131.5 119.8l1.4-1.2 1.5-2.9-1.3 0z" fill="#481d6f"/>
<path d="M113.6 69.2l1.4-1.1 1.5-1.3-1.3 1.8z" fill="#24aa83"/>
<path d="M151.5 98.8l1.4-3 1.4 1.8-1.3.6z" fill="#365d8d"/>
<path d="M120.8 62.6l1.3-.5 1.5-.2-1.3-.4z" fill="#38b977"/>
<path d="M129.7 85.8l1.3 3.5 1.6-1.7-1.4-3.9z" fill="#297a8e"/>
<path d="M134.4 115.7l1.4-.9 1.5-3.9-1.4 1.3z" fill="#472c7a"/>
<path d="M137.3 110.9l1.4-.6 1.5-1.9-1.4.2z" fill="#443983"/>
<path d="M129.1 107.9l1.3 2.4 1.5-3.4-1.3-3.8z" fill="#424186"/>
<path d="M144.4 104.9l1.4-2.1 1.5-1.4-1.4 2.5z" fill="#3d4d8a"/>
<path d="M126.1 68l1.3 2 1.6-1.5-1.4-3.8z" fill="#25ab82"/>
<path d="M128.9 114.8l1.3 1.9 1.5-3.6-1.3-2.8z" fill="#472c7a"/>
<path d="M103.7 78.5l1.3-1.5 1.6-.9-1.4 1.6z" fill="#20928c"/>
<path d="M129.5 93.1l1.3 3.1 1.6-3.2-1.4-3.7z" fill="#2f6b8e"/>
<path d="M128.6 76.9l1.3 3.8 1.5-3-1.3-3z" fill="#20928c"/>
<path d="M129.3 98.9l1.3 4.2 1.6-3-1.4-3.9z" fill="#38598c"/>
<path d="M79.7 93.1l1.2-1.8 1.7 1.6-1.3-1.2z" fill="#2e6d8e"/>
<path d="M158.5 97.5l1.4-1 1.3 1.4-1.3-.6z" fill="#355f8d"/>
<path d="M124.8 64.6l1.3 3.4 1.5-3.3-1.3-.2z" fill="#2cb17e"/>
<path d="M89.4 89.2l1.3-1.3 1.7 1.2-1.3 0z" fill="#2b758e"/>
<path d="M122.1 62.1l1.3.8 1.6-.9-1.4-.1z" fill="#38b977"/>
<path d="M127.2 76.4l1.4.5 1.5-2.2-1.3-1.7z" fill="#1f998a"/>
<path d="M165.2 102.3l1.4 1.4 1.3 2.8-1.4-.6z" fill="#3e4a89"/>
<path d="M128.7 120.2l1.3 1.3 1.5-1.7-1.3-3.1z" fill="#48186a"/>
<path d="M123.4 62.9l1.4 1.7 1.5-.1-1.3-2.5z" fill="#34b679"/>
<path d="M93.7 88.2l1.2-3.2 1.7 0-1.3 1.5z" fill="#287d8e"/>
<path d="M110.8 72.1l1.3-2.6 1.5-.3-1.3.8z" fill="#21a685"/>
<path d="M127.3 119.7l1.4.5 1.5-3.5-1.3-1.9z" fill="#481f70"/>
<path d="M141.5 107.8l1.5-3.1 1.4.2-1.4.3z" fill="#3f4788"/>
<path d="M127.6 110.5l1.3 4.3 1.5-4.5-1.3-2.4z" fill="#453781"/>
<path d="M100.8 80.9l1.3-1 1.6-1.4-1.3 2.1z" fill="#228d8d"/>
<path d="M107.9 74.5l1.3-1 1.6-1.4-1.4 2.5z" fill="#1f9e89"/>
<path d="M117.9 66.1l1.3-3.7 1.6.2-1.4 1.4z" fill="#34b679"/>
<path d="M128.4 81.9l1.3 3.9 1.5-2.1-1.3-3z" fill="#25858e"/>
<path d="M163.9 99.7l1.3 2.6 1.3 3.6-1.2-4z" fill="#3b518b"/>
<path d="M85.2 90.6l1.3-.6 1.6-.7-1.3 1.6z" fill="#2c738e"/>
<path d="M152.9 95.8l1.4.8 1.4 1-1.4 0z" fill="#34618d"/>
<path d="M125.9 71.9l1.3 4.5 1.6-3.4-1.4-3z" fill="#1fa088"/>
<path d="M138.7 110.3l1.3-1 1.5-1.5-1.3.6z" fill="#433d84"/>
<path d="M159.9 96.5l1.3.9 1.4.6-1.4-.1z" fill="#34608d"/>
<path d="M132.9 118.6l1.4-2.4 1.5-1.4-1.4.9z" fill="#482475"/>
<path d="M127.8 102.9l1.3 5 1.5-4.8-1.3-4.2z" fill="#3c4f8a"/>
<path d="M130 121.5l1.4-1.5 1.5-1.4-1.4 1.2z" fill="#48186a"/>
<path d="M97.9 83.8l1.3-1.7 1.6-1.2-1.3 3.8z" fill="#24868e"/>
<path d="M135.8 114.8l1.4-1.5 1.5-3-1.4.6z" fill="#46337f"/>
<path d="M148.7 99l1.4-2.1 1.4 1.9-1.4.4z" fill="#355e8d"/>
<path d="M128 95.4l1.3 3.5 1.5-2.7-1.3-3.1z" fill="#32658e"/>
<path d="M80.9 91.3l1.3-.4 1.7.5-1.3 1.5z" fill="#2d708e"/>
<path d="M115 68.1l1.3-3.1 1.6 1.1-1.4.7z" fill="#2ab07f"/>
<path d="M126 114.8l1.3 4.9 1.6-4.9-1.3-4.3z" fill="#472a7a"/>
<path d="M128.2 87.2l1.3 5.9 1.5-3.8-1.3-3.5z" fill="#2a778e"/>
<path d="M162.6 97.7l1.3 2 1.4 2.2-1.3-3z" fill="#375b8d"/>
<path d="M161.2 97.4l1.4.3 1.4 1.2-1.4-.9z" fill="#355f8d"/>
<path d="M90.7 87.9l1.3-1.1 1.7 1.4-1.3.9z" fill="#297a8e"/>
<path d="M124.6 69.2l1.3 2.7 1.5-1.9-1.3-2z" fill="#23a983"/>
<path d="M105 77l1.3-1.9 1.6-.6-1.3 1.6z" fill="#1f9a8a"/>
<path d="M126.2 108l1.4 2.5 1.5-2.6-1.3-5z" fill="#414487"/>
<path d="M127.1 78.9l1.3 3 1.5-1.2-1.3-3.8z" fill="#21908d"/>
<path d="M125.8 120.6l1.3 2.3 1.6-2.7-1.4-.5z" fill="#481769"/>
<path d="M154.3 96.6l1.4-.5 1.4-.4-1.4 1.9z" fill="#32648e"/>
<path d="M86.5 90l1.3-.5 1.6-.3-1.3.1z" fill="#2a778e"/>
<path d="M145.8 102.8l1.4-3 1.5-.8-1.4 2.4z" fill="#38598c"/>
<path d="M112.1 69.5l1.3-1 1.6-.4-1.4 1.1z" fill="#25ac82"/>
<path d="M119.2 62.4l1.4 1.4 1.5-1.7-1.3.5z" fill="#3bbb75"/>
<path d="M94.9 85l1.4.1 1.6-1.3-1.3 1.2z" fill="#25838e"/>
<path d="M123.2 67.3l1.4 1.9 1.5-1.2-1.3-3.4z" fill="#29af7f"/>
<path d="M124.5 119.2l1.3 1.4 1.5-.9-1.3-4.9z" fill="#482071"/>
<path d="M125.7 76.2l1.4 2.7 1.5-2-1.4-.5z" fill="#1f978b"/>
<path d="M127.1 122.9l1.4-.9 1.5-.5-1.3-1.3z" fill="#481467"/>
<path d="M102.1 79.9l1.3-2 1.6-.9-1.3 1.5z" fill="#1f948c"/>
<path d="M82.2 90.9l1.3.6 1.7-.9-1.3.8z" fill="#2c738e"/>
<path d="M126.4 98.9l1.4 4 1.5-4-1.3-3.5z" fill="#355e8d"/>
<path d="M126.6 92.2l1.4 3.2 1.5-2.3-1.3-5.9z" fill="#2c718e"/>
<path d="M120.6 63.8l1.3 1.1 1.5-2-1.3-.8z" fill="#3aba76"/>
<path d="M121.9 64.9l1.3 2.4 1.6-2.7-1.4-1.7z" fill="#32b67a"/>
<path d="M140 109.3l1.4-1.8 1.6-2.8-1.5 3.1z" fill="#404688"/>
<path d="M134.3 116.2l1.3-.7 1.6-2.2-1.4 1.5z" fill="#472d7b"/>
<path d="M109.2 73.5l1.3-1.9 1.6-2.1-1.3 2.6z" fill="#21a585"/>
<path d="M124.7 110.6l1.3 4.2 1.6-4.3-1.4-2.5z" fill="#443a83"/>
<path d="M143 104.7l1.4-3.2 1.4 1.3-1.4 2.1z" fill="#3b528b"/>
<path d="M126.9 84.3l1.3 2.9 1.5-1.4-1.3-3.9z" fill="#25838e"/>
<path d="M137.2 113.3l1.4-3 1.4-1-1.3 1z" fill="#443b84"/>
<path d="M124.4 73.6l1.3 2.6 1.5.2-1.3-4.5z" fill="#1f9f88"/>
<path d="M155.7 96.1l1.4-.6 1.4 2-1.4-1.8z" fill="#31678e"/>
<path d="M131.4 120l1.4-2 1.5-1.8-1.4 2.4z" fill="#482374"/>
<path d="M150.1 96.9l1.4-.9 1.4-.2-1.4 3z" fill="#32658e"/>
<path d="M99.2 82.1l1.3-1.5 1.6-.7-1.3 1z" fill="#218f8d"/>
<path d="M124.9 102.6l1.3 5.4 1.6-5.1-1.4-4z" fill="#3a538b"/>
<path d="M87.8 89.5l1.3-.4 1.6-1.2-1.3 1.3z" fill="#297a8e"/>
<path d="M92 86.8l1.3-.3 1.6-1.5-1.2 3.2z" fill="#27808e"/>
<path d="M116.3 65l1.4-.4 1.5-2.2-1.3 3.7z" fill="#37b878"/>
<path d="M106.3 75.1l1.3-1.7 1.6.1-1.3 1z" fill="#1fa188"/>
<path d="M128.5 122l1.4-1.9 1.5-.1-1.4 1.5z" fill="#481b6d"/>
<path d="M125.5 81.4l1.4 2.9 1.5-2.4-1.3-3z" fill="#218e8d"/>
<path d="M123.1 114l1.4 5.2 1.5-4.4-1.3-4.2z" fill="#46307e"/>
<path d="M96.3 85.1l1.3-1.7 1.6-1.3-1.3 1.7z" fill="#23888e"/>
<path d="M123 71l1.4 2.6 1.5-1.7-1.3-2.7z" fill="#22a884"/>
<path d="M83.5 91.5l1.3-2.3 1.7.8-1.3.6z" fill="#2a778e"/>
<path d="M125.1 94.2l1.3 4.7 1.6-3.5-1.4-3.2z" fill="#2f6b8e"/>
<path d="M157.1 95.5l1.4-.1 1.4 1.1-1.4 1z" fill="#31688e"/>
<path d="M113.4 68.5l1.4-2.2 1.5-1.3-1.3 3.1z" fill="#2eb37c"/>
<path d="M123.3 107l1.4 3.6 1.5-2.6-1.3-5.4z" fill="#3e4989"/>
<path d="M121.7 69.5l1.3 1.5 1.6-1.8-1.4-1.9z" fill="#27ad81"/>
<path d="M103.4 77.9l1.3-.7 1.6-2.1-1.3 1.9z" fill="#1e9b8a"/>
<path d="M125.3 86.8l1.3 5.4 1.6-5-1.3-2.9z" fill="#277f8e"/>
<path d="M80.6 91l1.6-.1-1.3.4z" fill="#2a768e"/>
<path d="M151.5 96l1.4-1.2 1.4 1.8-1.4-.8z" fill="#306a8e"/>
<path d="M120.4 65.8l1.3 3.7 1.5-2.2-1.3-2.4z" fill="#2fb47c"/>
<path d="M117.7 64.6l1.3-.3 1.6-.5-1.4-1.4z" fill="#3dbc74"/>
<path d="M147.2 99.8l1.5-4 1.4 1.1-1.4 2.1z" fill="#32658e"/>
<path d="M158.5 95.4l1.3 1 1.4 1-1.3-.9z" fill="#30698e"/>
<path d="M124.2 76.8l1.3 4.6 1.6-2.5-1.4-2.7z" fill="#1f978b"/>
<path d="M135.6 115.5l1.4-2.8 1.6-2.4-1.4 3z" fill="#453882"/>
<path d="M110.5 71.6l1.3-3 1.6-.1-1.3 1z" fill="#27ad81"/>
<path d="M124.3 121l1.3-.5 1.5 2.4-1.3-2.3z" fill="#481c6e"/>
<path d="M122.9 117.9l1.4 3.1 1.5-.4-1.3-1.4z" fill="#482173"/>
<path d="M89.1 89.1l1.3-1.8 1.6-.5-1.3 1.1z" fill="#27808e"/>
<path d="M100.5 80.6l1.3-1.7 1.6-1-1.3 2z" fill="#1f958b"/>
<path d="M132.8 118l1.3-1.6 1.5-.9-1.3.7z" fill="#472d7b"/>
<path d="M163.9 100.3l1.3 2.1 1.4 1.3-1.4-1.4z" fill="#375a8c"/>
<path d="M119 64.3l1.4 1.5 1.5-.9-1.3-1.1z" fill="#3aba76"/>
<path d="M159.8 96.4l1.4 1.6 1.4-.3-1.4-.3z" fill="#31678e"/>
<path d="M93.3 86.5l1.3-2.5 1.7 1.1-1.4-.1z" fill="#24868e"/>
<path d="M144.4 101.5l1.4-1.8 1.4.1-1.4 3z" fill="#365d8d"/>
<path d="M123.6 97.4l1.3 5.2 1.5-3.7-1.3-4.7z" fill="#32658e"/>
<path d="M138.6 110.3l1.4-4 1.4 1.2-1.4 1.8z" fill="#3f4788"/>
<path d="M162.6 97.9l1.3 2.4 1.3 2-1.3-2.6z" fill="#34608d"/>
<path d="M84.8 89.2l1.3-.7 1.7 1-1.3.5z" fill="#287c8e"/>
<path d="M141.4 107.5l1.5-3.6 1.5-2.4-1.4 3.2z" fill="#3a538b"/>
<path d="M107.6 73.4l1.3-2.1 1.6.3-1.3 1.9z" fill="#22a785"/>
<path d="M161.2 98l1.4-.1 1.3 1.8-1.3-2z" fill="#32658e"/>
<path d="M123.8 91l1.3 3.2 1.5-2-1.3-5.4z" fill="#2a788e"/>
<path d="M121.8 109.1l1.3 4.9 1.6-3.4-1.4-3.6z" fill="#414287"/>
<path d="M152.9 94.8l1.4.3 1.4 1-1.4.5z" fill="#2f6c8e"/>
<path d="M124 82.7l1.3 4.1 1.6-2.5-1.4-2.9z" fill="#228b8d"/>
<path d="M129.9 120.1l1.3-1.5 1.6-.6-1.4 2z" fill="#482576"/>
<path d="M97.6 83.4l1.3-2.1 1.6-.7-1.3 1.5z" fill="#21908d"/>
<path d="M125.6 120.5l1.4-.6 1.5 2.1-1.4.9z" fill="#481d6f"/>
<path d="M122.8 73.2l1.4 3.6 1.5-.6-1.3-2.6z" fill="#1fa187"/>
<path d="M80.6 91l1.2-1.6 1.7 2.1-1.3-.6z" fill="#29798e"/>
<path d="M121.6 114.5l1.3 3.4 1.6 1.3-1.4-5.2z" fill="#472e7c"/>
<path d="M114.8 66.3l1.3-1.7 1.6 0-1.4.4z" fill="#3aba76"/>
<path d="M122 101.1l1.3 5.9 1.6-4.4-1.3-5.2z" fill="#365c8d"/>
<path d="M104.7 77.2l1.3-3.5 1.6-.3-1.3 1.7z" fill="#1fa287"/>
<path d="M90.4 87.3l1.3-1.1 1.6.3-1.3.3z" fill="#25848e"/>
<path d="M121.5 70.7l1.3 2.5 1.6.4-1.4-2.6z" fill="#24aa83"/>
<path d="M154.3 95.1l1.4-.1 1.4.5-1.4.6z" fill="#2e6f8e"/>
<path d="M148.7 95.8l1.4-.5 1.4.7-1.4.9z" fill="#2e6d8e"/>
<path d="M122.2 94.1l1.4 3.3 1.5-3.2-1.3-3.2z" fill="#2c718e"/>
<path d="M86.1 88.5l1.3-1.7 1.7 2.3-1.3.4z" fill="#26818e"/>
<path d="M111.8 68.6l1.4-.5 1.6-1.8-1.4 2.2z" fill="#31b57b"/>
<path d="M101.8 78.9l1.3-1.8 1.6.1-1.3.7z" fill="#1e9c89"/>
<path d="M120.1 69.5l1.4 1.2 1.5.3-1.3-1.5z" fill="#28ae80"/>
<path d="M94.6 84l1.3-1.3 1.7.7-1.3 1.7z" fill="#228d8d"/>
<path d="M122.6 78.7l1.4 4 1.5-1.3-1.3-4.6z" fill="#1f968b"/>
<path d="M122.4 86.6l1.4 4.4 1.5-4.2-1.3-4.1z" fill="#25858e"/>
<path d="M81.8 89.4l1.3 0 1.7-.2-1.3 2.3z" fill="#277e8e"/>
<path d="M116.1 64.6l1.3.4 1.6-.7-1.3.3z" fill="#3fbc73"/>
<path d="M118.8 65.8l1.3 3.7 1.6 0-1.3-3.7z" fill="#32b67a"/>
<path d="M134.1 116.4l1.4-4.9 1.5 1.2-1.4 2.8z" fill="#443983"/>
<path d="M127 119.9l1.4-1.7 1.5 1.9-1.4 1.9z" fill="#482576"/>
<path d="M120.5 103.7l1.3 5.4 1.5-2.1-1.3-5.9z" fill="#39558c"/>
<path d="M108.9 71.3l1.4-1.5 1.5-1.2-1.3 3z" fill="#29af7f"/>
<path d="M98.9 81.3l1.3-1.7 1.6-.7-1.3 1.7z" fill="#1f978b"/>
<path d="M120.2 110.1l1.4 4.4 1.5-.5-1.3-4.9z" fill="#424186"/>
<path d="M145.8 99.7l1.4-2.5 1.5-1.4-1.5 4z" fill="#30698e"/>
<path d="M155.7 95l1.4-.4 1.4.8-1.4.1z" fill="#2d718e"/>
<path d="M137 112.7l1.4-3.6 1.6-2.8-1.4 4z" fill="#3f4889"/>
<path d="M131.2 118.6l1.4-2.7 1.5.5-1.3 1.6z" fill="#472f7d"/>
<path d="M117.4 65l1.4.8 1.6 0-1.4-1.5z" fill="#3dbc74"/>
<path d="M150.1 95.3l1.3.2 1.5-.7-1.4 1.2z" fill="#2d718e"/>
<path d="M140 106.3l1.4-2.8 1.5.4-1.5 3.6z" fill="#39558c"/>
<path d="M120.7 97l1.3 4.1 1.6-3.7-1.4-3.3z" fill="#2f6c8e"/>
<path d="M142.9 103.9l1.4-3.3 1.5-.9-1.4 1.8z" fill="#34618d"/>
<path d="M121.3 77.1l1.3 1.6 1.6-1.9-1.4-3.6z" fill="#1fa188"/>
<path d="M91.7 86.2l1.3-1.1 1.6-1.1-1.3 2.5z" fill="#238a8d"/>
<path d="M87.4 86.8l1.3.5 1.7 0-1.3 1.8z" fill="#25848e"/>
<path d="M120.9 89l1.3 5.1 1.6-3.1-1.4-4.4z" fill="#277e8e"/>
<path d="M106 73.7l1.4 0 1.5-2.4-1.3 2.1z" fill="#24aa83"/>
<path d="M157.1 94.6l1.3.5 1.4 1.3-1.3-1z" fill="#2c718e"/>
<path d="M113.2 68.1l1.3-1.8 1.6-1.7-1.3 1.7z" fill="#3bbb75"/>
<path d="M121.1 82.2l1.3 4.4 1.6-3.9-1.4-4z" fill="#20928c"/>
<path d="M83.1 89.4l1.4-.1 1.6-.8-1.3.7z" fill="#26828e"/>
<path d="M95.9 82.7l1.3-2 1.7.6-1.3 2.1z" fill="#20938c"/>
<path d="M121.4 116.2l1.3 2.3 1.6 2.5-1.4-3.1z" fill="#472e7c"/>
<path d="M158.4 95.1l1.4.5 1.4 2.4-1.4-1.6z" fill="#2d708e"/>
<path d="M103.1 77.1l1.3-2.8 1.6-.6-1.3 3.5z" fill="#20a486"/>
<path d="M119.9 72.4l1.4 4.7 1.5-3.9-1.3-2.5z" fill="#24aa83"/>
<path d="M162.5 100l1.4.6 1.3 1.8-1.3-2.1z" fill="#32648e"/>
<path d="M161.2 97.7l1.3 2.3 1.4.3-1.3-2.4z" fill="#30698e"/>
<path d="M151.4 95.5l1.4-1.1 1.5.7-1.4-.3z" fill="#2c738e"/>
<path d="M159.8 95.6l1.4 2.1 1.4.2-1.4.1z" fill="#2e6e8e"/>
<path d="M122.7 118.5l1.4-1.2 1.5 3.2-1.3.5z" fill="#472c7a"/>
<path d="M110.3 69.8l1.3-.9 1.6-.8-1.4.5z" fill="#32b67a"/>
<path d="M88.7 87.3l1.4-.5 1.6-.6-1.3 1.1z" fill="#23888e"/>
<path d="M119.1 99.1l1.4 4.6 1.5-2.6-1.3-4.1z" fill="#31668e"/>
<path d="M118.6 70.5l1.3 1.9 1.6-1.7-1.4-1.2z" fill="#2cb17e"/>
<path d="M100.2 79.6l1.3-2 1.6-.5-1.3 1.8z" fill="#1f9f88"/>
<path d="M128.4 118.2l1.3-3.1 1.5 3.5-1.3 1.5z" fill="#46307e"/>
<path d="M120 113.7l1.4 2.5 1.5 1.7-1.3-3.4z" fill="#443983"/>
<path d="M118.9 105.4l1.3 4.7 1.6-1-1.3-5.4z" fill="#3a538b"/>
<path d="M119.7 78.2l1.4 4 1.5-3.5-1.3-1.6z" fill="#1e9d89"/>
<path d="M119.3 91.3l1.4 5.7 1.5-2.9-1.3-5.1z" fill="#297a8e"/>
<path d="M114.5 66.3l1.4.2 1.5-1.5-1.3-.4z" fill="#42be71"/>
<path d="M107.4 73.7l1.3-1.8 1.6-2.1-1.4 1.5z" fill="#29af7f"/>
<path d="M119.5 84.9l1.4 4.1 1.5-2.4-1.3-4.4z" fill="#228c8d"/>
<path d="M93 85.1l1.3-1.7 1.6-.7-1.3 1.3z" fill="#21918c"/>
<path d="M117.2 67.8l1.4 2.7 1.5-1-1.3-3.7z" fill="#35b779"/>
<path d="M152.8 94.4l1.4 1.2 1.5-.6-1.4.1z" fill="#2b748e"/>
<path d="M147.2 97.2l1.4-2.8 1.5.9-1.4.5z" fill="#2c738e"/>
<path d="M135.5 111.5l1.4-1.3 1.5-1.1-1.4 3.6z" fill="#3e4989"/>
<path d="M84.5 89.3l1.3-2 1.6-.5-1.3 1.7z" fill="#24878e"/>
<path d="M115.9 66.5l1.3 1.3 1.6-2-1.4-.8z" fill="#3fbc73"/>
<path d="M144.3 100.6l1.4-2.7 1.5-.7-1.4 2.5z" fill="#2f6c8e"/>
<path d="M97.2 80.7l1.4-.6 1.6-.5-1.3 1.7z" fill="#1e9b8a"/>
<path d="M132.6 115.9l1.4-4 1.5-.4-1.4 4.9z" fill="#424086"/>
<path d="M141.4 103.5l1.4-2.1 1.5-.8-1.4 3.3z" fill="#33628d"/>
<path d="M124.1 117.3l1.4-1.6 1.5 4.2-1.4.6z" fill="#46327e"/>
<path d="M118.4 74.7l1.3 3.5 1.6-1.1-1.4-4.7z" fill="#22a785"/>
<path d="M111.6 68.9l1.4-1.7 1.5-.9-1.3 1.8z" fill="#3bbb75"/>
<path d="M90.1 86.8l1.3-.7 1.6-1-1.3 1.1z" fill="#228d8d"/>
<path d="M154.2 95.6l1.4-.2 1.5-.8-1.4.4z" fill="#2b758e"/>
<path d="M118.7 109.1l1.3 4.6 1.6.8-1.4-4.4z" fill="#3f4788"/>
<path d="M138.4 109.1l1.5-4.7 1.5-.9-1.4 2.8z" fill="#38598c"/>
<path d="M104.4 74.3l1.4-1.3 1.6.7-1.4 0z" fill="#25ac82"/>
<path d="M82.8 89.4l1.7-.1-1.4.1z" fill="#25848e"/>
<path d="M148.6 94.4l1.4.7 1.4.4-1.3-.2z" fill="#2a768e"/>
<path d="M85.8 87.3l1.3 1.3 1.6-1.3-1.3-.5z" fill="#238a8d"/>
<path d="M117.8 94.3l1.3 4.8 1.6-2.1-1.4-5.7z" fill="#2b758e"/>
<path d="M118 88.4l1.3 2.9 1.6-2.3-1.4-4.1z" fill="#24878e"/>
<path d="M101.5 77.6l1.3-.3 1.6-3-1.3 2.8z" fill="#21a585"/>
<path d="M118.2 79.9l1.3 5 1.6-2.7-1.4-4z" fill="#1f9a8a"/>
<path d="M117.5 99.6l1.4 5.8 1.6-1.7-1.4-4.6z" fill="#32658e"/>
<path d="M94.3 83.4l1.3-1 1.6-1.7-1.3 2z" fill="#1f978b"/>
<path d="M117 72l1.4 2.7 1.5-2.3-1.3-1.9z" fill="#2ab07f"/>
<path d="M108.7 71.9l1.3-3 1.6 0-1.3.9z" fill="#34b679"/>
<path d="M155.6 95.4l1.4-.3 1.4 0-1.3-.5z" fill="#2a778e"/>
<path d="M129.7 115.1l1.4-2.8 1.5 3.6-1.4 2.7z" fill="#433e85"/>
<path d="M115.7 70.3l1.3 1.7 1.6-1.5-1.4-2.7z" fill="#34b679"/>
<path d="M113 67.2l1.3-.2 1.6-.5-1.4-.2z" fill="#42be71"/>
<path d="M98.6 80.1l1.3-1.9 1.6-.6-1.3 2z" fill="#1fa187"/>
<path d="M150 95.1l1.4-.8 1.4.1-1.4 1.1z" fill="#2a788e"/>
<path d="M105.8 73l1.3-1.5 1.6.4-1.3 1.8z" fill="#2cb17e"/>
<path d="M87.1 88.6l1.3-2.8 1.7 1-1.4.5z" fill="#228d8d"/>
<path d="M125.5 115.7l1.4-1.8 1.5 4.3-1.4 1.7z" fill="#443a83"/>
<path d="M114.3 67l1.4 3.3 1.5-2.5-1.3-1.3z" fill="#3dbc74"/>
<path d="M91.4 86.1l1.3-2.1 1.6-.6-1.3 1.7z" fill="#20928c"/>
<path d="M157 95.1l1.4-.3 1.4.8-1.4-.5z" fill="#2a788e"/>
<path d="M117.3 104l1.4 5.1 1.5 1-1.3-4.7z" fill="#38598c"/>
<path d="M116.8 76.6l1.4 3.3 1.5-1.7-1.3-3.5z" fill="#21a685"/>
<path d="M82.8 89.4l1.3-1 1.7-1.1-1.3 2z" fill="#23898e"/>
<path d="M116.6 83.4l1.4 5 1.5-3.5-1.3-5z" fill="#1f948c"/>
<path d="M158.4 94.8l1.4 1.7 1.4 1.2-1.4-2.1z" fill="#2a768e"/>
<path d="M159.8 96.5l1.4-.4 1.3 3.9-1.3-2.3z" fill="#2c728e"/>
<path d="M145.7 97.9l1.5-4.6 1.4 1.1-1.4 2.8z" fill="#2a778e"/>
<path d="M151.4 94.3l1.4 1.1 1.4.2-1.4-1.2z" fill="#297a8e"/>
<path d="M142.8 101.4l1.4-3.4 1.5-.1-1.4 2.7z" fill="#2e6e8e"/>
<path d="M161.2 96.1l1.3 2.6 1.4 1.9-1.4-.6z" fill="#2d708e"/>
<path d="M136.9 110.2l1.5-5.7 1.5-.1-1.5 4.7z" fill="#375a8c"/>
<path d="M116.4 88.2l1.4 6.1 1.5-3-1.3-2.9z" fill="#25858e"/>
<path d="M102.8 77.3l1.4-2.5 1.6-1.8-1.4 1.3z" fill="#26ad81"/>
<path d="M116.2 96.7l1.3 2.9 1.6-.5-1.3-4.8z" fill="#2c738e"/>
<path d="M110 68.9l1.4.6 1.6-2.3-1.4 1.7z" fill="#3dbc74"/>
<path d="M95.6 82.4l1.3-2.1 1.7-.2-1.4.6z" fill="#1f9e89"/>
<path d="M134 111.9l1.4-3.7 1.5 2-1.4 1.3z" fill="#3c508b"/>
<path d="M139.9 104.4l1.4-3.2 1.5.2-1.4 2.1z" fill="#31678e"/>
<path d="M115.5 74.3l1.3 2.3 1.6-1.9-1.4-2.7z" fill="#28ae80"/>
<path d="M152.8 95.4l1.4-.2 1.4.2-1.4.2z" fill="#29798e"/>
<path d="M88.4 85.8l1.3.4 1.7-.1-1.3.7z" fill="#21918c"/>
<path d="M119.8 113.1l1.4-.4 1.5 5.8-1.3-2.3z" fill="#414287"/>
<path d="M99.9 78.2l1.3-1.5 1.6.6-1.3.3z" fill="#22a785"/>
<path d="M118.5 109.9l1.3 3.2 1.6 3.1-1.4-2.5z" fill="#3e4989"/>
<path d="M84.1 88.4l1.3-.9 1.7 1.1-1.3-1.3z" fill="#228d8d"/>
<path d="M107.1 71.5l1.3 0 1.6-2.6-1.3 3z" fill="#35b779"/>
<path d="M114.1 70.3l1.4 4 1.5-2.3-1.3-1.7z" fill="#32b67a"/>
<path d="M111.4 69.5l1.3.3 1.6-2.8-1.3.2z" fill="#40bd72"/>
<path d="M92.7 84l1.3-2.1 1.6.5-1.3 1z" fill="#1f9a8a"/>
<path d="M126.9 113.9l1.3-1.8 1.5 3-1.3 3.1z" fill="#404588"/>
<path d="M115.2 78.9l1.4 4.5 1.6-3.5-1.4-3.3z" fill="#1fa287"/>
<path d="M131.1 112.3l1.4-2.4 1.5 2-1.4 4z" fill="#3d4d8a"/>
<path d="M112.7 69.8l1.4.5 1.6 0-1.4-3.3z" fill="#3dbc74"/>
<path d="M121.2 112.7l1.4-.1 1.5 4.7-1.4 1.2z" fill="#414487"/>
<path d="M116 98.5l1.3 5.5 1.6 1.4-1.4-5.8z" fill="#2f6b8e"/>
<path d="M115 85.1l1.4 3.1 1.6.2-1.4-5z" fill="#20928c"/>
<path d="M154.2 95.2l1.4-.4 1.4.3-1.4.3z" fill="#287c8e"/>
<path d="M147.2 93.3l1.3.9 1.5.9-1.4-.7z" fill="#277e8e"/>
<path d="M96.9 80.3l1.4-.9 1.6-1.2-1.3 1.9z" fill="#20a386"/>
<path d="M104.2 74.8l1.3-1.3 1.6-2-1.3 1.5z" fill="#2eb37c"/>
<path d="M85.4 87.5l1.4.6 1.6-2.3-1.3 2.8z" fill="#21908d"/>
<path d="M114.8 89.6l1.4 7.1 1.6-2.4-1.4-6.1z" fill="#25848e"/>
<path d="M117.1 104.6l1.4 5.3 1.5 3.8-1.3-4.6z" fill="#39568c"/>
<path d="M113.9 76.3l1.3 2.6 1.6-2.3-1.3-2.3z" fill="#25ac82"/>
<path d="M89.7 86.2l1.3-3 1.7.8-1.3 2.1z" fill="#1f978b"/>
<path d="M148.5 94.2l1.4.7 1.5-.6-1.4.8z" fill="#277e8e"/>
<path d="M108.4 71.5l1.4-2.4 1.6.4-1.4-.6z" fill="#3fbc73"/>
<path d="M101.2 76.7l1.3-2.2 1.7.3-1.4 2.5z" fill="#27ad81"/>
<path d="M144.2 98l1.4-1.8 1.6-2.9-1.5 4.6z" fill="#297a8e"/>
<path d="M155.6 94.8l1.4-.1 1.4.1-1.4.3z" fill="#277e8e"/>
<path d="M141.3 101.2l1.4-3.3 1.5.1-1.4 3.4z" fill="#2c728e"/>
<path d="M94 81.9l1.3-1.6 1.6 0-1.3 2.1z" fill="#1fa188"/>
<path d="M149.9 94.9l1.4.3 1.5.2-1.4-1.1z" fill="#277f8e"/>
<path d="M112.5 73.3l1.4 3 1.6-2-1.4-4z" fill="#2fb47c"/>
<path d="M122.6 112.6l1.3-1.7 1.6 4.8-1.4 1.6z" fill="#3e4a89"/>
<path d="M113.7 80.8l1.3 4.3 1.6-1.7-1.4-4.5z" fill="#1f9f88"/>
<path d="M114.6 94.5l1.4 4 1.5 1.1-1.3-2.9z" fill="#29798e"/>
<path d="M105.5 73.5l1.3-.9 1.6-1.1-1.3 0z" fill="#35b779"/>
<path d="M157 94.7l1.3.5 1.5 1.3-1.4-1.7z" fill="#277e8e"/>
<path d="M138.4 104.5l1.4-3 1.5-.3-1.4 3.2z" fill="#2f6b8e"/>
<path d="M135.4 108.2l1.5-4.4 1.5.7-1.5 5.7z" fill="#34618d"/>
<path d="M109.8 69.1l1.3.8 1.6-.1-1.3-.3z" fill="#42be71"/>
<path d="M98.3 79.4l1.3-2.7 1.6 0-1.3 1.5z" fill="#25ab82"/>
<path d="M86.8 88.1l1.2-3.3 1.7 1.4-1.3-.4z" fill="#1f958b"/>
<path d="M158.3 95.2l1.4 1.8 1.5-.9-1.4.4z" fill="#287c8e"/>
<path d="M128.2 112.1l1.4-2.3 1.5 2.5-1.4 2.8z" fill="#3b518b"/>
<path d="M111.1 69.9l1.4 3.4 1.6-3-1.4-.5z" fill="#3dbc74"/>
<path d="M151.3 95.2l1.4-.5 1.5.5-1.4.2z" fill="#277f8e"/>
<path d="M132.5 109.9l1.4-2 1.5.3-1.4 3.7z" fill="#375a8c"/>
<path d="M115.7 100.7l1.4 3.9 1.6 4.5-1.4-5.1z" fill="#31678e"/>
<path d="M113.4 86.1l1.4 3.5 1.6-1.4-1.4-3.1z" fill="#20938c"/>
<path d="M159.7 97l1.4-1.4 1.4 3.1-1.3-2.6z" fill="#297b8e"/>
<path d="M102.5 74.5l1.4.2 1.6-1.2-1.3 1.3z" fill="#2fb47c"/>
<path d="M91 83.2l1.3-1.2 1.7-.1-1.3 2.1z" fill="#1f9f88"/>
<path d="M145.6 96.2l1.4-.9 1.5-1.1-1.3-.9z" fill="#26818e"/>
<path d="M112.3 76.3l1.4 4.5 1.5-1.9-1.3-2.6z" fill="#25ab82"/>
<path d="M85.1 88l1.7.1-1.4-.6z" fill="#20928c"/>
<path d="M95.3 80.3l1.3-.1 1.7-.8-1.4.9z" fill="#21a685"/>
<path d="M113.2 91.5l1.4 3 1.6 2.2-1.4-7.1z" fill="#25858e"/>
<path d="M123.9 110.9l1.4-1.8 1.6 4.8-1.4 1.8z" fill="#3a538b"/>
<path d="M152.7 94.7l1.4-.5 1.5.6-1.4.4z" fill="#26828e"/>
<path d="M106.8 72.6l1.4-3.1 1.6-.4-1.4 2.4z" fill="#40bd72"/>
<path d="M142.7 97.9l1.4-.4 1.5-1.3-1.4 1.8z" fill="#287c8e"/>
<path d="M147 95.3l1.4 0 1.5-.4-1.4-.7z" fill="#26828e"/>
<path d="M112.1 82.5l1.3 3.6 1.6-1-1.3-4.3z" fill="#1f9f88"/>
<path d="M88 84.8l1.4-.2 1.6-1.4-1.3 3z" fill="#1e9c89"/>
<path d="M110.9 72.8l1.4 3.5 1.6 0-1.4-3z" fill="#31b57b"/>
<path d="M114.4 97.6l1.3 3.1 1.6 3.3-1.3-5.5z" fill="#2b758e"/>
<path d="M99.6 76.7l1.3-1.5 1.6-.7-1.3 2.2z" fill="#2db27d"/>
<path d="M103.9 74.7l1.3-2 1.6-.1-1.3.9z" fill="#37b878"/>
<path d="M92.3 82l1.4 0 1.6-1.7-1.3 1.6z" fill="#20a486"/>
<path d="M148.4 95.3l1.4-.4 1.5.3-1.4-.3z" fill="#26828e"/>
<path d="M154.1 94.2l1.4-.4 1.5.9-1.4.1z" fill="#25848e"/>
<path d="M139.8 101.5l1.4-3.4 1.5-.2-1.4 3.3z" fill="#2a778e"/>
<path d="M129.6 109.8l1.4-2.9 1.5 3-1.4 2.4z" fill="#365d8d"/>
<path d="M96.6 80.2l1.4-1.2 1.6-2.3-1.3 2.7z" fill="#25ac82"/>
<path d="M109.5 71.2l1.4 1.6 1.6.5-1.4-3.4z" fill="#3fbc73"/>
<path d="M108.2 69.5l1.3 1.7 1.6-1.3-1.3-.8z" fill="#48c16e"/>
<path d="M136.9 103.8l1.4-2.4 1.5.1-1.4 3z" fill="#2d708e"/>
<path d="M85.1 88l1.3-2.8 1.6-.4-1.2 3.3z" fill="#1f998a"/>
<path d="M111.8 85.7l1.4 5.8 1.6-1.9-1.4-3.5z" fill="#1f958b"/>
<path d="M155.5 93.8l1.4 1.2 1.4.2-1.3-.5z" fill="#25848e"/>
<path d="M125.3 109.1l1.4-1.5 1.5 4.5-1.3 1.8z" fill="#365c8d"/>
<path d="M144.1 97.5l1.5-2.9 1.4.7-1.4.9z" fill="#26828e"/>
<path d="M110.7 76.9l1.4 5.6 1.6-1.7-1.4-4.5z" fill="#25ac82"/>
<path d="M89.4 84.6l1.3-.7 1.6-1.9-1.3 1.2z" fill="#1fa187"/>
<path d="M149.8 94.9l1.4-.3 1.5.1-1.4.5z" fill="#25848e"/>
<path d="M113 93.2l1.4 4.4 1.6.9-1.4-4z" fill="#26828e"/>
<path d="M100.9 75.2l1.4-.9 1.6.4-1.4-.2z" fill="#35b779"/>
<path d="M133.9 107.9l1.5-5.9 1.5 1.8-1.5 4.4z" fill="#306a8e"/>
<path d="M93.7 82l1.3-1.9 1.6.1-1.3.1z" fill="#23a983"/>
<path d="M118.3 104.5l1.3 1.3 1.6 6.9-1.4.4z" fill="#34618d"/>
<path d="M156.9 95l1.4-1.4 1.4 3.4-1.4-1.8z" fill="#25848e"/>
<path d="M116.9 101.2l1.4 3.3 1.5 8.6-1.3-3.2z" fill="#31668e"/>
<path d="M105.2 72.7l1.4-1.2 1.6-2-1.4 3.1z" fill="#44bf70"/>
<path d="M119.6 105.8l1.4 1.4 1.6 5.4-1.4.1z" fill="#34608d"/>
<path d="M158.3 93.6l1.4 3 1.4-1-1.4 1.4z" fill="#25848e"/>
<path d="M110.5 82.1l1.3 3.6 1.6.4-1.3-3.6z" fill="#1fa187"/>
<path d="M98 79l1.3-2.5 1.6-1.3-1.3 1.5z" fill="#2eb37c"/>
<path d="M141.2 98.1l1.4-2.1 1.5 1.5-1.4.4z" fill="#26818e"/>
<path d="M151.2 94.6l1.5-.7 1.4.3-1.4.5z" fill="#23888e"/>
<path d="M111.6 90l1.4 3.2 1.6 1.3-1.4-3z" fill="#228d8d"/>
<path d="M86.4 85.2l1.3.3 1.7-.9-1.4.2z" fill="#1fa088"/>
<path d="M90.7 83.9l1.3-1.6 1.7-.3-1.4 0z" fill="#21a685"/>
<path d="M109.3 73.4l1.4 3.5 1.6-.6-1.4-3.5z" fill="#37b878"/>
<path d="M145.6 94.6l1.4-.9 1.4 1.6-1.4 0z" fill="#24878e"/>
<path d="M102.3 74.3l1.3-.5 1.6-1.1-1.3 2z" fill="#3bbb75"/>
<path d="M131 106.9l1.4-4.1 1.5 5.1-1.4 2z" fill="#30698e"/>
<path d="M115.5 98.3l1.4 2.9 1.6 8.7-1.4-5.3z" fill="#2c718e"/>
<path d="M106.6 71.5l1.3.2 1.6-.5-1.3-1.7z" fill="#4ac16d"/>
<path d="M95 80.1l1.3-1.7 1.7.6-1.4 1.2z" fill="#28ae80"/>
<path d="M126.7 107.6l1.4-2.6 1.5 4.8-1.4 2.3z" fill="#32658e"/>
<path d="M107.9 71.7l1.4 1.7 1.6-.6-1.4-1.6z" fill="#44bf70"/>
<path d="M138.3 101.4l1.4-3.2 1.5-.1-1.4 3.4z" fill="#287c8e"/>
<path d="M121 107.2l1.4-2.5 1.5 6.2-1.3 1.7z" fill="#32658e"/>
<path d="M152.7 93.9l1.4-.2 1.4.1-1.4.4z" fill="#228b8d"/>
<path d="M147 93.7l1.4.3 1.4.9-1.4.4z" fill="#23898e"/>
<path d="M109.1 78.4l1.4 3.7 1.6.4-1.4-5.6z" fill="#27ad81"/>
<path d="M87.7 85.5l1.3-2.5 1.7.9-1.3.7z" fill="#20a386"/>
<path d="M110.2 86.1l1.4 3.9 1.6 1.5-1.4-5.8z" fill="#1f998a"/>
<path d="M99.3 76.5l1.3-.1 1.7-2.1-1.4.9z" fill="#37b878"/>
<path d="M92 82.3l1.3-.9 1.7-1.3-1.3 1.9z" fill="#25ab82"/>
<path d="M114.1 94.9l1.4 3.4 1.6 6.3-1.4-3.9z" fill="#287d8e"/>
<path d="M103.6 73.8l1.4-.8 1.6-1.5-1.4 1.2z" fill="#44bf70"/>
<path d="M135.4 102l1.4-1.6 1.5 1-1.4 2.4z" fill="#2a788e"/>
<path d="M142.6 96l1.5-2.2 1.5.8-1.5 2.9z" fill="#23888e"/>
<path d="M154.1 93.7l1.4-1.2 1.4 2.5-1.4-1.2z" fill="#228d8d"/>
<path d="M96.3 78.4l1.4.4 1.6-2.3-1.3 2.5z" fill="#2eb37c"/>
<path d="M148.4 94l1.4-.8 1.4 1.4-1.4.3z" fill="#228c8d"/>
<path d="M156.9 94.2l2.8 2.4-1.4-3z" fill="#228b8d"/>
<path d="M112.8 92.1l1.3 2.8 1.6 5.8-1.3-3.1z" fill="#24878e"/>
<path d="M100.6 76.4l1.4-1.5 1.6-1.1-1.3.5z" fill="#3dbc74"/>
<path d="M108.9 83.4l1.3 2.7 1.6-.4-1.3-3.6z" fill="#21a585"/>
<path d="M107.7 73.7l1.4 4.7 1.6-1.5-1.4-3.5z" fill="#3aba76"/>
<path d="M122.4 104.7l1.4-.7 1.5 5.1-1.4 1.8z" fill="#2f6c8e"/>
<path d="M89 83l1.4.6 1.6-1.3-1.3 1.6z" fill="#22a884"/>
<path d="M128.1 105l1.4-1.5 1.5 3.4-1.4 2.9z" fill="#2e6f8e"/>
<path d="M105 73l1.3-.5 1.6-.8-1.3-.2z" fill="#4cc26c"/>
<path d="M155.5 92.5l1.4 1.7 1.4-.6-1.4 1.4z" fill="#218e8d"/>
<path d="M132.4 102.8l1.4-1.6 1.6.8-1.5 5.9z" fill="#2a768e"/>
<path d="M93.3 81.4l1.4-.7 1.6-2.3-1.3 1.7z" fill="#2ab07f"/>
<path d="M106.3 72.5l1.4 1.2 1.6-.3-1.4-1.7z" fill="#4ac16d"/>
<path d="M149.8 93.2l1.4-.2 1.5.9-1.5.7z" fill="#218f8d"/>
<path d="M139.7 98.2l1.5-3.9 1.4 1.7-1.4 2.1z" fill="#24878e"/>
<path d="M97.7 78.8l1.3-1.1 1.6-1.3-1.3.1z" fill="#35b779"/>
<path d="M111.4 89.6l1.4 2.5 1.6 5.5-1.4-4.4z" fill="#21918c"/>
<path d="M144.1 93.8l1.4-2.3 1.5 2.2-1.4.9z" fill="#21918c"/>
<path d="M107.5 77.8l1.4 5.6 1.6-1.3-1.4-3.7z" fill="#2ab07f"/>
<path d="M90.4 83.6l1.3-1.7 1.6-.5-1.3.9z" fill="#26ad81"/>
<path d="M136.8 100.4l1.4-3.9 1.5 1.7-1.4 3.2z" fill="#26828e"/>
<path d="M102 74.9l1.3-2.2 1.7.3-1.4.8z" fill="#48c16e"/>
<path d="M110 87.7l1.4 1.9 1.6 3.6-1.4-3.2z" fill="#1f998a"/>
<path d="M151.2 93l1.4.5 1.5.2-1.4.2z" fill="#21918c"/>
<path d="M94.7 80.7l1.3-.8 1.7-1.1-1.4-.4z" fill="#2fb47c"/>
<path d="M123.8 104l1.4-3.1 1.5 6.7-1.4 1.5z" fill="#2c738e"/>
<path d="M99 77.7l1.3-3.7 1.7.9-1.4 1.5z" fill="#40bd72"/>
<path d="M145.5 91.5l1.4 0 1.5 2.5-1.4-.3z" fill="#1f948c"/>
<path d="M129.5 103.5l1.4-2.8 1.5 2.1-1.4 4.1z" fill="#29798e"/>
<path d="M108.6 83.2l1.4 4.5 1.6 2.3-1.4-3.9z" fill="#20a386"/>
<path d="M152.6 93.5l1.4.4 1.5-1.4-1.4 1.2z" fill="#20928c"/>
<path d="M106.1 74.6l1.4 3.2 1.6.6-1.4-4.7z" fill="#3fbc73"/>
<path d="M103.3 72.7l1.4.1 1.6-.3-1.3.5z" fill="#52c569"/>
<path d="M91.7 81.9l1.3-1 1.7-.2-1.4.7z" fill="#2cb17e"/>
<path d="M141.2 94.3l1.4-1.5 1.5 1-1.5 2.2z" fill="#20928c"/>
<path d="M96 79.9l1.4-2.5 1.6.3-1.3 1.1z" fill="#37b878"/>
<path d="M133.8 101.2l1.5-5.1 1.5 4.3-1.4 1.6z" fill="#25838e"/>
<path d="M154 93.9l1.4.2 1.5.1-1.4-1.7z" fill="#20938c"/>
<path d="M146.9 91.5l1.4.9 1.5.8-1.4.8z" fill="#1f958b"/>
<path d="M104.7 72.8l1.4 1.8 1.6-.9-1.4-1.2z" fill="#50c46a"/>
<path d="M107.2 80.3l1.4 2.9 1.6 2.9-1.3-2.7z" fill="#27ad81"/>
<path d="M118.1 98l1.3 2.8 1.6 6.4-1.4-1.4z" fill="#287d8e"/>
<path d="M116.7 95.5l1.4 2.5 1.5 7.8-1.3-1.3z" fill="#26828e"/>
<path d="M90 82.4l1.7-.5-1.3 1.7z" fill="#29af7f"/>
<path d="M148.3 92.4l1.4 1.4 1.5-.8-1.4.2z" fill="#1f958b"/>
<path d="M125.2 100.9l1.4-1.7 1.5 5.8-1.4 2.6z" fill="#287d8e"/>
<path d="M115.3 94.6l1.4.9 1.6 9-1.4-3.3z" fill="#24878e"/>
<path d="M93 80.9l1.4-1.3 1.6.3-1.3.8z" fill="#32b67a"/>
<path d="M138.2 96.5l1.5-3.3 1.5 1.1-1.5 3.9z" fill="#21908d"/>
<path d="M100.3 74l1.4 0 1.6-1.3-1.3 2.2z" fill="#50c46a"/>
<path d="M119.4 100.8l1.4-1.8 1.6 5.7-1.4 2.5z" fill="#277e8e"/>
<path d="M105.8 77.7l1.4 2.6 1.7 3.1-1.4-5.6z" fill="#35b779"/>
<path d="M142.6 92.8l1.4-.8 1.5-.5-1.4 2.3z" fill="#1f988b"/>
<path d="M149.7 93.8l1.4-.6 1.5.3-1.4-.5z" fill="#1f968b"/>
<path d="M113.9 90l1.4 4.6 1.6 6.6-1.4-2.9z" fill="#21908d"/>
<path d="M130.9 100.7l1.4-2.6 1.5 3.1-1.4 1.6z" fill="#25848e"/>
<path d="M97.4 77.4l1.3-1.8 1.6-1.6-1.3 3.7z" fill="#46c06f"/>
<path d="M151.1 93.2l1.4.5 1.5.2-1.4-.4z" fill="#1f978b"/>
<path d="M90 82.4l1.4-.3 1.6-1.2-1.3 1z" fill="#2fb47c"/>
<path d="M112.5 89l1.4 1 1.6 8.3-1.4-3.4z" fill="#1f988b"/>
<path d="M101.7 74l1.4-.9 1.6-.3-1.4-.1z" fill="#58c765"/>
<path d="M126.6 99.2l1.4-.4 1.5 4.7-1.4 1.5z" fill="#25838e"/>
<path d="M104.4 73.4l1.4 4.3 1.7.1-1.4-3.2z" fill="#4ac16d"/>
<path d="M111.1 87.7l1.4 1.3 1.6 5.9-1.3-2.8z" fill="#1f9e89"/>
<path d="M94.4 79.6l1.3-.8 1.7-1.4-1.4 2.5z" fill="#3bbb75"/>
<path d="M135.3 96.1l1.4-2.4 1.5 2.8-1.4 3.9z" fill="#21908d"/>
<path d="M144 92l1.4.7 1.5-1.2-1.4 0z" fill="#1e9c89"/>
<path d="M152.5 93.7l1.4.9 1.5-.5-1.4-.2z" fill="#1f968b"/>
<path d="M120.8 99l1.4-.7 1.6 5.7-1.4.7z" fill="#25848e"/>
<path d="M103.1 73.1l1.3.3 1.7 1.2-1.4-1.8z" fill="#58c765"/>
<path d="M109.7 84.4l1.4 3.3 1.7 4.4-1.4-2.5z" fill="#21a585"/>
<path d="M139.7 93.2l1.4-1.4 1.5 1-1.4 1.5z" fill="#1f9a8a"/>
<path d="M145.4 92.7l1.4-.5 1.5.2-1.4-.9z" fill="#1e9c89"/>
<path d="M108.4 83.5l1.3.9 1.7 5.2-1.4-1.9z" fill="#25ab82"/>
<path d="M91.4 82.1l1.3-.5 1.7-2-1.4 1.3z" fill="#35b779"/>
<path d="M107 82l1.4 1.5 1.6 4.2-1.4-4.5z" fill="#2ab07f"/>
<path d="M98.7 75.6l1.3-2.1 1.7.5-1.4 0z" fill="#56c667"/>
<path d="M132.3 98.1l1.4-2.4 1.6.4-1.5 5.1z" fill="#21908d"/>
<path d="M146.8 92.2l1.5-1.7 1.4 3.3-1.4-1.4z" fill="#1e9d89"/>
<path d="M128 98.8l1.4-3 1.5 4.9-1.4 2.8z" fill="#228b8d"/>
<path d="M95.7 78.8l1.3-2.7 1.7-.5-1.3 1.8z" fill="#4ac16d"/>
<path d="M105.6 78.4l1.4 3.6 1.6 1.2-1.4-2.9z" fill="#38b977"/>
<path d="M122.2 98.3l1.4-1 1.6 3.6-1.4 3.1z" fill="#238a8d"/>
<path d="M141.1 91.8l1.4-2.1 1.5 2.3-1.4.8z" fill="#1fa088"/>
<path d="M148.3 90.5l1.3 1.6 1.5 1.1-1.4.6z" fill="#1f9e89"/>
<path d="M92.7 81.6l1.3-2.5 1.7-.3-1.3.8z" fill="#3fbc73"/>
<path d="M100 73.5l1.4-.7 1.7.3-1.4.9z" fill="#60ca60"/>
<path d="M136.7 93.7l1.5-3.3 1.5 2.8-1.5 3.3z" fill="#1e9c89"/>
<path d="M104.2 75.3l1.4 3.1 1.6 1.9-1.4-2.6z" fill="#48c16e"/>
<path d="M151 92.9l2.9 1.7-1.4-.9z" fill="#1e9c89"/>
<path d="M149.6 92.1l1.4.8 1.5.8-1.4-.5z" fill="#1f9e89"/>
<path d="M102.8 74.6l1.4.7 1.6 2.4-1.4-4.3z" fill="#58c765"/>
<path d="M101.4 72.8l1.4 1.8 1.6-1.2-1.3-.3z" fill="#63cb5f"/>
<path d="M142.5 89.7l1.4.1 1.5 2.9-1.4-.7z" fill="#20a386"/>
<path d="M97 76.1l1.4-2.1 1.6-.5-1.3 2.1z" fill="#5cc863"/>
<path d="M129.4 95.8l1.4-2.1 1.5 4.4-1.4 2.6z" fill="#1f958b"/>
<path d="M123.6 97.3l1.4-4.4 1.6 6.3-1.4 1.7z" fill="#1f948c"/>
<path d="M133.7 95.7l1.5-3.5 1.5 1.5-1.4 2.4z" fill="#1e9c89"/>
<path d="M143.9 89.8l1.4.5 1.5 1.9-1.4.5z" fill="#20a486"/>
<path d="M94 79.1l1.4-1.9 1.6-1.1-1.3 2.7z" fill="#4ec36b"/>
<path d="M138.2 90.4l1.4.2 1.5 1.2-1.4 1.4z" fill="#20a386"/>
<path d="M116.4 89.7l1.4 2 1.6 9.1-1.3-2.8z" fill="#1e9c89"/>
<path d="M145.3 90.3l1.4.4 1.6-.2-1.5 1.7z" fill="#21a685"/>
<path d="M117.8 91.7l1.4 1.7 1.6 5.6-1.4 1.8z" fill="#1f998a"/>
<path d="M115 87.3l1.4 2.4 1.7 8.3-1.4-2.5z" fill="#1fa287"/>
<path d="M148.1 92.5l2.9.4-1.4-.8z" fill="#1fa287"/>
<path d="M98.4 74l1.3-.9 1.7-.3-1.4.7z" fill="#6ccd5a"/>
<path d="M113.7 84.6l1.3 2.7 1.7 8.2-1.4-.9z" fill="#22a884"/>
<path d="M125 92.9l1.4.8 1.6 5.1-1.4.4z" fill="#1f9a8a"/>
<path d="M146.7 90.7l1.4 1.8 1.5-.4-1.3-1.6z" fill="#21a685"/>
<path d="M139.6 90.6l1.4-2.1 1.5 1.2-1.4 2.1z" fill="#24aa83"/>
<path d="M105.3 76.3l1.4 2.6 1.7 4.6-1.4-1.5z" fill="#48c16e"/>
<path d="M109.5 80.8l1.4 1.3 1.6 6.9-1.4-1.3z" fill="#32b67a"/>
<path d="M130.8 93.7l1.4-2.6 1.5 4.6-1.4 2.4z" fill="#1f9f88"/>
<path d="M106.7 78.9l1.4.8 1.6 4.7-1.3-.9z" fill="#40bd72"/>
<path d="M108.1 79.7l1.4 1.1 1.6 6.9-1.4-3.3z" fill="#3aba76"/>
<path d="M112.3 82.5l1.4 2.1 1.6 10-1.4-4.6z" fill="#29af7f"/>
<path d="M99.7 73.1l1.4.3 1.7 1.2-1.4-1.8z" fill="#6ece58"/>
<path d="M103.9 75.3l1.4 1 1.7 5.7-1.4-3.6z" fill="#54c568"/>
<path d="M95.4 77.2l1.3-2.6 1.7-.6-1.4 2.1z" fill="#63cb5f"/>
<path d="M110.9 82.1l1.4.4 1.6 7.5-1.4-1z" fill="#2fb47c"/>
<path d="M119.2 93.4l1.4-2.3 1.6 7.2-1.4.7z" fill="#1e9d89"/>
<path d="M101.1 73.4l1.4.7 1.7 1.2-1.4-.7z" fill="#69cd5b"/>
<path d="M135.2 92.2l1.4-3.3 1.6 1.5-1.5 3.3z" fill="#22a884"/>
<path d="M102.5 74.1l1.4 1.2 1.7 3.1-1.4-3.1z" fill="#60ca60"/>
<path d="M93.7 76.7l1.7.5-1.4 1.9z" fill="#58c765"/>
<path d="M126.4 93.7l1.4-1.4 1.6 3.5-1.4 3z" fill="#1f9f88"/>
<path d="M141 88.5l1.4 1.7 1.5-.4-1.4-.1z" fill="#26ad81"/>
<path d="M142.4 90.2l1.4-.1 1.5.2-1.4-.5z" fill="#26ad81"/>
<path d="M120.6 91.1l1.4.6 1.6 5.6-1.4 1z" fill="#1fa187"/>
<path d="M145.2 91.3l2.9 1.2-1.4-1.8z" fill="#24aa83"/>
<path d="M143.8 90.1l1.4 1.2 1.5-.6-1.4-.4z" fill="#25ac82"/>
<path d="M96.7 74.6l1.4-2.9 1.6 1.4-1.3.9z" fill="#77d153"/>
<path d="M132.2 91.1l1.5-3 1.5 4.1-1.5 3.5z" fill="#24aa83"/>
<path d="M136.6 88.9l1.5-1.7 1.5 3.4-1.4-.2z" fill="#29af7f"/>
<path d="M93.7 76.7l1.3-2.1 1.7 0-1.3 2.6z" fill="#6ccd5a"/>
<path d="M127.8 92.3l1.5-3 1.5 4.4-1.4 2.1z" fill="#22a884"/>
<path d="M98.1 71.7l1.3-.1 1.7 1.8-1.4-.3z" fill="#81d34d"/>
<path d="M122 91.7l1.4-3.1 1.6 4.3-1.4 4.4z" fill="#23a983"/>
<path d="M138.1 87.2l1.4 1 1.5.3-1.4 2.1z" fill="#2eb37c"/>
<path d="M99.4 71.6l1.4-.6 1.7 3.1-1.4-.7z" fill="#84d44b"/>
<path d="M139.5 88.2l1.4 0 1.5 2-1.4-1.7z" fill="#2fb47c"/>
<path d="M133.7 88.1l1.4-1.4 1.5 2.2-1.4 3.3z" fill="#2fb47c"/>
<path d="M142.3 89.3l2.9 2-1.4-1.2z" fill="#2cb17e"/>
<path d="M100.8 71l1.4 1 1.7 3.3-1.4-1.2z" fill="#84d44b"/>
<path d="M140.9 88.2l1.4 1.1 1.5.8-1.4.1z" fill="#2eb37c"/>
<path d="M102.2 72l1.4 2.3 1.7 2-1.4-1z" fill="#7ad151"/>
<path d="M95 74.6l1.4-1.2 1.7-1.7-1.4 2.9z" fill="#81d34d"/>
<path d="M129.3 89.3l1.4-2.5 1.5 4.3-1.4 2.6z" fill="#2db27d"/>
<path d="M103.6 74.3l1.4-1.5 1.7 6.1-1.4-2.6z" fill="#75d054"/>
<path d="M123.4 88.6l1.5-1.7 1.5 6.8-1.4-.8z" fill="#2cb17e"/>
<path d="M105 72.8l1.4 2.1 1.7 4.8-1.4-.8z" fill="#70cf57"/>
<path d="M106.4 74.9l1.4 1 1.7 4.9-1.4-1.1z" fill="#69cd5b"/>
<path d="M107.8 75.9l1.4 2.3 1.7 3.9-1.4-1.3z" fill="#60ca60"/>
<path d="M116.2 83.4l1.4 1.9 1.6 8.1-1.4-1.7z" fill="#35b779"/>
<path d="M114.8 81.7l1.4 1.7 1.6 8.3-1.4-2z" fill="#3bbb75"/>
<path d="M135.1 86.7l1.4.2 1.6.3-1.5 1.7z" fill="#3aba76"/>
<path d="M109.2 78.2l1.4-2.1 1.7 6.4-1.4-.4z" fill="#60ca60"/>
<path d="M96.4 73.4l1.4-.8 1.6-1-1.3.1z" fill="#8ed645"/>
<path d="M113.4 77.9l1.4 3.8 1.6 8-1.4-2.4z" fill="#4ac16d"/>
<path d="M117.6 85.3l1.4.3 1.6 5.5-1.4 2.3z" fill="#35b779"/>
<path d="M124.9 86.9l1.4-1.8 1.5 7.2-1.4 1.4z" fill="#32b67a"/>
<path d="M112 78.4l1.4-.5 1.6 9.4-1.3-2.7z" fill="#56c667"/>
<path d="M110.6 76.1l1.4 2.3 1.7 6.2-1.4-2.1z" fill="#5ec962"/>
<path d="M130.7 86.8l1.4-.6 1.6 1.9-1.5 3z" fill="#3aba76"/>
<path d="M136.5 86.9l1.4-.2 1.6 1.5-1.4-1z" fill="#3dbc74"/>
<path d="M97.8 72.6l1.3-.8 1.7-.8-1.4.6z" fill="#98d83e"/>
<path d="M119 85.6l1.4-1.2 1.6 7.3-1.4-.6z" fill="#3aba76"/>
<path d="M137.9 86.7l1.5.2 1.5 1.3-1.4 0z" fill="#3dbc74"/>
<path d="M99.1 71.8l1.4-.9 1.7 1.1-1.4-1z" fill="#9dd93b"/>
<path d="M126.3 85.1l1.4-.8 1.6 5-1.5 3z" fill="#3fbc73"/>
<path d="M139.4 86.9l1.4-.1 1.5 2.5-1.4-1.1z" fill="#3fbc73"/>
<path d="M132.1 86.2l1.4-1.8 1.6 2.3-1.4 1.4z" fill="#46c06f"/>
<path d="M100.5 70.9l1.4-1 1.7 4.4-1.4-2.3z" fill="#9dd93b"/>
<path d="M120.4 84.4l1.5-2.5 1.5 6.7-1.4 3.1z" fill="#46c06f"/>
<path d="M101.9 69.9l1.4 1 1.7 1.9-1.4 1.5z" fill="#a0da39"/>
<path d="M97.4 71.1l1.7.7-1.3.8z" fill="#a2da37"/>
<path d="M133.5 84.4l1.5-1.1 1.5 3.6-1.4-.2z" fill="#50c46a"/>
<path d="M127.7 84.3l1.4-1.6 1.6 4.1-1.4 2.5z" fill="#4ec36b"/>
<path d="M103.3 70.9l1.4.6 1.7 3.4-1.4-2.1z" fill="#a0da39"/>
<path d="M104.7 71.5l1.4-.4 1.7 4.8-1.4-1z" fill="#9bd93c"/>
<path d="M135 83.3l1.4 1.2 1.5 2.2-1.4.2z" fill="#52c569"/>
<path d="M121.9 81.9l1.4.6 1.6 4.4-1.5 1.7z" fill="#54c568"/>
<path d="M106.1 71.1l1.4-1.1 1.7 8.2-1.4-2.3z" fill="#9bd93c"/>
<path d="M97.4 71.1l1.4-.4 1.7.2-1.4.9z" fill="#addc30"/>
<path d="M137.8 84.9l3 1.9-1.4.1z" fill="#50c46a"/>
<path d="M136.4 84.5l1.4.4 1.6 2-1.5-.2z" fill="#52c569"/>
<path d="M129.1 82.7l1.5-.4 1.5 3.9-1.4.6z" fill="#5ac864"/>
<path d="M107.5 70l1.4 1.5 1.7 4.6-1.4 2.1z" fill="#9dd93b"/>
<path d="M123.3 82.5l1.4-1.3 1.6 3.9-1.4 1.8z" fill="#60ca60"/>
<path d="M108.9 71.5l1.4.7 1.7 6.2-1.4-2.3z" fill="#9bd93c"/>
<path d="M98.8 70.7l1.4-2 1.7 1.2-1.4 1z" fill="#bade28"/>
<path d="M130.6 82.3l1.4.9 1.5 1.2-1.4 1.8z" fill="#60ca60"/>
<path d="M114.6 76.1l1.4 1.3 1.6 7.9-1.4-1.9z" fill="#75d054"/>
<path d="M113.1 73.5l1.5 2.6 1.6 7.3-1.4-1.7z" fill="#81d34d"/>
<path d="M116 77.4l1.4 1.1 1.6 7.1-1.4-.3z" fill="#70cf57"/>
<path d="M110.3 72.2l1.4-.1 1.7 5.8-1.4.5z" fill="#9bd93c"/>
<path d="M111.7 72.1l1.4 1.4 1.7 8.2-1.4-3.8z" fill="#93d741"/>
<path d="M100.2 68.7l1.4-.3 1.7 2.5-1.4-1z" fill="#c2df23"/>
<path d="M117.4 78.5l1.4-.1 1.6 6-1.4 1.2z" fill="#73d056"/>
<path d="M124.7 81.2l1.4-1.7 1.6 4.8-1.4.8z" fill="#6ece58"/>
<path d="M132 83.2l1.4-2.2 1.6 2.3-1.5 1.1z" fill="#6ccd5a"/>
<path d="M101.6 68.4l1.4-.3 1.7 3.4-1.4-.6z" fill="#c5e021"/>
<path d="M134.8 82.9l3 2-1.4-.4z" fill="#67cc5c"/>
<path d="M133.4 81l1.4 1.9 1.6 1.6-1.4-1.2z" fill="#70cf57"/>
<path d="M126.1 79.5l1.4 1.3 1.6 1.9-1.4 1.6z" fill="#77d153"/>
<path d="M103 68.1l1.4 0 1.7 3-1.4.4z" fill="#c8e020"/>
<path d="M118.8 78.4l1.4-1.6 1.7 5.1-1.5 2.5z" fill="#81d34d"/>
<path d="M98.5 69.4l1.7-.7-1.4 2z" fill="#cae11f"/>
<path d="M127.5 80.8l1.5-.1 1.6 1.6-1.5.4z" fill="#7cd250"/>
<path d="M104.4 68.1l1.4 0 1.7 1.9-1.4 1.1z" fill="#d0e11c"/>
<path d="M120.2 76.8l1.5-.6 1.6 6.3-1.4-.6z" fill="#8ed645"/>
<path d="M129 80.7l1.4.6 1.6 1.9-1.4-.9z" fill="#7cd250"/>
<path d="M98.5 69.4l1.4-1.4 1.7.4-1.4.3z" fill="#d8e219"/>
<path d="M105.8 68.1l1.4.1 1.7 3.3-1.4-1.5z" fill="#d2e21b"/>
<path d="M130.4 81.3l1.4.6 1.6-.9-1.4 2.2z" fill="#81d34d"/>
<path d="M107.2 68.2l1.4-.2 1.7 4.2-1.4-.7z" fill="#d2e21b"/>
<path d="M121.7 76.2l1.4 0 1.6 5-1.4 1.3z" fill="#93d741"/>
<path d="M131.8 81.9l3 1-1.4-1.9z" fill="#81d34d"/>
<path d="M99.9 68l1.4-.6 1.7.7-1.4.3z" fill="#e2e418"/>
<path d="M108.6 68l1.4-.1 1.7 4.2-1.4.1z" fill="#d5e21a"/>
<path d="M123.1 76.2l1.4.5 1.6 2.8-1.4 1.7z" fill="#9dd93b"/>
<path d="M112.9 70.1l1.4 2 1.7 5.3-1.4-1.3z" fill="#bddf26"/>
<path d="M110 67.9l1.5 1.1 1.6 4.5-1.4-1.4z" fill="#d2e21b"/>
<path d="M111.5 69l1.4 1.1 1.7 6-1.5-2.6z" fill="#c8e020"/>
<path d="M101.3 67.4l1.4.7 1.7 0-1.4 0z" fill="#e5e419"/>
<path d="M114.3 72.1l1.4.7 1.7 5.7-1.4-1.1z" fill="#b5de2b"/>
<path d="M124.5 76.7l1.4 1.2 1.6 2.9-1.4-1.3z" fill="#9dd93b"/>
<path d="M102.7 68.1l1.4.9 1.7-.9-1.4 0z" fill="#e5e419"/>
<path d="M115.7 72.8l1.5.4 1.6 5.2-1.4.1z" fill="#b2dd2d"/>
<path d="M127.4 78.5l3 2.8-1.4-.6z" fill="#95d840"/>
<path d="M125.9 77.9l1.5.6 1.6 2.2-1.5.1z" fill="#9bd93c"/>
<path d="M104.1 69l1.4-1.5 1.7.7-1.4-.1z" fill="#eae51a"/>
<path d="M117.2 73.2l1.4.9 1.6 2.7-1.4 1.6z" fill="#b8de29"/>
<path d="M118.6 74.1l1.4.5 1.7 1.6-1.5.6z" fill="#bddf26"/>
<path d="M105.5 67.5l1.4-.1 1.7.6-1.4.2z" fill="#f1e51d"/>
<path d="M120 74.6l1.5-.7 1.6 2.3-1.4 0z" fill="#c2df23"/>
<path d="M106.9 67.4l1.5-.3 1.6.8-1.4.1z" fill="#f6e620"/>
<path d="M108.4 67.1l1.4 1.9 1.7 0-1.5-1.1z" fill="#f4e61e"/>
<path d="M121.5 73.9l1.4 2.1 1.6.7-1.4-.5z" fill="#c2df23"/>
<path d="M124.3 76.7l3.1 1.8-1.5-.6z" fill="#b5de2b"/>
<path d="M109.8 69l1.4.6 1.7.5-1.4-1.1z" fill="#efe51c"/>
<path d="M122.9 76l1.4.7 1.6 1.2-1.4-1.2z" fill="#bddf26"/>
<path d="M111.2 69.6l1.4 1.3 1.7 1.2-1.4-2z" fill="#e7e419"/>
<path d="M112.6 70.9l1.5.7 1.6 1.2-1.4-.7z" fill="#dfe318"/>
<path d="M114.1 71.6l1.4-.7 1.7 2.3-1.5-.4z" fill="#e2e418"/>
<path d="M115.5 70.9l1.4-.5 1.7 3.7-1.4-.9z" fill="#e5e419"/>
<path d="M116.9 70.4l1.5 2.4 1.6 1.8-1.4-.5z" fill="#dfe318"/>
<path d="M119.8 73.8l3.1 2.2-1.4-2.1z" fill="#d8e219"/>
<path d="M118.4 72.8l1.4 1 1.7.1-1.5.7z" fill="#dde318"/></g>
</g>
<g id="d_axes_2">
<g id="d_patch_6">
<path d="M217.7 132.6l5.3 0 0-102.6-5.3 0 0 102.6z" style="fill: none"/>
</g>
<g id="d_QuadMesh_1"><defs><linearGradient id="d_cbgrad" x1="0" y1="1" x2="0" y2="0"><stop offset="0.002" stop-color="#440154"/><stop offset="0.018" stop-color="#46075a"/><stop offset="0.033" stop-color="#470d60"/><stop offset="0.049" stop-color="#471365"/><stop offset="0.064" stop-color="#48186a"/><stop offset="0.080" stop-color="#481d6f"/><stop offset="0.096" stop-color="#482374"/><stop offset="0.111" stop-color="#482878"/><stop offset="0.127" stop-color="#472d7b"/><stop offset="0.143" stop-color="#46327e"/><stop offset="0.158" stop-color="#453781"/><stop offset="0.174" stop-color="#443b84"/><stop offset="0.189" stop-color="#424086"/><stop offset="0.205" stop-color="#404588"/><stop offset="0.221" stop-color="#3e4989"/><stop offset="0.236" stop-color="#3d4e8a"/><stop offset="0.252" stop-color="#3b528b"/><stop offset="0.268" stop-color="#39568c"/><stop offset="0.283" stop-color="#375b8d"/><stop offset="0.299" stop-color="#355f8d"/><stop offset="0.314" stop-color="#33638d"/><stop offset="0.330" stop-color="#31678e"/><stop offset="0.346" stop-color="#2f6b8e"/><stop offset="0.361" stop-color="#2e6f8e"/><stop offset="0.377" stop-color="#2c728e"/><stop offset="0.393" stop-color="#2a768e"/><stop offset="0.408" stop-color="#297a8e"/><stop offset="0.424" stop-color="#277e8e"/><stop offset="0.439" stop-color="#26828e"/><stop offset="0.455" stop-color="#25858e"/><stop offset="0.471" stop-color="#23898e"/><stop offset="0.486" stop-color="#228d8d"/><stop offset="0.502" stop-color="#21918c"/><stop offset="0.518" stop-color="#1f948c"/><stop offset="0.533" stop-color="#1f988b"/><stop offset="0.549" stop-color="#1e9c89"/><stop offset="0.564" stop-color="#1fa088"/><stop offset="0.580" stop-color="#20a386"/><stop offset="0.596" stop-color="#22a785"/><stop offset="0.611" stop-color="#25ab82"/><stop offset="0.627" stop-color="#28ae80"/><stop offset="0.643" stop-color="#2db27d"/><stop offset="0.658" stop-color="#32b67a"/><stop offset="0.674" stop-color="#38b977"/><stop offset="0.689" stop-color="#3fbc73"/><stop offset="0.705" stop-color="#46c06f"/><stop offset="0.721" stop-color="#4ec36b"/><stop offset="0.736" stop-color="#56c667"/><stop offset="0.752" stop-color="#5ec962"/><stop offset="0.768" stop-color="#67cc5c"/><stop offset="0.783" stop-color="#70cf57"/><stop offset="0.799" stop-color="#7ad151"/><stop offset="0.814" stop-color="#84d44b"/><stop offset="0.830" stop-color="#8ed645"/><stop offset="0.846" stop-color="#98d83e"/><stop offset="0.861" stop-color="#a2da37"/><stop offset="0.877" stop-color="#addc30"/><stop offset="0.893" stop-color="#b8de29"/><stop offset="0.908" stop-color="#c2df23"/><stop offset="0.924" stop-color="#cde11d"/><stop offset="0.939" stop-color="#d8e219"/><stop offset="0.955" stop-color="#e2e418"/><stop offset="0.971" stop-color="#ece51b"/><stop offset="0.986" stop-color="#f6e620"/><stop offset="0.998" stop-color="#fde725"/></linearGradient></defs><rect x="217.70" y="30.00" width="5.30" height="102.60" fill="url(#d_cbgrad)"/></g>
<g id="d_matplotlib.axis_1"/>
<g id="d_matplotlib.axis_2">
<g id="d_ytick_1">
<g id="d_line2d_25">
<defs>
<path id="d_mb0d4df9f9d" d="M0 0l2 0" style="stroke: #000000; stroke-width: 0.5"/>
</defs>
<g>
<use href="#d_mb0d4df9f9d" x="223" y="132.2" style="stroke: #000000; stroke-width: 0.5"/>
</g>
</g>
<g id="d_text_24">
<text style="font-size: 5.6px; font-family: 'DejaVu Sans', sans-serif; text-anchor: start" x="226.5" y="134.4" transform="rotate(-0 226.5 134.4)">0.6</text>
</g>
</g>
<g id="d_ytick_2">
<g id="d_line2d_26">
<g>
<use href="#d_mb0d4df9f9d" x="223" y="113.4" style="stroke: #000000; stroke-width: 0.5"/>
</g>
</g>
<g id="d_text_25">
<text style="font-size: 5.6px; font-family: 'DejaVu Sans', sans-serif; text-anchor: start" x="226.5" y="115.6" transform="rotate(-0 226.5 115.6)">0.7</text>
</g>
</g>
<g id="d_ytick_3">
<g id="d_line2d_27">
<g>
<use href="#d_mb0d4df9f9d" x="223" y="94.6" style="stroke: #000000; stroke-width: 0.5"/>
</g>
</g>
<g id="d_text_26">
<text style="font-size: 5.6px; font-family: 'DejaVu Sans', sans-serif; text-anchor: start" x="226.5" y="96.8" transform="rotate(-0 226.5 96.8)">0.8</text>
</g>
</g>
<g id="d_ytick_4">
<g id="d_line2d_28">
<g>
<use href="#d_mb0d4df9f9d" x="223" y="75.8" style="stroke: #000000; stroke-width: 0.5"/>
</g>
</g>
<g id="d_text_27">
<text style="font-size: 5.6px; font-family: 'DejaVu Sans', sans-serif; text-anchor: start" x="226.5" y="78" transform="rotate(-0 226.5 78)">0.9</text>
</g>
</g>
<g id="d_ytick_5">
<g id="d_line2d_29">
<g>
<use href="#d_mb0d4df9f9d" x="223" y="57" style="stroke: #000000; stroke-width: 0.5"/>
</g>
</g>
<g id="d_text_28">
<text style="font-size: 5.6px; font-family: 'DejaVu Sans', sans-serif; text-anchor: start" x="226.5" y="59.2" transform="rotate(-0 226.5 59.2)">1.0</text>
</g>
</g>
<g id="d_ytick_6">
<g id="d_line2d_30">
<g>
<use href="#d_mb0d4df9f9d" x="223" y="38.2" style="stroke: #000000; stroke-width: 0.5"/>
</g>
</g>
<g id="d_text_29">
<text style="font-size: 5.6px; font-family: 'DejaVu Sans', sans-serif; text-anchor: start" x="226.5" y="40.4" transform="rotate(-0 226.5 40.4)">1.1</text>
</g>
</g>
</g>
<g id="d_LineCollection_1"/>
<g id="d_patch_7">
<path d="M217.7 132.6l2.6 0 2.7 0 0-102.6-2.7 0-2.6 0 0 102.6z" style="fill: none; stroke: #000000; stroke-width: 0.5; stroke-linejoin: miter; stroke-linecap: square"/>
</g>
</g>
</g>
<defs>
<clipPath id="d_pf5ceca7170">
<rect x="25.1" y="-9.4" width="181.4" height="181.4"/>
</clipPath>
<clipPath id="d_pb14f113469">
<rect x="217.7" y="30" width="5.3" height="102.7"/>
</clipPath>
</defs>
</svg>
<svg viewBox="0 0 214.1 187.2" preserveAspectRatio="none" style="position:absolute;left:0px;top:585px;width:342px;height:260px;overflow:visible">
<defs>
<style type="text/css">*{stroke-linejoin: round; stroke-linecap: butt}</style>
</defs>
<g id="e_figure_1">
<g id="e_patch_1">
<path d="M0 187.2l214.1 0 0-187.2-214.1 0 0 187.2z" style="fill: none; opacity: 0"/>
</g>
<g id="e_axes_1">
<g id="e_patch_2">
<path d="M23 165.6l135 0 0-163.2-135 0 0 163.2z" style="fill: none"/>
</g>
<g id="e_QuadContourSet_1">
<path d="M131.1 66l2.2-.7 .4-.3-.4-.9-2.2.1-1.3.8zM66 43.6l.3-.4-.3-.5-.3.5z" clip-path="url(#e_pfd47c9110e)" style="fill: #470d60; stroke: #470d60; stroke-width: 0.6"/>
<path d="M83.9 144.5l2.3-.4 .4-.3 1.8-1.5 2.3.8 1.4-2-.3-2.7-.4-2.7-.5-2.7-.2-.3-2.3-.7-2.2-.5-2.3.9-.6.6-.9 2.7-.5 2.7 .2 2.7 1.2 2.7zM97.4 141.9l.5-.8 .1-2.7-.6-1.7-.7 1.7 .1 2.7zM68.2 137l2.1-1.3 .2-.3 .7-2.4 .5-2.7 .1-2.8-1.3-1.7-1.9 1.7-.4.6-1.2 2.2-1 2.7 0 0 0 0 .9 2.7zM117.6 127.7l2.3.9 .7-1.1 .2-2.7 .2-2.7-.1-2.7-1-2.1-2.3 1.9-.1.2-1.8 2.7 .1 2.7 1.7 2.7zM59.2 125.2l2.3.3 2.2-.2 .2-.5 1.8-2.7-1.1-2.7-.9-.7-1.8-2-.4-.8-2.3-1.3-2.2 1.2-.6.9-1.7 2.1-.3.6-1.1 2.7 1.4 2 2.3.5 .8.2zM124.3 111.8l2.3-.1 .6-.5-.6-.7-2.3-.5-.8 1.2zM131.1 108.9l2.2-.3 .1-.1 .1-2.7-.2-.4-2.2-.2-1.9.6 1.5 2.7zM131.1 87.7l1.7-1 .5-.2 2.3-1.2 1.9-1.3-1.9-2.2-2.3.2-2.2.4-1 1.6 .5 2.7zM43.5 80.8l2.3.3 2.2-.2 2.3-1.5 .3-.8-.3-1.5-2.1-1.2-.2-.1-2.2-.3-.9.4-1.4.2-1.5 2.5zM128.8 74l2.3.3 2.2-.3 2.3-.7 .2-.2 .1-2.7-.3-.7-1.3-2 1.3-.9 1.1-1.8 .5-2.7-1.6-1.5-2.2-1.2 .1-2.8-.2-.4-2.2-1.7-2.3-.3-2.2.6-.6-.9 .6-.4 1.4-2.3 .8-2.7-.7-2.7-1.5-.4-1.4.4-.9.2-2.2 1.7-.8.8-1.4 1.6-.7 1.1 .3 2.7 .4.4 2.2 1.1 2.2-.2 1.4 1.4-1.4 1.2-.5 1.6 .2 2.7 .3.6 1.8 2.1 0 2.7 .5 1.1 1.7 1.6-.3 2.7zM129.8 65l1.3-.8 2.2-.1 .4.9-.4.3-2.2.7zM52.5 68l.1-.3-.1-.3-1.5.3zM57 57.1l.3-.3 .4-2.7-.7-1.3-1.2-1.4-1.1-1.5-2.2.7-.4.8 .4 1.9 .3.8 1.9 1.5 1.6 1.2zM66 46.6l2.2.2 .8-.8 .2-2.8-1-.8-1.1-1.9-1.1-1.8-.7-.9-1.6-1.6-2.1-1.1-.1-.1-.1.1-.8 2.7 .8 2.7 .1.1 1.6 2.6 .6.8 1.5 2zM65.7 43.2l.3-.5 .3.5-.3.4zM115.4 47.6l2.2-.1 .9-1.5 1.4-2.6 0-.2 .3-2.7-.3-.8-2.3-.9-2.2.9-.7.8-1.1 2.7 1.2 2.8zM72.7 41.5l2.3-.7 .5-.3 1.7-2.5 .2-.2-.2-.9-.2-1.8 0-2.7-2-2-2.3.8-1.9 1.2-.3.3-1.6 2.4 1.2 2.7 .4 1.3 .9 1.4zM81.7 38.1l2.2 0 .6-.3 1.7-2.1 .3-.6-.1-2.7-.2-2.6 0-.2-1.6-2.7-.7-.7-1.7.7-.5.4-2.3.8-1.9 1.5-.1 2.8 .4 2.7 1.6 1 1.4 1.7zM92.9 37.9l.4-.1 1.3-2.7-.6-2.7-.7-2.8-.4-.6-2.2-1.3-1 1.9 .3 2.8 .3 2.7 .4.5 2 2.2zM106.4 33.2l2.2.2 .1-1-.1-.2-2.2-.1-.3.3z" clip-path="url(#e_pfd47c9110e)" style="fill: #482475; stroke: #482475; stroke-width: 0.6"/>
<path d="M83.9 147.8l2.3-.4 1.8-.8 .4-.3 1.2.3 1.1.2 .7-.2 1.5-.7 2.3-.9 2.2.9 2.2-1 1-1.1 .5-2.7 0-2.7-1.1-2.7-.4-1-.5-1.7-1.4-2.7-.3-.2-.5.2-1.7 1.1-2.3.9-1.1-2-1.1-.8-2.3-.3-2.2-.2-2.3.2-2.2.4-2.3-1.5-.6-.6-1.6-.6-2.2-.2-1.4-1.9-.9-.8-2.2-1-1.9-.9-.4-.4-.8-2.3-1.4-1.7-1.2-1-1.1-1.2-1.1-1.6-1.1-1.3-1.9-1.4-.4-.6-1.1-2.1-.9-2.7-.2-.4-2.2-2.3-.1-.1-1.7-2.7-.5-1.9-.2-.8 .2-.6 .3-2.1 .2-2.7-.4-2.7-.1-1.3-.6-1.5-.4-2.7 1-1.8 .2-.9 .4-2.7 .2-2.7 .3-2.8 1.1-1.9 .3-.8 .5-2.7-.1-2.7-.7-1.5-1.2-1.2-1-.9-2.2-1.4-.7-.4-1.6-1-1.8 1-.4 2-.1.7-1.1 2.7-1.1 2.3-.4.4-1.8 1.6-.5 1.1-.2 2.7-1.2 2.8-.4.9-.4 1.8 .4 1.3 .8 1.4 1.5 1.2 2.2 1.4 .7.1 1.6.6 2.2 1.5 .5.6-.5.3-2.2.6-2.3.3-2.2 1.3-.4.3-1.9 1.7-.6 1 .6 1.6 1.1 1.1 .9 2.7-1.2 2.7-.5 2.8 2 1.2 2.2.5 2.3.5 2 .5-.5 2.7-1.4 2.7-.1.5-.5 2.2 .5 1.1 2.2 1.3 .8.4 1.5 1.7 .3 1-.1 2.7-.1 2.7 2.1 1.9 2.2.7 .4.1 1.9 1.6 1.5 1.2 .6 2.7 .1.5 1.3 2.2 1 .3 2.2.2 1.3 2.2 1 1.5 2.2.7 2.3-.6 2.2.9 .4.2 1.9.6 2.2-.3 2.2-.2 1 2.6 1.3 2.2 .6.6zM83.3 143.8l-1.2-2.7-.2-2.7 .5-2.7 .9-2.7 .6-.6 2.3-.9 2.2.5 2.3.7 .2.3 .5 2.7 .4 2.7 .3 2.7-1.4 2-2.3-.8-1.8 1.5-.4.3-2.3.4zM96.8 141.1l-.1-2.7 .7-1.7 .6 1.7-.1 2.7-.5.8zM66.9 135.7l-.9-2.7 0 0 0 0 1-2.7 1.2-2.2 .4-.6 1.9-1.7 1.3 1.7-.1 2.8-.5 2.7-.7 2.4-.2.3-2.1 1.3zM57.8 124.8l-.8-.2-2.3-.5-1.4-2 1.1-2.7 .3-.6 1.7-2.1 .6-.9 2.2-1.2 2.3 1.3 .4.8 1.8 2 .9.7 1.1 2.7-1.8 2.7-.2.5-2.2.2-2.3-.3zM42 78.6l1.5-2.5 1.4-.2 .9-.4 2.2.3 .2.1 2.1 1.2 .3 1.5-.3.8-2.3 1.5-2.2.2-2.3-.3zM51 67.7l1.5-.3 .1.3-.1.3zM108.6 139.1l2.3-.1 .9-.6 1.3-.9 2.3-.4 1.1-1.4 .8-2.7 .3-.3 2.3.1 2.2-.5 1.4-2 .8-2.2 .4-.6 1.3-2.7-.2-2.7-1-2.7-.5-.9-.8-1.8 .8-1 2.3.6 .6.4 1.6.8 2.3-.6 .4-.2 1.8-1.8 1-1 1.3-.8 1.5-1.9 .7-2.3 .1-.4 .5-2.7-.2-2.7-.4-1.5-.6-1.3-1.2-2.7 .2-2.7 .2-2.7 .6-2.7 .8-1 1.2-1.8 1.1-1.2 1-1.5 .3-2.7-1.3-1.1-2.3-1.2-1.8-.4 .7-2.7 1.1-.7 1.8-2.1-.2-2.7-.9-2.7 .5-2.7 .3-2.7-1.3-2.7-.2-.3-1.5-2.5-.5-2.7-.2-.2-2.3-1.7-1.7-.8-.5-2.7 0-.1-.3-2.6-2-2.3-2.2-.2-2.3.1-.6-.4-.4-2.7-.2-2.7-1-1.7-1.5-1-.7-.3-2.3 0-1.5.3-.7.2-2.3.6-.6-.8-.7-2.7-.6-2.8-.3-.8-1.7-1.9-.6-.4-2.2-.2-2.3-1.3-1.9-.8-.3-.1-.2.1-2.1 1.5-1.8 1.2-.4.3-2.2.1-.3-.4-1.9-2.7-.1-.1-2.2-1.4-2.3 1-2.2.2-2.3-1-2.2.3-2.3.6-2.2.3-.3.1-1.9.9-2.3.5-1.7 1.3-.5.5-2.3.6-2.2 1.1-.3.5-.4 2.8-1.6 1.2-2.2-.6-2.3 1.1-.4 1-.2 2.7 0 2.7-1.6.5-2.3 0-1.9 2.2-.3.5-1.6 2.3-.6.8-1 1.9-1.2 2.7 .8 2.7 1.4 2 .8.7 1.4 1.3 2.2 1.2 .6.3 1.7.9 2.2-.9 .1 0 1.2-2.8 .6-2.7 .4-.6 2.2-1.4 .6-.7 1.7-2.4 2.2.1 .6-.4 1.7-1.8 1.5-.9 .7-.6 2.3-1.3 2.2-.9 0 0 2.2-2 2.3.1 2.2-.2 2.1-.6 .2-.1 2.2-1.6 2.3 1.1 1.4.6 .8.2 2.3 0 2.2-.2 .1 0 2.1-.3 .5.3 1.8.6 2.2 1.2 1.3.9 1 .5 2.2.6 1 1.7 1.3 1.1 1.5 1.6 .7.8 1.6 1.9 .7.5 1.7 2.2 .5.8 1.6 1.9 .7.9 1.5 1.9 .4 2.7 .3.5 1.4 2.2 .7 2.7 .1.5 1 2.2 .5 2.7 .8 2.2 .6.6 1.5 2.7-.9 2.7-.3 2.7-.1 2.7 .1 2.8 1.3 2.6 .1.1 2.2 1.3 2.2.9 1 .5-1 2.2-1.3.5-.9.1-.2-.1-2.1-.6-.9.6-1.3 1.5-.5 1.2-1.8 2.1-.2.7-.5 2.7-1.5 1.5-.9 1.2-1.3 2.7 0 0-1.9 2.7-.4.3-1.7 2.5-.5.8-1.8 1.9-.5.6-2.2 1.6-.6.5-1.7 2.1-2.2.6-.1 0-2.2 1.7-1 1 .4 2.8 .6.6 1.2 2.1 1.1 2.7 0 0 1.7 2.7zM117.5 127.5l-1.7-2.7-.1-2.7 1.8-2.7 .1-.2 2.3-1.9 1 2.1 .1 2.7-.2 2.7-.2 2.7-.7 1.1-2.3-.9zM123.5 111.2l.8-1.2 2.3.5 .6.7-.6.5-2.3.1zM130.7 108.5l-1.5-2.7 1.9-.6 2.2.2 .2.4-.1 2.7-.1.1-2.2.3zM130.6 86.7l-.5-2.7 1-1.6 2.2-.4 2.3-.2 1.9 2.2-1.9 1.3-2.3 1.2-.5.2-1.7 1zM128 73.1l.3-2.7-1.7-1.6-.5-1.1 0-2.7-1.8-2.1-.3-.6-.2-2.7 .5-1.6 1.4-1.2-1.4-1.4-2.2.2-2.2-1.1-.4-.4-.3-2.7 .7-1.1 1.4-1.6 .8-.8 2.2-1.7 .9-.2 1.4-.4 1.5.4 .7 2.7-.8 2.7-1.4 2.3-.6.4 .6.9 2.2-.6 2.3.3 2.2 1.7 .2.4-.1 2.8 2.2 1.2 1.6 1.5-.5 2.7-1.1 1.8-1.3.9 1.3 2 .3.7-.1 2.7-.2.2-2.3.7-2.2.3-2.3-.3zM56.3 56.8l-1.6-1.2-1.9-1.5-.3-.8-.4-1.9 .4-.8 2.2-.7 1.1 1.5 1.2 1.4 .7 1.3-.4 2.7-.3.3zM65.2 46l-1.5-2-.6-.8-1.6-2.6-.1-.1-.8-2.7 .8-2.7 .1-.1 .1.1 2.1 1.1 1.6 1.6 .7.9 1.1 1.8 1.1 1.9 1 .8-.2 2.8-.8.8-2.2-.2zM114.8 46l-1.2-2.8 1.1-2.7 .7-.8 2.2-.9 2.3.9 .3.8-.3 2.7 0 .2-1.4 2.6-.9 1.5-2.2.1zM71.4 40.5l-.9-1.4-.4-1.3-1.2-2.7 1.6-2.4 .3-.3 1.9-1.2 2.3-.8 2 2 0 2.7 .2 1.8 .2.9-.2.2-1.7 2.5-.5.3-2.3.7zM80.8 37.8l-1.4-1.7-1.6-1-.4-2.7 .1-2.8 1.9-1.5 2.3-.8 .5-.4 1.7-.7 .7.7 1.6 2.7 0 .2 .2 2.6 .1 2.7-.3.6-1.7 2.1-.6.3-2.2 0zM92.7 37.8l-2-2.2-.4-.5-.3-2.7-.3-2.8 1-1.9 2.2 1.3 .4.6 .7 2.8 .6 2.7-1.3 2.7-.4.1zM106.1 32.4l.3-.3 2.2.1 .1.2-.1 1-2.2-.2z" clip-path="url(#e_pfd47c9110e)" style="fill: #443983; stroke: #443983; stroke-width: 0.6"/>
<path d="M83.9 150.6l2.3-.4 1.5-.9 .7-.4 2.3.2 2.2-.3 2.3-.5 2.2.3 2.2-.6 2-1.4 .3-.4 2.2-2.3 .1-.1 2.2-1.6 2.2.8 2.3-.4 2-1.5 .2-.2 2.3-.7 2.2-1.1 .4-.7 1.9-2.6 .2-.1 2-.6 2.2-1.6 .4-.5 1.4-2.7 .5-.7 1.5-2.1 .4-2.7 0-2.7 .3-.7 2.3-1 1.9-1 .3-.3 2.1-2.4 .2-.2 2.2-1.9 .7-.7 1.3-2.7 .3-1.1 .3-1.6 .2-2.7-.2-2.7-.2-2.8 .3-2.7 .2-2.7-.5-2.7 .3-2.7 1.3-2.8 .5-.6 1.3-2.1 .5-2.7-1.8-1.9-.9-.8-.5-2.7 1-2.8-.2-2.7-.4-2.7 0-2.7 0-2.7-1-2.7-.2-.4-1.5-2.4-.3-2.7-.5-.9-1.7-1.8-.5-.3-2.3-1.9-.3-.5-.4-2.7-.8-2.8-.7-.6-2.3-.9-2.2-.6-.7-.6-.7-2.7-.5-2.7-.4-.6-2.2-1.4-2.2-.6-1.3-.1-1-.1-2.2-.1-2.3-2.6 0 0-1-2.7-1.2-2.1-1.2-.6-1.1-.4-2.2-.7-1.6-1.6-.7-.7-2.2.1-1 .6-1.3.7-2.2 1.2-2.2.1-2.2-2-.1-.1-2.2-1.7-2.3.7-2.2.7-2.3-.7-2.2.3-2.3.5-2.2.1-.7.2-1.5.4-2.3.3-2.2 1.6-.6.4-1.7 1-2.2 0-2 1.7-.3 1.2-.3 1.5-1.9 1.2-2.3.3-1.3 1.3-.9 2.7 0 .2-1.6 2.5-.7.4-2.2.9-1.3 1.4-.9 1.9-.4.8-1.6 2.8-.3.4-1.8 2.3-.4 1.3-.3 1.4 .1 2.7-2.1 2.6-.1.1-.5 2.8-.5 2.7-1.1 2.6-.1.1-1.8 2.7-.4.8-.7 1.9-.3 2.7-1 2.8-.2 1.1-.3 1.6 .3.8 .7 1.9 1.5 2.3 .6.4 1.2 2.7-1.8 1.3-1.1 1.5-1.1 1.7-.7 1 .1 2.7 .6 1.1 .7 1.6-.2 2.7-.5 1.3-.6 1.5 .6.8 2.2 1.5 .7.4 1.6.7 2.2 1.6 .4.4-.1 2.7-.3 1.4-.2 1.3 .2 1.6 .4 1.2 1.9 2.3 .2.4 1.8 2.7 .2.8 .3 1.9 .5 2.7 1.5.9 2.2.6 1.9 1.3 .3.4 1.8 2.3 .5 1 .5 1.7 1.7 2.6 2.3-.1 .4.2 1.8 1.4 .8 1.3 1.5 1.9 2.2.1 2.3-.1 1.7.8 .5.4 2.3.8 2.2-.2 2.2 1 .5.8 1.8 2.6 .2.1zM82.3 146.6l-.6-.6-1.3-2.2-1-2.6-2.2.2-2.2.3-1.9-.6-.4-.2-2.2-.9-2.3.6-2.2-.7-1-1.5-1.3-2.2-2.2-.2-1-.3-1.3-2.2-.1-.5-.6-2.7-1.5-1.2-1.9-1.6-.4-.1-2.2-.7-2.1-1.9 .1-2.7 .1-2.7-.3-1-1.5-1.7-.8-.4-2.2-1.3-.5-1.1 .5-2.2 .1-.5 1.4-2.7 .5-2.7-2-.5-2.3-.5-2.2-.5-2-1.2 .5-2.8 1.2-2.7-.9-2.7-1.1-1.1-.6-1.6 .6-1 1.9-1.7 .4-.3 2.2-1.3 2.3-.3 2.2-.6 .5-.3-.5-.6-2.2-1.5-1.6-.6-.7-.1-2.2-1.4-1.5-1.2-.8-1.4-.4-1.3 .4-1.8 .4-.9 1.2-2.8 .2-2.7 .5-1.1 1.8-1.6 .4-.4 1.1-2.3 1.1-2.7 .1-.7 .4-2 1.8-1 1.6 1 .7.4 2.2 1.4 1 .9 1.2 1.2 .7 1.5 .1 2.7-.5 2.7-.3.8-1.1 1.9-.3 2.8-.2 2.7-.4 2.7-.2.9-1 1.8 .4 2.7 .6 1.5 .1 1.3 .4 2.7-.2 2.7-.3 2.1-.2.6 .2.8 .5 1.9 1.7 2.7 .1.1 2.2 2.3 .2.4 .9 2.7 1.1 2.1 .4.6 1.9 1.4 1.1 1.3 1.1 1.6 1.1 1.2 1.2 1 1.4 1.7 .8 2.3 .4.4 1.9.9 2.2 1 .9.8 1.4 1.9 2.2.2 1.6.6 .6.6 2.3 1.5 2.2-.4 2.3-.2 2.2.2 2.3.3 1.1.8 1.1 2 2.3-.9 1.7-1.1 .5-.2 .3.2 1.4 2.7 .5 1.7 .4 1 1.1 2.7 0 2.7-.5 2.7-1 1.1-2.2 1-2.2-.9-2.3.9-1.5.7-.7.2-1.1-.2-1.2-.3-.4.3-1.8.8-2.3.4zM108.1 138.4l-1.7-2.7 0 0-1.1-2.7-1.2-2.1-.6-.6-.4-2.8 1-1 2.2-1.7 .1 0 2.2-.6 1.7-2.1 .6-.5 2.2-1.6 .5-.6 1.8-1.9 .5-.8 1.7-2.5 .4-.3 1.9-2.7 0 0 1.3-2.7 .9-1.2 1.5-1.5 .5-2.7 .2-.7 1.8-2.1 .5-1.2 1.3-1.5 .9-.6 2.1.6 .2.1 .9-.1 1.3-.5 1-2.2-1-.5-2.2-.9-2.2-1.3-.1-.1-1.3-2.6-.1-2.8 .1-2.7 .3-2.7 .9-2.7-1.5-2.7-.6-.6-.8-2.2-.5-2.7-1-2.2-.1-.5-.7-2.7-1.4-2.2-.3-.5-.4-2.7-1.5-1.9-.7-.9-1.6-1.9-.5-.8-1.7-2.2-.7-.5-1.6-1.9-.7-.8-1.5-1.6-1.3-1.1-1-1.7-2.2-.6-1-.5-1.3-.9-2.2-1.2-1.8-.6-.5-.3-2.1.3-.1 0-2.2.2-2.3 0-.8-.2-1.4-.6-2.3-1.1-2.2 1.6-.2.1-2.1.6-2.2.2-2.3-.1-2.2 2 0 0-2.2.9-2.3 1.3-.7.6-1.5.9-1.7 1.8-.6.4-2.2-.1-1.7 2.4-.6.7-2.2 1.4-.4.6-.6 2.7-1.2 2.8-.1 0-2.2.9-1.7-.9-.6-.3-2.2-1.2-1.4-1.3-.8-.7-1.4-2-.8-2.7 1.2-2.7 1-1.9 .6-.8 1.6-2.3 .3-.5 1.9-2.2 2.3 0 1.6-.5 0-2.7 .2-2.7 .4-1 2.3-1.1 2.2.6 1.6-1.2 .4-2.8 .3-.5 2.2-1.1 2.3-.6 .5-.5 1.7-1.3 2.3-.5 1.9-.9 .3-.1 2.2-.3 2.3-.6 2.2-.3 2.3 1 2.2-.2 2.3-1 2.2 1.4 .1.1 1.9 2.7 .3.4 2.2-.1 .4-.3 1.8-1.2 2.1-1.5 .2-.1 .3.1 1.9.8 2.3 1.3 2.2.2 .6.4 1.7 1.9 .3.8 .6 2.8 .7 2.7 .6.8 2.3-.6 .7-.2 1.5-.3 2.3 0 .7.3 1.5 1 1 1.7 .2 2.7 .4 2.7 .6.4 2.3-.1 2.2.2 2 2.3 .3 2.6 0 .1 .5 2.7 1.7.8 2.3 1.7 .2.2 .5 2.7 1.5 2.5 .2.3 1.3 2.7-.3 2.7-.5 2.7 .9 2.7 .2 2.7-1.8 2.1-1.1.7-.7 2.7 1.8.4 2.3 1.2 1.3 1.1-.3 2.7-1 1.5-1.1 1.2-1.2 1.8-.8 1-.6 2.7-.2 2.7-.2 2.7 1.2 2.7 .6 1.3 .4 1.5 .2 2.7-.5 2.7-.1.4-.7 2.3-1.5 1.9-1.3.8-1 1-1.8 1.8-.4.2-2.3.6-1.6-.8-.6-.4-2.3-.6-.8 1 .8 1.8 .5.9 1 2.7 .2 2.7-1.3 2.7-.4.6-.8 2.2-1.4 2-2.2.5-2.3-.1-.3.3-.8 2.7-1.1 1.4-2.3.4-1.3.9-.9.6-2.3.1zM91.4 127.5l-.7-.2-2.3-.2-2.2-.1-2.3-.1-2.2-.4-2.3-1-1.6-.7-.6-.2-2.2-1-1.7-1.5-.6-.4-2.2-1.2-1-1.1-1.3-1.5-1.1-1.2-1.1-1.2-1.4-1.6-.9-1-1.4-1.7-.8-1.1-1-1.6-1.3-2.5-.1-.2-1.4-2.7-.7-1.6-.6-1.2-.9-2.7-.4-2.7-.1-2.7-.3-1.5-.2-1.2-.2-2.8-.2-2.7 .3-2.7 .3-2.5 .1-.2 .4-2.7 .6-2.8 .9-2.7 .3-1.4 .3-1.3 .5-2.7 1.1-2.7 .3-.2 2.1-2.5 .2-.4 1.2-2.4 1-1.4 1.2-1.3 1.1-1.3 1.3-1.4 .9-.5 2.3-1.4 1-.8 1.2-1 2.3-1.4 .7-.3 1.5-.8 2.2-1.3 2.3-.6 .4-.1 1.8-.3 2.3-.5 2.2-.6 2.3.3 2.2.4 2.3.1 2.2.3 2.2.3 .1 0 2.2 1 2.2 1 1.5.8 .8.4 2.2 1.6 .7.7 1.6 1.3 1.2 1.4 1 1.1 2 1.6 .3.3 1.5 2.4 .7 1 1.4 1.8 .9 1.6 .4 1.1 1.2 2.7 .6 1.3 .5 1.4 .9 2.7 .7 2.7 .1.6 .7 2.2 .7 2.7 0 2.7 0 2.7-.1 2.7-.1 2.8 .4 2.7-.3 2.7-1.1 2.7-.2.2-1 2.5-1 2.8-.2.5-1 2.2-1.2 1.7-.6 1-1.6 2.7-.1.1-1.9 2.6-.3.4-1.8 2.4-.5.5-2.2 2-.2.2-2.1 1.7-1.3 1-.9.5-2.3 1.1-1.8 1.1-.4.4-2.3 1.4-2.2.4-2 .5-.2.1-2.3.6z" clip-path="url(#e_pfd47c9110e)" style="fill: #3d4d8a; stroke: #3d4d8a; stroke-width: 0.6"/>
<path d="M83.9 155.4l1.1-.7 1.2-.5 1.6-2.2 .6-.4 2.3 0 2.2-.2 2.3-.2 2.2 0 2.2-.4 2.3-.8 1-.7 1.2-1 2.3-1.5 1.5-.2 .7-.2 2.3-.4 2.2-2.2 0 0 2.3-1.2 2.2-.3 1.6-1.2 .7-1.2 1.1-1.5 1.1-.7 2.2-.8 1.1-1.2 1.2-2.1 .4-.6 1.8-2.2 .6-.5 .8-2.8 .3-2.7 .6-1 2.2-1.5 .3-.2 2-2.1 .5-.6 1.7-1.5 1.8-1.2 .5-.5 2-2.3 .2-1.9 .1-.8 .5-2.7-.3-2.7-.3-1.8-.1-.9 0-2.8 .1-.6 .5-2.1 .4-2.7-.5-2.7 .4-2.7 1.1-2.8 .4-.5 1.5-2.2 .7-2.7 0 0 0 0-2.2-2.4-.4-.3-.9-2.7 .7-2.8-.1-2.7-.1-2.7 .3-2.7-.2-2.7-1.3-2.7-.3-.4-1.2-2.4-.3-2.7 .4-2.7-1.1-.6-2.3-.8-2.2-1.2-.1-.1-1.2-2.7-.2-2.8-.8-1.3-1.7-1.4-.5-.2-2.3-.6-1.8-1.9-.3-2.7-.1-.6-.9-2.1-1.4-1.1-2.2-.6-2.2-.4-2.3-.2-1.8-.5-.4-.2-1.3-2.5-1-2.2-.2-.5-2-2.7 0 0-2.3-.7-2.2-1.9-.2-.1-1.7-2.8-.4-.3-.4.3-1.8 1.2-1.4 1.6-.9.5-2.2 1.5-2.2.2-2.1-2.2-.2-.3-2.2-2-2.3.5-2.2 1.1-2.3-.5-2.2.2-2.3.9-2.2-.1-.9.2-1.3.1-.8-.1-1.5-.6-2.2-.4-.7 1-1.3 2.7-.3.2-2.2-.2-.1 0-2.2-2-.8-.7 .2-2.8 .6-2.5 .2-.2 2.1-1.1 2.2-.1 .8-1.5-.8 0-2.2 0-2.3 2.7-2.2 0-2.3 2.7-1.6 0 1.6 2.3 .6.5 1.3 2.7 .4 1.8 .3.9 .2 2.7-.5 1-2.3.8-2.2.7-.3.2-1.1 2.8-.9 2.3-.3.4-1.9 1.1-2.2.9-.8.7-.9 2.7-.6 1.4-.6 1.3-1.6 2.5-.4.3-1.9 2.2-.3.5 .1 2.7-.9 2.7-1.1 1.8-.4.9 0 2.8-1 2.7-.9 2-.3.7-1.8 2.7-.1.5-.5 2.2-.7 2.7-.9 2.8-.2 1.1-.2 1.6 .2.5 .9 2.2 1.4 2 .5.7 .6 2.7-1.1 1.5-1 1.3-1.3 1.8-.9.9-1.3 2.1-1 .6-1.3 2.4-2.2-1.5-1.7-.9-.5-.1 0 .1 0 2.7 2.2 2.7 0 .3 .2-.3 2-2.6 2.3.2 2.2 1.5 .2.9-.2.4-1.7 2.4-.2 2.7 1.9.5 2.3.4 2.2.8 1.8 1 .5.7 .7 2-.4 2.7-.3 2.4-.1.4 .1.1 1.6 2.6 .6 1.2 1 1.5 1.3 2.2 .2.5 .3 2.7 .2 2.8 1.5.1 2.3.2 2.2 1 1 1.4 1.2 2.7 0 .2 .8 2.5 1.5 2.1 2.2 0 2.3.2 .5.4 1.7 2.5 .2.2 2.1 2.2 2.2-.4 2.3.3 1.1.7 1.1.6 2.3.5 2.2-.4 2.2 1.6 .3.4 1.9 2.7 .1.2 1.8 2.5zM81.9 149.3l-.2-.1-1.8-2.6-.5-.8-2.2-1-2.2.2-2.3-.8-.5-.4-1.7-.8-2.3.1-2.2-.1-1.5-1.9-.8-1.3-1.8-1.4-.4-.2-2.3.1-1.7-2.6-.5-1.7-.5-1-1.8-2.3-.3-.4-1.9-1.3-2.2-.6-1.5-.9-.5-2.7-.3-1.9-.2-.8-1.8-2.7-.2-.4-1.9-2.3-.4-1.2-.2-1.6 .2-1.3 .3-1.4 .1-2.7-.4-.4-2.2-1.6-1.6-.7-.7-.4-2.2-1.5-.6-.8 .6-1.5 .5-1.3 .2-2.7-.7-1.6-.6-1.1-.1-2.7 .7-1 1.1-1.7 1.1-1.5 1.8-1.3-1.2-2.7-.6-.4-1.5-2.3-.7-1.9-.3-.8 .3-1.6 .2-1.1 1-2.8 .3-2.7 .7-1.9 .4-.8 1.8-2.7 .1-.1 1.1-2.6 .5-2.7 .5-2.8 .1-.1 2.1-2.6-.1-2.7 .3-1.4 .4-1.3 1.8-2.3 .3-.4 1.6-2.8 .4-.8 .9-1.9 1.3-1.4 2.2-.9 .7-.4 1.6-2.5 0-.2 .9-2.7 1.3-1.3 2.3-.3 1.9-1.2 .3-1.5 .3-1.2 2-1.7 2.2 0 1.7-1 .6-.4 2.2-1.6 2.3-.3 1.5-.4 .7-.2 2.2-.1 2.3-.5 2.2-.3 2.3.7 2.2-.7 2.3-.7 2.2 1.7 .1.1 2.2 2 2.2-.1 2.2-1.2 1.3-.7 1-.6 2.2-.1 .7.7 1.6 1.6 2.2.7 1.1.4 1.2.6 1.2 2.1 1 2.7 0 0 2.3 2.6 2.2.1 1 .1 1.3.1 2.2.6 2.2 1.4 .4.6 .5 2.7 .7 2.7 .7.6 2.2.6 2.3.9 .7.6 .8 2.8 .4 2.7 .3.5 2.3 1.9 .5.3 1.7 1.8 .5.9 .3 2.7 1.5 2.4 .2.4 1 2.7 0 2.7 0 2.7 .4 2.7 .2 2.7-1 2.8 .5 2.7 .9.8 1.8 1.9-.5 2.7-1.3 2.1-.5.6-1.3 2.8-.3 2.7 .5 2.7-.2 2.7-.3 2.7 .2 2.8 .2 2.7-.2 2.7-.3 1.6-.3 1.1-1.3 2.7-.7.7-2.2 1.9-.2.2-2.1 2.4-.3.3-1.9 1-2.3 1-.3.7 0 2.7-.4 2.7-1.5 2.1-.5.7-1.4 2.7-.4.5-2.2 1.6-2 .6-.2.1-1.9 2.6-.4.7-2.2 1.1-2.3.7-.2.2-2 1.5-2.3.4-2.2-.8-2.2 1.6-.1.1-2.2 2.3-.3.4-2 1.4-2.2.6-2.2-.3-2.3.5-2.2.3-2.3-.2-.7.4-1.5.9-2.3.4zM48 143.8l.5 0-.5-.1-.1.1zM92.9 128.2l2.3-.6 .2-.1 2-.5 2.2-.4 2.3-1.4 .4-.4 1.8-1.1 2.3-1.1 .9-.5 1.3-1 2.1-1.7 .2-.2 2.2-2 .5-.5 1.8-2.4 .3-.4 1.9-2.6 .1-.1 1.6-2.7 .6-1 1.2-1.7 1-2.2 .2-.5 1-2.8 1-2.5 .2-.2 1.1-2.7 .3-2.7-.4-2.7 .1-2.8 .1-2.7 0-2.7 0-2.7-.7-2.7-.7-2.2-.1-.6-.7-2.7-.9-2.7-.5-1.4-.6-1.3-1.2-2.7-.4-1.1-.9-1.6-1.4-1.8-.7-1-1.5-2.4-.3-.3-2-1.6-1-1.1-1.2-1.4-1.6-1.3-.7-.7-2.2-1.6-.8-.4-1.5-.8-2.2-1-2.2-1-.1 0-2.2-.3-2.2-.3-2.3-.1-2.2-.4-2.3-.3-2.2.6-2.3.5-1.8.3-.4.1-2.3.6-2.2 1.3-1.5.8-.7.3-2.3 1.4-1.2 1-1 .8-2.3 1.4-.9.5-1.3 1.4-1.1 1.3-1.2 1.3-1 1.4-1.2 2.4-.2.4-2.1 2.5-.3.2-1.1 2.7-.5 2.7-.3 1.3-.3 1.4-.9 2.7-.6 2.8-.4 2.7-.1.2-.3 2.5-.3 2.7 .2 2.7 .2 2.8 .2 1.2 .3 1.5 .1 2.7 .4 2.7 .9 2.7 .6 1.2 .7 1.6 1.4 2.7 .1.2 1.3 2.5 1 1.6 .8 1.1 1.4 1.7 .9 1 1.4 1.6 1.1 1.2 1.1 1.2 1.3 1.5 1 1.1 2.2 1.2 .6.4 1.7 1.5 2.2 1 .6.2 1.6.7 2.3 1 2.2.4 2.3.1 2.2.1 2.3.2 .7.2zM84.7 124.8l-.8-.1-2.2-.6-2.3-.9-2.2-.9-.4-.2-1.8-1.1-2.3-1.5-.3-.1-1.9-1.5-1.1-1.2-1.2-1.2-1.5-1.6-.7-.8-1.5-1.9-.8-1.1-1.1-1.6-1.1-1.9-.4-.8-1.3-2.7-.6-1.4-.6-1.4-.9-2.7-.6-2.7-.1-.7-.3-2-.4-2.7-.2-2.8-.1-2.7 .2-2.7 .3-2.7 .4-2.7 .1-.3 .6-2.5 .8-2.7 .8-2.7 0-.3 .9-2.4 1.4-2.3 .2-.4 1.7-2.7 .3-.7 1.6-2.1 .7-.7 1.7-2 .5-.6 2.3-1.8 .3-.3 1.9-1.4 1.9-1.3 .4-.3 2.2-1.1 2.2-1.1 .6-.2 1.7-.6 2.2-.5 2.3-.4 2.2-.4 2.3.1 2.2.2 2.3.3 2.2.4 2.2.6 .7.3 1.6.6 2.2 1.1 1.8 1 .5.3 2.2 1.7 .9.7 1.4 1.2 1.4 1.5 .8.9 1.6 1.8 .7.9 1.3 1.9 .9 1.4 .7 1.3 1.4 2.7 .2.4 1 2.3 .9 2.7 .3 1 .5 1.7 .6 2.8 .5 2.7 .2 2.7 .1 2.7-.1 2.7-.1 2.8-.1 2.7-.5 2.7-.9 2.7-.2.6-.7 2.1-1 2.8-.5 1-.9 1.7-1.4 2.4-.1.3-1.8 2.7-.3.5-1.9 2.2-.4.6-2.1 2.2-.1.1-2.3 1.8-1 .8-1.2.9-2.3 1.2-1 .6-1.2.7-2.3 1-2.2.7-1.6.3-.6.2-2.3.3-2.2 0-2.3-.1-2.2-.2zM28.7 108.5l-.9-1.7 0 1.7 .5.5zM155.6 95.1l.2-.2 0-1.4-.3 1.4zM153.5 65.5l0-.5 0-2.7-2.2-2.7 0-.8-.5.8-.6 2.7 1.1 1.2 1.6 1.5zM146.8 48.7l2.2.5 0-.5-2.2-2.7 0-1-.4 1 .3 2.7zM88.4 5.4l2.3.1 .2-.3-.2 0-2.3 0-.5 0z" clip-path="url(#e_pfd47c9110e)" style="fill: #355f8d; stroke: #355f8d; stroke-width: 0.6"/>
<path d="M81.7 160.2l2.2 0 2.3 0 2.2 0 1.1 0-1-2.8 2.2-1.6 2.2.1 2.3.4 2.2 0 2.2-.9 2.3.6 1 1.4-1 1.8-1.6 1 1.6 0 2.2 0 2.3 0 2.2-2.8 2.3 0 2.2 0 2.3-2.7 1.9 0-1.9-1-2.1-1.7 0-2.7 .8-2.7 1.3-1.1 2.2-.1 2.3.4 1.8-2 .2-2.7 .2-.3 2.2-.3 2.3.1 .7-2.2 .8-2.7 .7-1.2 2.3-1.1 1.8-.4-.7-2.7-.1-2.8 1.2-2.3 .7-.4 1.6-.9 1.6-1.8 .6-.7 2.3-.6 2.2.7 .6.6 1.2 2.7 .1 2.7-1 1.7 1.4-1.7 2.2-2.7 0-2.7 2.2-2.7 0-2.7 2.3-2.8 0-1-2.3-.3-1.4-1.4-.8-.8-.9-1.9-1.3-2.2-.2-.5-.4-2.7 .4-2.8 .2-.6 .9-2.1 .4-2.7-.5-2.7 .4-2.7 .9-2.8 .1 0 2.2-1.2 2.3-1.3 2.2.8 2.1 1.7-1.3 2.8-.8 1-.8 1.7-.4 2.7 1.1 2.7 .1.1 0-.1 2.1-2.5-.1-.2 .3-1.4 0-1.3 0-2.7 0-2.8 0-2.7 0-2.7 0-2.7 0-.8-1.6.8-.7.3-2.2.9-2.3-1-.8-.2-1.4-.6-1.1-2.1 .7-2.8 .4-2.6 0-.1 1.8-2.7 .4-.2 1 .2 1.3.4 2 2.3 .2.2 .3.2-.3-.4 0-2.7 0-2.2-.6-.5-1.6-1.5-1.1-1.2 .6-2.7 .5-.8 0-2 0-2.7-2.3-2.7 0-2.2-2.2-.5-.1 0-.3-2.7 .4-1 0-1.8-1.7-2.1-.5 2.1 0 .1-1.7 2.7-.6.6-2.2.6-2.3.2-1.3-1.4-.2-2.8 .8-2.7-1.5-2.6-2.3.1-2.2.1-.8-.3-1.5-1.4-.4-1.3 .4-2.7 0-1.1 .2-1.7-.2-.5-2.2-1.8-2.3.1-2.2.3-2.2.2-2.3-.6-.6-.4-1.6-2.2-.3-.5-.2-2.7-.3-2.7 .8-1.6 2.2-.6 2.3.7 2.2-.3 2.2-.2 2.1 2 .2.4 1.9 2.3 .3.5 .8.4-.8-.9-2.2-2.7-2.3-2.8-2.2 0-2.2-2.7-2.3 0-2.2 0-2.3-2.7-2.2 0-2.3 0-2.2-2.7-2.3 0-2.2 0-2.3 0-1.2 0 1.2 2.1 .4.6 .1 2.7-.5.9-.6 1.8-1.6 1.9-2.2 0-1.4-1.9-.8-2.7-.1-.4-.6-2.3 .6-.8 1.3-1.9 1-1.2 1.3 0-1.3-1.5-2.3 0-2 0-.2.3-2.3-.1-.5-.2-1.7 0-2.3 2.7-2.2 0-2.3 0-2.2 0-2.2 0 2.2 1 2.2 1.2 .9.5-.3 2.7-.6.4-2.2.3-2.2.2-1.2-.9 0-2.7 1.1-2.7-2.2 0-2.2 2.7-1.5 0-.8 1.5-2.2.1-2.1 1.1-.2.2-.6 2.5-.2 2.8 .8.7 2.2 2 .1 0 2.2.2 .3-.2 1.3-2.7 .7-1 2.2.4 1.5.6 .8.1 1.3-.1 .9-.2 2.2.1 2.3-.9 2.2-.2 2.3.5 2.2-1.1 2.3-.5 2.2 2 .2.3 2.1 2.2 2.2-.2 2.2-1.5 .9-.5 1.4-1.6 1.8-1.2 .4-.3 .4.3 1.7 2.8 .2.1 2.2 1.9 2.3.7 0 0 2 2.7 .2.5 1 2.2 1.3 2.5 .4.2 1.8.5 2.3.2 2.2.4 2.2.6 1.4 1.1 .9 2.1 .1.6 .3 2.7 1.8 1.9 2.3.6 .5.2 1.7 1.4 .8 1.3 .2 2.8 1.2 2.7 .1.1 2.2 1.2 2.3.8 1.1.6-.4 2.7 .3 2.7 1.2 2.4 .3.4 1.3 2.7 .2 2.7-.3 2.7 .1 2.7 .1 2.7-.7 2.8 .9 2.7 .4.3 2.2 2.4 0 0 0 0-.7 2.7-1.5 2.2-.4.5-1.1 2.8-.4 2.7 .5 2.7-.4 2.7-.5 2.1-.1.6 0 2.8 .1.9 .3 1.8 .3 2.7-.5 2.7-.1.8-.2 1.9-2 2.3-.5.5-1.8 1.2-1.7 1.5-.5.6-2 2.1-.3.2-2.2 1.5-.6 1-.3 2.7-.8 2.8-.6.5-1.8 2.2-.4.6-1.2 2.1-1.1 1.2-2.2.8-1.1.7-1.1 1.5-.7 1.2-1.6 1.2-2.2.3-2.3 1.2 0 0-2.2 2.2-2.3.4-.7.2-1.5.2-2.3 1.5-1.2 1-1 .7-2.3.8-2.2.4-2.2 0-2.3.2-2.2.2-2.3 0-.6.4-1.6 2.2-1.2.5-1.1.7-.4-.7-1.8-2.5-.1-.2-1.9-2.7-.3-.4-2.2-1.6-2.2.4-2.3-.5-1.1-.6-1.1-.7-2.3-.3-2.2.4-2.1-2.2-.2-.2-1.7-2.5-.5-.4-2.3-.2-2.2 0-1.5-2.1-.8-2.5 0-.2-1.2-2.7-1-1.4-2.2-1-2.3-.2-1.5-.1-.2-2.8-.3-2.7-.2-.5-1.3-2.2-1-1.5-.6-1.2-1.6-2.6-.1-.1 .1-.4 .3-2.4 .4-2.7-.7-2-.5-.7-1.8-1-2.2-.8-2.3-.4-1.9-.5 .2-2.7 1.7-2.4 .2-.4-.2-.9-2.2-1.5-2.3-.2-2 2.6-.2.3 0 2.5 0 2.7 0 1 .9 1.7-.4.5 1.7 2.2 0 2.4 1.1-2.4 1.2-1.5 2.2-.7 2.3-.3 2.2 1.4 .8 1.1 .1 2.7-.6 2.8-.2 2.7 1.3 2.7 .5 2.7 .4 1.2 .7 1.5-.5 2.8-.2.1-2-.1-.3-.1-.1-.1 .1.2 0 2.7 2.3 2.7 2.2 2.7 1.9 2.3-1.5-2.3 .8-2.7 1.1-1.1 2.2-1.2 1.4-.4 .9-.2 .2.2 .8 2.7-1 1.9-.4.8-1.9 1.8-2.1.9-.1.1 2.1 2.6 .1-.1 .5.1 1.8 0 2.2 2.8 2.2 2.7 0-.1 .2-2.6 2.1-2.1 1.2-.7 1-.5 2.3.4 .1.1 .5 2.8 .4 2.7-1 2.2-.4.5 .4 0 2.2 2.7 2.3 0 2.2 2.7 2.3 0 1.6 0-1.6-2.5-2.3.1-2-.3-.2-.1-.9-2.6 .9-.8 2.2-1.9 0 0 0 0 2.2 2.7 .1.3 2.2.2 .4-.5 1.9-1.2 2.2-.7 2 1.9 .2.8 .6 1.9 .9 2.7-.7 2.8zM107.3 154.7l1.3-1.9 2 1.9-2 1.2zM145.1 56.8l-.3-2.7 2-1.1 2.2.7 .4.4-.4 2.7 0 0-2.2 1.3zM110 16l-1.4-2.5 0-.2 0 0 2.3-2.5 .5 2.5 0 2.7-.5.2zM136.7 139.8l1.1-1.4 2.3-2.7 0-.4-1.4.4-.9.2-2-.2-.2 0-.1 0 .1.1 .2 2.6zM86.2 125l2.2.2 2.3.1 2.2 0 2.3-.3 .6-.2 1.6-.3 2.2-.7 2.3-1 1.2-.7 1-.6 2.3-1.2 1.2-.9 1-.8 2.3-1.8 .1-.1 2.1-2.2 .4-.6 1.9-2.2 .3-.5 1.8-2.7 .1-.3 1.4-2.4 .9-1.7 .5-1 1-2.8 .7-2.1 .2-.6 .9-2.7 .5-2.7 .1-2.7 .1-2.8 .1-2.7-.1-2.7-.2-2.7-.5-2.7-.6-2.8-.5-1.7-.3-1-.9-2.7-1-2.3-.2-.4-1.4-2.7-.7-1.3-.9-1.4-1.3-1.9-.7-.9-1.6-1.8-.8-.9-1.4-1.5-1.4-1.2-.9-.7-2.2-1.7-.5-.3-1.8-1-2.2-1.1-1.6-.6-.7-.3-2.2-.6-2.2-.4-2.3-.3-2.2-.2-2.3-.1-2.2.4-2.3.4-2.2.5-1.7.6-.6.2-2.2 1.1-2.2 1.1-.4.3-1.9 1.3-1.9 1.4-.3.3-2.3 1.8-.5.6-1.7 2-.7.7-1.6 2.1-.3.7-1.7 2.7-.2.4-1.4 2.3-.9 2.4 0 .3-.8 2.7-.8 2.7-.6 2.5-.1.3-.4 2.7-.3 2.7-.2 2.7 .1 2.7 .2 2.8 .4 2.7 .3 2 .1.7 .6 2.7 .9 2.7 .6 1.4 .6 1.4 1.3 2.7 .4.8 1.1 1.9 1.1 1.6 .8 1.1 1.5 1.9 .7.8 1.5 1.6 1.2 1.2 1.1 1.2 1.9 1.5 .3.1 2.3 1.5 1.8 1.1 .4.2 2.2.9 2.3.9 2.2.6 .8.1zM83 122.1l-1.3-.4-2.3-.8-2.2-1.1-.8-.4-1.4-.9-2.3-1.5-.4-.3-1.8-1.6-1.2-1.2-1.1-1.1-1.3-1.6-.9-1.2-1.1-1.5-1.2-1.9-.5-.8-1.3-2.7-.4-.9-.8-1.9-.9-2.7-.6-2.1-.1-.6-.5-2.7-.4-2.7-.2-2.8 0-2.7 .1-2.7 .3-2.7 .4-2.7 .4-1.9 .2-.9 .9-2.7 1-2.7 .2-.5 1-2.2 1.2-2.2 .3-.5 1.8-2.7 .2-.3 2-2.5 .2-.2 2.3-2.3 .2-.2 2-1.7 1.5-1 .8-.5 2.2-1.3 1.9-.9 .3-.2 2.3-.8 2.2-.6 2.3-.5 2.2-.2 2.3 0 2.2.1 2.3.3 2.2.6 2.2.7 1.4.6 .9.3 2.2 1.2 1.9 1.2 .4.3 2.2 1.7 .8.7 1.5 1.4 1.2 1.3 1 1.2 1.2 1.6 1.1 1.5 .7 1.2 1.5 2.7 0 0 1.3 2.7 1 2.6 0 .1 .8 2.7 .6 2.8 .5 2.7 .3 2.7 0 .6 .1 2.1 0 2.7-.1.7-.2 2.1-.3 2.7-.6 2.7-.7 2.7-.4 1.4-.5 1.3-1.1 2.8-.7 1.3-.7 1.4-1.5 2.5-.1.2-2 2.7-.2.2-2.2 2.5 0 0-2.3 2.1-.8.7-1.4 1-2.3 1.5-.3.2-1.9 1-2.3.9-2.2.8-.2 0-2 .5-2.3.3-2.2.1-2.3 0-2.2-.2-2.3-.4zM27.8 95.8l2.2 1.5 1.3-2.4 1-.6 1.3-2.1 .9-.9 1.3-1.8 1-1.3 1.1-1.5-.6-2.7-.5-.7-1.4-2-.9-2.2-.2-.5 .2-1.6 .2-1.1 .9-2.8 .7-2.7 .5-2.2 .1-.5 1.8-2.7 .3-.7 .9-2 1-2.7 0-2.8 .4-.9 1.1-1.8 .9-2.7-.1-2.7 .3-.5 1.9-2.2 .4-.3 1.6-2.5 .6-1.3 .6-1.4 .9-2.7 .8-.7 2.2-.9 1.9-1.1 .3-.4 .9-2.3 1.1-2.8 .3-.2 2.2-.7 2.3-.8 .5-1-.2-2.7-.3-.9-.4-1.8-1.3-2.7-.6-.5-1.6-2.3-.6 0-1.9 2.4 1.2.4 .7.3 1.6 2.4 .1 2.7-1.7.7-2.3-.5-.2-.2-.1-2.7-.2-2.1-1.7 2.1-2.2 0-2.3 2.7-2.2 2.7-2.3 2.7-1.1 1.4 .8 1.4 .3.2 1.9 2.5 .4 1.7 .1 1 .1 2.7-.2.7-1.5 2-.8.7-2.2.2-2.3.2-1-1.1-1.2-1.5-.6-.5-1.7 2 0 2.8-2.2 2.7 0 1.1 .2-1.1 2-2.5 .6-.2 1.7-1.1 .8 1.1 1.4 1.6 .6 1.1 .5 2.7-1.1 2.4-.2.3-.5 2.7-.1 2.8-1 2.7-.4.7-1.6 2-.7 2-.2.7-.5 2.7-1.5 2.6-.1.1-1.6 2.8-.3 2.7 2 2 .3.7 1.9 2 .5.7 .7 2.7-1.2 1.6-.9 1.2-1.3 1.3-2.3 1.4 0 0-2.2.7-2.2-.4 0 2.3 .5.1zM49.9 32.4l-1.9-.4-1.5-2.4 1.5-1.7 2.3-.8 1.8 2.5-1.7 2.8-.1 0zM27 81.3l.3-2.7-.7-2.7-.3-2.8-.7-2.4 0 2.4 0 2.8 0 2.7 0 2.7 0 2.3zM29 59.6l1-1.6 .6-1.2 1-2.7 .5-2.4-2.1 2.4 0 2.7-2.2 2.8 0 2.6zM140.1 37.5l2.2.1 0-2.5-2.2-2.7-2.3-2.8-1.1-1.3 .5 1.3 .5 2.8 .1 1.4 .1 1.3z" clip-path="url(#e_pfd47c9110e)" style="fill: #2d708e; stroke: #2d708e; stroke-width: 0.6"/>
<path d="M75 160.2l2.2 0 2.2 0 .8 0 .7-2.8-.9-2.7-.6-1.9-.2-.8-2-1.9-2.2.7-1.9 1.2-.4.5-2.2-.2-.1-.3-2.2-2.7 0 0 0 0-2.2 1.9-.9.8 .9 2.6 .2.1 2 .3 2.3-.1 1.6 2.5 .6 0zM75.7 157.4l1.5-1.8 .3 1.8-.3.7zM90.7 160.2l2.2 0 2.3 0 2.2 0 2.2 0 .7 0 1.6-1 1-1.8-1-1.4-2.3-.6-2.2.9-2.2 0-2.3-.4-2.2-.1-2.2 1.6 1 2.8zM108.6 155.9l2-1.2-2-1.9-1.3 1.9zM115.4 153.7l1.9 1 .3 0 2.3-2.7 2.2 0 2.2-2.7 2.3 0 2.2-2.7 2.3-2.8 2.2-2.7-.1 0 .1-.1 .1.1 2.2 0 1.1-1.3-.9-1.4-.2-2.6-.1-.1 .1 0 .2 0 2 .2 .9-.2 1.4-.4 0-2.3 2.2-2.7 .9-1.1 1-1.7-.1-2.7-1.2-2.7-.6-.6-2.2-.7-2.3.6-.6.7-1.6 1.8-1.6.9-.7.4-1.2 2.3 .1 2.8 .7 2.7-1.8.4-2.3 1.1-.7 1.2-.8 2.7-.7 2.2-2.3-.1-2.2.3-.2.3-.2 2.7-1.8 2-2.3-.4-2.2.1-1.3 1.1-.8 2.7 0 2.7zM136.3 130.3l1.5-.5 .3.5-.3.5zM59.2 152l1.9 0 .4-.5 1-2.2-.4-2.7-.5-2.8-.1-.1-2.3-.4-1 .5-1.2.7-2.1 2.1-.2 2.6 0 .1 0 0 2.3 0zM45.9 141.1l2.1-.9 1.9-1.8 .4-.8 1-1.9-.8-2.7-.2-.2-.9.2-1.4.4-2.2 1.2-1.1 1.1-.8 2.7 1.5 2.3 .4.4 0 .1zM41.3 130.4l.2-.1 .5-2.8-.7-1.5-.4-1.2-.5-2.7-1.3-2.7 .2-2.7 .6-2.8-.1-2.7-.8-1.1-2.2-1.4-2.3.3-2.2.7-1.2 1.5-1.1 2.4 0 .3 1.9 2.2 .4-1.2 .7-1 1.5-1.2 2.3.3 .5.9-.5 1.6-.3 1.2-1.7 2.7-.3.3-1.8.2 1.8 2.2 0 2.7 2.3 2.7 2.1 2.6 .1.1 .3.1zM83.9 122.4l2.3.4 2.2.2 2.3 0 2.2-.1 2.3-.3 2-.5 .2 0 2.2-.8 2.3-.9 1.9-1 .3-.2 2.3-1.5 1.4-1 .8-.7 2.3-2.1 0 0 2.2-2.5 .2-.2 2-2.7 .1-.2 1.5-2.5 .7-1.4 .7-1.3 1.1-2.8 .5-1.3 .4-1.4 .7-2.7 .6-2.7 .3-2.7 .2-2.1 .1-.7 0-2.7-.1-2.1 0-.6-.3-2.7-.5-2.7-.6-2.8-.8-2.7 0-.1-1-2.6-1.3-2.7 0 0-1.5-2.7-.7-1.2-1.1-1.5-1.2-1.6-1-1.2-1.2-1.3-1.5-1.4-.8-.7-2.2-1.7-.4-.3-1.9-1.2-2.2-1.2-.9-.3-1.4-.6-2.2-.7-2.2-.6-2.3-.3-2.2-.1-2.3 0-2.2.2-2.3.5-2.2.6-2.3.8-.3.2-1.9.9-2.2 1.3-.8.5-1.5 1-2 1.7-.2.2-2.3 2.3-.2.2-2 2.5-.2.3-1.8 2.7-.3.5-1.2 2.2-1 2.2-.2.5-1 2.7-.9 2.7-.2.9-.4 1.9-.4 2.7-.3 2.7-.1 2.7 0 2.7 .2 2.8 .4 2.7 .5 2.7 .1.6 .6 2.1 .9 2.7 .8 1.9 .4.9 1.3 2.7 .5.8 1.2 1.9 1.1 1.5 .9 1.2 1.3 1.6 1.1 1.1 1.2 1.2 1.8 1.6 .4.3 2.3 1.5 1.4.9 .8.4 2.2 1.1 2.3.8 1.3.4zM81.8 119.4l-.1-.1-2.3-.9-2.2-1.1-1.1-.6-1.1-.8-2.3-1.7-.3-.3-1.9-1.8-.9-.9-1.4-1.7-.8-1-1.4-2.1-.4-.6-1.5-2.7-.4-.8-.8-2-1-2.7-.4-1.4-.4-1.3-.5-2.7-.4-2.7-.3-2.8 0-2.7 .1-2.7 .3-2.7 .5-2.7 .7-2.8 0 0 .9-2.7 1.1-2.7 .2-.6 1.1-2.1 1.2-2 .5-.7 1.7-2.5 .3-.2 2-2.3 .5-.5 1.7-1.6 1.4-1.1 .9-.6 2.2-1.4 1.4-.7 .8-.4 2.3-.9 2.2-.7 2.3-.4 2.2-.3 2 0 .3 0 0 0 2.2.1 2.3.4 2.2.6 2.2.7 2 .9 .3.2 2.2 1.2 1.9 1.3 .4.3 2.2 1.9 .6.5 1.7 1.8 .8 1 1.4 1.9 .6.8 1.6 2.7 .1 0 1.3 2.7 .9 2.3 .2.4 .8 2.7 .7 2.8 .5 2.7 .1.4 .2 2.3 .1 2.7 0 2.7-.2 2.8-.1.9-.3 1.8-.6 2.7-.8 2.7-.6 1.8-.3.9-1.3 2.8-.6 1.2-.9 1.5-1.4 2.1-.4.6-1.8 2.3-.4.4-1.9 1.9-.9.8-1.3 1.1-2.3 1.6-.1.1-2.1 1.1-2.3 1.1-1.4.5-.8.3-2.2.5-2.3.4-2.2.1-2.3 0-2.2-.3-2.3-.4zM149 112.6l2.3.3 0-1.7 0-2.1-1.8-.6-.5-.2-1.7-2.5-.3-2.7 1.6-2.8 .4-.3 2.3.1 .2.2 2 1.8 0-1.8 0-2.6-.1-.1-1.1-2.7 .4-2.7 .8-1.7 .8-1 1.3-2.8-2.1-1.7-2.2-.8-2.3 1.3-2.2 1.2-.1 0-.9 2.8-.4 2.7 .5 2.7-.4 2.7-.9 2.1-.2.6-.4 2.8 .4 2.7 .2.5 1.3 2.2 .9 1.9 .8.8zM27.8 92.9l2.2-.7 0 0 2.3-1.4 1.3-1.3 .9-1.2 1.2-1.6-.7-2.7-.5-.7-1.9-2-.3-.7-2-2 .3-2.7 1.6-2.8 .1-.1 1.5-2.6 .5-2.7 .2-.7 .7-2 1.6-2 .4-.7 1-2.7 .1-2.8 .5-2.7 .2-.3 1.1-2.4-.5-2.7-.6-1.1-1.4-1.6-.8-1.1-1.7 1.1-.6.2-2 2.5-.2 1.1 0 1.6-.2.3-.5 2.4-1 2.7-.6 1.2-1 1.6-1.2 2.6 0 .1 0 2.7 0 2.7-2.2 2.7 0 .3 .7 2.4 .3 2.8 .7 2.7-.3 2.7-1.4 2.3 0 .4 0 2.7 0 2.8 0 2.7 0 .3zM26.4 89.5l0-2.8 1.4-1.9 1.8-.8 .4-.1 .6.1 1.7.9 .7 1.8-.7.9-2.3 1.8-.1.1-2.1.6zM149 78.8l2.3 1 2.2-.9 .7-.3 1.6-.8 0-1.9 0-2.8-2-2.3-.3-.2-.2-.2-2-2.3-1.3-.4-1-.2-.4.2-1.8 2.7 0 .1-.4 2.6-.7 2.8 1.1 2.1 1.4.6zM151.2 75.9l.1-.2 0 .2 0 0zM146.8 58.1l2.2-1.3 0 0 .4-2.7-.4-.4-2.2-.7-2 1.1 .3 2.7zM137.8 47.4l2.3-.2 2.2-.6 .6-.6 1.7-2.7 0-.1 .5-2.1-.5-.6-2.3-2.7 0-.2-2.2-.1-2.2-2.4-.1-1.3-.1-1.4-.5-2.8-.5-1.3-1.1-1.4-2.3-2.7-2.2 0-1.5-1.8-.8-.4-.3-.5-1.9-2.3-.2-.4-2.1-2-2.2.2-2.2.3-2.3-.7-2.2.6-.8 1.6 .3 2.7 .2 2.7 .3.5 1.6 2.2 .6.4 2.3.6 2.2-.2 2.2-.3 2.3-.1 2.2 1.8 .2.5-.2 1.7 0 1.1-.4 2.7 .4 1.3 1.5 1.4 .8.3 2.2-.1 2.3-.1 1.5 2.6-.8 2.7 .2 2.8zM132.7 32.4l.6-.8 .3.8-.3.4zM39 44.3l2.3-.2 2.2-.2 .8-.7 1.5-2 .2-.7-.1-2.7-.1-1-.4-1.7-1.9-2.5-.3-.2-.8-1.4-1.1 1.4-2.3 2.7-2.2 2.7 0 2.7-.6.7 .6.5 1.2 1.5zM40 37.8l1.3-.2 .1.2-.1.7zM50.3 32.4l.1 0 1.7-2.8-1.8-2.5-2.3.8-1.5 1.7 1.5 2.4 1.9.4zM54.7 24.4l2.3.5 1.7-.7-.1-2.7-1.6-2.4-.7-.3-1.2-.4-.4.4-.5.6 .2 2.1 .1 2.7zM95.2 17.9l2.2 0 1.6-1.9 .6-1.8 .5-.9-.1-2.7-.4-.6-1.2-2.1-1 0-.9-1.2-1.3 0-1 1.2-1.3 1.9-.6.8 .6 2.3 .1.4 .8 2.7zM110.9 16.2l.5-.2 0-2.7-.5-2.5-2.3 2.5 0 0 0 .2 1.4 2.5zM75 14.2l2.2-.2 2.2-.3 .6-.4 .3-2.7-.9-.5-2.2-1.2-2.2-1 0 0-.1 0-1.1 2.7 0 2.7z" clip-path="url(#e_pfd47c9110e)" style="fill: #27808e; stroke: #27808e; stroke-width: 0.6"/>
<path d="M77.2 158.1l.3-.7-.3-1.8-1.5 1.8zM133.3 141.1l0 0 .1 0-.1-.1-.1.1zM137.8 130.8l.3-.5-.3-.5-1.5.5zM34.5 119.7l.3-.3 1.7-2.7 .3-1.2 .5-1.6-.5-.9-2.3-.3-1.5 1.2-.7 1-.4 1.2 .4.6 0 2.7 .4.5zM83.9 120l2.3.4 2.2.3 2.3 0 2.2-.1 2.3-.4 2.2-.5 .8-.3 1.4-.5 2.3-1.1 2.1-1.1 .1-.1 2.3-1.6 1.3-1.1 .9-.8 1.9-1.9 .4-.4 1.8-2.3 .4-.6 1.4-2.1 .9-1.5 .6-1.2 1.3-2.8 .3-.9 .6-1.8 .8-2.7 .6-2.7 .3-1.8 .1-.9 .2-2.8 0-2.7-.1-2.7-.2-2.3-.1-.4-.5-2.7-.7-2.8-.8-2.7-.2-.4-.9-2.3-1.3-2.7-.1 0-1.6-2.7-.6-.8-1.4-1.9-.8-1-1.7-1.8-.6-.5-2.2-1.9-.4-.3-1.9-1.3-2.2-1.2-.3-.2-2-.9-2.2-.7-2.2-.6-2.3-.4-2.2-.1 0 0-.3 0-2 0-2.2.3-2.3.4-2.2.7-2.3.9-.8.4-1.4.7-2.2 1.4-.9.6-1.4 1.1-1.7 1.6-.5.5-2 2.3-.3.2-1.7 2.5-.5.7-1.2 2-1.1 2.1-.2.6-1.1 2.7-.9 2.7 0 0-.7 2.8-.5 2.7-.3 2.7-.1 2.7 0 2.7 .3 2.8 .4 2.7 .5 2.7 .4 1.3 .4 1.4 1 2.7 .8 2 .4.8 1.5 2.7 .4.6 1.4 2.1 .8 1 1.4 1.7 .9.9 1.9 1.8 .3.3 2.3 1.7 1.1.8 1.1.6 2.2 1.1 2.3.9 .1.1zM81.3 116.7l-1.9-.9-2.2-1.2-1-.7-1.2-.8-2.3-1.9 0 0-2.2-2.4-.3-.3-2-2.6-.1-.1-1.6-2.7-.5-1-.8-1.8-1.1-2.7-.4-1-.5-1.7-.6-2.7-.4-2.7-.2-2.8-.1-2.7 .2-2.7 .3-2.7 .5-2.7 .7-2.8 .1-.3 .9-2.4 1.2-2.7 .2-.4 1.3-2.3 .9-1.5 .9-1.2 1.4-1.7 .9-1 1.3-1.3 1.6-1.5 .7-.5 2.2-1.5 1.2-.7 1-.5 2.3-1 2.2-.7 2.2-.5 .1 0 2.2-.3 2.3 0 2.2.1 .9.2 1.4.2 2.2.7 2.2.8 2.2 1 .1.1 2.2 1.4 1.7 1.2 .6.5 2.2 2.1 .2.2 2.1 2.4 .1.3 1.9 2.7 .2.4 1.2 2.3 1.1 2.3 .2.4 .9 2.7 .7 2.8 .4 1.9 .2.8 .3 2.7 .1 2.7 0 2.7-.3 2.8-.3 2.2-.1.5-.6 2.7-.9 2.7-.6 1.8-.4.9-1.4 2.8-.5.9-1.1 1.8-1.1 1.5-1 1.2-1.3 1.5-1.2 1.2-1 .9-2.3 1.7-.1.1-2.1 1.3-2.3 1.1-.8.4-1.4.5-2.2.5-2.3.4-2.2.2-2.3-.1-2.2-.2-2.3-.5-2.2-.7zM151.3 109.1l0-.6 2.2-2.7 0-2.7 0-1-2-1.8-.2-.2-2.3-.1-.4.3-1.6 2.8 .3 2.7 1.7 2.5 .5.2zM27.8 90.1l2.1-.6 .1-.1 2.3-1.8 .7-.9-.7-1.8-1.7-.9-.6-.1-.4.1-1.8.8-1.4 1.9 0 2.8zM151.3 75.9l0 0 0-.2-.1.2zM41.3 38.5l.1-.7-.1-.2-1.3.2zM133.3 32.8l.3-.4-.3-.8-.6.8z" clip-path="url(#e_pfd47c9110e)" style="fill: #21918c; stroke: #21918c; stroke-width: 0.6"/>
<path d="M81.7 116.8l2.2.7 2.3.5 2.2.2 2.3.1 2.2-.2 2.3-.4 2.2-.5 1.4-.5 .8-.4 2.3-1.1 2.1-1.3 .1-.1 2.3-1.7 1-.9 1.2-1.2 1.3-1.5 1-1.2 1.1-1.5 1.1-1.8 .5-.9 1.4-2.8 .4-.9 .6-1.8 .9-2.7 .6-2.7 .1-.5 .3-2.2 .3-2.8 0-2.7-.1-2.7-.3-2.7-.2-.8-.4-1.9-.7-2.8-.9-2.7-.2-.4-1.1-2.3-1.2-2.3-.2-.4-1.9-2.7-.1-.3-2.1-2.4-.2-.2-2.2-2.1-.6-.5-1.7-1.2-2.2-1.4-.1-.1-2.2-1-2.2-.8-2.2-.7-1.4-.2-.9-.2-2.2-.1-2.3 0-2.2.3-.1 0-2.2.5-2.2.7-2.3 1-1 .5-1.2.7-2.2 1.5-.7.5-1.6 1.5-1.3 1.3-.9 1-1.4 1.7-.9 1.2-.9 1.5-1.3 2.3-.2.4-1.2 2.7-.9 2.4-.1.3-.7 2.8-.5 2.7-.3 2.7-.2 2.7 .1 2.7 .2 2.8 .4 2.7 .6 2.7 .5 1.7 .4 1 1.1 2.7 .8 1.8 .5 1 1.6 2.7 .1.1 2 2.6 .3.3 2.2 2.4 0 0 2.3 1.9 1.2.8 1 .7 2.2 1.2 1.9.9zM81.3 113.9l-1.9-.9-2.2-1.3-.6-.5-1.6-1.3-1.6-1.4-.7-.7-1.7-2-.5-.7-1.4-2-.9-1.6-.6-1.2-1.2-2.7-.4-1.3-.5-1.4-.6-2.7-.5-2.7-.3-2.8 0-2.7 .1-2.7 .4-2.7 .6-2.7 .7-2.8 .1-.1 1-2.6 1.2-2.6 .1-.1 1.7-2.7 .5-.7 1.6-2 .6-.7 2.1-2 .2-.2 2.2-1.6 1.5-1 .7-.4 2.3-1 2.2-.9 1.7-.4 .6-.1 2.2-.3 2.3 0 2.2.1 1.6.3 .7.1 2.2.8 2.2.9 1.9.9 .4.2 2.2 1.6 1.2 1 1.1 1 1.6 1.7 .6.7 1.5 2 .8 1.1 .9 1.6 1.3 2.6 .1.1 1 2.7 .8 2.8 .4 1.7 .2 1 .3 2.7 .1 2.7 0 2.7-.3 2.8-.3 2.4-.1.3-.7 2.7-.9 2.7-.6 1.4-.6 1.3-1.5 2.8-.1.2-1.8 2.5-.5.6-1.8 2.1-.4.4-2.3 1.9-.5.4-1.7 1.1-2.3 1.3-.8.3-1.4.6-2.2.6-2.3.4-2.2.2-2.3-.1-2.2-.2-2.3-.6-2.2-.7z" clip-path="url(#e_pfd47c9110e)" style="fill: #1fa188; stroke: #1fa188; stroke-width: 0.6"/>
<path d="M81.7 114.1l2.2.7 2.3.6 2.2.2 2.3.1 2.2-.2 2.3-.4 2.2-.6 1.4-.6 .8-.3 2.3-1.3 1.7-1.1 .5-.4 2.3-1.9 .4-.4 1.8-2.1 .5-.6 1.8-2.5 .1-.2 1.5-2.8 .6-1.3 .6-1.4 .9-2.7 .7-2.7 .1-.3 .3-2.4 .3-2.8 0-2.7-.1-2.7-.3-2.7-.2-1-.4-1.7-.8-2.8-1-2.7-.1-.1-1.3-2.6-.9-1.6-.8-1.1-1.5-2-.6-.7-1.6-1.7-1.1-1-1.2-1-2.2-1.6-.4-.2-1.9-.9-2.2-.9-2.2-.8-.7-.1-1.6-.3-2.2-.1-2.3 0-2.2.3-.6.1-1.7.4-2.2.9-2.3 1-.7.4-1.5 1-2.2 1.6-.2.2-2.1 2-.6.7-1.6 2-.5.7-1.7 2.7-.1.1-1.2 2.6-1 2.6-.1.1-.7 2.8-.6 2.7-.4 2.7-.1 2.7 0 2.7 .3 2.8 .5 2.7 .6 2.7 .5 1.4 .4 1.3 1.2 2.7 .6 1.2 .9 1.6 1.4 2 .5.7 1.7 2 .7.7 1.6 1.4 1.6 1.3 .6.5 2.2 1.3 1.9.9zM82.1 111.2l-.4-.2-2.3-1.2-2-1.3-.2-.2-2.2-2-.6-.5-1.7-2.1-.5-.6-1.7-2.7-.1-.1-1.3-2.7-.9-2.3-.1-.4-.7-2.7-.5-2.7-.3-2.8-.1-2.7 .2-2.7 .4-2.7 .6-2.7 .5-1.7 .4-1.1 1.2-2.7 .7-1.3 .8-1.4 1.4-2 .5-.7 1.8-1.9 .9-.8 1.3-1.1 2.2-1.6 0-.1 2.3-1.1 2.2-.9 2.3-.6 .5-.1 1.7-.2 2.3 0 2.2.1 .5.1 1.8.4 2.2.8 2.2 1 1 .6 1.3.8 2.2 1.7 .2.2 2.1 2.1 .5.6 1.7 2.3 .3.4 1.5 2.7 .5 1.1 .6 1.6 .9 2.8 .7 2.7 0 0 .4 2.7 .1 2.7 0 2.7-.3 2.8-.2 1.1-.3 1.6-.8 2.7-1 2.7-.1.4-1.3 2.3-1 1.7-.7 1.1-1.5 1.9-.7.8-1.6 1.4-1.5 1.3-.7.5-2.3 1.4-1.6.8-.6.3-2.2.7-2.3.4-2.2.2-2.3-.1-2.2-.3-2.3-.5z" clip-path="url(#e_pfd47c9110e)" style="fill: #2ab07f; stroke: #2ab07f; stroke-width: 0.6"/>
<path d="M83.9 111.9l2.3.5 2.2.3 2.3.1 2.2-.2 2.3-.4 2.2-.7 .6-.3 1.6-.8 2.3-1.4 .7-.5 1.5-1.3 1.6-1.4 .7-.8 1.5-1.9 .7-1.1 1-1.7 1.3-2.3 .1-.4 1-2.7 .8-2.7 .3-1.6 .2-1.1 .3-2.8 0-2.7-.1-2.7-.4-2.7 0 0-.7-2.7-.9-2.8-.6-1.6-.5-1.1-1.5-2.7-.3-.4-1.7-2.3-.5-.6-2.1-2.1-.2-.2-2.2-1.7-1.3-.8-1-.6-2.2-1-2.2-.8-1.8-.4-.5-.1-2.2-.1-2.3 0-1.7.2-.5.1-2.3.6-2.2.9-2.3 1.1 0 .1-2.2 1.6-1.3 1.1-.9.8-1.8 1.9-.5.7-1.4 2-.8 1.4-.7 1.3-1.2 2.7-.4 1.1-.5 1.7-.6 2.7-.4 2.7-.2 2.7 .1 2.7 .3 2.8 .5 2.7 .7 2.7 .1.4 .9 2.3 1.3 2.7 .1.1 1.7 2.7 .5.6 1.7 2.1 .6.5 2.2 2 .2.2 2 1.3 2.3 1.2 .4.2zM83.9 108.5l-2.2-1-2.3-1.4-.4-.3-1.8-1.5-1.2-1.2-1-1.2-1.2-1.6-1.1-1.8-.5-.9-1.2-2.7-.5-1.8-.3-.9-.6-2.7-.3-2.8-.1-2.7 .2-2.7 .4-2.7 .7-2.4 .1-.3 1-2.8 1.1-2.2 .3-.5 1.8-2.7 .2-.2 2.2-2.4 .1-.1 2.1-1.7 1.6-1 .7-.4 2.2-1 2.3-.7 2.2-.3 2.3-.1 2.2.2 2.3.6 2.2.8 1.7.9 .5.3 2.3 1.6 .9.8 1.3 1.3 1.2 1.4 1.1 1.5 .8 1.2 1.3 2.7 .1.3 1 2.5 .7 2.7 .4 2.7 .2 2.1 0 .6 0 2 0 .7-.4 2.8-.5 2.7-.9 2.7-.5 1.1-.7 1.6-1.5 2.6-.1.1-2.1 2.8-.1 0-2.2 2.1-.7.6-1.6 1-2.2 1.2-1.2.5-1 .4-2.3.5-2.2.2-2.3-.1-2.2-.3-2.3-.7z" clip-path="url(#e_pfd47c9110e)" style="fill: #44bf70; stroke: #44bf70; stroke-width: 0.6"/>
<path d="M83.9 108.5l2.3.7 2.2.3 2.3.1 2.2-.2 2.3-.5 1-.4 1.2-.5 2.2-1.2 1.6-1 .7-.6 2.2-2.1 .1 0 2.1-2.8 .1-.1 1.5-2.6 .7-1.6 .5-1.1 .9-2.7 .5-2.7 .4-2.8 0-.7 0-2 0-.6-.2-2.1-.4-2.7-.7-2.7-1-2.5-.1-.3-1.3-2.7-.8-1.2-1.1-1.5-1.2-1.4-1.3-1.3-.9-.8-2.3-1.6-.5-.3-1.7-.9-2.2-.8-2.3-.6-2.2-.2-2.3.1-2.2.3-2.3.7-2.2 1-.7.4-1.6 1-2.1 1.7-.1.1-2.2 2.4-.2.2-1.8 2.7-.3.5-1.1 2.2-1 2.8-.1.3-.7 2.4-.4 2.7-.2 2.7 .1 2.7 .3 2.8 .6 2.7 .3.9 .5 1.8 1.2 2.7 .5.9 1.1 1.8 1.2 1.6 1 1.2 1.2 1.2 1.8 1.5 .4.3 2.3 1.4 2.2 1zM86.1 105.8l-2.2-1-2.2-1.2-.9-.5-1.4-1.2-1.7-1.6-.5-.6-1.4-2.1-.8-1.3-.7-1.4-1.1-2.7-.5-1.8-.2-.9-.3-2.8 0-2.7 .1-2.7 .4-2.7 0 0 1.1-2.7 1-2.8 .2-.2 1.7-2.5 .5-.6 1.9-2.1 .3-.3 2.3-1.6 1.2-.8 1-.4 2.3-.7 2.2-.4 2.3-.1 2.2.3 2.3.5 2.2.8 .1 0 2.1 1.7 1.4 1 .9.9 1.6 1.8 .6 1 1 1.7 1.3 2.4 .1.4 .7 2.7 .5 2.7 .3 2.7-.1 2.7-.4 2.8-.6 2.7-.5 1.5-.5 1.2-1.5 2.7-.3.5-1.7 2.2-.5.5-2.3 2.3 0 0-2.2 1.1-2.2 1.1-1.5.5-.8.2-2.2.1-2.3 0-2.2-.3z" clip-path="url(#e_pfd47c9110e)" style="fill: #67cc5c; stroke: #67cc5c; stroke-width: 0.6"/>
<path d="M86.2 105.8l2.2.3 2.3 0 2.2-.1 .8-.2 1.5-.5 2.2-1.1 2.2-1.1 0 0 2.3-2.3 .5-.5 1.7-2.2 .3-.5 1.5-2.7 .5-1.2 .5-1.5 .6-2.7 .4-2.8 .1-2.7-.3-2.7-.5-2.7-.7-2.7-.1-.4-1.3-2.4-1-1.7-.6-1-1.6-1.8-.9-.9-1.4-1-2.1-1.7-.1 0-2.2-.8-2.3-.5-2.2-.3-2.3.1-2.2.4-2.3.7-1 .4-1.2.8-2.3 1.6-.3.3-1.9 2.1-.5.6-1.7 2.5-.2.2-1 2.8-1.1 2.7 0 0-.4 2.7-.1 2.7 0 2.7 .3 2.8 .2.9 .5 1.8 1.1 2.7 .7 1.4 .8 1.3 1.4 2.1 .5.6 1.7 1.6 1.4 1.2 .9.5 2.2 1.2 2.2 1zM86 100.3l-2.1-1-2.2-1.6-.1-.1-2.2-2.5-.1-.2-1.4-2.7-.7-1.9-.3-.8-.4-2.8-.1-2.7 .3-2.7 .5-2.3 .1-.4 1.3-2.7 .8-1.5 1-1.3 1.3-1.3 1.7-1.4 .5-.3 2.3-1 2.2-.6 2.3-.1 2.2.3 2.3.9 1.5.8 .7.5 2.2 2.1 .2.1 1.8 2.8 .3.6 .8 2.1 .7 2.7 .4 2.7-.1 2.7-.6 2.8-.8 2.7-.4.7-1.2 2-1.1 1.4-1.2 1.3-1 .9-2.2 1.4-1.2.4-1.1.4-2.2.3-2.3-.1-2.2-.5z" clip-path="url(#e_pfd47c9110e)" style="fill: #90d743; stroke: #90d743; stroke-width: 0.6"/>
<path d="M86.2 100.4l2.2.5 2.3.1 2.2-.3 1.1-.4 1.2-.4 2.2-1.4 1-.9 1.2-1.3 1.1-1.4 1.2-2 .4-.7 .8-2.7 .6-2.8 .1-2.7-.4-2.7-.7-2.7-.8-2.1-.3-.6-1.8-2.8-.2-.1-2.2-2.1-.7-.5-1.5-.8-2.3-.9-2.2-.3-2.3.1-2.2.6-2.3 1-.5.3-1.7 1.4-1.3 1.3-1 1.3-.8 1.5-1.3 2.7-.1.4-.5 2.3-.3 2.7 .1 2.7 .4 2.8 .3.8 .7 1.9 1.4 2.7 .1.2 2.2 2.5 .1.1 2.2 1.6 2.1 1zM89.5 94.9l-1.1-.1-2.2-1.4-1.9-1.2-.4-.4-1.1-2.3-1.1-2.6-.1-.2 0-2.7 .1-1 .4-1.7 1.4-2.7 .4-.7 2-2 .3-.2 2.2-.7 2.3-.1 2.2.4 1.1.6 1.2.9 1.5 1.8 .7 1.2 .5 1.5 .4 2.7-.2 2.7-.5 2.8-.2.3-1.8 2.4-.4.5-2.3 1.4-2 .8-.2.1z" clip-path="url(#e_pfd47c9110e)" style="fill: #bddf26; stroke: #bddf26; stroke-width: 0.6"/>
<path d="M90.7 95l.2-.1 2-.8 2.3-1.4 .4-.5 1.8-2.4 .2-.3 .5-2.8 .2-2.7-.4-2.7-.5-1.5-.7-1.2-1.5-1.8-1.2-.9-1.1-.6-2.2-.4-2.3.1-2.2.7-.3.2-2 2-.4.7-1.4 2.7-.4 1.7-.1 1 0 2.7 .1.2 1.1 2.6 1.1 2.3 .4.4 1.9 1.2 2.2 1.4 1.1.1z" clip-path="url(#e_pfd47c9110e)" style="fill: #eae51a; stroke: #eae51a; stroke-width: 0.6"/>
</g>
<g id="e_matplotlib.axis_1">
<g id="e_xtick_1">
<g id="e_line2d_1">
<defs>
<path id="e_mecee5effe9" d="M0 0l0 2" style="stroke: #000000; stroke-width: 0.5"/>
</defs>
<g>
<use href="#e_mecee5effe9" x="23" y="165.6" style="stroke: #000000; stroke-width: 0.5"/>
</g>
</g>
<g id="e_text_1">
<text style="font-size: 4.2px; font-family: 'DejaVu Sans', sans-serif; text-anchor: middle" x="23" y="172.3" transform="rotate(-0 23 172.3)">−1.00</text>
</g>
</g>
<g id="e_xtick_2">
<g id="e_line2d_2">
<g>
<use href="#e_mecee5effe9" x="39.7" y="165.6" style="stroke: #000000; stroke-width: 0.5"/>
</g>
</g>
<g id="e_text_2">
<text style="font-size: 4.2px; font-family: 'DejaVu Sans', sans-serif; text-anchor: middle" x="39.7" y="172.3" transform="rotate(-0 39.7 172.3)">−0.75</text>
</g>
</g>
<g id="e_xtick_3">
<g id="e_line2d_3">
<g>
<use href="#e_mecee5effe9" x="56.5" y="165.6" style="stroke: #000000; stroke-width: 0.5"/>
</g>
</g>
<g id="e_text_3">
<text style="font-size: 4.2px; font-family: 'DejaVu Sans', sans-serif; text-anchor: middle" x="56.5" y="172.3" transform="rotate(-0 56.5 172.3)">−0.50</text>
</g>
</g>
<g id="e_xtick_4">
<g id="e_line2d_4">
<g>
<use href="#e_mecee5effe9" x="73.3" y="165.6" style="stroke: #000000; stroke-width: 0.5"/>
</g>
</g>
<g id="e_text_4">
<text style="font-size: 4.2px; font-family: 'DejaVu Sans', sans-serif; text-anchor: middle" x="73.3" y="172.3" transform="rotate(-0 73.3 172.3)">−0.25</text>
</g>
</g>
<g id="e_xtick_5">
<g id="e_line2d_5">
<g>
<use href="#e_mecee5effe9" x="90.1" y="165.6" style="stroke: #000000; stroke-width: 0.5"/>
</g>
</g>
<g id="e_text_5">
<text style="font-size: 4.2px; font-family: 'DejaVu Sans', sans-serif; text-anchor: middle" x="90.1" y="172.3" transform="rotate(-0 90.1 172.3)">0.00</text>
</g>
</g>
<g id="e_xtick_6">
<g id="e_line2d_6">
<g>
<use href="#e_mecee5effe9" x="106.8" y="165.6" style="stroke: #000000; stroke-width: 0.5"/>
</g>
</g>
<g id="e_text_6">
<text style="font-size: 4.2px; font-family: 'DejaVu Sans', sans-serif; text-anchor: middle" x="106.8" y="172.3" transform="rotate(-0 106.8 172.3)">0.25</text>
</g>
</g>
<g id="e_xtick_7">
<g id="e_line2d_7">
<g>
<use href="#e_mecee5effe9" x="123.6" y="165.6" style="stroke: #000000; stroke-width: 0.5"/>
</g>
</g>
<g id="e_text_7">
<text style="font-size: 4.2px; font-family: 'DejaVu Sans', sans-serif; text-anchor: middle" x="123.6" y="172.3" transform="rotate(-0 123.6 172.3)">0.50</text>
</g>
</g>
<g id="e_xtick_8">
<g id="e_line2d_8">
<g>
<use href="#e_mecee5effe9" x="140.4" y="165.6" style="stroke: #000000; stroke-width: 0.5"/>
</g>
</g>
<g id="e_text_8">
<text style="font-size: 4.2px; font-family: 'DejaVu Sans', sans-serif; text-anchor: middle" x="140.4" y="172.3" transform="rotate(-0 140.4 172.3)">0.75</text>
</g>
</g>
<g id="e_xtick_9">
<g id="e_line2d_9">
<g>
<use href="#e_mecee5effe9" x="157.2" y="165.6" style="stroke: #000000; stroke-width: 0.5"/>
</g>
</g>
<g id="e_text_9">
<text style="font-size: 4.2px; font-family: 'DejaVu Sans', sans-serif; text-anchor: middle" x="157.2" y="172.3" transform="rotate(-0 157.2 172.3)">1.00</text>
</g>
</g>
<g id="e_text_10">
<!-- $v_1$ -->
<g transform="translate(87.8 178)">
<text>
<tspan x="0" y="-0.3" style="font-style: oblique; font-size: 5px; font-family: 'DejaVu Sans', sans-serif">v</tspan>
<tspan x="3" y="0.6" style="font-size: 3.5px; font-family: 'DejaVu Sans', sans-serif">1</tspan>
</text>
</g>
</g>
</g>
<g id="e_matplotlib.axis_2">
<g id="e_ytick_1">
<g id="e_line2d_10">
<defs>
<path id="e_m4bf4405aed" d="M0 0l-2 0" style="stroke: #000000; stroke-width: 0.5"/>
</defs>
<g>
<use href="#e_m4bf4405aed" x="23" y="164.8" style="stroke: #000000; stroke-width: 0.5"/>
</g>
</g>
<g id="e_text_11">
<text style="font-size: 4.2px; font-family: 'DejaVu Sans', sans-serif; text-anchor: end" x="19.5" y="166.4" transform="rotate(-0 19.5 166.4)">−1.00</text>
</g>
</g>
<g id="e_ytick_2">
<g id="e_line2d_11">
<g>
<use href="#e_m4bf4405aed" x="23" y="144.8" style="stroke: #000000; stroke-width: 0.5"/>
</g>
</g>
<g id="e_text_12">
<text style="font-size: 4.2px; font-family: 'DejaVu Sans', sans-serif; text-anchor: end" x="19.5" y="146.4" transform="rotate(-0 19.5 146.4)">−0.75</text>
</g>
</g>
<g id="e_ytick_3">
<g id="e_line2d_12">
<g>
<use href="#e_m4bf4405aed" x="23" y="124.8" style="stroke: #000000; stroke-width: 0.5"/>
</g>
</g>
<g id="e_text_13">
<text style="font-size: 4.2px; font-family: 'DejaVu Sans', sans-serif; text-anchor: end" x="19.5" y="126.3" transform="rotate(-0 19.5 126.3)">−0.50</text>
</g>
</g>
<g id="e_ytick_4">
<g id="e_line2d_13">
<g>
<use href="#e_m4bf4405aed" x="23" y="104.7" style="stroke: #000000; stroke-width: 0.5"/>
</g>
</g>
<g id="e_text_14">
<text style="font-size: 4.2px; font-family: 'DejaVu Sans', sans-serif; text-anchor: end" x="19.5" y="106.3" transform="rotate(-0 19.5 106.3)">−0.25</text>
</g>
</g>
<g id="e_ytick_5">
<g id="e_line2d_14">
<g>
<use href="#e_m4bf4405aed" x="23" y="84.7" style="stroke: #000000; stroke-width: 0.5"/>
</g>
</g>
<g id="e_text_15">
<text style="font-size: 4.2px; font-family: 'DejaVu Sans', sans-serif; text-anchor: end" x="19.5" y="86.3" transform="rotate(-0 19.5 86.3)">0.00</text>
</g>
</g>
<g id="e_ytick_6">
<g id="e_line2d_15">
<g>
<use href="#e_m4bf4405aed" x="23" y="64.7" style="stroke: #000000; stroke-width: 0.5"/>
</g>
</g>
<g id="e_text_16">
<text style="font-size: 4.2px; font-family: 'DejaVu Sans', sans-serif; text-anchor: end" x="19.5" y="66.3" transform="rotate(-0 19.5 66.3)">0.25</text>
</g>
</g>
<g id="e_ytick_7">
<g id="e_line2d_16">
<g>
<use href="#e_m4bf4405aed" x="23" y="44.7" style="stroke: #000000; stroke-width: 0.5"/>
</g>
</g>
<g id="e_text_17">
<text style="font-size: 4.2px; font-family: 'DejaVu Sans', sans-serif; text-anchor: end" x="19.5" y="46.3" transform="rotate(-0 19.5 46.3)">0.50</text>
</g>
</g>
<g id="e_ytick_8">
<g id="e_line2d_17">
<g>
<use href="#e_m4bf4405aed" x="23" y="24.6" style="stroke: #000000; stroke-width: 0.5"/>
</g>
</g>
<g id="e_text_18">
<text style="font-size: 4.2px; font-family: 'DejaVu Sans', sans-serif; text-anchor: end" x="19.5" y="26.2" transform="rotate(-0 19.5 26.2)">0.75</text>
</g>
</g>
<g id="e_ytick_9">
<g id="e_line2d_18">
<g>
<use href="#e_m4bf4405aed" x="23" y="4.6" style="stroke: #000000; stroke-width: 0.5"/>
</g>
</g>
<g id="e_text_19">
<text style="font-size: 4.2px; font-family: 'DejaVu Sans', sans-serif; text-anchor: end" x="19.5" y="6.2" transform="rotate(-0 19.5 6.2)">1.00</text>
</g>
</g>
<g id="e_text_20">
<!-- $v_2$ -->
<g transform="translate(4.6 86.7) rotate(-90)">
<text>
<tspan x="0" y="-0.3" style="font-style: oblique; font-size: 5px; font-family: 'DejaVu Sans', sans-serif">v</tspan>
<tspan x="3" y="0.6" style="font-size: 3.5px; font-family: 'DejaVu Sans', sans-serif">2</tspan>
</text>
</g>
</g>
</g>
<g id="e_patch_3">
<path d="M23 165.6l0-163.2" style="fill: none; stroke: #000000; stroke-width: 0.5; stroke-linejoin: miter; stroke-linecap: square"/>
</g>
<g id="e_patch_4">
<path d="M158 165.6l0-163.2" style="fill: none; stroke: #000000; stroke-width: 0.5; stroke-linejoin: miter; stroke-linecap: square"/>
</g>
<g id="e_patch_5">
<path d="M23 165.6l135 0" style="fill: none; stroke: #000000; stroke-width: 0.5; stroke-linejoin: miter; stroke-linecap: square"/>
</g>
<g id="e_patch_6">
<path d="M23 2.4l135 0" style="fill: none; stroke: #000000; stroke-width: 0.5; stroke-linejoin: miter; stroke-linecap: square"/>
</g>
</g>
<g id="e_axes_2">
<g id="e_patch_7">
<path d="M166.7 165.8l7.7 0 0-163.3-7.7 0 0 163.3z" style="fill: none"/>
</g>
<g id="e_QuadMesh_1">
<path d="M166.7 165.8l7.7 0 0-10.9-7.7 0 0 10.9" clip-path="url(#e_pbdc322400c)" style="fill: #470d60; stroke: #470d60; stroke-width: 0.6"/>
<path d="M166.7 154.9l7.7 0 0-10.9-7.7 0 0 10.9" clip-path="url(#e_pbdc322400c)" style="fill: #482475; stroke: #482475; stroke-width: 0.6"/>
<path d="M166.7 144l7.7 0 0-10.8-7.7 0 0 10.8" clip-path="url(#e_pbdc322400c)" style="fill: #443983; stroke: #443983; stroke-width: 0.6"/>
<path d="M166.7 133.2l7.7 0 0-10.9-7.7 0 0 10.9" clip-path="url(#e_pbdc322400c)" style="fill: #3d4d8a; stroke: #3d4d8a; stroke-width: 0.6"/>
<path d="M166.7 122.3l7.7 0 0-10.9-7.7 0 0 10.9" clip-path="url(#e_pbdc322400c)" style="fill: #355f8d; stroke: #355f8d; stroke-width: 0.6"/>
<path d="M166.7 111.4l7.7 0 0-10.9-7.7 0 0 10.9" clip-path="url(#e_pbdc322400c)" style="fill: #2d708e; stroke: #2d708e; stroke-width: 0.6"/>
<path d="M166.7 100.5l7.7 0 0-10.9-7.7 0 0 10.9" clip-path="url(#e_pbdc322400c)" style="fill: #27808e; stroke: #27808e; stroke-width: 0.6"/>
<path d="M166.7 89.6l7.7 0 0-10.9-7.7 0 0 10.9" clip-path="url(#e_pbdc322400c)" style="fill: #21918c; stroke: #21918c; stroke-width: 0.6"/>
<path d="M166.7 78.7l7.7 0 0-10.9-7.7 0 0 10.9" clip-path="url(#e_pbdc322400c)" style="fill: #1fa188; stroke: #1fa188; stroke-width: 0.6"/>
<path d="M166.7 67.8l7.7 0 0-10.8-7.7 0 0 10.8" clip-path="url(#e_pbdc322400c)" style="fill: #2ab07f; stroke: #2ab07f; stroke-width: 0.6"/>
<path d="M166.7 57l7.7 0 0-10.9-7.7 0 0 10.9" clip-path="url(#e_pbdc322400c)" style="fill: #44bf70; stroke: #44bf70; stroke-width: 0.6"/>
<path d="M166.7 46.1l7.7 0 0-10.9-7.7 0 0 10.9" clip-path="url(#e_pbdc322400c)" style="fill: #67cc5c; stroke: #67cc5c; stroke-width: 0.6"/>
<path d="M166.7 35.2l7.7 0 0-10.9-7.7 0 0 10.9" clip-path="url(#e_pbdc322400c)" style="fill: #90d743; stroke: #90d743; stroke-width: 0.6"/>
<path d="M166.7 24.3l7.7 0 0-10.9-7.7 0 0 10.9" clip-path="url(#e_pbdc322400c)" style="fill: #bddf26; stroke: #bddf26; stroke-width: 0.6"/>
<path d="M166.7 13.4l7.7 0 0-10.9-7.7 0 0 10.9" clip-path="url(#e_pbdc322400c)" style="fill: #eae51a; stroke: #eae51a; stroke-width: 0.6"/>
</g>
<g id="e_matplotlib.axis_3"/>
<g id="e_matplotlib.axis_4">
<g id="e_ytick_10">
<g id="e_line2d_19">
<defs>
<path id="e_mb0d4df9f9d" d="M0 0l2 0" style="stroke: #000000; stroke-width: 0.5"/>
</defs>
<g>
<use href="#e_mb0d4df9f9d" x="174.4" y="165.8" style="stroke: #000000; stroke-width: 0.5"/>
</g>
</g>
<g id="e_text_21">
<text style="font-size: 4.2px; font-family: 'DejaVu Sans', sans-serif; text-anchor: start" x="177.9" y="167.4" transform="rotate(-0 177.9 167.4)">0.93</text>
</g>
</g>
<g id="e_ytick_11">
<g id="e_line2d_20">
<g>
<use href="#e_mb0d4df9f9d" x="174.4" y="144" style="stroke: #000000; stroke-width: 0.5"/>
</g>
</g>
<g id="e_text_22">
<text style="font-size: 4.2px; font-family: 'DejaVu Sans', sans-serif; text-anchor: start" x="177.9" y="145.6" transform="rotate(-0 177.9 145.6)">0.96</text>
</g>
</g>
<g id="e_ytick_12">
<g id="e_line2d_21">
<g>
<use href="#e_mb0d4df9f9d" x="174.4" y="122.3" style="stroke: #000000; stroke-width: 0.5"/>
</g>
</g>
<g id="e_text_23">
<text style="font-size: 4.2px; font-family: 'DejaVu Sans', sans-serif; text-anchor: start" x="177.9" y="123.9" transform="rotate(-0 177.9 123.9)">0.99</text>
</g>
</g>
<g id="e_ytick_13">
<g id="e_line2d_22">
<g>
<use href="#e_mb0d4df9f9d" x="174.4" y="100.5" style="stroke: #000000; stroke-width: 0.5"/>
</g>
</g>
<g id="e_text_24">
<text style="font-size: 4.2px; font-family: 'DejaVu Sans', sans-serif; text-anchor: start" x="177.9" y="102.1" transform="rotate(-0 177.9 102.1)">1.02</text>
</g>
</g>
<g id="e_ytick_14">
<g id="e_line2d_23">
<g>
<use href="#e_mb0d4df9f9d" x="174.4" y="78.7" style="stroke: #000000; stroke-width: 0.5"/>
</g>
</g>
<g id="e_text_25">
<text style="font-size: 4.2px; font-family: 'DejaVu Sans', sans-serif; text-anchor: start" x="177.9" y="80.3" transform="rotate(-0 177.9 80.3)">1.05</text>
</g>
</g>
<g id="e_ytick_15">
<g id="e_line2d_24">
<g>
<use href="#e_mb0d4df9f9d" x="174.4" y="57" style="stroke: #000000; stroke-width: 0.5"/>
</g>
</g>
<g id="e_text_26">
<text style="font-size: 4.2px; font-family: 'DejaVu Sans', sans-serif; text-anchor: start" x="177.9" y="58.5" transform="rotate(-0 177.9 58.5)">1.08</text>
</g>
</g>
<g id="e_ytick_16">
<g id="e_line2d_25">
<g>
<use href="#e_mb0d4df9f9d" x="174.4" y="35.2" style="stroke: #000000; stroke-width: 0.5"/>
</g>
</g>
<g id="e_text_27">
<text style="font-size: 4.2px; font-family: 'DejaVu Sans', sans-serif; text-anchor: start" x="177.9" y="36.8" transform="rotate(-0 177.9 36.8)">1.11</text>
</g>
</g>
<g id="e_ytick_17">
<g id="e_line2d_26">
<g>
<use href="#e_mb0d4df9f9d" x="174.4" y="13.4" style="stroke: #000000; stroke-width: 0.5"/>
</g>
</g>
<g id="e_text_28">
<text style="font-size: 4.2px; font-family: 'DejaVu Sans', sans-serif; text-anchor: start" x="177.9" y="15" transform="rotate(-0 177.9 15)">1.14</text>
</g>
</g>
</g>
<g id="e_LineCollection_1"/>
<g id="e_patch_8">
<path d="M166.7 165.8l3.8 0 3.9 0 0-163.3-3.9 0-3.8 0 0 163.3z" style="fill: none; stroke: #000000; stroke-width: 0.5; stroke-linejoin: miter; stroke-linecap: square"/>
</g>
</g>
</g>
<defs>
<clipPath id="e_pfd47c9110e">
<rect x="23" y="2.4" width="135" height="163.2"/>
</clipPath>
<clipPath id="e_pbdc322400c">
<rect x="166.7" y="2.5" width="7.6" height="163.3"/>
</clipPath>
</defs>
</svg>
<svg viewBox="0 0 214.7 187.2" preserveAspectRatio="none" style="position:absolute;left:342px;top:585px;width:343px;height:260px;overflow:visible">
<defs>
<style type="text/css">*{stroke-linejoin: round; stroke-linecap: butt}</style>
</defs>
<g id="f_figure_1">
<g id="f_patch_1">
<path d="M0 187.2l214.7 0 0-187.2-214.7 0 0 187.2z" style="fill: none; opacity: 0"/>
</g>
<g id="f_axes_1">
<g id="f_patch_2">
<path d="M50.5 165.6l125.7 0 0-163.2-125.7 0 0 163.2z" style="fill: none"/>
</g>
<g id="f_QuadContourSet_1">
<path clip-path="url(#f_p6dbd4a64b3)" style="fill: #470d60; stroke: #470d60; stroke-width: 0.6"/>
<path d="M134.7 119l1 1 1-.8 .9-1.4 .2-.4 1-1.6 .7-.7 .3-.4 .9-2.2 .2-1.1 .2-1.6 .1-2.7-.3-1.5-.4-1.1-.7-.9-1-1.3-.8-.5-.2-.1-.2.1-.9 1.1-.6 1.6-.4 1-1 1.6 0 0-1.1 1.4-.4 1.3-.2 2.7 .3 2.6 .3 1.1 .5 1.6zM85.8 62.5l1.1.3 1-.5 .4-.3 .7-1 .8-1.7 .2-.5 .5-2.1 .2-2.7-.6-2.7-.1-.2-1-1.5-1.1.7-.4 1-.6 2-.3.7-.8 1.2-.7 1.5-.3 1.2-.2 1.4 .2.8 .7 1.9z" clip-path="url(#f_p6dbd4a64b3)" style="fill: #482475; stroke: #482475; stroke-width: 0.6"/>
<path d="M133.6 121.3l1.1 1.1 1 .3 1-.4 1.1-1.2 .5-.7 .5-.8 1-.7 1.1-.1 .9-1 .1-.3 .6-2.4 .5-2.2 .1-.4 .7-2.7 .2-2.7-.2-2.6-.1-2.7-.2-2.6-.2-2.7-.3-2.6 0 0-.8-2.7-.3-.9-.7-1.8-.3-.6-.7.6-.4.3-.9 2.4-.1.4-.5 2.3-.5 1.3-.6 1.3-.5.7-1 1.8-.1.2-.9 2.6-.1 0-1 1.5-1 1.1-.1.1-.9 2.6-.1.1-.3 2.6 0 2.7 .3 2.6 0 .1 .6 2.6 .5 1.3 .5 1.3zM134.1 117.8l-.5-1.6-.3-1.1-.3-2.6 .2-2.7 .4-1.3 1.1-1.4 0 0 1-1.6 .4-1 .6-1.6 .9-1.1 .2-.1 .2.1 .8.5 1 1.3 .7.9 .4 1.1 .3 1.5-.1 2.7-.2 1.6-.2 1.1-.9 2.2-.3.4-.7.7-1 1.6-.2.4-.9 1.4-1 .8-1-1zM134.7 87.2l1 0 1-1.2 .1-.1-.1-2.7 0 0-1-.5-.7.5-.3.8-.7 1.9zM79.6 80.8l.3-.2 .7-.5 1.1-1.7 .2-.5 .8-1.6 1.1-.8 1 .3 .5-.5 .5-1.2 .3-1.5 .6-2.7 .2-.3 1-1.6 .7-.7 .4-.4 1-1.4 .3-.9 .7-1.7 .3-.9 .6-2.7 .2-.8 .3-1.8 .2-2.7 0-2.7-.5-1.7-.4-.9-.7-1.2-1-1.4-.1-.1-.9-.4-1.1.2-.2.2-.8 1.1-.9 1.6-.2.3-1 2.2-.1.1-.9 2.1-.4.6-.7 1.2-.9 1.5-.1 1.8-.1.8 .1.8 .2 1.9-.2.7-.9 1.9-.2.1-1 2.6 0 0-.2 2.6-.2 2.7-.3 2.7-.2 2.6 .7 2.7zM85.5 62l-.7-1.9-.2-.8 .2-1.4 .3-1.2 .7-1.5 .8-1.2 .3-.7 .6-2 .4-1 1.1-.7 1 1.5 .1.2 .6 2.7-.2 2.7-.5 2.1-.2.5-.8 1.7-.7 1-.4.3-1 .5-1.1-.3zM144 75.7l.4-.4 .6-2.5 .1-.2-.1-.1-1-1.1-.9 1.2-.1 2.7zM172 62l1.1.4 0-.4 0-2.7 0-2.6-1.1 0-1 0-1 0-.3 0 .3 1.3 .3 1.3 .7 1.6 1 1.1z" clip-path="url(#f_p6dbd4a64b3)" style="fill: #443983; stroke: #443983; stroke-width: 0.6"/>
<path d="M132.6 123.2l1 1.2 1.1.4 1 0 1-.3 1.1-.5 1-.7 .4-.2 .6-.3 1.1 0 1-.6 1.1-1.8 0 0 .8-2.6 .2-.8 .8-1.9 .2-.5 .9-2.1 .2-1.4 .1-1.3 0-2.7-.1-2.6 .1-2.7 .1-2.6 0-2.7-.2-2.6 0-.3-.4-2.4-.7-1.9-.2-.8-.7-2.6-.1-1.8-.1-.9 .1-.2 1-2 1.1.4 1 1 1.1-.6 .5-1.2 .5-1.8 .1-.9 .1-2.6-.1-2.7-.1-2.2 0-.5 0-.1 .5-2.5 .5-1.5 .2-1.2 .1-2.6-.3-1.4-1-1.3 0 0 0 0-1 .8-1.1 1.7-.2.2-.8 1.4-1.1.5-1 .6-.1.1-.9 1.3-.5 1.4-.6 1.7-.2.9-.7 2.7-.1.7-.6 2-.5 1.3-.8 1.3-.2.2-1 .5-1.1-.2-1-.1-1 .7-1.1 1.6 0 0-1 2-.2.6-.6 2.7-.3 2.2 0 .4 0 .6 .3 2.1 .8 2.6 0 .1 .5 2.6-.4 2.7-.1.2-1.1 2.4 0 0-1 2.5-.1.2-.7 2.6-.2 1.3-.3 1.4 0 2.7 .3 1.4 .2 1.2 .3 2.7 .5 2.2 .1.4 .9 1.2 1 1.5zM133.1 120.4l-.5-1.3-.5-1.3-.6-2.6 0-.1-.3-2.6 0-2.7 .3-2.6 .1-.1 .9-2.6 .1-.1 1-1.1 1-1.5 .1 0 .9-2.6 .1-.2 1-1.8 .5-.7 .6-1.3 .5-1.3 .5-2.3 .1-.4 .9-2.4 .4-.3 .7-.6 .3.6 .7 1.8 .3.9 .8 2.7 0 0 .3 2.6 .2 2.7 .2 2.6 .1 2.7 .2 2.6-.2 2.7-.7 2.7-.1.4-.5 2.2-.6 2.4-.1.3-.9 1-1.1.1-1 .7-.5.8-.5.7-1.1 1.2-1 .4-1-.3-1.1-1.1zM134 85.9l.7-1.9 .3-.8 .7-.5 1 .5 0 0 .1 2.7-.1.1-1 1.2-1 0zM143 75.3l.1-2.7 .9-1.2 1 1.1 .1.1-.1.2-.6 2.5-.4.4zM56.8 112.5l0 0 0-.6-.4-2.1 .1-2.7 .1-2.6-.9-2.4-1 .6-1.1.8 0 1 0 2.6 0 2.7 1.1 0 1 0zM80.6 93.1l1.1-.9 .3-1 .7-2 .3-.7 .4-2.6 .4-2 1-.3 1 1.1 1.1-.3 .4-1.2 .6-2.3 .1-.3 .5-2.7 .5-1.5 1-.2 1-.2 .6-.7 .5-2.6 0-.1 0-.3-.2-2.4 .2-1.7 0-.9 .9-2.7 .1-.4 .6-2.2 .2-2.7 0-2.6 .2-1.9 .1-.8 .5-2.7 0-2.6-.6-1.6-.4-1.1-.6-.9-1-1.7 0 0-1.1-.6-1 .1-1 0-1.1.2-.4.3-.6.4-1.1 1.2-.9 1-.1.1-1 1.7-.5.9-.6 1.2-1 1.4 0 .1-1.1 1.7-.3.9-.6 2.7-.1 1-.2 1.6-.6 2.7-.2.7-.7 1.9-.2 2.7 0 2.6-.2 2-.1.7-.6 2.7-.3 1.7-.1.9-.1 2.7 .2 2 .1.6 .7 2.7 .2.6 1.1 1.8 .2.2 .8 2.5 .1.2zM79.4 80.6l-.7-2.7 .2-2.6 .3-2.7 .2-2.7 .2-2.6 0 0 1-2.6 .2-.1 .9-1.9 .2-.7-.2-1.9-.1-.8 .1-.8 .1-1.8 .9-1.5 .7-1.2 .4-.6 .9-2.1 .1-.1 1-2.2 .2-.3 .9-1.6 .8-1.1 .2-.2 1.1-.2 .9.4 .1.1 1 1.4 .7 1.2 .4.9 .5 1.7 0 2.7-.2 2.7-.3 1.8-.2.8-.6 2.7-.3.9-.7 1.7-.3.9-1 1.4-.4.4-.7.7-1 1.6-.2.3-.6 2.7-.3 1.5-.5 1.2-.5.5-1-.3-1.1.8-.8 1.6-.2.5-1.1 1.7-.7.5-.3.2zM171 65l1 1.1 1.1.5 0-2 0-2.2-1.1-.4 0 0-1-1.1-.7-1.6-.3-1.3-.3-1.3-.8 0-1-2.7-1 0-.4 0 .4.7 .5 2 .5 1.4 .3 1.2 .7 1.9 .3.8 .8 1.4 .8 1.2zM159.6 51.6l.7-.3-.7-.3-.2.3zM163.7 51.9l.3.2-.3-.8-.5 0z" clip-path="url(#f_p6dbd4a64b3)" style="fill: #3d4d8a; stroke: #3d4d8a; stroke-width: 0.6"/>
<path d="M132.6 126.4l1 .7 1.1.1 1-.1 1-.2 1.1-.2 1-.1 1-.2 1.1-.4 .5-.3 .5-.3 1.1-1.2 .7-1.1 .3-.7 1-1.8 .2-.2 .9-1.3 .8-1.3 .2-.6 .4-2.1 .3-2.6 0-2.7 0-2.7 .1-2.6 .1-2.7 .2-2 0-.6 .3-2.7 .4-2.6 .3-2.2 .1-.5 .4-2.7 .5-1.3 1.1-1.2 0-.1 1-1.6 .5-1.1 .4-2.6 .2-1.9 0-.8 .2-2.6-.2-2.7 0-.1-.8-2.6-.3-1.3-.2-1.3 0-2.7 .2-2.1 .1-.5 1-2 1 .8 .8 1.2 .2.6 .7 2 .3 2.7 .1.4 1 1.6 1-.4 1.1-1.5 .1-.1 .7-2.7 .2-.7 1.1-1.9 .1 0 .9-.3 .2.3 .8 1.3 1.1.8 1-.1 1.1.4 .2.2 .8 1.1 1 1.1 .4.5 .7.7 1 1.5 .3.4 .7 1.1 1.1 1.3 0-2.4 0-2.6 0-.7-1.1-.5-1-1.1-.2-.4-.8-1.2-.8-1.4-.3-.8-.7-1.9-.3-1.2-.5-1.4-.5-2-.4-.7-.7 0-1 0-.8-1.9-.3-.2-.5-.6-.5 0-1 0-1.1-2.6-1 0-1.1 0-1-2.7-1 0-.6 0-.5 1.5-.2 1.2-.6 2.6-.2.9-.8 1.8-.2.7-1.1 1.2-1-.2-1.1-.4-1-.2-1 .4-.7 1.2-.4.4-1 1.3-1.1.9-1 0 0 0 0 0-1-.7-1.1.5 0 .2-.6 2.7-.4 2-.2.6-.8 2.7-.1.2-1 2.3 0 .1-1 2.5-.1.2-1 .8-1 .6-1 .9-.3.4-.8 1-1 1.6 0 0-1.1 2-.2.7-.5 2.6-.3 1.8-.1.9-.5 2.6-.1 2.7 .6 2.7 .1.4 .5 2.2-.2 2.7-.3.7-.7 1.9-.3 1.1-.6 1.6-.5 1.8-.2.8-.7 2.7-.1.9-.4 1.8-.1 2.6 .2 2.7 .3.9 .5 1.7 .5 1 .7 1.7 .4.5 1 .8 1 .8 .5.5zM132.5 123.1l-1-1.5-.9-1.2-.1-.4-.5-2.2-.3-2.7-.2-1.2-.3-1.4 0-2.7 .3-1.4 .2-1.3 .7-2.6 .1-.2 1-2.5 0 0 1.1-2.4 .1-.2 .4-2.7-.5-2.6 0-.1-.8-2.6-.3-2.1 0-.6 0-.4 .3-2.2 .6-2.7 .2-.6 1-2 0 0 1.1-1.6 1-.7 1 .1 1.1.2 1-.5 .2-.2 .8-1.3 .5-1.3 .6-2 .1-.7 .7-2.7 .2-.9 .6-1.7 .5-1.4 .9-1.3 .1-.1 1-.6 1.1-.5 .8-1.4 .2-.2 1.1-1.7 1-.8 0 0 0 0 1 1.3 .3 1.4-.1 2.6-.2 1.2-.5 1.5-.5 2.5 0 .1 0 .5 .1 2.2 .1 2.7-.1 2.6-.1.9-.5 1.8-.5 1.2-1.1.6-1-1-1.1-.4-1 2-.1.2 .1.9 .1 1.8 .7 2.6 .2.8 .7 1.9 .4 2.4 0 .3 .2 2.6 0 2.7-.1 2.6-.1 2.7 .1 2.6 0 2.7-.1 1.3-.2 1.4-.9 2.1-.2.5-.8 1.9-.2.8-.8 2.6 0 0-1.1 1.8-1 .6-1.1 0-.6.3-.4.2-1 .7-1.1.5-1 .3-1 0-1.1-.4-1-1.2zM159.4 51.3l.2-.3 .7.3-.7.3zM65.1 120.4l.6 0-.1-2.6-.3-2.7-.2-.8-.6-1.8-.5-1.1-1-1.5-.2-.1-.8-1.3-1.1 1.3 0 0-1 1.6-1.1-.7-.2-.9-.3-2.7 .2-2.6 .3-1.9 .3-.8 .3-2.6-.2-2.7-.4-1.7-.7-.9-.3-.2-1-.7-1-1.8-.1-.1-1-1.5-1.1-.6 0 2.2 0 2.7 0 2.6 0 2.7 0 2.6 0 1.7 1.1-.8 1-.6 .9 2.4-.1 2.6-.1 2.7 .4 2.1 0 .6 1 0 1 2.6 1.1 0 1 0 1.1 2.7 1 0 1 0zM71.3 115.4l1 .7 1.1.3 1 .2 1.1-.3 .6-1.2 .4-.5 1-1.9 .2-.2 .9-1.2 1-.8 1-.7 0 0 1.1-1.6 .5-1.1 .5-1 .8-1.6 .3-.6 .6-2.1 .4-1.6 .4-1 .6-1.1 1.1-.8 1-.3 1.1-.3 .1-.2 .6-2.6-.2-2.7-.4-2.7-.1-2.6 .6-2.7 .4-.7 1-.8 1.1-1 0-.1 1-1.7 .4-1 .6-2.6 0-.5 .4-2.2 .4-2.7 .3-2.1 .1-.5 .3-2.7 .4-2.6 .2-2.7 0-1 .1-1.6 .4-2.7 .2-2.7-.1-2.6-.4-2.7-.2-.4-1-2.2 0 0-1.1-1.4-.6-1.3-.4-.7-1-1.3-1.1.1-1 .8-1 .5-1.1.2-.9.4-.1 0-1.1.9-1 .7-1 .3-1.1.3-.7.5-.3.4-1 2.2-.1.1-.6 2.6-.4 1.5-.3 1.1-.6 2.7-.1.4-.9 2.3-.2.2-1 .4-1 .9-.6 1.1-.4 2.7-.1.5-.2 2.1-.5 2.7 0 2.6 .4 2.7 .2 2.7 0 2.6-.1 2.7-.5 2.6-.3.8-1.1.3-1 .6-.8 1-.2.3-1.1 1.8-.3.5-.7 2.1-.4.6-.3 2.7-.1 2.6-.3 1.1-.6 1.6-.2 2.6 .5 2.7 .3.6 1.1.8 1 .1 1.1-.3 1-.6 1 .5 1.1 1.4 0 .1 0 .4-1.1 2.3 0 0-1 1.2-.5 1.5 .3 2.6zM79.7 91.2l-.1-.2-.8-2.5-.2-.2-1.1-1.8-.2-.6-.7-2.7-.1-.6-.2-2 .1-2.7 .1-.9 .3-1.7 .6-2.7 .1-.7 .2-2 0-2.6 .2-2.7 .7-1.9 .2-.7 .6-2.7 .2-1.6 .1-1 .6-2.7 .3-.9 1.1-1.7 0-.1 1-1.4 .6-1.2 .5-.9 1-1.7 .1-.1 .9-1 1.1-1.2 .6-.4 .4-.3 1.1-.2 1 0 1-.1 1.1.6 0 0 1 1.7 .6.9 .4 1.1 .6 1.6 0 2.6-.5 2.7-.1.8-.2 1.9 0 2.6-.2 2.7-.6 2.2-.1.4-.9 2.7 0 .9-.2 1.7 .2 2.4 0 .3 0 .1-.5 2.6-.6.7-1 .2-1 .2-.5 1.5-.5 2.7-.1.3-.6 2.3-.4 1.2-1.1.3-1-1.1-1 .3-.4 2-.4 2.6-.3.7-.7 2-.3 1-1.1.9z" clip-path="url(#f_p6dbd4a64b3)" style="fill: #355f8d; stroke: #355f8d; stroke-width: 0.6"/>
<path d="M80.6 129.9l.9-1.5 .2-.7 .3-2 .3-2.6 .2-2.7 0-2.6 .2-2.3 1.1 0 1 1.8 1-.6 .4-1.6-.4-1.8-.2-.8-.3-2.7 .4-2.7 .1-.5 1.1-1.7 1 .8 1.1.1 .6-1.3 .4-.7 .7-2 .3-.6 1.1-1.5 .5-.5 .5-.9 .4-1.8 .1-2.6 .1-2.7 0-2.7 .3-2.6 .1-.3 1.1-2.2 .1-.2 .3-2.6 .2-2.7 .3-2.6 .1-.5 .3-2.2 .3-2.7 .2-2.6 .3-1.8 .1-.9 .5-2.6 .4-2 .1-.7 .3-2.6 .1-2.7-.2-2.7-.3-2.4 0-.2-.4-2.7-.6-2.6 0 0-1.1-1.7-.7-1-.3-.4-1.1-1.7-.2-.5-.8-1.2-1-.9-1.1 0-1 .5-1 .5-1.1.3-1 .3-.7.5-.4.2-1 .6-1 .3-1.1.1-1 .6-.6.8-.5.8-1 1.7-.1.2-.9 1.4-.7 1.2-.4 1.9-.1.8-.5 2.6-.4.8-1 1.9-.1 0-1 1.4-.6 1.3-.4 1.7-.2.9-.5 2.7-.4 1.4-.5 1.2-.5 1.2-.5 1.5-.3 2.6 .2 2.7 .6 2.3 .1.4 0 2.6-.1.3-1 2.3-.1.1-1 1.6-1 1 0 .1-.1-.1-1-.3-1-.3-1 .4-.3.2-.8 1.2-1 1.5 0 0 0 0-1-1.9-.2-.8-.9-1.4-1-.2-1.1 1.4-.1.2-.6 2.7-.3.9-1 .2-1.1-1-.1-.1-.9-1.2-1.1-1 0 2.2 0 2.6 0 .5 1.1.6 1 1.5 .1.1 1 1.8 1 .7 .3.2 .7.9 .4 1.7 .2 2.7-.3 2.6-.3.8-.3 1.9-.2 2.6 .3 2.7 .2.9 1.1.7 1-1.6 0 0 1.1-1.3 .8 1.3 .2.1 1 1.5 .5 1.1 .6 1.8 .2.8 .3 2.7 .1 2.6 .4 0 1 0 1.1 0 1 2.7 0-.1 .1.1 1 0 1 0 1 0 .3.7 .8-.3 .6-.4 .4-.2 1.1 0 .2.2 .8 1.3 .3 1.3 .2 1.3 .5 1.4 1.1 0 1 0 .8 1.9zM71.1 115.1l-.3-2.6 .5-1.5 1-1.2 0 0 1.1-2.3 0-.4 0-.1-1.1-1.4-1-.5-1 .6-1.1.3-1-.1-1.1-.8-.3-.6-.5-2.7 .2-2.6 .6-1.6 .3-1.1 .1-2.6 .3-2.7 .4-.6 .7-2.1 .3-.5 1.1-1.8 .2-.3 .8-1 1-.6 1.1-.3 .3-.8 .5-2.6 .1-2.7 0-2.6-.2-2.7-.4-2.7 0-2.6 .5-2.7 .2-2.1 .1-.5 .4-2.7 .6-1.1 1-.9 1-.4 .2-.2 .9-2.3 .1-.4 .6-2.7 .3-1.1 .4-1.5 .6-2.6 .1-.1 1-2.2 .3-.4 .7-.5 1.1-.3 1-.3 1-.7 1.1-.9 .1 0 .9-.4 1.1-.2 1-.5 1-.8 1.1-.1 1 1.3 .4.7 .6 1.3 1.1 1.4 0 0 1 2.2 .2.4 .4 2.7 .1 2.6-.2 2.7-.4 2.7-.1 1.6 0 1-.2 2.7-.4 2.6-.3 2.7-.1.5-.3 2.1-.4 2.7-.4 2.2 0 .5-.6 2.6-.4 1-1 1.7 0 .1-1.1 1-1 .8-.4.7-.6 2.7 .1 2.6 .4 2.7 .2 2.7-.6 2.6-.1.2-1.1.3-1 .3-1.1.8-.6 1.1-.4 1-.4 1.6-.6 2.1-.3.6-.8 1.6-.5 1-.5 1.1-1.1 1.6 0 0-1 .7-1 .8-.9 1.2-.2.2-1 1.9-.4.5-.6 1.2-1.1.3-1-.2-1.1-.3-1-.7zM131.5 128.6l1.1.9 1 .4 1.1.1 1-.1 1 0 1.1.1 1 0 1-.5 1.1-.7 .5-.4 .5-.4 1.1-1 1-1.1 .2-.2 .8-1 1.1-1 .8-.6 .2-.3 1.1-1.6 .2-.8 .5-2.6 .3-2.7 0-.6 .1-2 .3-2.7 .4-2.7 .2-1.5 .3-1.1-.1-2.7-.2-1.1-.1-1.5 .1-1.9 .1-.8 .6-2.6 .4-1.5 .3-1.2 .7-1.7 .5-1 .6-.8 1-1 .9-.8 .1-.4 .7-2.3 0-2.6 .4-2 .7-.7 .3-.1 1-.3 1.1-1.3 .6-.9 .4-.6 1.1-1.4 1-.3 1 2 .2.3-.2 1.5 0 1.1 0 2.7 0 .2 1.1 2.2 1-.6 .9-1.8 .2-.9 .2-1.8 .4-2.6 .4-.6 1-1 1.1 0 1 1.1 .2.5 .8 2.6 0 .1 .9 2.6 .2.5 0-.5 0-2.7 0-2.6 0-2.7 0-.3-1.1-1.3-.7-1.1-.3-.4-1-1.5-.7-.7-.4-.5-1-1.1-.8-1.1-.2-.2-1.1-.4-1 .1-1.1-.8-.8-1.3-.2-.3-.9.3-.1 0-1.1 1.9-.2.7-.7 2.7-.1.1-1.1 1.5-1 .4-1-1.6-.1-.4-.3-2.7-.7-2-.2-.6-.8-1.2-1-.8-1 2-.1.5-.2 2.1 0 2.7 .2 1.3 .3 1.3 .8 2.6 0 .1 .2 2.7-.2 2.6 0 .8-.2 1.9-.4 2.6-.5 1.1-1 1.6 0 .1-1.1 1.2-.5 1.3-.4 2.7-.1.5-.3 2.2-.4 2.6-.3 2.7 0 .6-.2 2-.1 2.7-.1 2.6 0 2.7 0 2.7-.3 2.6-.4 2.1-.2.6-.8 1.3-.9 1.3-.2.2-1 1.8-.3.7-.7 1.1-1.1 1.2-.5.3-.5.3-1.1.4-1 .2-1 .1-1.1.2-1 .2-1 .1-1.1-.1-1-.7-.6-.7-.5-.5-1-.8-1-.8-.4-.5-.7-1.7-.5-1-.5-1.7-.3-.9-.2-2.7 .1-2.6 .4-1.8 .1-.9 .7-2.7 .2-.8 .5-1.8 .6-1.6 .3-1.1 .7-1.9 .3-.7 .2-2.7-.5-2.2-.1-.4-.6-2.7 .1-2.7 .5-2.6 .1-.9 .3-1.8 .5-2.6 .2-.7 1.1-2 0 0 1-1.6 .8-1 .3-.4 1-.9 1-.6 1-.8 .1-.2 1-2.5 0-.1 1-2.3 .1-.2 .8-2.7 .2-.6 .4-2 .6-2.7 0-.2 1.1-.5 1 .7 0 0 0 0 1 0 1.1-.9 1-1.3 .4-.4 .7-1.2 1-.4 1 .2 1.1.4 1 .2 1.1-1.2 .2-.7 .8-1.8 .2-.9 .6-2.6 .2-1.2 .5-1.5-.5 0-1-2.6-1 0-1.1 0-.4-1.1-.6 1.1 0 0-1.1 1.2-1 .8-.4.6-.6.6-1.1.8-1 .8-.5.5-.6.8-1 1.1-1 .5-.6.2-.5.3-1 1.1-.7 1.3-.4 1-.5 1.7-.5 2.2-.1.4-.9 2.1-.3.6-.8 1.4-.4 1.2-.6 2.5-.1.2-.8 2.6-.1.3-1.1 1.6-.6.8-.4.5-1.1 1-1 1.1-.1.1-.9 2.6 0 .1-.2 2.6-.1 2.6-.5 2.7-.3 1.2-.5 1.4-.5 1.6-.5 1.1-.2 2.7 .7 2 .3.6 .7 2.5 .1.2-.1.1-.4 2.5-.6 2.7 0 .2-.8 2.4-.3.7-.9 2-.1.3-.6 2.4 0 2.6 0 2.7 .3 2.6 .3 1 .9 1.7 .1.1 1.1 1.1 1 1.4 0 .1 1.1 1.2 1 .7 .8.7z" clip-path="url(#f_p6dbd4a64b3)" style="fill: #2d708e; stroke: #2d708e; stroke-width: 0.6"/>
<path d="M135.7 134.2l1 .6 1.1-.2 1-.7 .2-.2 .8-.8 1.1-1.3 .4-.5 .6-.7 1.1-1 1-.9 .1-.1 .9-.7 1.1-.6 1-.5 1-.9 .1-.1 1-2.1 .1-.4 .9-2.7 0-.3 .6-2.3 .4-2.7 .1-.5 .5-2.1 .5-1.4 .7-1.3 .4-.5 1-1.9 .1-.3 .7-2.6 .2-1.6 .2-1.1-.2-2.5 0-.1-.5-2.7-.4-2.6 .9-2.7 0-.1 1.1-.5 1-1.1 .3-1 .7-2.6 0-.2 1.1-2 .8-.5 .2-.1 .1.1 1 1.1 .7 1.6 .3.5 1 1.3 .8.8 .3.3 1 .8 1.1.4 1-.7 .4-.8 .3-2.6 .3-2.7 0 0 .7-2.6 .4-.9 .3.9 .2 2.6 .3 2.7 .2.3 1 2.3 0 .1 1.1 1 0-1.1 0-2.6 0-2.7 0-2.1-.2-.5-.9-2.6 0-.1-.8-2.6-.2-.5-1-1.1-1.1 0-1 1-.4.6-.4 2.6-.2 1.8-.2.9-.9 1.8-1 .6-1.1-2.2 0-.2 0-2.7 0-1.1 .2-1.5-.2-.3-1-2-1 .3-1.1 1.4-.4.6-.6.9-1.1 1.3-1 .3-.3.1-.7.7-.4 2 0 2.6-.7 2.3-.1.4-.9.8-1 1-.6.8-.5 1-.7 1.7-.3 1.2-.4 1.5-.6 2.6-.1.8-.1 1.9 .1 1.5 .2 1.1 .1 2.7-.3 1.1-.2 1.5-.4 2.7-.3 2.7-.1 2 0 .6-.3 2.7-.5 2.6-.2.8-1.1 1.6-.2.3-.8.6-1.1 1-.8 1-.2.2-1 1.1-1.1 1-.5.4-.5.4-1.1.7-1 .5-1 0-1.1-.1-1 0-1 .1-1.1-.1-1-.4-1.1-.9-.2-.2-.8-.7-1-.7-1.1-1.2 0-.1-1-1.4-1.1-1.1-.1-.1-.9-1.7-.3-1-.3-2.6 0-2.7 0-2.6 .6-2.4 .1-.3 .9-2 .3-.7 .8-2.4 0-.2 .6-2.7 .4-2.5 .1-.1-.1-.2-.7-2.5-.3-.6-.7-2 .2-2.7 .5-1.1 .5-1.6 .5-1.4 .3-1.2 .5-2.7 .1-2.6 .2-2.6 0-.1 .9-2.6 .1-.1 1-1.1 1.1-1 .4-.5 .6-.8 1.1-1.6 .1-.3 .8-2.6 .1-.2 .6-2.5 .4-1.2 .8-1.4 .3-.6 .9-2.1 .1-.4 .5-2.2 .5-1.7 .4-1 .7-1.3 1-1.1 .5-.3 .6-.2 1-.5 1-1.1 .6-.8 .5-.5 1-.8 1.1-.8 .6-.6 .4-.6 1-.8 1.1-1.2 0 0 .6-1.1-.6-1.6-1.1 0-1 0-1 0-.8-2-.3.8-.3 1.2-.7 1.4-1.1.9-.5.4-.5.3-1 1-.9 1.3-.2.2-1 .9-.8 1.6-.3.3-1 2.3 0 .1-.8 2.6-.2.9-.4 1.8-.7 1.7-.4.9-.6 1.1-.7 1.6-.3 1.5-.3 1.1-.8 2.4-.1.3-.9 1.1-1.1.4-1-.1-1-.2-1.1-.2-1 .5-1.1.8-.2.3-.8 1.1-.7 1.6-.3 2.2-.1.5 .1.2 1 2 .2.4 .8 1.5 .5 1.2 .4 2.6-.4 2.7-.5 1.1-.6 1.5-.4 1.4-.3 1.3-.1 2.7 .2 2.6 .2 1.2 .3 1.5 .2 2.6-.5 2.1-.3.6-.7.7-1.1.8-.8 1.1-.2 2.7 .2 2.7 .2 2.6 .1 2.7 .5 2.5 0 .1 .8 2.7 .3.8 .9 1.8 .1.3 1 1.1 1.1 1.1 .1.2 .9 1.1 1.1 1 .8.6 .2 0 1 .7 1.1.6 1 .5 1.1.5 .4.3zM83.8 133.7l1 0 .7 0 .3-2.6 0-2.7 0-.5 .2-2.2 .9-1.4 .7-1.2 .3-.4 1.1-2.1 0-.2 1-1.7 .7-.9 .3-.5 1.1-1.3 .6-.9 .4-1 .5-1.6 .1-2.7-.2-2.7 .6-2.1 .2-.5 .9-1.8 .3-.9 .1-2.6-.2-2.7 0-2.6 .5-2.7 .3-.9 1.1-1.3 .2-.5 .8-2.4 0-.2 .4-2.7 .2-2.6 0-2.7-.1-2.6-.2-2.7 0-2.7 .1-2.6 .5-2.7 .1-.6 .5-2 .3-2.7 .2-2.6 0-2.7-.3-2.7-.5-2.6-.2-1.3-.1-1.4-.2-2.6-.5-2.7-.2-.3-1-1-1.1-.7-.5-.6-.5-.8-1.1-1.7-.1-.2-.9-1-1-.5-1.1-.1-1 .2-1 .3-1.1.2-1 .3-1.1.5-.3.1-.7.4-1 .3-1.1.2-1 .6-.9 1.2-.2.2-1 1.6-1 .8 0 .1-1.1.7-1 1.9 0 0-.6 2.6-.4 2.7 0 .2-1 2.4-.1.2-1 1.3-.6 1.2-.5 1.5-.3 1.2-.6 2.6-.1.4-.9 2.3-.1.3-1 2.3-.1.5-.7 2.2-.3 1.3-.7 1.3-.4.7-1 2 0 0-.6 2.7-.4.8-1.1.1-1-.7-1-.2-1.1.2-1 .5-1.1.6-1 .9-.2.4-.8 1.1-1.1.9-1-.6-1.1-1.4 0 2.7 0 2.6 0 .5 1.1 1 .9 1.2 .1.1 1.1 1 1-.2 .3-.9 .6-2.7 .1-.2 1.1-1.4 1 .2 .9 1.4 .2.8 1 1.9 0 0 0 0 1-1.5 .8-1.2 .3-.2 1-.4 1 .3 1 .3 .1.1 0-.1 1-1 1-1.6 .1-.1 1-2.3 .1-.3 0-2.6-.1-.4-.6-2.3-.2-2.7 .3-2.6 .5-1.5 .5-1.2 .5-1.2 .4-1.4 .5-2.7 .2-.9 .4-1.7 .6-1.3 1-1.4 .1 0 1-1.9 .4-.8 .5-2.6 .1-.8 .4-1.9 .7-1.2 .9-1.4 .1-.2 1-1.7 .5-.8 .6-.8 1-.6 1.1-.1 1-.3 1-.6 .4-.2 .7-.5 1-.3 1.1-.3 1-.5 1-.5 1.1 0 1 .9 .8 1.2 .2.5 1.1 1.7 .3.4 .7 1 1.1 1.7 0 0 .6 2.6 .4 2.7 0 .2 .3 2.4 .2 2.7-.1 2.7-.3 2.6-.1.7-.4 2-.5 2.6-.1.9-.3 1.8-.2 2.6-.3 2.7-.3 2.2-.1.5-.3 2.6-.2 2.7-.3 2.6-.1.2-1.1 2.2-.1.3-.3 2.6 0 2.7-.1 2.7-.1 2.6-.4 1.8-.5.9-.5.5-1.1 1.5-.3.6-.7 2-.4.7-.6 1.3-1.1-.1-1-.8-1.1 1.7-.1.5-.4 2.7 .3 2.7 .2.8 .4 1.8-.4 1.6-1 .6-1-1.8-1.1 0-.2 2.3 0 2.6-.2 2.7-.3 2.6-.3 2-.2.7-.9 1.5-.2.4 .2.8 1.1 0 1 0zM76.8 125.7l-.3-1.3-.8-1.3-.2-.2-1.1 0-.4.2-.6.4-.8.3 .8 1.9 1 0 1.1 0 1 0 .5 1.3zM69.2 123.1l.1 0-.1-.1 0 .1z" clip-path="url(#f_p6dbd4a64b3)" style="fill: #27808e; stroke: #27808e; stroke-width: 0.6"/>
<path d="M134.7 136.7l1 .9 1 .7 1.1-.1 1-.9 1-.9 .1 0 1-1.4 .8-1.3 .2-.4 1.1-1.4 .8-.8 .2-.2 1-.7 1.1-.2 1-.1 1.1-.6 .4-.9 .6-1.2 .6-1.5 .4-1.1 .9-1.5 .2-.4 1-1.8 .2-.5 .6-2.6 .3-1.2 .3-1.5 .7-2.2 .1-.4 .9-2.7 0-.1 .7-2.6 .4-1.6 .3-1 .7-2.1 .7-.6 .3-.3 1.1.3 .1 0 .9.6 1.1-.3 .3-.3 .7-1.1 .9-1.5 0-2.7 .1-1.2 1.1.4 1 .7 1.1.1 1-.5 1-.9 .8-1.2 .3-.4 1-.6 .3.3 .7-2 1.1 0 0-1.6-1.1-1 0-.1-1-2.3-.2-.3-.3-2.7-.2-2.6-.3-.9-.4.9-.7 2.6 0 0-.3 2.7-.3 2.6-.4.8-1 .7-1.1-.4-1-.8-.3-.3-.8-.8-1-1.3-.3-.5-.7-1.6-1-1.1-.1-.1-.2.1-.8.5-1.1 2 0 .2-.7 2.6-.3 1-1 1.1-1.1.5 0 .1-.9 2.7 .4 2.6 .5 2.7 0 .1 .2 2.5-.2 1.1-.2 1.6-.7 2.6-.1.3-1 1.9-.4.5-.7 1.3-.5 1.4-.5 2.1-.1.5-.4 2.7-.6 2.3 0 .3-.9 2.7-.1.4-1 2.1-.1.1-1 .9-1 .5-1.1.6-.9.7-.1.1-1 .9-1.1 1-.6.7-.4.5-1.1 1.3-.8.8-.2.2-1 .7-1.1.2-1-.6-.6-.5-.4-.3-1.1-.5-1-.5-1.1-.6-1-.7-.2 0-.8-.6-1.1-1-.9-1.1-.1-.2-1.1-1.1-1-1.1-.1-.3-.9-1.8-.3-.8-.8-2.7 0-.1-.5-2.5-.1-2.7-.2-2.6-.2-2.7 .2-2.7 .8-1.1 1.1-.8 .7-.7 .3-.6 .5-2.1-.2-2.6-.3-1.5-.2-1.2-.2-2.6 .1-2.7 .3-1.3 .4-1.4 .6-1.5 .5-1.1 .4-2.7-.4-2.6-.5-1.2-.8-1.5-.2-.4-1-2-.1-.2 .1-.5 .3-2.2 .7-1.6 .8-1.1 .2-.3 1.1-.8 1-.5 1.1.2 1 .2 1 .1 1.1-.4 .9-1.1 .1-.3 .8-2.4 .3-1.1 .3-1.5 .7-1.6 .6-1.1 .4-.9 .7-1.7 .4-1.8 .2-.9 .8-2.6 0-.1 1-2.3 .3-.3 .8-1.6 1-.9 .2-.2 .9-1.3 1-1 .5-.3 .5-.4 1.1-.9 .7-1.4 .3-1.2 .3-.8-.3-.6-1 0-1.1 0-1 0-1-2.7-1.1 0-1 0-1-2.5-.1.1-.2 2.4-.4 2.7-.2 2.6-.2 2.5 0 .2-.5 2.6-.5 1.6-.5 1.1-.6 1.8-.3.8-.6 2.7-.1.3-1 1.4-1.1-.3-.6-1.4-.4-.9-1.1-.9-.8 1.8 .1 2.7 .1 2.6-.4.7-1 .6-1.1.1-1 .5-.6.8-.5.6-.8 2-.2.4-1 2.3 0 0-1 2.6-.1.4-.7 2.3-.3 1.2-.4 1.5-.1 2.6 .5 1.5 1 .9 .4.3 .7.6 .7 2-.3 2.7-.4 1.2-.4 1.4-.5 2.7-.1 2.7-.1 2.6 0 .2-.6 2.5-.4.5-1 1.6-.3.5-.8 2.2-.1.5-.4 2.6-.4 2.7-.1.9-.3 1.8 .3 1.7 .1.9 .6 2.7 .3 2.6 0 .8 .1 1.9-.1 1.4 0 1.2 0 .5 1 2.2 .1.1 .1-.1 .9-1.1 1 .4 .5.7 .6.7 1 1.2 .8.8 .2.2 1.1 1 1 .9 .8.5 .3.2 1 .3 1 .3 1.1.5 1 .7 .7.7zM87.9 136.4l.8 0 .3-1.3 .1-1.4 .6-2.6 .3-1.1 1-1.5 .1-.1 1-2.4 0-.3 .4-2.6 .6-1.8 .2-.9 .8-1.7 .5-.9 .6-1.4 .8-1.3 .2-.5 1.1-1.5 .2-.6 .6-2.7 .2-.5 .6-2.2 .3-2.6-.2-2.7-.3-2.6-.2-2.7 .8-1.7 .9-.9 .2-.3 1-2.4-.3-2.7-.2-2.6 .4-2.7 .1-.5 .6-2.1 .2-2.7-.7-2.6-.1-.2-.7-2.5-.3-1.9-.1-.8 .1-1.3 .1-1.3 .5-2.7 .4-2.5 0-.1 .2-2.7 .1-2.6 .1-2.7-.3-2.7-.1-.4-.4-2.2-.4-2.7 0-2.6-.1-2.7-.1-.5-.6-2.1-.5-.7-1-1.2-1-.7-.2-.1-.9-.9-1-1.3-.6-.5-.5-.2-1-.4-1-.2-1.1-.2-1-.1-1 .1-1.1.2-1 .2-1.1.4-1 .2 0 0-1 .2-1.1.1-1 .5-1.1 1.3-.3.6-.7.9-1 .9-1.1.6-.2.3-.8 1-.7 1.6-.3 1.1-.6 1.6-.5 1.6-.6 1-.4.9-1.1 1.2-.4.6-.6.9-1 .8-1.1.2-1 .7-.1 0-.7 2.7-.2 2.7-.1.5-.2 2.1-.8 1.6-.7 1.1-.3.4-1.1.9-1 .5-1 .6-.7.2-.4.2-1 .1-1.1.7-1 .8-1 .1-1.1-.7-1-1.2 0 0 0 0-1.1 2.7 0 2.6 0 2.7 0 2.7 0 2.6 0 0 1.1 1.4 1 .6 1.1-.9 .8-1.1 .2-.4 1-.9 1.1-.6 1-.5 1.1-.2 1 .2 1 .7 1.1-.1 .4-.8 .6-2.7 0 0 1-2 .4-.7 .7-1.3 .3-1.3 .7-2.2 .1-.5 1-2.3 .1-.3 .9-2.3 .1-.4 .6-2.6 .3-1.2 .5-1.5 .6-1.2 1-1.3 .1-.2 1-2.4 0-.2 .4-2.7 .6-2.6 0 0 1-1.9 1.1-.7 0-.1 1-.8 1-1.6 .2-.2 .9-1.2 1-.6 1.1-.2 1-.3 .7-.4 .3-.1 1.1-.5 1-.3 1.1-.2 1-.3 1-.2 1.1.1 1 .5 .9 1 .1.2 1.1 1.7 .5.8 .5.6 1.1.7 1 1 .2.3 .5 2.7 .2 2.6 .1 1.4 .2 1.3 .5 2.6 .3 2.7 0 2.7-.2 2.6-.3 2.7-.5 2-.1.6-.5 2.7-.1 2.6 0 2.7 .2 2.7 .1 2.6 0 2.7-.2 2.6-.4 2.7 0 .2-.8 2.4-.2.5-1.1 1.3-.3.9-.5 2.7 0 2.6 .2 2.7-.1 2.6-.3.9-.9 1.8-.2.5-.6 2.1 .2 2.7-.1 2.7-.5 1.6-.4 1-.6.9-1.1 1.3-.3.5-.7.9-1 1.7 0 .2-1.1 2.1-.3.4-.7 1.2-.9 1.4-.2 2.2 0 .5 0 2.7-.3 2.6 .3 0 1.1 0z" clip-path="url(#f_p6dbd4a64b3)" style="fill: #21918c; stroke: #21918c; stroke-width: 0.6"/>
<path d="M96.2 139.7l1.1.5 1-1 0-.2 .8-2.6 .2-1.4 .2-1.3 0-2.6-.2-1.1-.6-1.6-.4-.8-1-1.3-.8-.6-.3-1.2-.1-1.4 .1-.4 1.1-.7 1 0 1-1.1 .2-.5 .4-2.6 .5-2.6 0-.1 .7-2.6 .3-1.2 .5-1.5 .6-2.3 0-.4 .3-2.6-.3-2.5-.1-.2-.3-2.6 .4-1.7 .1-1 .8-2.6 .1-.3 .8-2.4 .2-.8 .5-1.9 .3-2.6 .2-2.7 .1-2.6 0 0 0 0-.2-2.7-.3-2.6 0-2.7 .5-2.6 0-.1 0 0-.8-2.6-.3-.5-.6-2.2-.4-2.6 0-.5-.1-2.2 .1-2.6 0-.9 0-1.8 0-1.6 0-1.1-.2-2.6-.4-2.7-.1-2.6 0-2.7-.3-2.6 0-.1-1.1-2-.5-.6-.5-.5-1.1-1.1-.8-1.1-.2-.2-1-1.7-.5-.7-.6-.8-1-.4-1.1.4-1 .4-1-.1-1.1-.3-1-.2-1 0-1.1.1-1 0-1.1 0-1 .1-1 .1-1.1 0-1 .2-.4.5-.7.8-1 1.8 0 0-1 1.1-1.1.7-1 .9 0 0-1 1.9-.3.8-.8 2.2-.2.4-.8 1.5-1.1 1.2 0 0-1 1.3-.9 1.3-.1.2-1.1.6-1 .6-1 1.3-.1 0-1 2.2-.2.4-.8 2.2-.4.5-.7 1.2-1 .7-1 .4-.9.4-.2 0-1 .1-.2-.1-.9-1.2-.9-1.5-.1-.2 0 .2-.1.3-.6 2.4-.3 1.2-.7 1.4-.4.3 0 2.4-1 2.6 0 0 1 1.2 1.1.7 1-.1 1-.8 1.1-.7 1-.1 .4-.2 .7-.2 1-.6 1-.5 1.1-.9 .3-.4 .7-1.1 .8-1.6 .2-2.1 .1-.5 .2-2.7 .7-2.7 .1 0 1-.7 1.1-.2 1-.8 .6-.9 .4-.6 1.1-1.2 .4-.9 .6-1 .5-1.6 .6-1.6 .3-1.1 .7-1.6 .8-1 .2-.3 1.1-.6 1-.9 .7-.9 .3-.6 1.1-1.3 1-.5 1.1-.1 1-.2 0 0 1-.2 1.1-.4 1-.2 1.1-.2 1-.1 1 .1 1.1.2 1 .2 1 .4 .5.2 .6.5 1 1.3 .9.9 .2.1 1 .7 1 1.2 .5.7 .6 2.1 .1.5 .1 2.7 0 2.6 .4 2.7 .4 2.2 .1.4 .3 2.7-.1 2.7-.1 2.6-.2 2.7 0 .1-.4 2.5-.5 2.7-.1 1.3-.1 1.3 .1.8 .3 1.9 .7 2.5 .1.2 .7 2.6-.2 2.7-.6 2.1-.1.5-.4 2.7 .2 2.6 .3 2.7-1 2.4-.2.3-.9.9-.8 1.7 .2 2.7 .3 2.6 .2 2.7-.3 2.6-.6 2.2-.2.5-.6 2.7-.2.6-1.1 1.5-.2.5-.8 1.3-.6 1.4-.5.9-.8 1.7-.2.9-.6 1.8-.4 2.6 0 .3-1 2.4-.1.1-1 1.5-.3 1.1-.6 2.6-.1 1.4-.3 1.3 .3 0 1 0 1 2.6 1 0 .1-.1 1-1 1 .4 1.1.7 0 0zM134.7 139.1l1 .9 1 .8 1.1 0 1-.8 1-.9 .1-.1 1-.9 1-1.2 .4-.5 .7-1.3 .9-1.4 .1-.1 1-.5 1.1 0 1 .4 1.1-.1 1-2.1 .1-.2 .8-2.7 .1-.4 1.1-2.1 .2-.2 .8-.7 1.1-.9 .6-1 .4-1.7 .2-1 .4-2.6 .4-1.8 .3-.9 .8-2.6 0-.1 .8-2.6 .2-.7 1-1 1.1 1.1 .4.6 .6 1.3 .7 1.4 .4.5 1 1.9 .1.2 .9 2 .5.7 .6.7 1-.6 .1-.1 1-1.7 0-1 1-2.6 1-2.7 1.1 0 0-2.7 0-2.6 0-2.7 0-2.6 0-2.7 1-2.6 .3-.7-.3-.3-1 .6-.3.4-.8 1.2-1 .9-1 .5-1.1-.1-1-.7-1.1-.4-.1 1.2 0 2.7-.9 1.5-.7 1.1-.3.3-1.1.3-.9-.6-.1 0-1.1-.3-.3.3-.7.6-.7 2.1-.3 1-.4 1.6-.7 2.6 0 .1-.9 2.7-.1.4-.7 2.2-.3 1.5-.3 1.2-.6 2.6-.2.5-1 1.8-.2.4-.9 1.5-.4 1.1-.6 1.5-.6 1.2-.4.9-1.1.6-1 .1-1.1.2-1 .7-.2.2-.8.8-1.1 1.4-.2.4-.8 1.3-1 1.4-.1 0-1 .9-1 .9-1.1.1-1-.7-1-.9-.4-.3-.7-.7-1-.7-1.1-.5-1-.3-1-.3-.3-.2-.8-.5-1-.9-1.1-1-.2-.2-.8-.8-1-1.2-.6-.7-.5-.7-1-.4-.9 1.1-.1.1-.1-.1-1-2.2 0-.5 0-1.2 .1-1.4-.1-1.9 0-.8-.3-2.6-.6-2.7-.1-.9-.3-1.7 .3-1.8 .1-.9 .4-2.7 .4-2.6 .1-.5 .8-2.2 .3-.5 1-1.6 .4-.5 .6-2.5 0-.2 .1-2.6 .1-2.7 .5-2.7 .4-1.4 .4-1.2 .3-2.7-.7-2-.7-.6-.4-.3-1-.9-.5-1.5 .1-2.6 .4-1.5 .3-1.2 .7-2.3 .1-.4 1-2.6 0 0 1-2.3 .2-.4 .8-2 .5-.6 .6-.8 1-.5 1.1-.1 1-.6 .4-.7-.1-2.6-.1-2.7 .8-1.8 1.1.9 .4.9 .6 1.4 1.1.3 1-1.4 .1-.3 .6-2.7 .3-.8 .6-1.8 .5-1.1 .5-1.6 .5-2.6 0-.2 .2-2.5 .2-2.6 .4-2.7 .2-2.4 .1-.1-.1-.2-1 0-1 0-.1 0-.4 2.7-.6 2.4-.2.3-.8 1.4-.3 1.2-.7 2.6-.1.1-1 1.9-1 .1-1.1-.7-.9-1.3-.1-.2-1-1.6-1.1-.9-1 .1-1.1.9-.7 1.7-.2 2.6 .2 2.7-.1 2.6-.2 1.8-.1.9-.6 2.7-.3 1.1-.6 1.5-.5 1.4-.6 1.3-.4.9-.9 1.7-.1.6-.7 2.1-.4 2.6 0 .2-.3 2.5-.7 1.8-.3.9-.5 2.6 .4 2.7 .4 1.1 .5 1.5 .5 2.1 .2.6 .3 2.6-.4 2.7-.1.5-.4 2.2-.6 2.6 0 .1-.8 2.6-.3 2.2 0 .4 0 2.5 0 .2 0 0-.1 2.6-.5 2.7-.4 2-.1.7 0 2.6 .1.3 .6 2.4 .4 1.6 .3 1 .2 2.7-.1 2.6 .1 2.7 .6 2 .2.7 .8 1 1.1.6 1 .2 1 .2 1.1.6 0 0 1 .7 1 .7 1.1.5 1 .5 .9.3 .2 0 1 .2 1 .2 1.1.5 1 .8 1 .9z" clip-path="url(#f_p6dbd4a64b3)" style="fill: #1fa188; stroke: #1fa188; stroke-width: 0.6"/>
<path d="M100.4 144.3l.5 0 .5-1.5 .6-1.1 .3-2.7 .2-1.6 1-.7 1 .6 1.1-.8 0-.1 1-2.7 0 0 .4-2.6 .4-2.7 .3-1.5 .2-1.2-.2-1-1.1-1.6 0 0-1-.9-1.1-.7-.8-1.1-.2-2.6 1-2.5 .1-.2 .5-2.6-.2-2.7-.1-2.7 .3-2.6 .5-1.7 .4-1 .6-.8 1.1-.8 .9-1 .1-.2 .6-2.5-.2-2.6-.4-2-.2-.7-.8-2.7 0-.2-.2-2.4 0-2.7 .2-2.5 0-.1 .5-2.7 .5-1.6 .3-1 .4-2.7 .1-2.7-.4-2.6-.4-1-1-1.3-.6-.4-.5-.5-1-1.9-.1-.2-.2-2.7 .1-2.6 .1-2.7 .1-.8 .2-1.9 .1-2.6-.3-2.7 0 0-.5-2.6-.3-2.7-.3-1.4-.1-1.2-.5-2.7-.4-2.7 0-2.6 0-.3-.6.3-.4 0-1.1.6-1 .1-1.1-.6 0-.1-1-1.2-.9-1.5-.1-.1-1.1-1.3-1-.4-1.1.5-1 .6-1 0-1.1-.3-1-.1-1 0-1.1-.2-1-.7-1.1-.4-1 .5-1 .6-1.1.1-1 0-1.1.8-.2.4-.8 1.8-.5.9-.5.7-1.1.8-1 .7-.4.4-.6.8-1.1 1.8-.1.1-.9 1.9-1.1.5-1 0-.3.3-.7 1-.6 1.6-.5 1-1 1.5-.2.2-.9.9-.7 1.7-.3.6-1 2.1 0 .1-1.1 1.3-1 .7-1 .3-1.1-.5-1-1.8-.1-.1-.6-1.1-.4 1.1-1 2.6 0 2.5 .1.2 .9 1.5 .9 1.2 .2.1 1-.1 .2 0 .9-.4 1-.4 1-.7 .7-1.2 .4-.5 .8-2.2 .2-.4 1-2.2 .1 0 1-1.3 1-.6 1.1-.6 .1-.2 .9-1.3 1-1.3 0 0 1.1-1.2 .8-1.5 .2-.4 .8-2.2 .3-.8 1-1.9 0 0 1-.9 1.1-.7 1-1.1 0 0 1-1.8 .7-.8 .4-.5 1-.2 1.1 0 1-.1 1-.1 1.1 0 1 0 1.1-.1 1 0 1 .2 1.1.3 1 .1 1-.4 1.1-.4 1 .4 .6.8 .5.7 1 1.7 .2.2 .8 1.1 1.1 1.1 .5.5 .5.6 1.1 2 0 .1 .3 2.6 0 2.7 .1 2.6 .4 2.7 .2 2.6 0 1.1 0 1.6 0 1.8 0 .9-.1 2.6 .1 2.2 0 .5 .4 2.6 .6 2.2 .3.5 .8 2.6 0 0 0 .1-.5 2.6 0 2.7 .3 2.6 .2 2.7 0 0 0 0-.1 2.6-.2 2.7-.3 2.6-.5 1.9-.2.8-.8 2.4-.1.3-.8 2.6-.1 1-.4 1.7 .3 2.6 .1.2 .3 2.5-.3 2.6 0 .4-.6 2.3-.5 1.5-.3 1.2-.7 2.6 0 .1-.5 2.6-.4 2.6-.2.5-1 1.1-1 0-1.1.7-.1.4 .1 1.4 .3 1.2 .8.6 1 1.3 .4.8 .6 1.6 .2 1.1 0 2.6-.2 1.3-.2 1.4-.8 2.6 0 .2-1 1-1.1-.5-1-.7 0 0-1.1-.7-1-.4-1 1-.1.1 .1 0 1 0 1 0 1.1 2.7 1 0 1.1 0 1 0 1 0zM102.4 128.4l.1-.6 1 .6 0 0 0 0-1 1zM135.7 142.1l1 .9 1.1.2 1-.7 .9-.8 .1-.2 1.1-.8 1-.6 1.1-.7 .5-.4 .5-.5 1-.9 1.1.2 1 .6 1.1-.1 1-.7 1-1.1 .1-.1 .7-2.7 0-2.6 .3-.9 .9-1.8 .1-.1 1.1-.2 1-.8 .8-1.6 .2-.5 1.1-1.8 .4-.3 .6-1.7 .5-1 .1-2.6 .4-.9 .7.9 .4.8 1 1.1 1.1.4 .3.3 .7 1 1 1.7 0 .1 .5 1.2 .6-1.3 1-2.7 1.1-2.6 0-1.7-1 1.7-.1.1-1 .6-.6-.7-.5-.7-.9-2-.1-.2-1-1.9-.4-.5-.7-1.4-.6-1.3-.4-.6-1.1-1.1-1 1-.2.7-.8 2.6 0 .1-.8 2.6-.3.9-.4 1.8-.4 2.6-.2 1-.4 1.7-.6 1-1.1.9-.8.7-.2.2-1.1 2.1-.1.4-.8 2.7-.1.2-1 2.1-1.1.1-1-.4-1.1 0-1 .5-.1.1-.9 1.4-.7 1.3-.4.5-1 1.2-1 .9-.1.1-1 .9-1 .8-1.1 0-1-.8-1-.9-.1-.1-1-.9-1-.8-1.1-.5-1-.2-1-.2-.2 0-.9-.3-1-.5-1.1-.5-1-.7-1-.7 0 0-1.1-.6-1-.2-1-.2-1.1-.6-.8-1-.2-.7-.6-2-.1-2.7 .1-2.6-.2-2.7-.3-1-.4-1.6-.6-2.4-.1-.3 0-2.6 .1-.7 .4-2 .5-2.7 .1-2.6 0 0 0-.2 0-2.5 0-.4 .3-2.2 .8-2.6 0-.1 .6-2.6 .4-2.2 .1-.5 .4-2.7-.3-2.6-.2-.6-.5-2.1-.5-1.5-.4-1.1-.4-2.7 .5-2.6 .3-.9 .7-1.8 .3-2.5 0-.2 .4-2.6 .7-2.1 .1-.6 .9-1.7 .4-.9 .6-1.3 .5-1.4 .6-1.5 .3-1.1 .6-2.7 .1-.9 .2-1.8 .1-2.6-.2-2.7 .2-2.6 .7-1.7 1.1-.9 1-.1 1.1.9 1 1.6 .1.2 .9 1.3 1.1.7 1-.1 1-1.9 .1-.1 .7-2.6 .3-1.2 .8-1.4 .2-.3 .6-2.4 .4-2.7-1 0-1-2.6-1 0-1.1 0-.9-2.4 .5 2.4 .2 2.6-.3 2.7-.5 1.5-1.1-.2-.8-1.3-.2-.6-1-1.9-1.1.8-.9 1.7-.1.1-1.1.5-1-.3-.6-.3-.4-.4-.7.4-.4.3-.5 2.4-.5 1.4-.3 1.2-.7 2.4-.1.3-.4 2.6-.2 2.7-.4 2.5 0 .1-1 1.7-1.1-.2-1 0-.8 1.2-.1 2.7 .8 2.6 .1.3 1 2.4-.4 2.6-.6 2-.1.7-.3 2.6-.2 2.7-.4 2.2-.2.5-.5 2.6 0 2.7-.3 2.6-.1 1.2-.1 1.5 .1 1 .2 1.6 .2 2.7-.2 2.7 0 2.6 .2 2.7 .2 2.6 .4 2.7 .1.3 .2 2.3-.2 2.7 0 0-.3 2.7-.1 2.6 .1 2.7 .2 2.6 0 2.7 .1.7 .2 1.9 .6 2.7 .2.7 .5 2 .5 1.1 .8 1.5 .3.4 1 1.1 1.1.8 .8.4 .2.1 1 .3 1.1.3 1 .4 1 .2 1.1.2 1 .3 1.1.3 1 .2 1 .3 .2 0 .9.4 1 .7 1.1.9 .6.7zM120.7 54l.5-1 .4-1.7 .6-.7 1 .7 0 0 0 .4-.3 2.3-.7 1-1 0zM56.1 59.3l.7-1.4 .3-1.2 .6-2.4-.9 2.4-1.1 2.6 0 .3zM110.8 56.8l1 .3 .3-.4 .6-2.7-.9-1.2-1 .3-.7.9 .5 2.7z" clip-path="url(#f_p6dbd4a64b3)" style="fill: #2ab07f; stroke: #2ab07f; stroke-width: 0.6"/>
<path d="M104.5 147l1.1 0 1 0 .1 0 1-1.8 .2-.9 .7-2.6 .1-.6 .7-2.1 .3-.9 .5-1.7 .1-2.7-.1-2.6 .2-2.7 .4-2 .1-.7 .7-2.6 .2-1.2 1 1.1 .1.1 .5 2.6 .5 1.5 .4 1.2 .6 1.9 .3.8 .8 2 .3.6 .7.8 1 1.3 .5.6 .6.6 1 1.2 .8.8 .3.3 1 .7 1 .1 1.1-.1 1 0 1 0 1.1.1 1 .2 1.1.3 1 .3 1 .2 1.1.3 .5.3 .5.3 1.1.9 1 1.3 .2.1 .8 1 1.1.4 1-.4 1-1 0 0 1.1-.9 1-.4 1.1.2 1 .2 1-.5 1.1-.6 1-.2 1.1-.4 0 0 1-.8 1-.9 1.1-.9 .1-.1 .9-1.3 1-1.3 .1-.2 1-2 .3-.5 .7-2.2 .2-.4 .9-2 1-.6 1 .3 1.1.7 1 1.6 0 0 .9 2.6 .1.3 .1-.3 1-2.6 0-2.7 1-2.7 .5-1.3-.5-1.2 0-.1-1-1.7-.7-1-.3-.3-1.1-.4-1-1.1-.4-.8-.7-.9-.4.9-.1 2.6-.5 1-.6 1.7-.4.3-1.1 1.8-.2.5-.8 1.6-1 .8-1.1.2-.1.1-.9 1.8-.3.9 0 2.6-.7 2.7-.1.1-1 1.1-1 .7-1.1.1-1-.6-1.1-.2-1 .9-.5.5-.5.4-1.1.7-1 .6-1.1.8-.1.2-.9.8-1 .7-1.1-.2-1-.9-.4-.4-.6-.7-1.1-.9-1-.7-.9-.4-.2 0-1-.3-1-.2-1.1-.3-1-.3-1.1-.2-1-.2-1-.4-1.1-.3-1-.3-.2-.1-.8-.4-1.1-.8-1-1.1-.3-.4-.8-1.5-.5-1.1-.5-2-.2-.7-.6-2.7-.2-1.9-.1-.7 0-2.7-.2-2.6-.1-2.7 .1-2.6 .3-2.7 0 0 .2-2.7-.2-2.3-.1-.3-.4-2.7-.2-2.6-.2-2.7 0-2.6 .2-2.7-.2-2.7-.2-1.6-.1-1 .1-1.5 .1-1.2 .3-2.6 0-2.7 .5-2.6 .2-.5 .4-2.2 .2-2.7 .3-2.6 .1-.7 .6-2 .4-2.6-1-2.4-.1-.3-.8-2.6 .1-2.7 .8-1.2 1 0 1.1.2 1-1.7 0-.1 .4-2.5 .2-2.7 .4-2.6 .1-.3 .7-2.4 .3-1.2 .5-1.4 .5-2.4 .4-.3 .7-.4 .4.4 .6.3 1 .3 1.1-.5 .1-.1 .9-1.7 1.1-.8 1 1.9 .2.6 .8 1.3 1.1.2 .5-1.5 .3-2.7-.2-2.6-.5-2.4-.1-.3-1.1 0-1 0-1 0-1.1-2.6-1 0-1.1 0-1-2.7-.8 0-.2.3-.9 2.4-.2.4-1 2.2 0 0-1 2.4-.1.3-.5 2.6-.3 2.7-.2.9-.5 1.8-.5 1.5-.6 1.1-.5 1-1 .9-.7.8-.3.3-1.1 1.7-.5.6-.5.6-1.1.3-1-.3-1-.4-.3-.2-.8-1.3-.4-1.3-.3-2.7-.3-2.6 0-.1-1-.3-1.1-.3-.7-2-.2-2.7 .2-2.6-.1-2.7-.2-1.4-.3-1.2-.8-2.2-.3-.5-.7-.9-1 .3-.5.6-.6.9-1 1.7-.1.1-1 .5-1-.3-.2-.2-.8-.8-1.1-.9-1-.4-1.1.4-1 .4-1 .1-1.1-.1-1 0-1-.1-1.1-.5-.9-.8-.1-.1-1.1-.2-.5.3-.5.4-1 .9-1.1.2-1 0-1.1.6-.4.6-.6 1-1 1.6 0 .1-1.1.9-1 .3-1 .8-.3.6-.8 1.2-1 1.4 0 .1-1.1.4-1-.2-1 .1-1.1 1.3-.4 1-.6 1.5-1 1.2-.1 0-1 .9-.5 1.7-.5 2.7 0 .2-1.1 2.4 0 0-1 .2-.4-.2-.6-.4-1.1-.8-.3-.6-.7 1.8-.7 1.6 .6 1.1 .1.1 1 1.8 1.1.5 1-.3 1-.7 1.1-1.3 0-.1 1-2.1 .3-.6 .7-1.7 .9-.9 .2-.2 1-1.5 .5-1 .6-1.6 .7-1 .3-.3 1 0 1.1-.5 .9-1.9 .1-.1 1.1-1.8 .6-.8 .4-.4 1-.7 1.1-.8 .5-.7 .5-.9 .8-1.8 .2-.4 1.1-.8 1 0 1.1-.1 1-.6 1-.5 1.1.4 1 .7 1.1.2 1 0 1 .1 1.1.3 1 0 1-.6 1.1-.5 1 .4 1.1 1.3 .1.1 .9 1.5 1 1.2 0 .1 1.1.6 1-.1 1.1-.6 .4 0 .6-.3 0 .3 0 2.6 .4 2.7 .5 2.7 .1 1.2 .3 1.4 .3 2.7 .5 2.6 0 0 .3 2.7-.1 2.6-.2 1.9-.1.8-.1 2.7-.1 2.6 .2 2.7 .1.2 1 1.9 .5.5 .6.4 1 1.3 .4 1 .4 2.6-.1 2.7-.4 2.7-.3 1-.5 1.6-.5 2.7 0 .1-.2 2.5 0 2.7 .2 2.4 0 .2 .8 2.7 .2.7 .4 2 .2 2.6-.6 2.5-.1.2-.9 1-1.1.8-.6.8-.4 1-.5 1.7-.3 2.6 .1 2.7 .2 2.7-.5 2.6-.1.2-1 2.5 .2 2.6 .8 1.1 1.1.7 1 .9 0 0 1.1 1.6 .2 1-.2 1.2-.3 1.5-.4 2.7-.4 2.6 0 0-1 2.7 0 .1-1.1.8-1-.6-1 .7-.2 1.6-.3 2.7-.6 1.1-.5 1.5 .5 0 1.1 0 1 0zM109.2 115.1l-.4-2.6-.1-2.3 0-.4-.4-2.7 .4-.9 .8-1.7 .2-.2 1.1-1.6 .4-.9 .6-1.2 1-.7 .8 1.9 .3 1.7 .1 1 .1 2.6 0 2.7-.1 2.7-.1.6-.7 2-.4 1-1 .7-1-.4-1.1-.6zM111.7 91.2l.1-.4 .2.4-.2.6zM110.6 56.7l-.5-2.7 .7-.9 1-.3 .9 1.2-.6 2.7-.3.4-1-.3zM102.5 129.4l1-1 0 0 0 0-1-.6-.1.6zM121.2 55l1 0 .7-1 .3-2.3 0-.4 0 0-1-.7-.6.7-.4 1.7-.5 1z" clip-path="url(#f_p6dbd4a64b3)" style="fill: #44bf70; stroke: #44bf70; stroke-width: 0.6"/>
<path d="M108.7 149.7l1 0 1.1 0 .8 0 .2-.8 .2-1.9 .6-2.7 .2-1.3 .3-1.3 .6-2.7 .2-.7 1-.3 1.1.1 1 .2 1 .5 .2.2 .9.9 1 1.4 .3.4 .8 1 1 .6 1-.1 1.1-.4 1-.3 1-.1 1.1 0 1 .3 1.1.4 1 .4 1 .1 1.1 0 1 .4 .4.3 .7.8 1 1.5 .3.4 .7.9 1.1.6 1-.1 1-.7 1-.7 .1-.1 1-.2 1.1.3 1-.1 1-.5 1.1-.9 1-.6 1.1-.5 .1-.1 .9-.6 1-.9 1.1-.9 .2-.2 .8-.7 1.1-1.1 .7-.9 .3-.4 1-.8 1.1-.7 1-.5 1-.1 1.1 1.4 .2 1.1 .8 0 0-2.6 1-2.4-.1-.3-.9-2.6 0 0-1-1.6-1.1-.7-1-.3-1 .6-.9 2-.2.4-.7 2.2-.3.5-1 2-.1.2-1 1.3-.9 1.3-.1.1-1.1.9-1 .9-1 .8 0 0-1.1.4-1 .2-1.1.6-1 .5-1-.2-1.1-.2-1 .4-1.1.9 0 0-1 1-1 .4-1.1-.4-.8-1-.2-.1-1-1.3-1.1-.9-.5-.3-.5-.3-1.1-.3-1-.2-1-.3-1.1-.3-1-.2-1.1-.1-1 0-1 0-1.1.1-1-.1-1-.7-.3-.3-.8-.8-1-1.2-.6-.6-.5-.6-1-1.3-.7-.8-.3-.6-.8-2-.3-.8-.6-1.9-.4-1.2-.5-1.5-.5-2.6-.1-.1-1-1.1-.2 1.2-.7 2.6-.1.7-.4 2-.2 2.7 .1 2.6-.1 2.7-.5 1.7-.3.9-.7 2.1-.1.6-.7 2.6-.2.9-1 1.8 1 0zM109.7 115.8l1.1.6 1 .4 1-.7 .4-1 .7-2 .1-.6 .1-2.7 0-2.7-.1-2.6-.1-1-.3-1.7-.8-1.9-1 .7-.6 1.2-.4.9-1.1 1.6-.2.2-.8 1.7-.4.9 .4 2.7 0 .4 .1 2.3 .4 2.6zM111.8 91.8l.2-.6-.2-.4-.1.4zM63 46.2l1-.2 0 0 1.1-2.4 0-.2 .5-2.7 .5-1.7 1-.9 .1 0 1-1.2 .6-1.5 .4-1 1.1-1.3 1-.1 1 .2 1.1-.4 0-.1 1-1.4 .8-1.2 .3-.6 1-.8 1-.3 1.1-.9 0-.1 1-1.6 .6-1 .4-.6 1.1-.6 1 0 1.1-.2 1-.9 .5-.4 .5-.3 1.1.2 .1.1 .9.8 1.1.5 1 .1 1 0 1.1.1 1-.1 1-.4 1.1-.4 1 .4 1.1.9 .8.8 .2.2 1 .3 1-.5 .1-.1 1-1.7 .6-.9 .5-.6 1-.3 .7.9 .3.5 .8 2.2 .3 1.2 .2 1.4 .1 2.7-.2 2.6 .2 2.7 .7 2 1.1.3 1 .3 0 .1 .3 2.6 .3 2.7 .4 1.3 .8 1.3 .3.2 1 .4 1 .3 1.1-.3 .5-.6 .5-.6 1.1-1.7 .3-.3 .7-.8 1-.9 .5-1 .6-1.1 .5-1.5 .5-1.8 .2-.9 .3-2.7 .5-2.6 .1-.3 1-2.4 0 0 1-2.2 .2-.4 .9-2.4 .2-.3-.2 0-1.1 0-1 0-1-2.6-1.1 0-1 0-.9-2.3 0 2.3-.2.2-1 0-.4-.2-.6-.2-1.1-.3-1 .4-.1.1-.7 2.6-.1 2.7-.1 2.6 .1 2.7 .2 2.6 .3 2.7 .1 2.7-.8 1.7-1-1.4-.1-.3-.4-2.7-.5-1-1.1-1.7 0 0-1-.7-1-1.6-.1-.3-.6-2.7-.4-2.1-.1-.5-.4-2.7-.4-2.6-.1-1.2-.4-1.5-.7-1.1-1 .1-1 1-.1 0-1 1.3-1 1-.4.4-.7.8-1 .8-1-.1-1.1-.8-1-.2-1.1.4-1 .3-1-.1-1.1 0-1 0-1-.2-1.1-.5-.7-.4-.3-.2-1.1-.1-.3.3-.7.4-1 1-1.1.3-1 0-1.1.6-.3.3-.7.8-1 1-1.1.4-1-.2-1 .3-.3.4-.8 1.3-.5 1.3-.5 1-1.1.6-1-.5-1-.3-1.1.1-1 .2-1.1.3-1 .2-.7.3-.3.8-1.1 2.6-1 2.7-1 2.7-1.1 2.6 0 2.7-.3.8 .3.6 1.1.8 .6.4z" clip-path="url(#f_p6dbd4a64b3)" style="fill: #67cc5c; stroke: #67cc5c; stroke-width: 0.6"/>
<path d="M149.2 155.4l.7.4 .3-.8 1.1 0 1-2.7 .5 0-.5-1.2-1-.2-1.1.1-1 1.3 0 .1-.5 2.6zM116 154.4l.4-2.1 .3-2.6 .1-2.7 .2-2.7 0 0 1-.9 1 .9 .1.1 .8 2.6 .2.4 1.1 1 1-.9 .4-.5 .6-.3 1.1-.5 1-.3 1 0 1.1.2 1 .6 .4.3 .7.9 1 .8 1-.5 1.1-1.2 1 .1 1.1 1.4 .9 1.2 .1 0 1 1.1 1.1.8 1 .2 1-.2 1.1.3 .4.4 .6.7 1.1.5 1-.9 .3-.3 .7-.8 1.1-1.8 0 0 1-1.1 1.1-.5 1-.3 .7-.8 .3-.1 1.1-.4 1 .3 .2.2 .7 2.7 .2.4 .8.1 .2-.5 1-2.7 1.1-2.7 1 0 1-2.6 1.1-2.7 .2 0-.2-1.1-1.1-1.4-1 .1-1 .5-1.1.7-1 .8-.3.4-.7.9-1.1 1.1-.8.7-.2.2-1.1.9-1 .9-.9.6-.1.1-1.1.5-1 .6-1.1.9-1 .5-1 .1-1.1-.3-1 .2-.1.1-1 .7-1 .7-1 .1-1.1-.6-.7-.9-.3-.4-1-1.5-.7-.8-.4-.3-1-.4-1.1 0-1-.1-1-.4-1.1-.4-1-.3-1.1 0-1 .1-1 .3-1.1.4-1 .1-1-.6-.8-1-.3-.4-1-1.4-.9-.9-.2-.2-1-.5-1-.2-1.1-.1-1 .3-.2.7-.6 2.7-.3 1.3-.2 1.3-.6 2.7-.2 1.9-.2.8 .2 0 1 2.6 1.1 0 1 0 .9 2.2zM111.8 38.4l1 1.4 .8-1.7-.1-2.7-.3-2.7-.2-2.6-.1-2.7 .1-2.6 .1-2.7 .7-2.6 .1-.1 1-.4 1.1.3 .6.2 .4.2 1 0 .2-.2 0-2.3-.2-.4-1 0-1 0-1.1 0-1-2.7-1.1 0-1 0 0 0-.1 0-.6 2.7-.1 2.7 .1 2.6-.1 2.7-.2 1.7-.5.9-.6.5-.6-.5-.4-.3-.8-2.3-.2-2-.1-.7 .1-1.6 0-1 0-2.7 0-.5-.3-2.2-.2-2.6-.1-2.7-.5 0-1 0-1.1 0-.3 0-.7 1.6-.4 1.1-.6 1.2-.7 1.4-.4.6-1 1.3-.8.8-.3.3-1 .8-1 0-1.1-.6-1 0-1.1.6-1 .2-1-.3-1.1-.2-1 0-1-.1-1.1-.4-.6-.3-.4-.2-1.1-.1-.3.3-.7.5-1 .9-1.1.3-1-.1-1.1.5-.5.6-.5.4-1 .4-1.1-.6-.2-.2-.8-1.7-1-1 0-.2-.1.2-1 1.4-.6 1.3-.4.6-1.1.5-1-.3-.3 0-.7 1.8-1.1 0-1 2.7-1.1 2.6-1 0-.7 1.9 .7-.3 1-.2 1.1-.3 1-.2 1.1-.1 1 .3 1 .5 1.1-.6 .5-1 .5-1.3 .8-1.3 .3-.4 1-.3 1 .2 1.1-.4 1-1 .7-.8 .3-.3 1.1-.6 1 0 1.1-.3 1-1 .7-.4 .3-.3 1.1.1 .3.2 .7.4 1.1.5 1 .2 1 0 1.1 0 1 .1 1-.3 1.1-.4 1 .2 1.1.8 1 .1 1-.8 .7-.8 .4-.4 1-1 1-1.3 .1 0 1-1 1-.1 .7 1.1 .4 1.5 .1 1.2 .4 2.6 .4 2.7 .1.5 .4 2.1 .6 2.7 .1.3 1 1.6 1 .7 0 0 1.1 1.7 .5 1 .4 2.7z" clip-path="url(#f_p6dbd4a64b3)" style="fill: #90d743; stroke: #90d743; stroke-width: 0.6"/>
<path d="M121.2 160.3l1 0 1 0 .4 0 .7-1.3 .6-1.4 .4-1 1-.8 1.1-.1 .9-.7 .1-.1 1.1-.5 1-.1 1-.2 1.1-.3 1-.5 1.1-.3 1 .2 1 .9 1 .9 .1 0 1 .3 1 .1 1.1 1 1 1.2 0 .1 1.1 1.2 1 .7 .5.7 .5 0 1.1 0 1-2.7 1.1 0 1 0 .7-1.8-.7-.4-.5-.4 .5-2.6 0-.1 1-1.3 1.1-.1 1 .2 .5 1.2 .6 0 .8-2.1-.8-.1-.2-.4-.7-2.7-.2-.2-1-.3-1.1.4-.3.1-.7.8-1 .3-1.1.5-1 1.1 0 0-1.1 1.8-.7.8-.3.3-1 .9-1.1-.5-.6-.7-.4-.4-1.1-.3-1 .2-1-.2-1.1-.8-1-1.1-.1 0-.9-1.2-1.1-1.4-1-.1-1.1 1.2-1 .5-1-.8-.7-.9-.4-.3-1-.6-1.1-.2-1 0-1 .3-1.1.5-.6.3-.4.5-1 .9-1.1-1-.2-.4-.8-2.6-.1-.1-1-.9-1 .9 0 0-.2 2.7-.1 2.7-.3 2.6-.4 2.1-.2.1 .2.5 1 0 1 0 1.1 2.6 1 0zM109.7 27.9l.6-.5 .5-.9 .2-1.7 .1-2.7-.1-2.6 .1-2.7 .6-2.7 .1 0-1-2.6-1.1 0-1 0-1-2.7-.6 0 .1 2.7 .2 2.6 .3 2.2 0 .5 0 2.7 0 1-.1 1.6 .1.7 .2 2 .8 2.3 .4.3zM71.3 20.3l1 .3 1.1-.5 .4-.6 .6-1.3 1-1.4 .1-.2 0 .2 1 1 .8 1.7 .2.2 1.1.6 1-.4 .5-.4 .5-.6 1.1-.5 1 .1 1.1-.3 1-.9 .7-.5 .3-.3 1.1.1 .4.2 .6.3 1.1.4 1 .1 1 0 1.1.2 1 .3 1-.2 1.1-.6 1 0 1.1.6 1 0 1-.8 .3-.3 .8-.8 1-1.3 .4-.6 .7-1.4 .6-1.2 .4-1.1 .7-1.6-.7 0-1-2.6-.6 0-.4 2.6-.1.2-.5 2.5-.5 1-1.1 1.5-.1.1-.9.5-1-.2-.8-.3-.3-.1-.2.1-.8.4-1.1.7-1 .1-1-.6-1.1-.4-1 .1-1 .1-1.1-.3-.1-.1-.9-.5-1.1-.3-1 .5-.6.3-.4.3-.8-.3-.3-.2-1-2.2-.1-.2-1-2.5 0-.2-1 0-1 0-1.1 2.7-1 0-1 2.6-1.1 0-1 2.7-1.1 2.7-1 0-.3.8z" clip-path="url(#f_p6dbd4a64b3)" style="fill: #bddf26; stroke: #bddf26; stroke-width: 0.6"/>
<path d="M124.3 160.3l1 0 1 0 1.1 0 1 0 1.1 0 1 0 1 0 1.1 0 1 0 1.1 0 1 0 1 0 1.1 0 1 0 1 0 1.1 0 1 0 1.1 0 1 0 .5 0-.5-.7-1-.7-1.1-1.2 0-.1-1-1.2-1.1-1-1-.1-1-.3-.1 0-1-.9-1-.9-1-.2-1.1.3-1 .5-1.1.3-1 .2-1 .1-1.1.5-.1.1-.9.7-1.1.1-1 .8-.4 1-.6 1.4-.7 1.3zM83.8 14.4l.4-.3 .6-.3 1-.5 1.1.3 .9.5 .1.1 1.1.3 1-.1 1-.1 1.1.4 1 .6 1-.1 1.1-.7 .8-.4 .2-.1 .3.1 .8.3 1 .2 .9-.5 .1-.1 1.1-1.5 .5-1 .5-2.5 .1-.2 .4-2.6-.5 0-1 0-1.1 0-1 0-1 0-1.1 0-1 0-1.1 0-1 0-1 0-1.1 0-1 0-1 0-1.1 0-1 0-1.1 0-1 0-1 0-1.1 0-1 2.6-1.1 0 0 0 0 .2 1 2.5 .1.2 1 2.2 .3.2z" clip-path="url(#f_p6dbd4a64b3)" style="fill: #eae51a; stroke: #eae51a; stroke-width: 0.6"/>
</g>
<g id="f_matplotlib.axis_1">
<g id="f_xtick_1">
<g id="f_line2d_1">
<defs>
<path id="f_mecee5effe9" d="M0 0l0 2" style="stroke: #000000; stroke-width: 0.5"/>
</defs>
<g>
<use href="#f_mecee5effe9" x="50.6" y="165.6" style="stroke: #000000; stroke-width: 0.5"/>
</g>
</g>
<g id="f_text_1">
<text style="font-size: 4.2px; font-family: 'DejaVu Sans', sans-serif; text-anchor: middle" x="50.6" y="172.3" transform="rotate(-0 50.6 172.3)">−1.0</text>
</g>
</g>
<g id="f_xtick_2">
<g id="f_line2d_2">
<g>
<use href="#f_mecee5effe9" x="71.4" y="165.6" style="stroke: #000000; stroke-width: 0.5"/>
</g>
</g>
<g id="f_text_2">
<text style="font-size: 4.2px; font-family: 'DejaVu Sans', sans-serif; text-anchor: middle" x="71.4" y="172.3" transform="rotate(-0 71.4 172.3)">−0.5</text>
</g>
</g>
<g id="f_xtick_3">
<g id="f_line2d_3">
<g>
<use href="#f_mecee5effe9" x="92.2" y="165.6" style="stroke: #000000; stroke-width: 0.5"/>
</g>
</g>
<g id="f_text_3">
<text style="font-size: 4.2px; font-family: 'DejaVu Sans', sans-serif; text-anchor: middle" x="92.2" y="172.3" transform="rotate(-0 92.2 172.3)">0.0</text>
</g>
</g>
<g id="f_xtick_4">
<g id="f_line2d_4">
<g>
<use href="#f_mecee5effe9" x="112.9" y="165.6" style="stroke: #000000; stroke-width: 0.5"/>
</g>
</g>
<g id="f_text_4">
<text style="font-size: 4.2px; font-family: 'DejaVu Sans', sans-serif; text-anchor: middle" x="112.9" y="172.3" transform="rotate(-0 112.9 172.3)">0.5</text>
</g>
</g>
<g id="f_xtick_5">
<g id="f_line2d_5">
<g>
<use href="#f_mecee5effe9" x="133.7" y="165.6" style="stroke: #000000; stroke-width: 0.5"/>
</g>
</g>
<g id="f_text_5">
<text style="font-size: 4.2px; font-family: 'DejaVu Sans', sans-serif; text-anchor: middle" x="133.7" y="172.3" transform="rotate(-0 133.7 172.3)">1.0</text>
</g>
</g>
<g id="f_xtick_6">
<g id="f_line2d_6">
<g>
<use href="#f_mecee5effe9" x="154.5" y="165.6" style="stroke: #000000; stroke-width: 0.5"/>
</g>
</g>
<g id="f_text_6">
<text style="font-size: 4.2px; font-family: 'DejaVu Sans', sans-serif; text-anchor: middle" x="154.5" y="172.3" transform="rotate(-0 154.5 172.3)">1.5</text>
</g>
</g>
<g id="f_xtick_7">
<g id="f_line2d_7">
<g>
<use href="#f_mecee5effe9" x="175.3" y="165.6" style="stroke: #000000; stroke-width: 0.5"/>
</g>
</g>
<g id="f_text_7">
<text style="font-size: 4.2px; font-family: 'DejaVu Sans', sans-serif; text-anchor: middle" x="175.3" y="172.3" transform="rotate(-0 175.3 172.3)">2.0</text>
</g>
</g>
<g id="f_text_8">
<!-- $v_1$ -->
<g transform="translate(110.7 178)">
<text>
<tspan x="0" y="-0.3" style="font-style: oblique; font-size: 5px; font-family: 'DejaVu Sans', sans-serif">v</tspan>
<tspan x="3" y="0.6" style="font-size: 3.5px; font-family: 'DejaVu Sans', sans-serif">1</tspan>
</text>
</g>
</g>
</g>
<g id="f_matplotlib.axis_2">
<g id="f_ytick_1">
<g id="f_line2d_8">
<defs>
<path id="f_m4bf4405aed" d="M0 0l-2 0" style="stroke: #000000; stroke-width: 0.5"/>
</defs>
<g>
<use href="#f_m4bf4405aed" x="50.5" y="153.2" style="stroke: #000000; stroke-width: 0.5"/>
</g>
</g>
<g id="f_text_9">
<text style="font-size: 4.2px; font-family: 'DejaVu Sans', sans-serif; text-anchor: end" x="47" y="154.8" transform="rotate(-0 47 154.8)">−0.4</text>
</g>
</g>
<g id="f_ytick_2">
<g id="f_line2d_9">
<g>
<use href="#f_m4bf4405aed" x="50.5" y="131.9" style="stroke: #000000; stroke-width: 0.5"/>
</g>
</g>
<g id="f_text_10">
<text style="font-size: 4.2px; font-family: 'DejaVu Sans', sans-serif; text-anchor: end" x="47" y="133.5" transform="rotate(-0 47 133.5)">−0.2</text>
</g>
</g>
<g id="f_ytick_3">
<g id="f_line2d_10">
<g>
<use href="#f_m4bf4405aed" x="50.5" y="110.6" style="stroke: #000000; stroke-width: 0.5"/>
</g>
</g>
<g id="f_text_11">
<text style="font-size: 4.2px; font-family: 'DejaVu Sans', sans-serif; text-anchor: end" x="47" y="112.2" transform="rotate(-0 47 112.2)">0.0</text>
</g>
</g>
<g id="f_ytick_4">
<g id="f_line2d_11">
<g>
<use href="#f_m4bf4405aed" x="50.5" y="89.4" style="stroke: #000000; stroke-width: 0.5"/>
</g>
</g>
<g id="f_text_12">
<text style="font-size: 4.2px; font-family: 'DejaVu Sans', sans-serif; text-anchor: end" x="47" y="91" transform="rotate(-0 47 91)">0.2</text>
</g>
</g>
<g id="f_ytick_5">
<g id="f_line2d_12">
<g>
<use href="#f_m4bf4405aed" x="50.5" y="68.1" style="stroke: #000000; stroke-width: 0.5"/>
</g>
</g>
<g id="f_text_13">
<text style="font-size: 4.2px; font-family: 'DejaVu Sans', sans-serif; text-anchor: end" x="47" y="69.7" transform="rotate(-0 47 69.7)">0.4</text>
</g>
</g>
<g id="f_ytick_6">
<g id="f_line2d_13">
<g>
<use href="#f_m4bf4405aed" x="50.5" y="46.9" style="stroke: #000000; stroke-width: 0.5"/>
</g>
</g>
<g id="f_text_14">
<text style="font-size: 4.2px; font-family: 'DejaVu Sans', sans-serif; text-anchor: end" x="47" y="48.5" transform="rotate(-0 47 48.5)">0.6</text>
</g>
</g>
<g id="f_ytick_7">
<g id="f_line2d_14">
<g>
<use href="#f_m4bf4405aed" x="50.5" y="25.6" style="stroke: #000000; stroke-width: 0.5"/>
</g>
</g>
<g id="f_text_15">
<text style="font-size: 4.2px; font-family: 'DejaVu Sans', sans-serif; text-anchor: end" x="47" y="27.2" transform="rotate(-0 47 27.2)">0.8</text>
</g>
</g>
<g id="f_ytick_8">
<g id="f_line2d_15">
<g>
<use href="#f_m4bf4405aed" x="50.5" y="4.4" style="stroke: #000000; stroke-width: 0.5"/>
</g>
</g>
<g id="f_text_16">
<text style="font-size: 4.2px; font-family: 'DejaVu Sans', sans-serif; text-anchor: end" x="47" y="6" transform="rotate(-0 47 6)">1.0</text>
</g>
</g>
<g id="f_text_17">
<!-- $v_2$ -->
<g transform="translate(34.8 86.7) rotate(-90)">
<text>
<tspan x="0" y="-0.3" style="font-style: oblique; font-size: 5px; font-family: 'DejaVu Sans', sans-serif">v</tspan>
<tspan x="3" y="0.6" style="font-size: 3.5px; font-family: 'DejaVu Sans', sans-serif">2</tspan>
</text>
</g>
</g>
</g>
<g id="f_patch_3">
<path d="M50.5 165.6l0-163.2" style="fill: none; stroke: #000000; stroke-width: 0.5; stroke-linejoin: miter; stroke-linecap: square"/>
</g>
<g id="f_patch_4">
<path d="M176.2 165.6l0-163.2" style="fill: none; stroke: #000000; stroke-width: 0.5; stroke-linejoin: miter; stroke-linecap: square"/>
</g>
<g id="f_patch_5">
<path d="M50.5 165.6l125.7 0" style="fill: none; stroke: #000000; stroke-width: 0.5; stroke-linejoin: miter; stroke-linecap: square"/>
</g>
<g id="f_patch_6">
<path d="M50.5 2.4l125.7 0" style="fill: none; stroke: #000000; stroke-width: 0.5; stroke-linejoin: miter; stroke-linecap: square"/>
</g>
</g>
<g id="f_axes_2">
<g id="f_patch_7">
<path d="M183.5 166l7.5 0 0-163.5-7.5 0 0 163.5z" style="fill: none"/>
</g>
<g id="f_QuadMesh_1">
<path d="M183.5 166l7.5 0 0-10.9-7.5 0 0 10.9" clip-path="url(#f_pdd5a7afe77)" style="fill: #470d60; stroke: #470d60; stroke-width: 0.6"/>
<path d="M183.5 155.1l7.5 0 0-10.9-7.5 0 0 10.9" clip-path="url(#f_pdd5a7afe77)" style="fill: #482475; stroke: #482475; stroke-width: 0.6"/>
<path d="M183.5 144.2l7.5 0 0-10.9-7.5 0 0 10.9" clip-path="url(#f_pdd5a7afe77)" style="fill: #443983; stroke: #443983; stroke-width: 0.6"/>
<path d="M183.5 133.3l7.5 0 0-10.9-7.5 0 0 10.9" clip-path="url(#f_pdd5a7afe77)" style="fill: #3d4d8a; stroke: #3d4d8a; stroke-width: 0.6"/>
<path d="M183.5 122.4l7.5 0 0-10.9-7.5 0 0 10.9" clip-path="url(#f_pdd5a7afe77)" style="fill: #355f8d; stroke: #355f8d; stroke-width: 0.6"/>
<path d="M183.5 111.5l7.5 0 0-10.9-7.5 0 0 10.9" clip-path="url(#f_pdd5a7afe77)" style="fill: #2d708e; stroke: #2d708e; stroke-width: 0.6"/>
<path d="M183.5 100.6l7.5 0 0-10.9-7.5 0 0 10.9" clip-path="url(#f_pdd5a7afe77)" style="fill: #27808e; stroke: #27808e; stroke-width: 0.6"/>
<path d="M183.5 89.7l7.5 0 0-10.9-7.5 0 0 10.9" clip-path="url(#f_pdd5a7afe77)" style="fill: #21918c; stroke: #21918c; stroke-width: 0.6"/>
<path d="M183.5 78.8l7.5 0 0-10.9-7.5 0 0 10.9" clip-path="url(#f_pdd5a7afe77)" style="fill: #1fa188; stroke: #1fa188; stroke-width: 0.6"/>
<path d="M183.5 67.9l7.5 0 0-10.9-7.5 0 0 10.9" clip-path="url(#f_pdd5a7afe77)" style="fill: #2ab07f; stroke: #2ab07f; stroke-width: 0.6"/>
<path d="M183.5 57l7.5 0 0-10.9-7.5 0 0 10.9" clip-path="url(#f_pdd5a7afe77)" style="fill: #44bf70; stroke: #44bf70; stroke-width: 0.6"/>
<path d="M183.5 46.1l7.5 0 0-10.9-7.5 0 0 10.9" clip-path="url(#f_pdd5a7afe77)" style="fill: #67cc5c; stroke: #67cc5c; stroke-width: 0.6"/>
<path d="M183.5 35.2l7.5 0 0-10.9-7.5 0 0 10.9" clip-path="url(#f_pdd5a7afe77)" style="fill: #90d743; stroke: #90d743; stroke-width: 0.6"/>
<path d="M183.5 24.3l7.5 0 0-10.9-7.5 0 0 10.9" clip-path="url(#f_pdd5a7afe77)" style="fill: #bddf26; stroke: #bddf26; stroke-width: 0.6"/>
<path d="M183.5 13.4l7.5 0 0-10.9-7.5 0 0 10.9" clip-path="url(#f_pdd5a7afe77)" style="fill: #eae51a; stroke: #eae51a; stroke-width: 0.6"/>
</g>
<g id="f_matplotlib.axis_3"/>
<g id="f_matplotlib.axis_4">
<g id="f_ytick_9">
<g id="f_line2d_16">
<defs>
<path id="f_mb0d4df9f9d" d="M0 0l2 0" style="stroke: #000000; stroke-width: 0.5"/>
</defs>
<g>
<use href="#f_mb0d4df9f9d" x="191" y="166" style="stroke: #000000; stroke-width: 0.5"/>
</g>
</g>
<g id="f_text_18">
<text style="font-size: 4.2px; font-family: 'DejaVu Sans', sans-serif; text-anchor: start" x="194.5" y="167.6" transform="rotate(-0 194.5 167.6)">0.56</text>
</g>
</g>
<g id="f_ytick_10">
<g id="f_line2d_17">
<g>
<use href="#f_mb0d4df9f9d" x="191" y="144.2" style="stroke: #000000; stroke-width: 0.5"/>
</g>
</g>
<g id="f_text_19">
<text style="font-size: 4.2px; font-family: 'DejaVu Sans', sans-serif; text-anchor: start" x="194.5" y="145.8" transform="rotate(-0 194.5 145.8)">0.64</text>
</g>
</g>
<g id="f_ytick_11">
<g id="f_line2d_18">
<g>
<use href="#f_mb0d4df9f9d" x="191" y="122.4" style="stroke: #000000; stroke-width: 0.5"/>
</g>
</g>
<g id="f_text_20">
<text style="font-size: 4.2px; font-family: 'DejaVu Sans', sans-serif; text-anchor: start" x="194.5" y="124" transform="rotate(-0 194.5 124)">0.72</text>
</g>
</g>
<g id="f_ytick_12">
<g id="f_line2d_19">
<g>
<use href="#f_mb0d4df9f9d" x="191" y="100.6" style="stroke: #000000; stroke-width: 0.5"/>
</g>
</g>
<g id="f_text_21">
<text style="font-size: 4.2px; font-family: 'DejaVu Sans', sans-serif; text-anchor: start" x="194.5" y="102.2" transform="rotate(-0 194.5 102.2)">0.80</text>
</g>
</g>
<g id="f_ytick_13">
<g id="f_line2d_20">
<g>
<use href="#f_mb0d4df9f9d" x="191" y="78.8" style="stroke: #000000; stroke-width: 0.5"/>
</g>
</g>
<g id="f_text_22">
<text style="font-size: 4.2px; font-family: 'DejaVu Sans', sans-serif; text-anchor: start" x="194.5" y="80.4" transform="rotate(-0 194.5 80.4)">0.88</text>
</g>
</g>
<g id="f_ytick_14">
<g id="f_line2d_21">
<g>
<use href="#f_mb0d4df9f9d" x="191" y="57" style="stroke: #000000; stroke-width: 0.5"/>
</g>
</g>
<g id="f_text_23">
<text style="font-size: 4.2px; font-family: 'DejaVu Sans', sans-serif; text-anchor: start" x="194.5" y="58.6" transform="rotate(-0 194.5 58.6)">0.96</text>
</g>
</g>
<g id="f_ytick_15">
<g id="f_line2d_22">
<g>
<use href="#f_mb0d4df9f9d" x="191" y="35.2" style="stroke: #000000; stroke-width: 0.5"/>
</g>
</g>
<g id="f_text_24">
<text style="font-size: 4.2px; font-family: 'DejaVu Sans', sans-serif; text-anchor: start" x="194.5" y="36.8" transform="rotate(-0 194.5 36.8)">1.04</text>
</g>
</g>
<g id="f_ytick_16">
<g id="f_line2d_23">
<g>
<use href="#f_mb0d4df9f9d" x="191" y="13.4" style="stroke: #000000; stroke-width: 0.5"/>
</g>
</g>
<g id="f_text_25">
<text style="font-size: 4.2px; font-family: 'DejaVu Sans', sans-serif; text-anchor: start" x="194.5" y="15" transform="rotate(-0 194.5 15)">1.12</text>
</g>
</g>
</g>
<g id="f_LineCollection_1"/>
<g id="f_patch_8">
<path d="M183.5 166l3.7 0 3.8 0 0-163.5-3.8 0-3.7 0 0 163.5z" style="fill: none; stroke: #000000; stroke-width: 0.5; stroke-linejoin: miter; stroke-linecap: square"/>
</g>
</g>
</g>
<defs>
<clipPath id="f_p6dbd4a64b3">
<rect x="50.5" y="2.4" width="125.7" height="163.2"/>
</clipPath>
<clipPath id="f_pdd5a7afe77">
<rect x="183.5" y="2.5" width="7.5" height="163.4"/>
</clipPath>
</defs>
</svg>
<div class="cap" style="left:105.6px;top:284.4px">(a) Circle data</div>
<div class="cap" style="left:481.6px;top:283.5px">(b) Banana data</div>
<div class="cap" style="left:1.4px;top:570.8px">(c) surface graph of the scores of the Circle data</div>
<div class="cap" style="left:376.7px;top:571.1px">(d) surface graph of the scores of the Banana data</div>
<div class="cap" style="left:9.3px;top:865.5px">(e) curve lines of the scores of the Circle data</div>
<div class="cap" style="left:385.8px;top:865.5px">(f) curve lines of the scores of the Banana data</div>
</div></body></html>
